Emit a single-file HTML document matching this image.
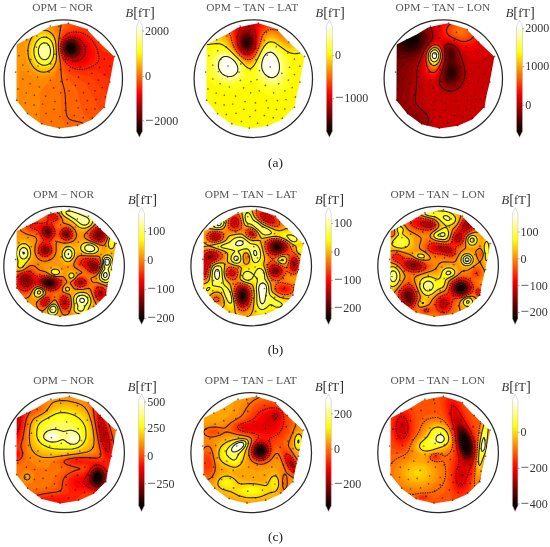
<!DOCTYPE html>
<html><head><meta charset="utf-8"><style>
html,body{margin:0;padding:0;background:#fff;}
svg{display:block;}
.tk{font-family:"Liberation Serif",serif;font-size:12px;fill:#333;}
.bl{font-family:"Liberation Serif",serif;font-size:12.5px;fill:#333;}
.ti{font-family:"Liberation Serif",serif;font-size:11.4px;fill:#555;}
.mn{font-size:15px;}
.br{font-size:14.5px;}
.cap{font-family:"Liberation Serif",serif;font-size:13.5px;fill:#222;}
</style></head><body>
<svg width="550" height="547" viewBox="0 0 550 547">
<defs><filter id="bl" x="-5%" y="-5%" width="110%" height="110%" color-interpolation-filters="sRGB"><feGaussianBlur stdDeviation="0.6"/></filter></defs>
<rect width="550" height="547" fill="#fff"/>
<clipPath id="h0"><polygon points="16.7,44.5 26.4,39.6 36.6,34.5 48.1,27.5 58.9,24.9 68.3,23.3 86.2,28.8 98.8,42 114.4,56.8 109.5,83.2 106.2,97.1 104.6,107 92.2,119.4 77.9,125.8 59.5,128.6 41.5,124.2 27.3,113.8 16.4,100.2"/></clipPath><g clip-path="url(#h0)"><g filter="url(#bl)"><rect x="13.4" y="20.3" width="104" height="111.3" fill="#120000"/><path fill-rule="evenodd" fill="#220000" d="M117.4 131.8l-104 0 0-111.5 104 0zM71.7 52.3l1.7-.9.9-1.1.4-1.5 0-1.5-.7-1.5-1.1-1.2-1.5-.7-1.5 0-1.5.7-1 1.2-.5 1.5 0 1.5.6 1.5 1.4 1.5 1.5.6z"/><path fill-rule="evenodd" fill="#350000" d="M117.4 131.8l-104 0 0-111.5 104 0zM72.6 52.8l1.5-1 1-1.5.4-1.5-.2-2-.9-1.7-1.5-1.3-1.5-.6-2 .2-1.5.8-1.1 1.6-.5 2 .3 2 .8 1.5 1.5 1.2 2 .6z"/><path fill-rule="evenodd" fill="#440000" d="M117.4 131.8l-104 0 0-111.5 104 0zM73.3 53.3l1.6-1.3 1-1.7.3-2-.4-2-1.2-2-1.7-1.3-2-.4-2 .3-1.5 1-1.2 1.9-.4 2 .5 2.5 1.1 1.8 2 1.4 2 .3z"/><path fill-rule="evenodd" fill="#540000" d="M117.4 131.8l-104 0 0-111.5 104 0zM72.5 54.3l2.1-1 1.7-2 .6-2-.2-2.5-.9-2-1.9-1.9-2-.8-2.5 0-2 1.1-1.5 2.1-.5 2 .2 2.5.9 2 1.9 1.8 2 .8z"/><path fill-rule="evenodd" fill="#660000" d="M117.4 131.8l-104 0 0-111.5 104 0zM73.3 54.8l2.5-1.5 1.3-2 .5-2.5-.3-2.5-1.4-2.5-2-1.6-2.5-.8-2.5.3-2 1.3-1.5 2.2-.5 2.6.4 2.5 1.1 2.2 2 1.8 2.5.8z"/><path fill-rule="evenodd" fill="#760000" d="M117.4 131.8l-104 0 0-111.5 104 0zM74.1 55.3l2.3-1.5 1.6-2.5.4-2.5-.6-3-1.5-2.5-2.4-1.8-2.5-.7-2.5.3-2.5 1.7-1.3 2-.6 3 .5 3 1.4 2.5 2.5 1.9 2.5.6z"/><path fill-rule="evenodd" fill="#890000" d="M117.4 131.8l-104 0 0-111.5 104 0zM73.4 56.3l3-1.4 1.8-2.1 1-3-.3-3-1.3-3-2.2-2.2-3-1.3-3 .1-2.5 1.2-2 2.6-.8 3.1.3 3 1.4 3 2.1 2 2.5 1z"/><path fill-rule="evenodd" fill="#980000" d="M117.4 131.8l-104 0 0-111.5 104 0zM74.6 56.8l2.7-1.5 1.9-2.5.9-3-.4-3.5-1.6-3-2.7-2.5-3-1.1-2 0-1.5.3-2.5 1.4-1.2 1.4-.8 1.5-.7 3.5.6 3.5 1.6 2.9 2.5 2 3 .9z"/><path fill-rule="evenodd" fill="#a80000" d="M117.4 131.8l-104 0 0-111.5 104 0zM74.2 57.8l3.2-1.3 1.4-1.2 1.1-1.5 1.1-3.5-.3-3.5-1.6-3.5-2.7-2.7-3.5-1.4-3.5 0-3 1.5-2.1 2.6-1 3.5.4 4 1.7 3.5 2.5 2.3 3 1.2z"/><path fill-rule="evenodd" fill="#ba0000" d="M117.4 131.8l-104 0 0-111.5 104 0zM76.1 58.3l1.8-.8 1.5-1.1 1.3-1.6.8-1.5.6-2 .1-2-.9-4-2.3-3.5-3.1-2.3-2-.8-2-.3-3.5.5-1.5.8-1.5 1.3-1 1.3-1 2-.5 4 .8 4 2.2 3.4 3 2.2 3.5.9z"/><path fill-rule="evenodd" fill="#ca0000" d="M117.4 131.8l-104 0 0-111.5 104 0zM76.8 59.3l2.1-.9 1.5-1.1 2.2-3 .7-2 .2-2-.2-2.5-.6-2-1-2-1.4-2-3.4-2.7-2-.9-2.5-.5-2 .1-2 .5-3.1 2-1.2 1.5-.9 2-.6 2-.1 2.5.9 4.3 1 2 1.3 1.7 3.2 2.3 4 1.1z"/><path fill-rule="evenodd" fill="#dd0000" d="M117.4 131.8l-104 0 0-111.5 104 0zM75.8 60.8l2.4-.5 2.2-1 1.9-1.5 1.2-1.5 1-2 .5-2 .1-2.5-.5-2.5-.9-2.5-1.2-2-1.7-2-1.9-1.6-2-1.1-2.5-.9-2.5-.2-2.5.3-2 .8-1.5.9-1.5 1.6-1.1 1.7-.8 2-.4 2.5.4 4.5 1.9 4.2 3 3.1 2 1.1 2 .8z"/><path fill-rule="evenodd" fill="#ec0000" d="M117.4 131.8l-104 0 0-111.5 104 0zM78.9 61.8l2.5-1 2-1.4 1.5-1.6 1.1-2 .8-2.5.1-2.5-.4-3-.8-2.5-1.5-2.5-1.6-2-2.2-1.9-2.5-1.5-2.5-.9-2.5-.3-2.5.1-2.5.8-2 1.2-1.5 1.4-1.4 2.1-.8 2-.4 2.5-.1 2.5.4 2.5.8 2.5 2.5 3.9 2 1.8 2 1.2 4.5 1.4 2.5.1z"/><path fill-rule="evenodd" fill="#fc0000" d="M117.4 131.8l-104 0 0-111.5 104 0zM78.2 63.8l2.7-.5 2.5-1.1 2.4-1.9 1.5-2 1.2-2.5.6-3-.1-3-.7-3-1.3-3-1.8-2.5-2.3-2.3-2.5-1.7-3-1.3-3-.7-3 0-2.5.6-2 .9-2 1.5-1.5 1.8-1.1 2.2-.8 2.5-.2 2.5.2 3 .6 2.5 1 2.5 1.3 2.1 1.5 1.8 2 1.7 2.5 1.5 2.5.9 2.5.5z"/><path fill-rule="evenodd" fill="#ff1000" d="M117.4 131.8l-104 0 0-111.5 104 0zM79.3 65.8l3.1-.6 3-1.3 2.5-1.9 1.8-2.2 1.4-3 .6-3 0-3-.8-3.5-1.2-3-1.9-3-2.4-2.5-3-2.2-3-1.4-3.5-.9-3.5-.1-3 .5-2.5 1.1-2 1.5-1.7 2-1.3 2.5-.7 2.5-.3 3 .2 3 .7 3 1.1 2.8 1.5 2.5 2 2.3 2 1.6 2.5 1.6 3 1.1 2.5.5z"/><path fill-rule="evenodd" fill="#ff1f00" d="M117.4 131.8l-104 0 0-111.5 104 0zM83.2 67.8l3.7-1.2 3.2-1.8 2.7-2.5 1.6-2.5.9-3 .1-3.5-.7-4-1.2-3.5-1.9-3.5-2.7-3.4-3-2.6-3-1.7-3.5-1.2-4-.6-3.5.2-3.5 1-2.5 1.4-2 1.9-1.7 2.5-1.1 3-.6 3 0 3.5.7 3.5 1.2 3.5 1.5 2.8 2 2.7 2.5 2.4 3 1.9 3 1.3 3 .7 3 .1z"/><path fill-rule="evenodd" fill="#ff3200" d="M117.4 131.8l-104 0 0-111.5 104 0 0 36.4-2-1.4-2-.9-7.5-1.9-2.5-1.2-2.5-2.3-6.1-8.2-4.3-4.5-5.1-3.3-2.5-1.1-3-.7-4-.2-4 .5-3.5 1.1-3 1.9-2.2 2.3-1.8 3.3-1 3.2-.4 4 .2 3 .7 3.4 1 3 1.5 3.1 2 3.1 2 2.4 2.5 2.2 2.5 1.5 4 1.5 4.5.6 4-.2 8.5-1.1 3 .2 3 1.4 6.5 5.4 2 1.1 2 .6 2 .1 2-.3 3.5-1.8z"/><path fill-rule="evenodd" fill="#ff4100" d="M117.4 131.8l-104 0 0-111.5 104 0 0 12.5-4.9 3-5.1 1.8-2.5.3-2-.1-3.5-1.2-9-5.3-5-2-5.5-1-3 0-3 .5-3 .9-3 1.4-2.5 1.8-2 2.1-1.5 2.3-1.3 3-.8 3.5-.2 3.5.7 6 2.1 6.3 3 5.8 3.5 4.1 3 2.2 3.5 1.6 4 1.1 7.5 1.5 4 1.7 3 2.6 6 7.2 3.5 3.4 3.5 2.8 10.5 6.9z"/><path fill-rule="evenodd" fill="#ff5100" d="M104.9 131.8l-91.5 0 0-111.5 86.3 0-2.3 2.3-2.5 1.1-3.5.3-9-.2-4 .4-5.5 1.5-5 2.7-4 3.7-2.8 4.7-1.6 5.5-.3 6 .6 5 1.6 6 2.5 6.9 2.5 4.5 2 2.3 3 2.4 9.3 4.9 3.2 2.1 3 3.3 2.9 4.6 8.7 16.5 4.8 11.5 1.2 3.5.6 3.5.2 3.5z"/><path fill-rule="evenodd" fill="#ff6400" d="M91.9 131.8l-78.5 0 0-111.5 57.6 0-3.6 3.1-2.5 2.8-2 3.2-2 4.7-1.4 5.2-.7 5 0 5 .7 5 3.3 15 1.6 4.6 3 4.5 7.2 7.9 2.8 5 1.7 5.5 2.4 12 1 3 2 3 6.9 6.4 1.9 3.1.5 2-.1 2-.8 2z"/><path fill-rule="evenodd" fill="#ff7300" d="M62.9 131.8l-49.5 0 0-111.5 46.6 0-.4 10.5-1.2 10.5-.2 5.5.3 4.5 1.8 13.5-.1 16 .8 15 .4 16.5.4 4 .6 3 2.6 6 .3 1.5-.6 2-1.5 3zM78.4 128.3l-2.5.1-2-.5-1.1-.6-.1-1 1.2-.8 1.5-.4 3.5.2 1 .5.5 1-.7 1z"/><path fill-rule="evenodd" fill="#ff8600" d="M39.9 131.8l-26.5 0 0-111.5 36.4 0 2.6 2.5 2.4 3 1.6 3.1.9 2.9.5 4.5 0 12 1.2 12.5-.5 6.5-1.6 5.6-2.5 4.5-3.5 3.8-7.4 6.1-1.5 2-1 2.5-.5 3-.3 4.5z"/><path fill-rule="evenodd" fill="#ff9500" d="M18.4 131.8l-5 0 0-111.5 5.6 0 .3 5 .6 3.4.9 2.1 1.1.8 2-.4 9.2-5.4 2.8-1 3-.7 3.5-.1 3 .4 3 1.1 3 1.9 2 1.9 1.4 2 1.7 4.5.4 3.5 1.1 18.5 0 3.5-.4 3-.8 3-1.3 3-1.6 2.3-2 2.1-2 1.4-2.5 1.3-4.5 1-5-.3-3-.8-3-1.3-8.5-5.1-1.6-.1-.8.5-.6 1-1 4-.5 6.5-.1 49z"/><path fill-rule="evenodd" fill="#ffa500" d="M43.9 74.8l-3.5-.3-3.5-1.2-3.2-2-2.9-3-2.4-3.5-1.7-4-1.2-4.5-.4-4.5.2-4.5 1-4.5 1.8-4.5 2.1-3.5 2.7-3 3-2.2 3.5-1.5 3.5-.5 3.5.4 3.5 1.5 2.7 2.3 2.1 3 .9 2.5.6 3.5 1.1 16-.1 3.5-.7 3.5-1.1 2.9-1.5 2.5-2 2.2-2.5 1.8-2.5 1.1z"/><path fill-rule="evenodd" fill="#ffb700" d="M44.9 72.3l-3.5-.2-3-1-2.9-1.8-2.5-2.5-2.1-3-1.5-3.5-1.1-4-.5-4 .2-4 .7-4 1.4-4 2-3.5 2.3-2.7 3-2.3 3-1.3 3-.5 3 .4 3 1.2 2.5 1.9 2 2.8 1 2.5.7 3 1 12 0 4-.4 3-.9 3-1.4 2.7-1.8 2.3-2.2 1.8-2.5 1.2z"/><path fill-rule="evenodd" fill="#ffc700" d="M45.4 70.3l-2.5.1-3-.8-3-1.7-2.2-2.1-2.1-3-1.4-3-1.1-3.5-.4-4 .1-4 .7-3.5 1.2-3.5 1.7-3 2-2.5 2.5-2 2.5-1.2 3-.6 3 .3 2.5.9 2.1 1.6 1.9 2.2 1.1 2.3.9 3 1 9 .1 4-.4 3.5-.7 2.9-1 2.3-1.5 2.3-2 1.9-2.5 1.5z"/><path fill-rule="evenodd" fill="#ffda00" d="M46.9 68.3l-2.5.5-2.5-.3-2.5-1-2.5-1.7-2-2.3-1.7-2.7-1.3-3.5-.7-3.5-.1-3.5.4-3.5 1-3.5 1.4-2.9 1.9-2.6 2.1-2 2.5-1.4 2.5-.7 2.5 0 2 .5 2 1.1 1.8 1.5 1.2 1.6 1.2 2.4 1.3 6 .4 8-.3 3-.8 3-1.2 2.5-1.6 2.2-2 1.7z"/><path fill-rule="evenodd" fill="#ffe900" d="M46.9 66.8l-2.5.4-2.5-.3-2.5-1.1-2-1.5-1.7-2-1.5-2.5-1.1-3-.6-3-.1-3 .3-3.5.8-3 1.4-3 1.8-2.5 2.2-1.9 2-1.1 2.5-.6 2 0 2 .6 2 1.1 1.5 1.3 1.4 2.1.9 2 1.2 5.5.2 7-.4 3-.8 2.5-1 2-1.5 2-2 1.6z"/><path fill-rule="evenodd" fill="#fff900" d="M44.9 65.8l-2.5-.2-2-.8-2-1.4-1.5-1.6-1.3-2-1.1-2.5-.7-2.5-.3-3 .6-5.5.9-2.5 1.4-2.5 1.5-1.8 2-1.6 2-1 2-.3 2 .1 2 .7 2 1.4 1.5 1.8 1.1 2.2.8 2.5.7 6-.4 5.5-.7 2.3-1.1 2.2-1.4 1.9-1.5 1.2-2 1z"/><path fill-rule="evenodd" fill="#ffff13" d="M45.9 64.4l-2 .1-2-.4-2-1.1-1.5-1.3-1.5-1.9-1.2-2.5-1.1-5 .4-5 .8-2.5 1.1-2.2 1.4-1.8 1.6-1.4 2-1.1 2-.4 2 .2 1.5.5 1.5.9 1.5 1.5 2 3.8.9 5-.1 5-1.4 4.5-2.4 3.3-1.5 1z"/><path fill-rule="evenodd" fill="#ffff2a" d="M46.4 62.9l-1.5.3-2-.2-2-.8-1.5-1.2-1.5-1.7-1.1-2-1.1-4.5.2-4.7 1.6-4.3 1.4-1.9 1.5-1.3 1.5-.9 2-.5 3 .5 1.5.8 1.3 1.3 1.8 3 1 4.5 0 5-1.1 3.8-2 2.9-1.5 1.2z"/><path fill-rule="evenodd" fill="#ffff46" d="M45.4 61.8l-3-.3-1.5-.8-1.5-1.4-2-3.5-.8-4 .6-4.5 1.6-3.5 2.6-2.4 1.5-.7 1.5-.2 1.5.2 1.5.6 2.2 2 1.7 3.5.6 4-.3 4-1.4 3.5-2.3 2.5z"/><path fill-rule="evenodd" fill="#ffff5e" d="M45.9 60.4l-1.5.2-1.5-.3-2.4-1.5-1.7-2.5-1.1-3.5.1-3.5 1.1-3.5 2-2.5 1.5-1 1.5-.4 2.5.3 2.2 1.6 1.5 2.5.9 3.5-.1 3.8-1 3.2-1.5 2.1z"/><path fill-rule="evenodd" fill="#ffff75" d="M45.9 58.9l-2.5.1-2-1.2-1.6-2-.9-3 0-3.5 1-2.8 1.8-2.2 2.2-1 2 .2 2 1.3 1.5 2.4.7 2.6 0 3-.7 2.5-1.5 2.4z"/><path fill-rule="evenodd" fill="#ffff91" d="M45.4 57.4l-2-.1-1.6-1-1.3-2-.5-2.5.2-2.5.7-2 1.5-1.7 2-.7 1.5.2 1.5 1.1 1 1.6.7 2.5-.1 2.5-.7 2-1.4 1.9z"/><path fill-rule="evenodd" fill="#ffffa8" d="M45.4 55.5l-1.5 0-1-.6-1-1.4-.5-1.7.2-2 .6-1.5 1-1 1.2-.5 1 .2 1 .6.8 1.2.5 1.5-.3 3-1 1.5z"/></g><path d="M117.4 131.8l-104 0 0-111.5 104 0zM73.4 53.8l1.5-1 1.4-2 .4-2-.4-2.5-1.1-2-1.8-1.5-2.5-.7-2 .4-1.9 1.3-1.1 1.8-.4 2.2.4 2.5 1.2 2 1.8 1.4 2 .5z" fill="none" stroke="#1c1c1c" stroke-width="1.05" stroke-dasharray="1.4 1"/><path d="M117.4 131.8l-104 0 0-111.5 104 0zM74.5 56.8l1.4-.6 1.4-.9 1-1 .9-1.5.8-3 0-1.5-.4-2-1.5-3-1.2-1.3-1.5-1.2-1.5-.7-1.5-.4-2 0-1.5.3-2.5 1.4-1.2 1.4-.8 1.5-.5 1.5-.2 2 .2 2 .4 1.5 1.6 2.9 1 1 1.5 1 1.5.6 1.5.3 1.5 0z" fill="none" stroke="#1c1c1c" stroke-width="1.05" stroke-dasharray="1.4 1"/><path d="M117.4 131.8l-104 0 0-111.5 104 0zM77.8 60.8l2.1-.8 2-1.3 1.8-1.9 1.1-2 .5-2 .2-2.5-.3-2.5-.9-2.5-1.1-2-1.8-2.3-1.9-1.7-2.1-1.2-2.5-1-2.5-.3-2.5.2-2 .6-2 1.2-1.5 1.5-1 1.6-.8 1.9-.5 2-.1 2.5.3 2.5.8 2.5 1 2 1.3 1.7 1.5 1.4 2 1.3 2 .9 2.5.5 2.5 0z" fill="none" stroke="#1c1c1c" stroke-width="1.05" stroke-dasharray="1.4 1"/><path d="M117.4 131.8l-104 0 0-111.5 104 0zM83.8 69.3l4.6-1.2 4.1-1.8 3.2-2 2.4-2.5.9-2.5.1-2.5-.8-4-1.5-4.5-2.3-4.5-2.8-4-3-3-3.6-2.5-4.2-1.7-4-.6-4 .1-4 1-2.5 1.4-2.5 2.1-1.5 2.2-1.3 3-.7 3.5-.1 3.5.6 3.9 1.2 3.6 1.8 3.6 2 2.7 2.5 2.5 2.5 1.9 3 1.4 3 .9 3.5.3z" fill="none" stroke="#1c1c1c" stroke-width="1.05" stroke-dasharray="1.4 1"/><path d="M77.9 131.8l-64.5 0 0-111.5 48.8 0-1.2 5-2.2 14-.4 4.5 0 4 .4 4.5 1.7 11 1 14 .7 4 2.1 8 .8 4.5 1.1 19 .4 2 .8 2 1 1.5 1.2 1 2.8 1.2 6 1.2 3 .9 2.1 1.2 1.5 1.5.3 1 0 1-.4 1-.8 1-2.7 1.6z" fill="none" stroke="#1c1c1c" stroke-width="1.05"/><path d="M46.9 71.8l-3 .5-3.5-.5-3-1.3-2.9-2.2-2.1-2.5-2.1-3.5-1.5-4-.7-4-.2-4.5.5-4 1.2-4 1.6-3.5 2.2-3 3-2.7 3-1.6 3-.8 2.5 0 2.5.6 2.5 1.2 2 1.7 1.5 1.9 1.1 2.2.9 3 .5 3.5.7 12-.3 3.5-.7 3-1.4 3-1.8 2.5-2.5 2.2z" fill="none" stroke="#1c1c1c" stroke-width="1.05"/><path d="M45.4 65.3l-2.5 0-2-.7-2-1.3-1.5-1.5-1.4-2-1.1-2.4-.7-2.6-.3-2.5 0-3 .5-2.5.8-2.5 1.3-2.5 1.6-2 1.8-1.4 2-1 2-.4 2 .2 2 .7 1.5 1 1.5 1.6 1.1 1.8.9 2.4.9 5.6 0 3-.4 3-.5 2-1 2.3-1.5 2-1.5 1.4-1.5.8z" fill="none" stroke="#1c1c1c" stroke-width="1.05"/><path d="M46.4 59.4l-1 .3-1.5 0-1.3-.4-1.2-.7-1-1-1-1.6-1-3.2 0-3.5 1-3 1-1.5 1-1 1-.6 1.5-.5 2 .2 1 .4 1.2 1 1.4 2 .9 3 .1 3-.6 3-1.5 2.6z" fill="none" stroke="#1c1c1c" stroke-width="1.05"/></g><path d="M68.5 23.1h.01M50.3 26.1h.01M60 30.1h.01M87.3 29.5h.01M36.9 36h.01M46.6 37.1h.01M60 38.1h.01M74.4 40.3h.01M48.2 45.1h.01M65.9 48.3h.01M36.4 47.2h.01M86.2 46.7h.01M55.1 54.2h.01M77.2 55.1h.01M65.9 59.6h.01M50.8 63.9h.01M38 66h.01M60.4 69.6h.01M69.5 70.6h.01M98.8 42h.01M22.9 79h.01M30.1 83.7h.01M39.4 87h.01M50.4 80.4h.01M61 81.5h.01M67 79.6h.01M18 88.9h.01M26.2 93h.01M34.3 95.2h.01M45.6 96.1h.01M53.6 87.8h.01M60.7 92.8h.01M69.2 90.8h.01M16.6 100.2h.01M25.4 102.9h.01M34.1 104.9h.01M42.7 104h.01M55 101.6h.01M65.4 102.9h.01M27.5 113.6h.01M36.3 114.4h.01M46 113.3h.01M53.9 109.3h.01M65.4 110.4h.01M59.9 116.6h.01M51.4 121.5h.01M41.8 123.7h.01M67.6 123.2h.01M59.3 128.1h.01M78.6 77.1h.01M91.8 73.3h.01M104.4 74.6h.01M75.4 85.4h.01M88.7 83.7h.01M98.4 80.1h.01M109.9 82.1h.01M102.2 87.5h.01M83.6 92.8h.01M94.9 90.8h.01M105.5 96.9h.01M76.4 100.7h.01M87.4 100.7h.01M96 99.6h.01M78.1 107.8h.01M86.5 109.5h.01M94.9 108.9h.01M104.4 107.3h.01M74.3 115.5h.01M83.2 117.7h.01M92.3 118.2h.01M77.5 125.4h.01M76.4 32.3h.01M97.8 53.1h.01M104.4 59.1h.01M109.9 66.2h.01M99.5 67.3h.01M114.6 56.4h.01M80.3 66.8h.01M26.6 39.7h.01M27.7 50.7h.01M18.9 55.6h.01M31 59.5h.01M22.8 65h.01M15.6 72.1h.01M28.3 71.5h.01M49.1 72.1h.01M37.6 77h.01M59 26.6h.01" stroke="#000" stroke-width="1.7" stroke-linecap="round" stroke-opacity=".55" fill="none"/><ellipse cx="63.3" cy="78.7" rx="59.2" ry="58.8" fill="none" stroke="#2a2a2a" stroke-width="1.25"/><linearGradient id="cg0" x1="0" y1="26" x2="0" y2="131.3" gradientUnits="userSpaceOnUse"><stop offset="0%" stop-color="#ffffff"/><stop offset="5%" stop-color="#ffffd0"/><stop offset="10%" stop-color="#ffff9d"/><stop offset="15%" stop-color="#ffff69"/><stop offset="20%" stop-color="#ffff36"/><stop offset="25%" stop-color="#ffff07"/><stop offset="30%" stop-color="#ffe100"/><stop offset="35%" stop-color="#ffbf00"/><stop offset="40%" stop-color="#ff9d00"/><stop offset="45%" stop-color="#ff7b00"/><stop offset="50%" stop-color="#ff5c00"/><stop offset="55%" stop-color="#ff3a00"/><stop offset="60%" stop-color="#ff1700"/><stop offset="65%" stop-color="#f40000"/><stop offset="70%" stop-color="#d20000"/><stop offset="75%" stop-color="#b30000"/><stop offset="80%" stop-color="#900000"/><stop offset="85%" stop-color="#6e0000"/><stop offset="90%" stop-color="#4c0000"/><stop offset="95%" stop-color="#2a0000"/><stop offset="100%" stop-color="#0b0000"/></linearGradient><path d="M136.4 26L139.4 20L142.4 26L142.4 131.3L139.4 137.3L136.4 131.3Z" fill="url(#cg0)" stroke="#bbb" stroke-width="0.5"/><path d="M142.4 31h1.6" stroke="#666" stroke-width="0.6"/><text x="145.1" y="34.7" class="tk">2000</text><path d="M142.4 76.6h1.6" stroke="#666" stroke-width="0.6"/><text x="145.1" y="80.3" class="tk">0</text><path d="M142.4 120.8h1.6" stroke="#666" stroke-width="0.6"/><text x="145.1" y="124.5" class="tk"><tspan class="mn">−</tspan><tspan dx="0.8">2000</tspan></text><text x="125.6" y="16.8" class="bl"><tspan font-style="italic">B</tspan><tspan class="br">[</tspan>fT<tspan class="br">]</tspan></text><text x="62.8" y="11.2" class="ti" text-anchor="middle">OPM − NOR</text><clipPath id="h1"><polygon points="206.7,44.5 216.4,39.6 226.6,34.5 238.1,27.5 248.9,24.9 258.3,23.3 276.2,28.8 288.8,42 304.4,56.8 299.5,83.2 296.2,97.1 294.6,107 282.2,119.4 267.9,125.8 249.5,128.6 231.5,124.2 217.3,113.8 206.4,100.2"/></clipPath><g clip-path="url(#h1)"><g filter="url(#bl)"><rect x="203.4" y="20.3" width="104" height="111.3" fill="#220000"/><path fill-rule="evenodd" fill="#350000" d="M307.9 131.8l-104.5 0 0-111.5 104.5 0zM247.1 44.3l.6-.5.3-1-.3-1-.8-.5-.7.5-.4 1 .3 1z"/><path fill-rule="evenodd" fill="#440000" d="M307.9 131.8l-104.5 0 0-111.5 104.5 0zM248 46.3l.9-.8.6-1.2.2-1.5-.2-1.5-1.1-2-1-.5-1 0-1 .6-1 1.4-.3 1.5.1 1.5.6 1.5 1.1 1 1 .3z"/><path fill-rule="evenodd" fill="#540000" d="M307.9 131.8l-104.5 0 0-111.5 104.5 0zM247.8 47.8l1.1-.6 1.1-1.4.6-2 .1-2-.5-2-.8-1.5-1-.8-1.5-.4-1.5.4-1.5 1.6-.8 2.2 0 2 .5 2 1.3 1.8 1.5.8z"/><path fill-rule="evenodd" fill="#660000" d="M307.9 131.8l-104.5 0 0-111.5 104.5 0zM248.1 48.8l1.5-1 1.3-2 .6-2.5 0-2.5-.6-2-1.3-2-1.7-1.1-1.5-.1-2 1.1-1.2 1.6-.9 2.5-.1 2.5.7 2.5 1.5 2.1 2 1z"/><path fill-rule="evenodd" fill="#760000" d="M307.9 131.8l-104.5 0 0-111.5 104.5 0zM247.9 49.8l2-1.1 1.3-1.9.9-2.5.2-3-.6-3-1.3-2.3-1.5-1.3-2-.5-2 .6-2 2-1.2 3-.3 3 .7 3 1.6 2.5 2.2 1.4z"/><path fill-rule="evenodd" fill="#890000" d="M307.9 131.8l-104.5 0 0-111.5 104.5 0zM248.9 50.3l1.9-1.5 1.4-2.5.7-3-.1-3.5-.9-3.1-1.5-2.3-2-1.4-2-.2-2.5 1.3-2 2.6-1.1 3.6 0 3.5 1.1 3.2 2 2.5 2.5 1.2z"/><path fill-rule="evenodd" fill="#980000" d="M307.9 131.8l-104.5 0 0-111.5 104.5 0zM248.4 51.3l2.4-1.5 1.6-2.5 1-3.5.2-3.5-.8-3.5-1.4-2.9-2-1.9-2.5-.7-2.5.8-1.5 1.4-1 1.4-1.6 3.9-.3 4 .9 3.5 2 3.1 2.5 1.7 1.5.4z"/><path fill-rule="evenodd" fill="#a80000" d="M307.9 131.8l-104.5 0 0-111.5 104.5 0zM249.1 51.8l2.3-1.8 1.6-2.7 1.1-4 0-4-.9-4-1.8-3.2-2.5-2.1-2.5-.3-1.5.5-1.5 1-2.2 3.1-1.6 4.5-.1 4.5 1.2 4 2.2 3 1.5 1.1 1.5.6 1.5.2z"/><path fill-rule="evenodd" fill="#ba0000" d="M307.9 131.8l-104.5 0 0-111.5 104.5 0zM248.2 52.8l1.2-.4 1.5-1 2.2-3.1 1.4-4 .3-4.5-.9-4.9-1.9-4.1-1.1-1.3-1.5-1.2-2.5-.6-1.5.3-1.5.9-1.5 1.5-1.3 1.9-1.9 5-.4 5 .8 4 2.3 3.7 3 2.3 1.5.5z"/><path fill-rule="evenodd" fill="#ca0000" d="M307.9 131.8l-104.5 0 0-111.5 104.5 0zM248.9 53.3l1.5-.7 1.4-1.3 2.1-3.4 1.3-4.6.1-4.5-.9-5.2-2-4.7-1-1.3-1.5-1.3-1.5-.7-1.5-.1-2 .5-1.5.9-2.5 3.4-1.3 3-.9 3-.5 3 0 3 1.1 4.5 1.1 2.1 1.5 1.9 1.7 1.5 1.8.9 2 .4z"/><path fill-rule="evenodd" fill="#dd0000" d="M307.9 131.8l-104.5 0 0-111.5 104.5 0zM249.4 53.8l1.5-.9 1.5-1.5 2.3-4.1 1.1-5 0-5.5-1.4-6.7-2-4.5-1-1.1-1.5-1-1.5-.5-2-.1-2 .6-1.5.9-1.5 1.8-1 1.9-1.4 3.7-1 4-.5 3.5.1 3 .4 2.5.9 2.5 1.5 2.5 1.5 1.8 2 1.5 2 .9 2 .2z"/><path fill-rule="evenodd" fill="#ec0000" d="M307.9 131.8l-104.5 0 0-111.5 104.5 0zM248.2 54.8l1.7-.5 1.5-1 1.5-1.6 1.4-2.4 1.8-5.5.4-6-1.2-10-1.4-4.4-1-1.2-1.5-1-2-.7-2.5-.2-2.5.4-2 .8-1.5 1.2-1 1.6-1 3.1-1.3 6.4-.7 7 .3 3 .7 2.5 2.5 4.3 2 2.1 2 1.3 2 .7z"/><path fill-rule="evenodd" fill="#fc0000" d="M307.9 131.8l-104.5 0 0-111.5 35.7 0-1.2 1.5-.5 2-1.1 15 .5 5.5 1.5 4 2.6 3.7 3.5 2.7 3 .8 1.5-.2 1.5-.6 2.5-2.2 2.2-3.7 1.4-4.5.7-6-.4-14.5-.4-2-1.2-1.5 52.7 0z"/><path fill-rule="evenodd" fill="#ff1000" d="M307.9 131.8l-104.5 0 0-111.5 31.1 0-.2 2 1.1 4.5.4 3-.1 11.5 1.1 5 2.1 3.9 2.7 3.1 3.3 2.2 3 .6 2.5-.7 2.1-1.6 2.1-3 1.7-4 1.3-6 .5-11.5 1.9-7-.1-2 48 0z"/><path fill-rule="evenodd" fill="#ff1f00" d="M307.9 131.8l-104.5 0 0-111.5 25 0 4 4.6 1.7 3.4.6 3.5.5 10.5.7 3 1.3 3 2.3 3.5 2.9 2.8 3 1.7 2.5.4 2-.4 2-1.2 2-2.3 1.5-2.5 1.4-3.5.9-3.5 1.3-11.5.8-3.5 2.1-3.7 4.5-4.3 41.5 0z"/><path fill-rule="evenodd" fill="#ff3200" d="M307.9 131.8l-104.5 0 0-110.9 13 .8 5.5.6 4.5 1.2 3.5 2 2.1 2.3 1.3 3 1.4 12 .8 3 1.4 3 2.4 3.5 3.1 2.9 3 1.7 2.5.5 2-.4 2-1.2 1.9-2 1.6-2.6 1.5-3.4 1.2-4 1.6-10.5.7-2.7 1.8-3.3 2.7-2.3 3-1.4 3.5-.6 4.5-.2 10 .9 4 .1 18-2.9z"/><path fill-rule="evenodd" fill="#ff4100" d="M307.9 131.8l-104.5 0 0-108.1 18 .9 4.5 1 3.5 1.9 1.7 1.8 1.2 2.5 1.8 11.5 1 3 1.5 3 2.6 3.5 3.2 3 3 1.7 2.5.5 2-.3 2-1.1 1.7-1.8 1.8-2.6 1.6-3.4 1.2-3.5 2.2-10.8.8-2.7 1.7-2.9 2.5-2.1 3.5-1.3 4.5-.4 4.5.3 8.5 1.3 4 .1 17.5-2.9z"/><path fill-rule="evenodd" fill="#ff5100" d="M307.9 131.8l-104.5 0 0-106.2 17.5.7 4.5 1 3 1.5 2 2 1 2 2.2 11 1.1 3 1.6 3 2.7 3.5 3.4 3.1 3 1.8 2.5.5 2-.3 2-1.1 2-2 1.5-2.2 1.7-3.3 1.5-4 3.3-12.8 1.7-2.7 2.3-1.9 3.5-1.2 4.5-.3 4.5.6 8.5 1.9 3 .2 3-.5 8.5-2.2 6.5-1z"/><path fill-rule="evenodd" fill="#ff6400" d="M307.9 131.8l-104.5 0 0-104.6 17 .6 4.5 1 2.9 1.5 1.6 1.6 1.1 1.9 2.6 10.5 1.2 3 1.8 3 2.8 3.5 3.5 3.2 3 1.8 2.5.6 2-.3 2-1 1.8-1.8 1.7-2.3 1.7-3.2 1.6-4 3.7-12.4 1.6-2.6 2.4-1.9 4-1.2 4.5 0 4.5 1 7.5 2.6 3 .3 2.5-.5 8.5-3.2 7-1.3z"/><path fill-rule="evenodd" fill="#ff7300" d="M307.9 131.8l-104.5 0 0-103.2 16.5.6 4 .8 3 1.5 1.5 1.4 1.2 1.9 3.2 10.5 1.5 3 1.9 3 3.2 3.7 3.5 3 3 1.6 2.5.5 2-.4 1.5-.8 1.7-1.6 1.8-2.4 3.3-6.6 4.2-12.6 1.5-2.5 2.5-2 2-.7 2-.4 4.5.3 4.4 1.4 7.1 3.5 3 .4 3-.8 8.2-4.1 6.8-1.6z"/><path fill-rule="evenodd" fill="#ff8600" d="M307.9 131.8l-104.5 0 0-101.7 16 .5 3.5.7 3 1.3 1.5 1.3 1.3 1.9 3.9 10.5 1.6 3 2.2 3 3.2 3.5 3.3 2.8 3 1.7 2.5.5 2-.3 1.5-.8 1.6-1.4 1.9-2.5 3.3-6.5 4.7-12.5 1.7-2.5 2.3-1.8 3.5-.9 4.5.5 4 1.5 6.5 3.9 2 .7 2 .2 3.5-.9 8.5-5 6-1.7z"/><path fill-rule="evenodd" fill="#ff9500" d="M307.9 131.8l-104.5 0 0-100.3 15.5.5 3.8.8 2.7 1.3 1.5 1.4 1 1.4 4.2 9.9 4.1 6 3.3 3.5 3.4 3 3 1.8 2.5.5 2-.3 1.5-.8 3-3.1 3.7-6.6 5.3-12.9 1.9-2.6 2.1-1.4 3.5-.8 4 .6 3 1.4 7 4.5 2 .7 2.5.3 2-.2 2-.7 8.5-5.4 5.5-1.9z"/><path fill-rule="evenodd" fill="#ffa500" d="M307.9 131.8l-104.5 0 0-98.8 14.5.4 4 .8 2.5 1.2 2.5 2.5 4.7 9.4 2.4 3.5 2.9 3.5 3.5 3.5 3.5 2.9 2.5 1.3 2.5.5 1.5-.3 1.5-.8 3-3 3.5-6.1 5.5-12.6 2-2.8 2-1.5 3-.8 3.5.5 3 1.3 8 5.2 2.5.8 2.5.2 2.1-.3 2.4-.9 8-5.2 5-2.1z"/><path fill-rule="evenodd" fill="#ffb700" d="M307.9 131.8l-104.5 0 0-97.2 14 .4 3.5.7 2.6 1.1 2.7 2.5 5.7 9.5 6 7.2 3.5 3.4 3 2.4 2.5 1.2 2 .4 1.5-.2 1.5-.8 3-3.1 3-5.1 6.5-13.6 2-2.5 2-1.4 3-.6 3 .6 3 1.5 7.5 5 3 1 2.5.3 2.5-.3 3-1.1 8-5.2 4-1.8z"/><path fill-rule="evenodd" fill="#ffc700" d="M307.9 131.8l-104.5 0 0-95.4 13.5.4 3.5.6 2.5 1.1 2.5 2.2 6.8 9.6 7.2 7.9 5.5 4.7 2 1.1 2 .4 1.5-.2 1.5-.7 2.5-2.4 3-4.9 7-14 2-2.6 2-1.4 2.5-.6 3 .5 3 1.5 8 5.3 3 1.1 3 .4 3-.4 3-1.1 8-5.1 3-1.5z"/><path fill-rule="evenodd" fill="#ffda00" d="M307.9 131.8l-104.5 0 0-93.2 13 .2 3.5.6 2.5 1.1 3 2.5 7.8 9.3 8.7 9 4 3.2 2 .9 1.5.2 2.5-.8 2.5-2.5 2.5-4.1 7.5-14.5 2-2.5 2.5-1.7 2.5-.4 2.5.6 2.5 1.3 8.5 5.7 3 1.2 3 .5 3.5-.3 3.5-1.2 10-5.9z"/><path fill-rule="evenodd" fill="#ffe900" d="M307.9 131.8l-104.5 0 0-90.3 13-.2 3.5.5 2.5 1.1 4.5 3.6 17 17.5 3 2.2 2.5.8 1 0 1.5-.7 2-2 2.5-4 7.5-14.5 2.5-3.2 2.5-1.6 2.5-.4 2.5.6 2.5 1.4 9 6.2 3.5 1.5 3 .6 3.5-.2 3.5-1.1 9-5z"/><path fill-rule="evenodd" fill="#fff900" d="M307.9 131.8l-104.5 0 0-85.4 13-2.2 3.5.2 3 1 3.5 2.2 4 3.5 15.5 15.9 2 1.4 2 .6 2-.7 2-2.2 10-19 2.5-3.1 2.5-1.6 2.5-.4 3 .9 3 1.9 9.5 7 3.5 1.9 3 1 3 .3 3-.5 4-1.4 4.5-2.3z"/><path fill-rule="evenodd" fill="#ffff13" d="M278.4 96.8l-3 .3-3.5-.5-3.5-1.1-3-1.5-5-3.6-7.5-7.9-2-1.3-1.5.4-5 4.2-3.5 2.2-3.5 1.5-3.5.9-4 .3-4.5-.3-4.5-1.2-4-1.9-4-2.9-3.4-3.6-2.3-3.5-1.9-4.5-1-5-.1-4.5.9-4.5 1.7-4 1.3-2 1.9-2 2.4-1.8 2.4-1.2 2.1-.7 2.5-.3 2.5.2 2 .6 4 2.4 5 4.2 6.8 7.1 8.2 9.9 1.5 1.3 1 .3 1.5-.9 1.5-2.3 8-17 2-3.5 2-2.8 2-1.8 2.5-1.1 2.5.2 3 1.3 3.3 2.4 5.1 4.5 3.6 3.5 2.5 3 1.2 2 1.2 3 .8 3.5.4 3.5-.1 5-.7 5-1.1 4-1.8 4-2.1 3-2.8 2.7-3 1.8z"/><path fill-rule="evenodd" fill="#ffff2a" d="M276.4 90.9l-3 .1-3.5-.7-3-1.3-3.5-2.3-3-2.7-2.6-3.2-2-3.5-.8-3 0-3.5 1-4 2.4-6.5 3-6.5 2.5-4.3 2-2.5 2-1.6 2-.6 2.5.2 3 1.4 3.5 2.7 3.7 3.7 2.4 3 1.8 3 1.3 3.5.7 3.5.4 4.5-.3 4.5-.8 4-1.5 4-1.8 3-2.4 2.4-3 1.9zM233.9 85.8l-3.5.5-3.5-.2-3-.6-3.5-1.4-3-1.8-2.5-2.1-2.5-2.9-1.7-3-1.3-3.5-.7-3.5-.1-3.5.6-3.5 1.2-3.5 1.9-3 2.1-2.2 2.8-1.8 2.7-.8 3 0 3 1 3.5 2.1 4.5 3.8 4.6 4.9 3.6 4.5 2.7 4.5.9 2.5.2 2.5-.4 2-1.2 2.5-1.9 2.2-2.5 1.9-3 1.5z"/><path fill-rule="evenodd" fill="#ffff46" d="M276.4 87.3l-3 .3-3-.5-3-1.2-3-1.8-2.6-2.3-2.4-3-1.7-3-.9-3-.1-3 .6-4 1.6-5 2.3-5.5 2.2-3.9 2-2.7 2-1.8 2.5-.9 2.5.3 2.2 1 2.8 2 3 3 2.3 3 1.6 3 1.2 3 .8 3.5.4 4-.1 4-.7 3.5-1.1 3.5-1.4 2.5-2 2.3-2.5 1.8zM233.4 83.4l-3 .4-3-.2-3-.6-3-1.2-2.5-1.5-2.5-2.1-2-2.4-1.7-3-1-3-.5-3 0-3.5.6-3 1.1-3 1.6-2.5 2-2 2.4-1.5 2.5-.7 2.5 0 3 1 3 1.7 3.5 2.9 4 4.1 3.1 4 2.3 4 .8 2.5.3 2-.4 2.5-1 2-1.5 2-2.1 1.7-2.5 1.4z"/><path fill-rule="evenodd" fill="#ffff5e" d="M275.4 84.8l-2.5.2-2.5-.4-3-1.1-2.5-1.6-2.5-2.3-2.2-2.8-1.3-2.6-.8-2.9-.2-3 .5-3.5 1.1-4 1.9-4.6 2-3.7 2-2.7 2-1.7 2-.8 2 0 2.5.9 2.5 1.8 2.3 2.3 2.3 3 1.6 3 1.2 3 .7 3.5.3 3.5-.1 3.5-.6 3.5-1.1 3-1.5 2.5-1.6 1.7-2 1.4zM230.9 81.8l-2.5.1-3-.5-2.5-.9-2.5-1.4-2.2-1.8-1.8-2-1.6-2.5-1-2.5-.6-2.5-.2-3 .3-3 .8-2.5 1.3-2.5 1.6-2 1.9-1.6 2-.9 2.5-.4 2.5.4 2.5 1 3 1.9 3.5 3.1 3.1 3.5 2.3 3.5 1.4 3 .6 2.5 0 2-.6 2-1.3 2.3-1.7 1.7-2.3 1.5-2.5 1z"/><path fill-rule="evenodd" fill="#ffff75" d="M273.9 82.8l-2.5 0-2.5-.7-2.5-1.3-2-1.5-2-2.1-1.6-2.4-1.1-2.5-.7-3 0-3 .6-3.5 1.3-4 1.5-3.3 1.6-2.7 1.9-2.3 2-1.5 2-.5 2 .2 2 .9 2.3 1.7 2.3 2.5 1.7 2.5 1.4 3 1.5 6 .2 3.5-.2 3-.7 3-1 2.5-1.3 2-1.7 1.7-2 1.2zM230.4 80.3l-2.5-.1-2.5-.5-2.5-.9-2-1.2-3.3-3.3-1.3-2-1.1-2.5-.5-2.5-.2-2.5.3-2.5.8-2.5 1-2 1.5-2 1.8-1.4 2-.9 2.5-.4 2.5.5 2.5 1.1 2.5 1.7 2.7 2.4 2.6 3 2.1 3 1.3 3 .5 2.5-.1 2-.7 2-1.3 2-1.6 1.5-2 1.2-2.5.9z"/><path fill-rule="evenodd" fill="#ffff91" d="M273.9 80.9l-2 .1-2.5-.5-2.5-1.2-2-1.5-1.9-2-1.3-2-1.1-2.5-.6-2.5-.1-2.5.4-3 .7-3 1.4-3.5 1.5-2.6 2-2.5 1.5-1.2 2-.8 2 .1 2 .8 2 1.5 1.6 1.7 1.8 2.5 1.3 2.5 1 3 .6 3 .3 3-.2 3-1.4 4.8-1.4 2.2-1.5 1.5-1.6 1zM231.4 78.8l-4.5-.1-4-1.5-3.6-2.9-1.4-2-1-2-1-4.5.6-4.5.8-2 1.4-2 1.5-1.5 1.8-1 2.1-.5 2.3.1 2 .7 2.5 1.3 2.5 2 2.5 2.7 2 2.7 1.3 2.5.6 2 .2 2-.3 2-.9 2-1.2 1.5-1.7 1.4-2 1z"/><path fill-rule="evenodd" fill="#ffffa8" d="M274.4 78.9l-2 .4-2-.2-2-.7-2-1.2-2-1.8-1.5-2-1.1-2.1-.8-2.5-.2-2.5.2-3 .7-3 1.2-2.9 1.5-2.7 1.5-1.8 1.5-1.2 2-.8 1.5.1 2 .7 3.1 2.6 2.9 4.5 1.5 5 .2 5.5-1.1 4.5-2.1 3.3-1.5 1.2zM231.9 77.4l-4 .2-4-1.3-3.3-2.5-2.4-3.5-1-4 0-2.5.5-2 1.8-3.5 1.4-1.4 1.5-.9 2-.6 2 0 2 .5 2 1 2.5 1.9 2 2 3 4.5.7 2 .3 2-.2 2-.5 1.5-1 1.5-1.6 1.5-1.7 1z"/><path fill-rule="evenodd" fill="#ffffc4" d="M273.4 77.4l-1.5.2-2-.3-2-.8-1.7-1.2-2.8-3.3-1-2.1-.6-2.1-.2-2.5.3-2.5 1.6-5 1.4-2.5 1.5-1.7 1.5-1 1.5-.4 1.5 0 1.5.6 3 2.4 2.5 4.1 1.3 4.5.2 5-1 4-2 3-1.5 1.1zM230.9 76.4l-3.5-.1-3.5-1.3-3-2.6-1.8-3.1-.8-4 .6-3.5 1.8-3 2.7-2 1.5-.4 2 .1 2 .5 2 1.1 2 1.5 2 2.2 2.4 4 .6 3.5-.4 2-.6 1.4-1 1.2-1.5 1.2z"/><path fill-rule="evenodd" fill="#ffffdc" d="M272.9 75.8l-1.5.2-2-.4-3-1.8-2.5-3.2-1.2-3.8.1-4.5 1.5-4.5 2.3-3 1.3-.9 1.5-.5 1.5.1 1.5.7 2.4 2.1 2.1 3.5 1.2 4 .1 4.5-.9 3.5-1.9 2.7zM231.9 74.9l-3 .4-3.5-.9-3-2.1-1.8-2.5-1-3 .1-3.5 1.3-3 2.4-2.2 1.5-.5 1.5-.2 1.5.2 2 .8 3.2 2.4 2.7 3.5 1.1 3.5-.4 3-1.7 2.5z"/><path fill-rule="evenodd" fill="#fffff3" d="M271.4 74.3l-2.5-.5-2.7-2-1.8-2.7-.9-3.3.2-3.5 1.2-3.7 2-2.7 1-.7 1.5-.4 2.5.5 2.5 2.3 1.7 3.2 1 4-.1 3.5-1.1 3.1-2 2.2zM231.4 73.8l-3 .2-3-.9-2.4-1.8-1.6-2.5-.7-3 .4-3 1.3-2.3 2-1.5 2.5-.5 3 .8 3 2.3 2.2 3.2.8 3-.4 2.5-1.6 2.2z"/></g><path d="M307.9 131.8l-104.5 0 0-111.5 104.5 0zM248.4 47.8l1.5-1.4.7-1.6.3-2-.1-2-.8-2-1.1-1.4-1-.5-1.5-.1-1.5.7-1.4 1.8-.6 2 0 2.5.7 2 1.3 1.6 1 .6 1 .2z" fill="none" stroke="#1c1c1c" stroke-width="1.05" stroke-dasharray="1.4 1"/><path d="M307.9 131.8l-104.5 0 0-111.5 104.5 0zM248.8 54.3l1.6-.7 1.5-1.2 1.5-2 1.1-2.1.8-2.5.6-2.5.3-3-.1-3-.4-3.5-.8-3.8-1-3.4-.9-1.8-1.1-1.3-1.5-1-2-.6-2-.1-2 .5-1.5.7-1.5 1.5-1 1.8-1.3 3.5-1.2 5-.6 3.5 0 3.5.4 2.5.8 2.5 1.3 2.5 1.5 2 1.7 1.5 1.9 1.1 2 .5z" fill="none" stroke="#1c1c1c" stroke-width="1.05" stroke-dasharray="1.4 1"/><path d="M307.9 131.8l-104.5 0 0-103.7 11 .2 5.5.3 4 .8 3 1.4 1.7 1.5 1.3 2 .9 2.5 1.3 5.5 1 3 1.4 3 2 3 3 3.5 3.4 3 3 1.6 2.5.4 2-.4 1.5-.9 1.8-1.7 1.7-2.3 1.8-3.2 1.5-3.5 3.2-10.5 1-2.5 1.7-2.5 2.3-1.7 2-.7 2-.4 4.5.3 4.5 1.2 7 3.1 3 .4 3-.8 5-2.4 3-1.2 3.5-.9 3.5-.7z" fill="none" stroke="#1c1c1c" stroke-width="1.05" stroke-dasharray="1.4 1"/><path d="M307.9 131.8l-104.5 0 0-86.7 13-1.6 3.5.3 3 1.1 3 2 4 3.5 15.5 15.8 2.5 1.8 2 .5 1-.2 1-.5 2-2.1 2-3.4 5.5-11.1 2.5-4.4 2.5-3.1 2.5-1.6 2.5-.3 3 .8 2.5 1.5 9.5 6.9 3.5 1.8 3 .8 3 .2 3.5-.7 3.5-1.4 5-2.6z" fill="none" stroke="#1c1c1c" stroke-width="1.05"/><path d="M273.9 77.3l-1.5.3-2-.1-2-.7-2-1.3-1.5-1.4-1.4-1.8-1-2-.6-2-.3-2.5.2-2.5.5-2.5.9-2.5 1.2-2.2 1.5-2 1.5-1.2 1.5-.7 1.5-.1 1.5.4 1.5.8 1.6 1.5 1.4 1.7 1.3 2.3 1.5 4.5.3 4.5-.3 2.5-.5 2-.8 1.6-1 1.4-1.5 1.3zM230.9 76.4l-3.5-.1-2-.6-1.5-.7-1.6-1.2-1.4-1.4-1.8-3.1-.6-2-.2-2 .6-3.5.7-1.5 1-1.5 1.3-1.1 1.5-.9 1.5-.4 2 0 2 .6 2 1.1 2 1.5 2 2.1 1.4 2.1 1 2 .5 2 .1 1.5-.3 2-.7 1.4-1 1.2-1.5 1.2-1.5.8z" fill="none" stroke="#1c1c1c" stroke-width="1.05"/></g><path d="M258.5 23.1h.01M240.3 26.1h.01M250 30.1h.01M277.3 29.5h.01M226.9 36h.01M236.6 37.1h.01M250 38.1h.01M264.4 40.3h.01M238.2 45.1h.01M255.9 48.3h.01M226.4 47.2h.01M276.2 46.7h.01M245.1 54.2h.01M267.2 55.1h.01M255.9 59.6h.01M240.8 63.9h.01M228 66h.01M250.4 69.6h.01M259.5 70.6h.01M288.8 42h.01M212.9 79h.01M220.1 83.7h.01M229.4 87h.01M240.4 80.4h.01M251 81.5h.01M257 79.6h.01M208 88.9h.01M216.2 93h.01M224.3 95.2h.01M235.6 96.1h.01M243.6 87.8h.01M250.7 92.8h.01M259.2 90.8h.01M206.6 100.2h.01M215.4 102.9h.01M224.1 104.9h.01M232.7 104h.01M245 101.6h.01M255.4 102.9h.01M217.5 113.6h.01M226.3 114.4h.01M236 113.3h.01M243.9 109.3h.01M255.4 110.4h.01M249.9 116.6h.01M241.4 121.5h.01M231.8 123.7h.01M257.6 123.2h.01M249.3 128.1h.01M268.6 77.1h.01M281.8 73.3h.01M294.4 74.6h.01M265.4 85.4h.01M278.7 83.7h.01M288.4 80.1h.01M299.9 82.1h.01M292.2 87.5h.01M273.6 92.8h.01M284.9 90.8h.01M295.5 96.9h.01M266.4 100.7h.01M277.4 100.7h.01M286 99.6h.01M268.1 107.8h.01M276.5 109.5h.01M284.9 108.9h.01M294.4 107.3h.01M264.3 115.5h.01M273.2 117.7h.01M282.3 118.2h.01M267.5 125.4h.01M266.4 32.3h.01M287.8 53.1h.01M294.4 59.1h.01M299.9 66.2h.01M289.5 67.3h.01M304.6 56.4h.01M270.3 66.8h.01M216.6 39.7h.01M217.7 50.7h.01M208.9 55.6h.01M221 59.5h.01M212.8 65h.01M205.6 72.1h.01M218.3 71.5h.01M239.1 72.1h.01M227.6 77h.01M249 26.6h.01" stroke="#000" stroke-width="1.7" stroke-linecap="round" stroke-opacity=".55" fill="none"/><ellipse cx="253.3" cy="78.7" rx="59.2" ry="58.8" fill="none" stroke="#2a2a2a" stroke-width="1.25"/><linearGradient id="cg1" x1="0" y1="26" x2="0" y2="131.3" gradientUnits="userSpaceOnUse"><stop offset="0%" stop-color="#ffffff"/><stop offset="5%" stop-color="#ffffd0"/><stop offset="10%" stop-color="#ffff9d"/><stop offset="15%" stop-color="#ffff69"/><stop offset="20%" stop-color="#ffff36"/><stop offset="25%" stop-color="#ffff07"/><stop offset="30%" stop-color="#ffe100"/><stop offset="35%" stop-color="#ffbf00"/><stop offset="40%" stop-color="#ff9d00"/><stop offset="45%" stop-color="#ff7b00"/><stop offset="50%" stop-color="#ff5c00"/><stop offset="55%" stop-color="#ff3a00"/><stop offset="60%" stop-color="#ff1700"/><stop offset="65%" stop-color="#f40000"/><stop offset="70%" stop-color="#d20000"/><stop offset="75%" stop-color="#b30000"/><stop offset="80%" stop-color="#900000"/><stop offset="85%" stop-color="#6e0000"/><stop offset="90%" stop-color="#4c0000"/><stop offset="95%" stop-color="#2a0000"/><stop offset="100%" stop-color="#0b0000"/></linearGradient><path d="M326.4 26L329.4 20L332.4 26L332.4 131.3L329.4 137.3L326.4 131.3Z" fill="url(#cg1)" stroke="#bbb" stroke-width="0.5"/><path d="M332.4 55.7h1.6" stroke="#666" stroke-width="0.6"/><text x="335.1" y="59.4" class="tk">0</text><path d="M332.4 98.7h1.6" stroke="#666" stroke-width="0.6"/><text x="335.1" y="102.4" class="tk"><tspan class="mn">−</tspan><tspan dx="0.8">1000</tspan></text><text x="315.6" y="16.8" class="bl"><tspan font-style="italic">B</tspan><tspan class="br">[</tspan>fT<tspan class="br">]</tspan></text><text x="252.2" y="11.2" class="ti" text-anchor="middle">OPM − TAN − LAT</text><clipPath id="h2"><polygon points="396.7,44.5 406.4,39.6 416.6,34.5 428.1,27.5 438.9,24.9 448.3,23.3 466.2,28.8 478.8,42 494.4,56.8 489.5,83.2 486.2,97.1 484.6,107 472.2,119.4 457.9,125.8 439.5,128.6 421.5,124.2 407.3,113.8 396.4,100.2"/></clipPath><g clip-path="url(#h2)"><g filter="url(#bl)"><rect x="393.4" y="20.3" width="104" height="111.3" fill="#120000"/><path fill-rule="evenodd" fill="#220000" d="M497.4 131.8l-104 0 0-111.5 104 0zM412.3 45.3l2.6-1.2 1.7-1.8.8-2 0-2.5-1-2-2-1.6-2.5-.8-2.5.2-2.5 1.1-1.6 1.6-1.1 2.5.1 2.5 1 2 1.9 1.5 2.2.7z"/><path fill-rule="evenodd" fill="#350000" d="M497.4 131.8l-104 0 0-111.5 104 0zM412.1 47.8l3.3-1.3 2.6-2.2 1.6-3 .3-1.9-.1-1.6-1.3-3-2.6-2.4-3-1.2-3.5 0-3.5 1.2-2.8 2.4-1.5 3-.3 3.5 1.1 3.1 2.5 2.4 3.5 1.2zM451.8 76.3l1.1-1 .5-1 .2-2.5-.5-1.5-.7-1-1.5-.4-1 .6-.9 1.3-.5 3 .9 2.1 1 .6z"/><path fill-rule="evenodd" fill="#440000" d="M497.4 131.8l-104 0 0-111.5 104 0zM409.9 50.3l4.5-1.1 3.5-2.2 2.6-3.2.9-2 .4-2-.4-3.6-1.9-3.4-3.1-2.4-4-1.2-4.5.3-2.4.8-2.1 1.2-1.5 1.3-1.6 2-1 2-.7 2.5 0 2.5.4 2 .9 2 1.5 1.8 1.5 1.2 2.3 1 2.2.5zM452.5 78.3l1.4-1.2 1-1.8.4-2 0-2-.8-2.5-1.1-1.7-1.5-1.1-1 0-1.5 1-1.5 2.6-.8 2.7 0 2.5.5 2 1.3 1.5 2 .5z"/><path fill-rule="evenodd" fill="#540000" d="M497.4 131.8l-104 0 0-111.5 104 0zM411 52.3l4.9-1.7 3.5-2.8 2-2.5 1.3-2.5.7-2.5.2-2-.5-2.5-.8-2-1.3-2-1.6-1.5-2-1.4-2-.9-2.5-.6-2.5-.1-3 .3-2.5.8-2.7 1.4-2.3 1.9-1.7 2.1-1.3 2.5-.8 2.5-.2 3 .3 2.5.8 2.5 1.4 2.1 2 1.8 2.5 1.2 2.5.6 2.5.1zM451.6 56.3l.6-1.5-.1-1.5-.7-1.5-1-.4-.9.9-.1 2.1 1 2.1.5.3zM452.1 80.3l1.8-1 1.6-2 1-2.5.2-2.5-.3-2.5-1.2-3-2.3-3.2-1.5-1-1.5 1-2.5 4.3-1.1 3.4-.4 3.5.5 2.7 1.5 2.1 2 .9z"/><path fill-rule="evenodd" fill="#660000" d="M497.4 131.8l-104 0 0-85.1.9 2.6 1.2 2 1.9 1.9 1.9 1.1 2.6.8 2.5.2 3-.1 3.5-.7 5-1.9 2-1.3 2-1.9 2-2.6 2-3.5.9-2.5.4-2.5-.4-2.5-.9-2.5-1.5-2.4-2-2.1-2.5-1.6-2.5-1-2.5-.6-3-.2-3 .4-2.5.7-2.5 1.1-2.6 1.7-2.1 2-1.5 2-1.3 2.5-1 2.9 0-18.4 104 0zM452.5 81.8l2.4-1.5 1.9-2.5 1-3 .1-3.5-.8-3.5-3-7-.3-2 .2-4.5-.4-2-.7-1.5-1-1-1-.5-1 0-1.5 1-.5 1.5 0 2 .8 5 .1 2-.6 2.5-2.7 7.5-.5 3-.1 2.5.9 3 1.6 1.8 2.5 1z"/><path fill-rule="evenodd" fill="#760000" d="M497.4 131.8l-104 0 0-73.1 1.5 1 1.5.4 4.5-.4 9.5-2.5 6-2.8 3.5-3 3-4.2 2.9-5.4.7-2 .2-2-.2-2-.8-2.5-1.3-2.5-1.5-2-2-1.8-2-1.3-2.5-1.1-3-.8-3-.2-3 .1-5.5 1.5-4.5 2.6-2.2 2-1.8 2.3 0-11.8 104 0zM452.8 83.3l2.6-1.5 2.3-3 1.2-3.5.2-4-.7-3.5-2.7-7.5-.4-6-.5-2.5-.8-1.5-1.1-1.3-1.5-.9-1.5-.2-1 .2-.9.7-.9 2 .4 10.5-3 10.5-.5 5 .9 3.5 2 2.3 1.5.8 1.5.3z"/><path fill-rule="evenodd" fill="#890000" d="M497.4 131.8l-104 0 0-39.1 1.5-1.2 1.4-1.7 2.1-4.5 1.1-4 1.5-9 .9-3.5 1.6-3 2.4-2.5 10-6.2 3.5-3.1 2.5-3.5 4.8-8.2 1.1-2.5.4-2.5-.7-4-2.1-4.1-3-3.3-3.5-2.3-3-1.1-3.5-.8-3.5-.2-3.5.3-3.5.9-3 1.2-3 1.8-2.5 2 0-7.4 104 0zM450.8 85.3l1.6-.2 2-.8 2-1.5 1.3-1.5 2-4 .6-2.5.1-2.5-.6-4.5-2.6-7.5-.8-6.5-.7-2.5-1.2-2-1.1-1.2-1.5-.9-2-.5-1.5.3-1 .7-1 2.1.2 11.5-3 11-.6 5 .7 3.5 1.7 2.5 2.5 1.6zM412 122.3l1.4-1 .5-1.5-.9-1.5-1.4-1-2.2-.7-2.5 0-1.8.7-.9 1-.1 1 .3 1 .8 1 1.2.8 3 .7z"/><path fill-rule="evenodd" fill="#980000" d="M393.4 23.5l0-3.2 6.9 0-3.4 1.3zM497.4 131.8l-104 0 0-15.7 1.6 3.7 2.3 3 3.6 2.4 4 1.4 5 .4 4.5-.9 3.5-1.9 1.2-1.4.7-1.5.1-1.5-.4-1.5-.9-1.5-1.5-1.5-4.2-2.5-10.6-4-1.7-1.5-.6-2 .6-3.5 2.7-8 1.4-5 2.3-15.5 1.5-5 2.7-4 6.2-5.7 2.5-3 8.5-14.3 1.2-3 .1-2.5-.7-3-1.2-3-1.9-3-1.8-2-2.2-1.8-2.5-1.4-3.3-1.3 81.3 0zM452.3 86.8l2.1-.7 2-1.3 1.6-1.5 1.5-2 1.8-4.5.4-2.5 0-3-.5-3.5-2.5-7.5-1.1-6.5-1-3-1.3-2-1.9-1.8-2-1-2-.2-1.5.3-1 .6-1.1 2.1-.1 2.5.4 6.5-.2 3-3.4 13-.4 5.5 1 3.5 1 1.5 1.3 1.2 1.5.8 2 .6z"/><path fill-rule="evenodd" fill="#a80000" d="M497.4 131.8l-104 0 0-4.7 4 1.8 5 1.1 5 .4 5-.5 4.5-1.3 3.4-1.8 2.6-2.5 1.2-2.5 0-3-1.4-3-2.9-3-6.6-4.5-2.4-2-1.6-2.5-.5-3 .2-3 2-11.5 1.3-12.5 1.2-5 1.7-3.5 5.3-8 4.7-9.5 5.1-7.5 1-2.5.1-2-.4-2.5-2-5.5-3-4.3-3.8-3.2 75.3 0zM452.2 88.8l2.2-.7 2.5-1.4 2-1.8 1.6-2.1 1.3-2.5 1-3 .4-3 .1-3-.8-4.5-2.3-7-1.6-6.5-1.2-3-1.5-2.2-2-1.8-2.5-1.2-2.5-.3-1.5.4-1 .6-1.1 2-.2 2.5.4 7-.2 3.5-3.7 14-.6 3.5-.1 2.5 1.1 3.5 2.4 2.8 3.5 1.6 2 .3z"/><path fill-rule="evenodd" fill="#ba0000" d="M497.4 131.8l-79.3 0 4.3-2.1 3.5-2.8 2.1-3.1.7-3-.2-2.5-1.3-3-2.3-3-5.9-5.5-1.7-2-1.3-2.5-.4-3 1.2-14 0-13 .8-5 7.1-17.5 2.4-4 4.8-6 1-2.5-.3-4-1.6-5.5-1.8-4-2.6-3.5 70.8 0zM451.8 91.3l3.1-.8 2.5-1.4 2.5-2.1 2-2.6 1.6-3.1 1.2-3.5.5-3.5 0-3.5-.5-3-.9-3.5-3.8-11-1.7-3.5-1.9-2.5-2.5-2-2.5-1.1-3-.3-2.5.9-.9 1-.3 1-.2 2.5.5 8-.2 3.5-.8 3.5-3.9 13-.5 3-.1 2.5.4 1.9.7 1.6 1.3 1.7 1.5 1.3 2 1.1 2 .7z"/><path fill-rule="evenodd" fill="#ca0000" d="M497.4 131.8l-69.6 0 3.2-3 2.1-3 1.2-3.5.1-3.5-.6-2.5-1.1-2.5-6.3-8.5-1.7-3.5-.6-3.5 0-10-.6-3-3-9.5-.7-6 .9-6 2.4-8.5 1.7-4.5 2.9-5 5.8-6 1-2 .2-2.5-.7-4-1.6-6.7-1.5-4.3 66.5 0zM452.7 94.8l3.7-1.2 3-1.8 2.8-2.5 2.2-3 1.8-3.5 1.3-4.5.6-4-.1-4-.7-4-1.3-4-4.3-9-2.4-4-2.7-3-2.7-1.9-3.5-1.3-3-.1-2.2.8-.8.9-.4 1.1-.1 2.5.7 8-.3 4.5-1.1 4.5-5.5 16-.6 3 0 2 .6 2 .9 1.5 1.8 1.8 2 1.4 2.5 1.2 2.5.6 2.5.3z"/><path fill-rule="evenodd" fill="#dd0000" d="M431.9 83.4l-2-.2-1.5-.8-2-1.7-1.9-2.4-1.3-2.5-.9-3-.5-5.5 1.7-11 1-3.5 1.2-3 3.2-4.6 2-2 4.6-3.4 1-1.5.1-2.5-1.3-9-.3-6.5 62.4 0 0 27.5-3 3.1-3.5 2.8-3.5 2.2-4 2-3 1.1-2.5.5-2.5 0-2.5-.6-3.5-1.7-3-2.1-7.9-8.3-4.1-3-3-1.3-3-.5-2.5.1-2 .9-.7 1.3-.1 1.5.9 8 .2 4-1.1 6-3.2 8.9-2.5 5.4-2.5 3.6-1.5 1.1z"/><path fill-rule="evenodd" fill="#ec0000" d="M432.4 79.9l-2.5-.3-2-1.2-2-2.1-1.4-2.5-.9-3-.4-3 .4-8.5.6-3.5.9-3.5 1.4-3 1.6-2.5 1.8-2 2-1.5 2.5-1.4 4-1.6.8-1-1.3-7.5-.3-4 .4-4 1.1-3.5 45.7 0 2.5 3.5 1.5 3.5.7 4-.4 4-1.6 4-2.5 3.5-3.6 3.3-4 2.5-5.5 2.1-2.5.3-2-.1-3.5-1.3-7-5.3-4.5-2.3-3-.9-3-.3-3 .1-1.5.7-.2 1.7 1.5 7 .6 4.5 0 3.5-.6 3.5-2.3 6.7-3 6.6-2.5 3.2-1.5 1.1z"/><path fill-rule="evenodd" fill="#fc0000" d="M468.4 47.8l-2.5 0-2.5-.7-9.5-5.4-3.5-1.3-6.5-1.6-2-1.4-1-1.7-.8-2.4-.3-5 1-4.5 2.4-3.5 35.6 0 2 2 2.5 3.5 1.3 4-.1 4-1.1 3.5-2.3 3.5-3.7 3.3-4.5 2.5zM433.9 77.3l-2 .4-2.5-.7-2-1.7-1.6-2.5-1.1-3-.4-3-.2-5 .3-4.5.7-3.5.8-2.5 1.3-2.5 1.7-2.3 2-1.9 2.5-1.5 2.5-.7 2-.1 1.5.6 1 1 1.6 3.4 1.3 6 0 5.5-1.1 5-3.3 7.8-2.5 3.9z"/><path fill-rule="evenodd" fill="#ff1000" d="M468.4 45.3l-3 .3-3-.7-9-4.4-7.5-2.7-2.1-1.5-1-1.5-.6-1.5-.4-2 0-2.5 1.1-3.7 2.5-3.3 1.8-1.5 26.8 0 3.4 2.7 2.2 2.8 1.4 3.5.3 3.5-.8 3-1.7 3-2.9 2.9-3.5 2.2zM433.4 75.8l-2 .1-2-.9-1.5-1.4-1.4-2.3-.8-2.5-.6-3.5-.3-4.5.2-4 1.3-5.5 2.6-4.2 2-1.9 2-1.2 2-.7 2-.1 1.5.4 1 .6 1 1.1 1.1 2 1.4 5.5.2 5.5-1.4 5.5-3.3 7.3-2.5 3.3z"/><path fill-rule="evenodd" fill="#ff1f00" d="M467.9 43.3l-3.5.4-3-.6-12.5-5.5-2.9-1.8-1.7-2.5-.5-3 .8-3.5 1.8-2.8 2.5-2.2 2.9-1.5 17.2 0 3.1 1.5 2.6 2 2.1 2.5 1.2 2.5.5 3-.5 3-1.3 2.5-2.3 2.6-3 2.1zM433.4 74.3l-2 0-1.5-.8-1.5-1.4-1.3-2.3-.9-3-.6-3.5-.3-4 .1-3 1.3-5 2.5-4 1.7-1.6 2-1.2 2-.6 1.5 0 1.5.3 1.5 1 1.8 2.6 1.4 5 .2 5-1.1 5-2.8 6.1-2.5 3.6-1.5 1.2z"/><path fill-rule="evenodd" fill="#ff3200" d="M465.9 41.9l-3 0-3.5-.9-8.3-3.7-3.2-2.1-1.6-2.4-.4-2.5.8-3 1.8-2.5 2.4-1.9 2.5-1.2 3.5-.9 3.5-.3 3.5.3 3.5.9 3 1.5 2.5 1.9 1.8 2.2 1 2.5.2 2.5-.6 2.5-1.5 2.5-2 2-2.9 1.7zM433.9 72.8l-1.5.2-1.9-.7-1.2-1-1.3-2-1-2.5-.8-3.5-.4-6.5.9-4.5 2.2-4.1 1.5-1.6 2-1.4 2-.6 1.5-.2 1.5.3 1.5.9 2 2.6 1.3 4.1.3 5-.9 4.5-2.2 5-3 4.4z"/><path fill-rule="evenodd" fill="#ff4100" d="M464.4 40.3l-3-.1-3.5-1-5.1-2.4-2.9-2.1-1.4-1.9-.4-2.5.8-2.5 1.5-2 2-1.5 2.5-1.1 3-.8 3-.1 3 .3 2.5.7 2.5 1.2 2.2 1.8 1.5 2 .8 2 0 2.5-.6 2-1.4 2-2 1.7-2.5 1.3zM434.4 71.4l-1.5.3-1.5-.4-1.5-1.1-1.4-1.9-1.8-5.5-.6-6 .9-4.5 2.2-4 1.7-1.7 1.5-.9 2-.7 1.5 0 2.5.8 2.1 2.5 1.4 4 .4 4.5-.7 4-1.9 4.5-2.8 4.2z"/><path fill-rule="evenodd" fill="#ff5100" d="M464.9 38.4l-2.5.3-3-.4-3.7-1.5-3.1-2-1.4-1.5-.7-2 .2-2 1.2-2 1.5-1.3 2-1 4.5-.9 2.5.1 2.5.6 3.6 2 1.4 1.5.8 1.5.3 1.5-.2 2-.7 1.5-1.3 1.5-1.9 1.3zM433.9 70.4l-1.5 0-1.5-.7-2.2-2.9-1.7-5-.5-5.5 1-4.5 2.1-3.5 2.8-2.2 2-.6 1.5-.1 2.5 1 2 2.4 1.3 4 .2 4.5-.8 4-2.2 4.5-2.5 3.1z"/><path fill-rule="evenodd" fill="#ff6400" d="M461.9 36.8l-2-.2-2.5-.8-1.8-1-1.6-1.5-.8-1.5 0-1.5.7-1.5 1-1 3-1.4 3.5-.3 3 .8 2.7 1.9.7 1 .4 1.5-.1 1.5-.7 1.4-1.1 1.1-1.4.9zM433.4 69.3l-1.5-.3-1-.6-2.2-3.1-1.5-4.5-.3-5 .9-4 2.1-3.4 1.5-1.3 1.5-.8 3-.4 2.5 1 2 2.6 1.2 3.8.1 4-1.1 4.5-2.2 3.9-2.5 2.7-1.5.8z"/><path fill-rule="evenodd" fill="#ff7300" d="M462.4 33.9l-2 .2-2.2-.8-1.2-1.5.2-1.5 1.2-1 1.5-.4 2 .2 1.5.7.8 1 0 1.5-.7 1zM433.9 68.3l-1.5-.1-1-.6-1.4-1.3-.9-1.5-1.6-4.5-.3-4.5.9-4 1.8-2.9 2.5-2 1.5-.5 1.5-.2 2.5.9 2 2.2 1.3 3.5.3 4-.9 4-1.7 3.4-2.5 2.9z"/><path fill-rule="evenodd" fill="#ff8600" d="M434.4 67.4l-1.5 0-1-.4-2.2-2.2-1.7-4-.6-4.5.8-4 1.7-3 2.5-2 1.5-.6 1.5-.1 2.5.9 1.7 1.8 1.2 3 .4 4-.6 3.5-1.6 3.5-2.1 2.6z"/><path fill-rule="evenodd" fill="#ff9500" d="M434.9 66.5l-1.5.1-1-.2-1-.6-1.4-1.5-1.7-3.5-.6-4 .6-4 1.6-3 2.5-2.2 2.5-.6 2.5.6 1.8 1.7 1.4 3 .4 3.5-.5 3.5-1.3 3-1.8 2.5z"/><path fill-rule="evenodd" fill="#ffa500" d="M434.4 65.9l-1.5-.1-1-.4-2-2.1-1.5-3.5-.4-3.5.6-3.5 1.6-3 2.2-1.8 2.5-.7 2.5.7 1.8 1.8 1.1 2.5.4 3.5-.5 3.5-1.3 2.9-2 2.4z"/><path fill-rule="evenodd" fill="#ffb700" d="M433.9 65.3l-2-.6-2.1-2.4-1.3-3.5-.2-3.5.7-3 1.6-2.5 2.3-1.7 2.5-.4 1.5.4 1 .7 1.5 1.9 1 3.1 0 3-.6 3-1.7 3-2.2 2z"/><path fill-rule="evenodd" fill="#ffc700" d="M435.4 64.4l-1.5.3-1-.2-2-1.4-1.7-2.8-.7-3.5.3-3 1.3-3 1.8-1.8 2.5-1 2 .3 2 1.4 1.2 2.1.6 3-.1 3-1.1 3-1.6 2.2z"/><path fill-rule="evenodd" fill="#ffda00" d="M435.4 63.9l-1.5.3-1-.2-2-1.5-1.5-2.7-.6-3 .3-3 1.3-3 2-1.8 2-.7 2 .3 1.7 1.2 1.3 2.2.6 2.8-.2 3-.9 2.6-1.5 2.1z"/><path fill-rule="evenodd" fill="#ffe900" d="M435.4 63.4l-2 .2-2-1.2-1.7-2.6-.6-3 .2-3 1.1-2.5 2-2 2-.7 2 .4 1.5 1.1 1.3 2.2.6 2.5-.3 3-.9 2.5-1.5 2z"/><path fill-rule="evenodd" fill="#fff900" d="M435.4 62.9l-2 .2-2-1.2-1.5-2.5-.6-2.6.3-3 1.1-2.5 1.7-1.7 2-.7 2 .4 1.5 1.2 1.1 1.8.5 2.5-.1 2.5-.8 2.5-1.5 2z"/><path fill-rule="evenodd" fill="#ffff13" d="M435.4 62.5l-2 .1-2-1.3-1.2-2-.6-2.5.1-2.5 1-2.5 1.7-1.8 2-.7 2 .4 1.4 1.1 1.1 2 .4 2-.2 2.5-.7 2.2-1.5 2z"/><path fill-rule="evenodd" fill="#ffff2a" d="M435.9 61.8l-2 .4-2-.9-1.4-2-.6-2.5.1-2.5.9-2.3 1.5-1.7 2-.7 1.5.2 1.5 1 1 1.5.6 2 0 2.5-.6 2-1 1.7z"/><path fill-rule="evenodd" fill="#ffff46" d="M434.4 61.8l-1.5-.3-1.5-1.3-1-1.9-.3-2.5.3-2.1 1-2 1.5-1.3 2-.5 1.5.5 1.4 1.4.8 2 .2 2-.4 2.3-1 1.9-1.5 1.4z"/><path fill-rule="evenodd" fill="#ffff5e" d="M434.9 61.3l-1.5-.1-1.5-1-1-1.5-.6-2.4.2-2 .9-2.1 1.5-1.5 1.5-.5 1.5.3 1.5 1.2.8 1.6.4 2-.2 2-.9 2-1.1 1.3z"/><path fill-rule="evenodd" fill="#ffff75" d="M434.9 60.9l-1.5-.1-1.4-1-.9-1.5-.5-2 .2-2 .8-2 1.3-1.2 1.5-.6 1.5.3 1.2 1 .9 1.5.3 2-.2 2-.7 1.6-1 1.2z"/><path fill-rule="evenodd" fill="#ffff91" d="M435.4 60.3l-1.5.2-1.5-.8-1-1.4-.5-2 .2-2 .8-1.9 1-1 1.5-.5 1.5.3 1 .8.8 1.3.3 1.5-.1 2-.5 1.5-1 1.4z"/><path fill-rule="evenodd" fill="#ffffa8" d="M435.4 59.9l-1.5.2-1.4-.8-1-1.5-.3-1.5.1-2 .6-1.3 1-1.2 1.5-.6 1.5.4.8.7.7 1.1.3 1.4-.4 3-.9 1.4z"/><path fill-rule="evenodd" fill="#ffffc4" d="M435.4 59.4l-1.5.2-1-.5-1-1.3-.4-1.5 0-1.5.6-1.5.8-1 1.5-.7 1 .2 1 .6.6.9.5 1.5-.1 1.5-.5 1.5z"/><path fill-rule="evenodd" fill="#ffffdc" d="M435.4 58.9l-1 .3-1.2-.4-.9-1-.5-1.5.1-1.5.5-1.4 1-1 1-.4 1 .2.8.6.9 2-.3 2.5z"/><path fill-rule="evenodd" fill="#fffff3" d="M435.4 58.4l-1 .3-1-.3-.9-1.1-.3-1 0-1.5.4-1 .8-1 1-.3 1.5.5.9 1.8-.2 2z"/></g><path d="M497.4 131.8l-79.8 0 4.3-2 3.5-2.7 2.1-2.8.6-1.5.4-2-.4-3-1.1-2.5-2.4-3-5.9-5.5-1.8-2-1.2-2.5-.5-3 1.4-14 0-13 .9-5 1-3 6.1-14.5 2.4-4 4.8-6 1-2.5 0-2-.3-2-1.6-5.5-2-4.3-2.5-3.2 71 0zM453.5 90.8l2.4-.9 2.5-1.7 2.4-2.4 1.7-2.5 1.3-3 .9-3 .4-3.5-.1-3.5-.5-3-.8-3-4-11.5-1.4-3-2-2.5-2.4-1.9-2.5-1.1-3-.4-1.5.4-1 .5-.8 1-.4 1-.2 2.5.5 8-.2 3.5-.8 3.5-3.9 13-.5 3 0 2.5.4 2 1.1 2 1.3 1.5 2 1.4 2 .9 2.5.6 2.5 0z" fill="none" stroke="#1c1c1c" stroke-width="1.05"/><path d="M466.4 41.3l-3 .3-3.5-.7-7.1-3.1-2.8-1.5-1.4-1-1.5-2-.7-2.5.5-2.5 1.5-2.6 2.1-1.9 2.9-1.6 3-.8 3.5-.4 3.5.2 3 .7 3 1.2 2.5 1.8 1.8 1.9 1.3 2.5.3 2.5-.4 2.5-1.4 2.5-1.9 2-2.4 1.5zM434.4 72.3l-1.5.4-1.7-.4-1.5-1-1.3-1.8-1.2-2.7-.8-3-.5-3.5 0-3 .2-2.5.7-2.5.8-2 1.3-2 1.5-1.6 2-1.3 2-.7 1.5-.1 1.5.3 1 .5 1.1.9 1.1 1.5.8 1.8.6 2.2.4 2.5.1 2.5-.8 4.5-1.8 4.3-1.5 2.7-1.5 2-1 1.1z" fill="none" stroke="#1c1c1c" stroke-width="1.05"/><path d="M434.9 65.4l-1.5.2-1-.4-1-.6-1-1-1-1.7-.7-1.6-.4-2-.2-2 .5-3 1.4-3 .9-1 1.5-1.2 1-.4 1.5-.2 2 .5 1 .6 1.1 1.2 1.1 2.5.5 3.5-.4 3-1.3 3.1-2 2.4z" fill="none" stroke="#1c1c1c" stroke-width="1.05"/><path d="M434.9 61.8l-1 .1-1-.3-1.5-1.3-1-2-.4-2 .3-2.5 1-2 1.6-1.5 1.5-.5 1.5.3 1.6 1.2 1.1 2 .3 2-.2 2-.8 2-1.5 1.8z" fill="none" stroke="#1c1c1c" stroke-width="1.05"/><path d="M435.4 58.3l-1 .3-1-.3-.8-1-.4-1 .1-1.5.3-1 .8-.9 1-.4 1 .2.5.4.5.7.3 1-.2 2-.5 1z" fill="none" stroke="#1c1c1c" stroke-width="1.05"/></g><path d="M448.5 23.1h.01M430.3 26.1h.01M440 30.1h.01M467.3 29.5h.01M416.9 36h.01M426.6 37.1h.01M440 38.1h.01M454.4 40.3h.01M428.2 45.1h.01M445.9 48.3h.01M416.4 47.2h.01M466.2 46.7h.01M435.1 54.2h.01M457.2 55.1h.01M445.9 59.6h.01M430.8 63.9h.01M418 66h.01M440.4 69.6h.01M449.5 70.6h.01M478.8 42h.01M402.9 79h.01M410.1 83.7h.01M419.4 87h.01M430.4 80.4h.01M441 81.5h.01M447 79.6h.01M398 88.9h.01M406.2 93h.01M414.3 95.2h.01M425.6 96.1h.01M433.6 87.8h.01M440.7 92.8h.01M449.2 90.8h.01M396.6 100.2h.01M405.4 102.9h.01M414.1 104.9h.01M422.7 104h.01M435 101.6h.01M445.4 102.9h.01M407.5 113.6h.01M416.3 114.4h.01M426 113.3h.01M433.9 109.3h.01M445.4 110.4h.01M439.9 116.6h.01M431.4 121.5h.01M421.8 123.7h.01M447.6 123.2h.01M439.3 128.1h.01M458.6 77.1h.01M471.8 73.3h.01M484.4 74.6h.01M455.4 85.4h.01M468.7 83.7h.01M478.4 80.1h.01M489.9 82.1h.01M482.2 87.5h.01M463.6 92.8h.01M474.9 90.8h.01M485.5 96.9h.01M456.4 100.7h.01M467.4 100.7h.01M476 99.6h.01M458.1 107.8h.01M466.5 109.5h.01M474.9 108.9h.01M484.4 107.3h.01M454.3 115.5h.01M463.2 117.7h.01M472.3 118.2h.01M457.5 125.4h.01M456.4 32.3h.01M477.8 53.1h.01M484.4 59.1h.01M489.9 66.2h.01M479.5 67.3h.01M494.6 56.4h.01M460.3 66.8h.01M406.6 39.7h.01M407.7 50.7h.01M398.9 55.6h.01M411 59.5h.01M402.8 65h.01M395.6 72.1h.01M408.3 71.5h.01M429.1 72.1h.01M417.6 77h.01M439 26.6h.01" stroke="#000" stroke-width="1.7" stroke-linecap="round" stroke-opacity=".55" fill="none"/><ellipse cx="443.3" cy="78.7" rx="59.2" ry="58.8" fill="none" stroke="#2a2a2a" stroke-width="1.25"/><linearGradient id="cg2" x1="0" y1="26" x2="0" y2="131.3" gradientUnits="userSpaceOnUse"><stop offset="0%" stop-color="#ffffff"/><stop offset="5%" stop-color="#ffffd0"/><stop offset="10%" stop-color="#ffff9d"/><stop offset="15%" stop-color="#ffff69"/><stop offset="20%" stop-color="#ffff36"/><stop offset="25%" stop-color="#ffff07"/><stop offset="30%" stop-color="#ffe100"/><stop offset="35%" stop-color="#ffbf00"/><stop offset="40%" stop-color="#ff9d00"/><stop offset="45%" stop-color="#ff7b00"/><stop offset="50%" stop-color="#ff5c00"/><stop offset="55%" stop-color="#ff3a00"/><stop offset="60%" stop-color="#ff1700"/><stop offset="65%" stop-color="#f40000"/><stop offset="70%" stop-color="#d20000"/><stop offset="75%" stop-color="#b30000"/><stop offset="80%" stop-color="#900000"/><stop offset="85%" stop-color="#6e0000"/><stop offset="90%" stop-color="#4c0000"/><stop offset="95%" stop-color="#2a0000"/><stop offset="100%" stop-color="#0b0000"/></linearGradient><path d="M516.5 26L519.5 20L522.5 26L522.5 131.3L519.5 137.3L516.5 131.3Z" fill="url(#cg2)" stroke="#bbb" stroke-width="0.5"/><path d="M522.5 28.7h1.6" stroke="#666" stroke-width="0.6"/><text x="525.2" y="32.4" class="tk">2000</text><path d="M522.5 66.6h1.6" stroke="#666" stroke-width="0.6"/><text x="525.2" y="70.3" class="tk">1000</text><path d="M522.5 105.3h1.6" stroke="#666" stroke-width="0.6"/><text x="525.2" y="109" class="tk">0</text><text x="505.7" y="16.8" class="bl"><tspan font-style="italic">B</tspan><tspan class="br">[</tspan>fT<tspan class="br">]</tspan></text><text x="442.9" y="11.2" class="ti" text-anchor="middle">OPM − TAN − LON</text><clipPath id="h3"><polygon points="16.7,231.3 26.6,226.3 36.9,221.1 48.6,214 59.6,211.4 69.2,209.8 87.4,215.4 100.2,228.8 116.1,243.8 111.1,270.7 107.7,284.8 106.1,294.9 93.5,307.5 78.9,314 60.2,316.8 41.9,312.4 27.5,301.8 16.4,288"/></clipPath><g clip-path="url(#h3)"><g filter="url(#bl)"><rect x="13.4" y="206.8" width="105.7" height="113.1" fill="#120000"/><path fill-rule="evenodd" fill="#220000" d="M119.4 320.3l-106 0 0-113.5 106 0zM50.7 284.3l.5-.5.1-1-1.2-1-2.2-.3-1.3.8 0 1 1 1 1.8.4z"/><path fill-rule="evenodd" fill="#350000" d="M119.4 320.3l-106 0 0-113.5 106 0zM51.2 284.8l.9-1 .1-1-.8-1-.9-.5-1.6-.4-1.5.1-1 .4-.7.9.3 1.5 1.4 1 2 .5z"/><path fill-rule="evenodd" fill="#440000" d="M119.4 320.3l-106 0 0-113.5 106 0zM51.5 285.3l1.1-1 .4-1-.3-1-1-1-1.8-.7-2-.2-1.5.4-1.3 1-.1 1.5.8 1 1.1.8 2.5.6z"/><path fill-rule="evenodd" fill="#540000" d="M119.4 320.3l-106 0 0-113.5 106 0zM51.5 285.8l1.5-1 .6-1.5-.5-1.5-1.2-.9-2-.7-2.5-.1-2 .6-1 1.1 0 1.5 2 2 2.5.8z"/><path fill-rule="evenodd" fill="#660000" d="M119.4 320.3l-106 0 0-113.5 106 0zM47.6 232.3l.2-.5-.4-.2-.1.7zM51.4 286.3l1.8-1 1-1.5-.2-1.5-1.4-1.5-2.2-.9-2.5-.3-2.5.6-1.4 1.1-.4 1 .3 1 1.9 2 2.6 1.1z"/><path fill-rule="evenodd" fill="#760000" d="M119.4 320.3l-106 0 0-113.5 106 0zM48.3 233.8l.6-.5.4-1-.4-1.5-1-.8-1.5.2-.7 1.1.2 1.5 1 1zM67 234.3l-.1-.6-.5-.2-.4.3 0 .5.4.2zM99.1 234.8l.5-.5-.2-.3-.6.3.1.5zM51.1 286.8l2.3-1 1.2-1.5.2-1-.2-1-1.3-1.5-2.4-1.1-3-.4-2.6.5-1.9 1.3-.4 1.2.3 1 1.9 2 2.7 1.3z"/><path fill-rule="evenodd" fill="#890000" d="M119.4 320.3l-106 0 0-113.5 106 0zM47.9 234.8l1.6-1 .5-2-.3-1-.8-1.1-1-.5-1-.1-1 .4-.7.8-.2 2 .4 1.1.8.9zM100.1 236.3l1.3-1.5.1-1.5-.7-1-1.4-.2-2 1.2-.5 1-.1 1 .6 1 .5.2 1 .2zM67.5 235.3l.6-1-.2-1.1-1-.8-1.5.3-.6 1.1.6 1.4 1 .4zM45.5 250.3l.2-.5-.3-.5-.6 0-.3.5.2.5zM95.1 267.8l.4-1-.6-1.1-1.5-.6-1 .5-.2 1.2.7 1 1 .4zM26.8 281.8l.4-1-.3-1.2-1-.6-1.1.3-.6 1 .2 1.1 1 .8zM50.1 287.3l2.8-.8 2-1.6.5-1.1 0-1-1-1.7-2.5-1.5-3.5-.7-3 .4-1.5.6-1 .9-.4 1 .1 1 1.5 2 2.8 1.8z"/><path fill-rule="evenodd" fill="#980000" d="M119.4 320.3l-106 0 0-113.5 106 0zM48.6 235.3l1.3-1 .5-.9.2-1.1-.2-1.5-1-1.5-1-.7-1.5-.2-1 .2-.9.7-.6 1-.1 1.5.4 1.5.7 1.1 1 .8 1 .2zM100.1 237.3l1.8-1.5.7-2-.1-1-.5-1-1.6-.8-1.5.2-1.5.9-1 1.2-.6 1.5.3 1.5.8.8 1.5.5zM66.8 236.3l1.6-1 .4-1.5-.9-1.6-1-.5-1 .1-1.4 1-.3 1.5.8 1.5zM46.3 251.3l.7-1.5-.6-1.4-1-.5-1.5.4-.7 1.5.7 1.5 1 .4zM95.2 268.8l.7-.7.4-.8-.1-1-.5-1-1.8-1.2-2 .2-.5.5-.3 1 .6 2 1.7 1.1zM26 283.8l2-1 .7-1 .1-1.5-1.1-2-.8-.6-1.5-.2-1 .3-1 .7-.5.8-.2 1.5.4 1.5.8.8 1 .6zM52.2 287.3l2.6-1.5 1.1-2 0-1-.3-1-1.6-1.5-3.1-1.3-3.5-.4-3.1.7-2.1 1.5-.4 1 .5 1.5 1.3 1.5 1.8 1.3 3.5 1.4z"/><path fill-rule="evenodd" fill="#a80000" d="M119.4 320.3l-106 0 0-113.5 106 0zM49 235.8l1.3-1 .7-1.5.2-1.5-.4-1.5-.9-1.3-1.5-1-1.5-.3-1.5.4-1 .8-.7 1.4 0 1.5.4 1.5.9 1.5 1.4 1 1.5.3zM99.1 238.3l1.6-.5 1.2-1 1.4-2.5.1-1.5-.3-1-.7-1-1-.5-1.5-.1-2 .7-1.6 1.4-1.2 2-.1 1.5.8 1.5 1.6.9zM67 236.8l1.2-.5.7-.8.4-1.2-.1-1-.5-1-.8-.7-2-.4-1.2.6-.8 1-.2 2 1.2 1.5 1 .5zM46.1 252.3l.8-.5.7-1-.1-2-1.1-1.4-1-.3-1 .1-1 .6-.7 1 0 2 .6 1 .8.5.8.2zM95.5 269.3l.9-.9.5-1.1-.2-1.5-.8-1.3-1-.8-1.5-.5-1.5 0-1.2.6-.6 1 0 1 1.2 2.5 2.1 1.3 1 0zM26.5 284.8l1.4-.6 1.5-1.4.5-1 .1-1.5-.5-1.5-1.3-1.5-1.8-.8-1.5 0-1.5.7-1.1 1.1-.6 1.5 0 1.5.5 1.5 1.2 1.3 1.5.7zM51.7 287.8l3.2-1.5 1.5-2-.1-2-.5-1-1.1-1-3.3-1.5-4-.5-3.5.7-1.5.8-.9 1-.3 1 .5 1.5 3.2 2.8 3.5 1.7z"/><path fill-rule="evenodd" fill="#ba0000" d="M119.4 320.3l-106 0 0-113.5 106 0zM49.3 236.3l1.6-1.5.6-1.5.1-2-.5-1.5-1.2-1.5-1.5-.9-2-.2-1.5.4-1.2 1.2-.6 1.5 0 1.5.6 2 1.2 1.6 1.5 1 1.5.3zM99.8 238.8l1.3-.5 1.3-1.1 1-1.5.6-1.9.1-1.5-.6-1.5-1.1-1-1-.3-2 .1-2.5 1.2-1.8 2-.8 2 0 1.5 1.1 1.5 2 1zM66.9 237.3l2-1.1.6-.9.3-1.5-.5-1.5-.9-1-1-.5-1.5-.1-1 .4-1 .8-.5.9-.3 1.5.3 1 1 1.3 1 .5zM46.5 252.8l1.2-1 .5-1 .2-1-.4-1.5-.6-.9-1-.8-1-.2-1.5.3-1 .7-.8 1.4-.2 1.5.3 1 .7.9 1 .7 1.5.2zM95.7 269.8l1.1-1 .6-1.5-.1-1.5-.9-1.7-1.5-1.1-2-.6-2 .1-1.4.8-.4 1 .2 1.5.6 1.5 1.1 1.5 1.4 1 1 .3zM26 285.8l1.9-.6 1.5-1 1.4-1.9.4-1.5-.6-2-1.2-1.6-1.5-1.1-2-.5-2 .4-1.8 1.3-1 1.5-.3 2 .5 2 1.1 1.6 1.5 1zM51 288.3l3.4-1.2 1.5-1.2.8-1.1.4-1.5-.2-1-1.5-2-3.5-1.6-4.5-.8-3.5.6-1.6.8-1.2 1-.6 1 .1 1 1 1.5 1.7 1.5 4.1 2.5 2 .5z"/><path fill-rule="evenodd" fill="#ca0000" d="M119.4 320.3l-106 0 0-113.5 106 0zM47.9 237.3l2-.8 1.3-1.2.8-2 .1-2-.7-2-1.5-1.7-2-.9-2-.1-1.6.7-1.2 1-.6 1.5.1 2 .6 2 1.3 2 1.4 1zM100.1 239.3l1.8-.9 1.2-1.1 1.1-2 .5-2 0-1.5-.6-1.5-1.2-1.1-1.5-.5-2.5.4-2.2 1.2-2 2-1.1 2.5.2 2 1.2 1.5 2.4 1zM68.3 237.3l1.1-1 .6-1 .2-1.5-.4-1.5-.9-1.1-1.5-.8-1.5-.1-1.5.6-1 .9-.7 1.5.1 1.5.3 1 .8 1 1.5.8 1.5.1zM46.8 253.3l1.1-.9.7-1.1.3-1.5-.3-1.5-1-1.5-1.2-.9-1-.2-1.5.3-1.5 1.1-.7 1.2-.4 1.5.3 1.5.8 1.2 1.5 1 1.5.1zM95.7 270.3l1.3-1 .8-2-.2-2-.8-1.5-1.4-1.2-2-.8-2.5-.1-2 .6-.8 1 .1 1.5.8 2 1.3 2 1.2 1 1.4.7 1.5.1zM27.5 286.3l1.9-1.2 1.9-1.8.8-1.5.1-1.5-1.2-2.5-2.1-2.1-2-.8-2.5.2-2.3 1.2-1.3 1.5-.7 2 .2 2.5.9 2 1.7 1.6 2 .7zM52.8 288.3l3.1-1.7 1.6-2.3.1-1.5-.3-1-.7-1-1.3-1-4.4-1.7-4.5-.5-4.2 1.2-1.5 1-.8 1-.2 1 .9 1.5 2.2 2 3.1 2.1 3.5 1.2zM81.1 283.8l1-1-.4-1-1.3-.5-1.2.5-.4.5.2 1 .9.5zM101 295.3l.8-1-.1-1.5-.8-1-1-.1-1.1 1.1 0 1.5 1.1 1.1zM65.4 303.8l.4-1-.1-1-.3-.6-1-.4-.8 1 0 1 .8 1.1z"/><path fill-rule="evenodd" fill="#dd0000" d="M119.4 320.3l-106 0 0-113.5 106 0zM48.5 237.8l1.9-1 1.6-2 .6-2-.3-2.5-1-2-1.9-1.7-2-.6-2.5.2-1.9 1.1-1 1.5-.2 2 .5 2 1.1 2.3 1.5 1.7 2 1zM100.4 239.8l1.5-.7 1.5-1.4 1.1-1.9.7-2.5 0-2-.6-1.5-1.2-1.2-1.5-.5-2.5.2-3 1.5-2.3 2.5-1.1 2.5.1 2 .6 1 1.1 1 2.6 1zM68.2 237.8l1.4-1 .9-1.5.2-1.5-.4-1.5-.9-1.3-1.5-.9-2-.2-1.5.5-1.1.9-.9 1.5-.2 1.5.4 1.5.8 1 1.5 1 1.5.3zM47 253.8l1.3-1 .9-1.5.2-1.5-.2-1.5-.8-1.5-1.5-1.3-1.5-.4-1.5.3-1.5.9-1.1 1.5-.5 1.5.2 2 .9 1.5 1.5 1 2 .4zM95.6 270.8l1.8-1.5.8-2-.1-2-1.2-2.2-2-1.5-2.5-.6-3 .1-2 .9-.5.8.1 1.5 1.6 3 1.5 2 1.3 1 1.5.6 1.5.1zM26.7 287.3l2.2-1 2-1.5 2.2-2.5.4-1.5-.8-2-2.5-3-2.3-1.4-2-.2-3 .9-2.3 1.7-1 2-.3 2.5.7 2.5 1.9 2.3 2.5 1.2zM52.4 288.8l3.5-1.6 1-.9 1-1.5.3-1.5-.3-1.5-.7-1-1.3-1.1-5-1.9-4.5-.5-2.5.4-2 .7-2.3 1.4-.8 1 0 1 1.1 1.5 6 4.4 3 1.2zM82 284.3l.6-.5.4-1-.2-1-.9-1-2-.3-1 .4-.8.9-.2 1.5.9 1 1.6.4zM101.6 296.3l.8-1 .4-1-.2-2-1.4-1.5-1.8-.2-.9.7-.6 1-.2 1 .3 1.5.5 1 .9.7 1 .2zM65.1 305.3l1.3-1.2.3-2.3-.8-1.7-1.5-.6-1 .5-.5.7-.3 2.1 1 2 .8.5zM45.8 302.3l.5-1-.2-.5-.7-.4-.5.2-.7.7-.1 1 .8.4z"/><path fill-rule="evenodd" fill="#ec0000" d="M119.4 320.3l-106 0 0-113.5 106 0zM48.9 238.3l2-1.3 1.7-2.2.5-2.5-.4-2.5-1.6-2.5-2.2-1.6-2.5-.4-2.5.6-1.5.9-1.1 1.5-.2 2 .8 3 1.3 2.5 1.7 1.8 2 .9zM100.5 240.3l1.9-.9 1.5-1.5 1.3-2.6.6-2.5 0-2-.9-1.9-1.5-1.1-1.5-.4-3 .4-3 1.8-2.5 2.7-.8 1.5-.3 1.5.4 2 .7 1 1.3 1 2.7 1zM68.1 238.3l1.6-1 1-1.5.4-1.5-.4-2-1-1.5-1.3-1-1.5-.4-2 .3-1.5.8-1 1.3-.6 1.5.2 2 .9 1.6 1.5 1.2 2 .5zM47.1 254.3l1.4-1 1-1.5.4-1.5-.2-2-.8-1.8-1.5-1.5-1.5-.5-1.5.1-2 1-1.4 1.7-.7 2 .2 2 .9 1.6 1.7 1.4 1.8.4zM95.4 271.3l2.1-1.5 1.1-2.5-.2-2.5-1.5-2.5-2.5-1.5-3-.5-3.5.4-1.9 1.1-.5 1 .5 1.5 3.9 5.4 2.6 1.6 1.4.2zM27.6 287.8l3.1-2 5.2-4.5 0-.5-6-6.2-2-.9-2-.1-3.5 1.1-2.2 1.6-1.4 2.5-.1 3 1.1 3 2.1 2.3 1.5.7 1.5.4zM52 289.3l3.9-1.6 1.7-1.4.9-1.5.3-1.5-.3-1.5-1.1-1.5-1.5-1-5.5-1.9-4.5-.4-4.5 1.1-4.9 2.7 0 .5 1.2 1 8.7 6 3 1.1zM82.4 284.8l1.1-1 .3-1-.1-1-.8-1.1-1.5-.7-1.5-.1-1 .4-1.3 1-.5 1.5.3 1 .5.6 2 .8zM101.6 297.3l1.2-1 .5-1 .3-1.5-.2-1.5-.5-1.1-1-1-1-.5-1.5 0-1.1.6-.9 1.2-.4 1.8.2 1.5.7 1.4 1 1 1.5.4zM64.9 306.3l1-.4 1-1.1.5-2.5-.3-1.5-.7-1.3-1-.8-1-.2-1 .4-.9.9-.6 2.5.3 1.5.7 1.3 1 .9zM44.4 303.8l1.5-.5 1-1.2.3-1.3-.3-.9-.5-.4-1.8.3-1.4 1.5 0 1.5.2.5z"/><path fill-rule="evenodd" fill="#fc0000" d="M119.4 320.3l-106 0 0-113.5 106 0zM54.2 218.3l.4-1-.7-.8-1.5-.1-.8.9.3 1 .5.2zM47.8 239.3l2.6-1.2 1.9-1.8 1.1-2.5.1-2.5-1-3-2.1-2.4-2-1.1-3 0-2.5.7-2 1.2-.7 1.1-.1 1.5 1.3 4 2 3.5 2.5 2.2zM100.6 240.8l1.8-.8 1.8-1.7 1.3-2.5.8-3 .1-2-.7-2-1.3-1.3-2-.7-3 .3-3.5 1.9-3.1 3.3-1.1 3 .3 2 1.9 2 3.5 1.4zM67.9 238.8l1.9-1 1.1-1.4.6-1.6-.2-2-.9-1.9-1.5-1.3-2-.6-2 .2-1.9 1.1-1.2 1.5-.5 1.5.2 2 .9 1.7 1.5 1.3 2 .6zM47.2 254.8l1.5-1 1.1-1.5.5-1.5.1-2-.7-2-1.3-1.8-1.5-1.1-2-.2-2 .9-2 1.9-1 2.3 0 2 .8 2 1.7 1.6 2.5.8zM95.1 271.8l2.3-1.4 1.5-2.6-.1-3-.9-2-.8-1-2.2-1.4-3.5-.6-4 .2-2.6 1.3-.6 1 .3 1.5 4.8 6 1.6 1.2 1.5.7zM51.4 289.8l3-.8 2.3-1.2 1.6-1.5.9-2 .1-2-.8-1.5-1.8-1.5-2.4-1-4.9-1.4-3.5-.3-3 .5-5 1.6-1.5.1-2-1-4.5-4.1-1.5-.6-1.5-.2-2.5.5-3.3 1.4-1.8 1.5-1.1 2-.3 3 1 3.4 2 2.6 2.5 1.3 2.5.3 2-.5 2-1.2 4.5-3.6 2-.7 3 1.1 8 5.1 2 .6zM82.6 285.3l1.3-1 .6-1.5-.4-1.5-.8-1-1.4-.7-2-.2-1.5.5-1.5 1.4-.4 1 0 1 .9 1.5 2.5.9zM101.3 298.3l1.1-.6 1.2-1.4.6-1.5 0-2-.5-1.5-1.2-1.5-1.6-.9-1.5 0-1.5.7-.9 1.2-.6 1.5 0 2 .8 2 1.2 1.4 1.5.7zM66 306.8l1.1-1 .6-1.5.2-1.5-.2-2-.7-1.5-.9-1-1.2-.6-1 .1-1 .5-1.1 1.5-.4 1.5.1 2 .8 2 1.1 1.3 1.5.5zM45.4 304.3l1.5-1.2 1-1.8-.1-1.5-.4-.6-1-.5-1 .1-1.5.8-1 1-.5 1.2 0 1 .5 1.1 1 .6z"/><path fill-rule="evenodd" fill="#ff1000" d="M119.4 320.3l-106 0 0-113.5 106 0zM53.8 219.8l1.2-.5 1-1 .1-1-.6-1-2.1-1.1-1.5.1-1 .5-1 1.5.2 1.5 1.3 1zM47.8 240.3l1.6-.8 2-1.5 1.5-1.7.8-1.5.4-1.5 0-2-.6-2-1-2-2.6-2.7-2.5-.7-4 .6-4.5 1.8-.5.5-.1 1 4.1 8.5 3 3.5 1 .5zM100.7 241.3l2.2-1 1.5-1.5 1.5-3 1-3.5 0-2.1-.7-1.9-1.3-1.4-2-.8-1.5-.1-2 .4-3.5 2-3.4 3.4-1.1 2-.4 1.5.1 1.5.5 1 2.2 2 3.6 1.4zM67.6 239.3l2.3-1 1.3-1.5.7-2-.1-2-.9-1.9-1.5-1.5-2-.8-2 0-2 .8-1.5 1.4-1 2 0 2 .7 2 1.8 1.7 2 .8zM47.3 255.3l1.6-1 1.3-1.5.6-1.5.1-2-.6-2.5-1.4-2.2-1.5-1.5-1.5-.6-2.5 1-2.5 2.1-1.2 2.2-.4 2.5.8 2.5 1.8 2 2.5.9zM94.8 272.3l1.1-.4 1.5-1 1.2-1.6.6-1.5.1-1.5-.3-2-1.6-3-2.5-1.5-4-.6-4.5.4-2.7 1.2-.8 1.5.4 1.5 5.3 6 2.8 2 1.5.4zM53.5 289.8l2.4-1 2-1.3 1.4-1.7.7-2-.2-2-1-1.5-1.2-1-2.4-1-5.8-1.7-3-.4-3 .3-5 1.2-2 0-2-1.1-4-3.5-1.5-.6-1.5-.2-3 .6-3.5 1.4-2 1.5-1.3 2-.4 3.5.9 3.5 2.2 3 2.6 1.5 2.5.4 2-.3 2-1.1 5-3.9 2.5-.7 1.5.4 2 .9 6 4 2 .9 2.5.3zM82.7 285.8l1.5-1 .9-1.5-.1-1.5-1.1-1.8-2-1-2-.1-2 .7-1.2 1.2-.8 1.5-.1 1 1.1 1.8 2.5 1.1 1.5 0zM102.1 298.8l1.3-1 1.2-2 .3-2-.3-2-.7-1.5-1.5-1.5-1.5-.6-2 .1-1.5.8-1.2 1.7-.4 2 .3 2.5 1 2 1.3 1.2 2 .7zM65.6 307.8l1.3-.8 1-1.5.5-2.2-.1-2-.6-2-.8-1.2-1.5-1-1.5-.1-1.5.7-1 1.3-.5 1.8 0 2 .8 2.5 1.2 1.7 1.5.8zM45.6 304.8l1.7-1.5 1.2-2-.2-2-.4-.6-1-.6-1.5.1-1.5.8-1.4 1.3-.7 1.5.1 1.7.9 1.3 1.1.4z"/><path fill-rule="evenodd" fill="#ff1f00" d="M119.4 320.3l-106 0 0-113.5 106 0zM53.8 220.8l1.6-.7 1.1-.8.6-1-.2-1.5-1.3-1.5-1.7-.8-2 0-1.5.5-1 .9-.7 1.4-.1 1.5.7 1.5.6.6 1 .3zM47.5 255.8l2.4-1.8 1.4-2.7.2-1.5-.3-2-2.5-5-.1-1 .6-1 3.6-3.5 1.5-2.5.4-3-1-3.5-2.8-4.1-1-1-1-.4-2.5.1-6.5 1.4-5 0-2 .5-1.1 1 .1 1 1.3 1 3.7 1.3 1.5 1.3 6 10.4-.2 1-3.3 3-1.6 2.5-.5 3 .7 2.5 1.4 1.8 2 1.2 2.5.4zM100.8 241.8l2.1-.8 2-2.2 1.5-3.2 1-3.8 0-2.5-.9-2-1.6-1.3-2-.6-1.5 0-2 .4-4 2.4-3.5 3.6-1.1 2-.4 1.5.1 1.5.4 1 2.1 2 3.9 1.6 2 .4zM67.2 239.8l2.2-.7 1.6-1.3 1.1-2 .2-2.5-.6-2-1.8-2-2-1-2.5-.1-2.5 1-1.6 1.6-1 2 0 2 .8 2 1.8 1.9 2 .9zM94.2 272.8l1.7-.5 1.5-1 1.3-1.5.8-2 .2-1.5-.4-2-.9-2.4-1-1.3-1.2-.8-1.8-.7-5-.4-4.5.6-1.5.5-1.2 1-.6 1 0 1 1.3 2 6.7 6.5 2.3 1.2zM53.5 290.3l2.9-1.1 2-1.4 1.2-1.5.9-2 .1-2-.6-1.5-1.6-1.5-2.2-1-9.3-2.4-3 0-5 1-2-.1-2-.9-4.5-3.6-2.5-.7-3 .6-5.1 2.1-1.8 1.5-1.1 2-.4 3.5 1 4 2.4 3.1 3 1.8 2.5.3 2.5-.6 2-1.2 4-3.4 1.5-.8 1.5-.2 1.5.2 2 .9 8 5 2.5.3zM82.8 286.3l1.7-1 1.1-1.5.1-2-.8-1.6-2-1.4-2-.5-2 .3-2 1.3-1.2 1.4-.5 1.5.3 1.5.8 1 1.6 1 1.5.3 1.5.1zM101.5 299.8l1.9-1.1 1.5-1.9.6-2-.1-2.5-.7-2-1.8-1.9-2-.8-2-.1-2 1.1-1.2 1.7-.5 2 .2 2.5 1 2.4 1.5 1.8 2 .9zM66.3 308.3l1.2-1 1-2 .4-2.5-.3-2.5-.7-1.8-1-1.3-1.5-.8-2 0-1.5.8-1.1 1.6-.5 2 .2 2.5.9 2.5 1.5 2 1.5.8zM44.2 305.8l1.2-.4 1.5-1.1 1.9-2.5.4-1.5-.2-1-1.1-1.5-1.5-.3-2 .7-2 1.5-1 1.6-.3 1.5.4 1.5 1.4 1.3z"/><path fill-rule="evenodd" fill="#ff3200" d="M119.4 320.3l-106 0 0-113.5 106 0zM45.5 256.8l1.9-.4 1.5-.8 1.5-1.3 1-1.5.5-2 .1-2-.5-2-1.5-3.5-.1-1.5 4-5 1.4-3 .1-1.5-.3-2-2.8-6-.2-1 .8-1 4-2.2 1-1.3.1-1-.6-1.5-.8-1-1.2-.9-1.5-.6-3 .2-2.2 1.3-1.2 2-.4 3.5-1.1 1-5.1 1.3-6-.2-2.5.3-2.1 1.1-1 1.5.3 1.5 1 1 1.8.8 3.5 1 2 1.2 1.5 2 3.1 5.5.6 1.5 0 1-3.9 5-.8 2-.1 2.5.8 2.5 1.7 2 2.1 1.1zM100.9 242.3l2.5-1 1.5-1.7 1.8-3.8 1.3-4.5 0-2.5-.9-2-1.7-1.5-2-.6-3.5.3-4 2.2-4.3 4.1-1.3 2-.6 2 .1 1.5.4 1 2 2 4.7 2 2 .4zM69 239.8l2.2-1.5 1.3-2 .3-2.5-.6-2.5-1.6-2-2.2-1.3-2.5-.4-2.5.7-2 1.5-1.6 2.5-.2 2 .6 2 1.4 2 2.3 1.5 2.5.5zM95.9 272.8l2.5-2.1 1-1.7.5-1.7 0-2-.5-2.1-1-2.2-1-1.2-1.5-.8-2-.5-6-.3-4.5.8-1.6.8-1.1 1-.5 1.5.9 2 7.8 7.1 1.5 1 2 .7 2 .1zM50.9 291.3l3-.6 3-1.1 2-1.5 1.4-1.8 1-2.5-.1-2-1.2-2-2.1-1.3-11-3-2.5-.1-5.5.7-2-.2-1.5-.7-4.5-3.6-2.5-.7-3 .6-6 2.4-2 1.4-1.2 2-.4 2-.1 2 1 4 2.2 3.3 3 2.1 3 .7 2.5-.4 2-1.2 5-4.2 1.5-.7 1.5-.1 3.5 1.1 7 4.7 1.5.6zM82.8 286.8l2-1 1.2-1.5.4-2-.5-1.7-1.5-1.6-2-1-2.5-.1-2 .7-2 1.7-1 1.5-.3 1.5.5 1.5 1.3 1.3 2 .8 2 .2zM102.4 300.3l2-1.5 1.2-2 .6-3-.4-2.5-1.1-2-1.8-1.6-2.5-.9-2 .1-2 1.2-1.4 2.2-.4 2.5.4 2.5 1.1 2.5 1.8 2 2 .8zM65.8 309.3l1.6-1 1.3-2 .6-2.5-.2-3-.7-2.5-1.2-1.5-1.8-1-2-.1-1.5.6-1.3 1.5-.7 2-.1 2.5 1.1 3.4 1.5 2.4 1.5 1.1zM44.6 306.3l1.3-.7 1.5-1.3 2.1-3 .3-1.5-.2-1-.7-1.2-1-.7-2 .1-2 1-2.1 1.8-1.1 2-.1 2 .8 1.5 1.5 1z"/><path fill-rule="evenodd" fill="#ff4100" d="M119.4 320.3l-106 0 0-113.5 106 0zM46.3 257.3l2.1-.7 1.5-1 1.3-1.3 1-2 .4-3.5-1.5-5-.2-1.5.7-1.5 4.1-5.5.7-2.5-.7-3-2-4.5-.1-1.5.7-1 3.6-2.5.8-1.5-.1-1.5-1.2-2-2-1.6-2-.6-3 .3-2.4 1.4-1.4 2-1.2 3.3-1.5 1.2-3 .7-6.5-.2-3 .4-2.9 1.6-1.1 2 .2 1.5 1.3 1.5 2 1 5.5 1.7 1.5 1.1 1.5 2.1 2.2 4.1.4 2-.3 1-2.6 3.5-1 2-.4 2.5.4 2.5 1.3 2.4 2 1.7 2.5.9zM101.2 242.8l2.2-.8 2-2.4 2.3-5.3 1-4-.1-2.5-1.1-2-1.6-1.3-2.5-.7-2 .1-2 .5-4 2.5-4.8 4.9-1.2 2-.5 1.5.1 1.5.4 1 1.4 1.5 1.5 1 5.1 2.1zM69 240.3l2.4-1.5 1.4-2 .6-2.5-.7-3-1.4-2-2.4-1.7-3-.5-2.5.6-2.3 1.6-2 2.5-.6 2 .6 2 1.8 2.5 2.5 1.8 2.5.6zM95.8 273.3l1.6-1.1 1.3-1.4 1.1-2 .4-1.5 0-2-.8-3-.9-2-.8-1-1.3-.8-2.5-.5-7-.2-4.5.7-1.5.8-1.2 1-.7 2 .7 2 5.2 4.1 3.5 3.3 2 1.3 2 .6 2 .1zM25.9 292.3l1.5-.4 1.5-.9 5.5-4.9 2.5-.9 2 .2 2.5 1.1 7.5 5.2 2 .2 3.5-.7 3.5-1.4 2-1.8 2-3.7.1-2.5-.7-1.5-.9-1-2.5-1.2-11.5-3.1-8.5.2-2-.8-5-3.8-2-.4-2 .3-7.5 2.8-2 1-1.7 2-.8 3.5.1 2.5.6 2.5.9 2 1.4 2 1.5 1.5 2 1.2 2.5.7zM82.8 287.3l2.2-1 1.5-1.5.6-2-.4-2-1.3-1.8-2-1.2-2.5-.5-2.5.5-2 1.4-1.8 2.1-.6 1.5.2 1.5 1.2 1.7 2 1.1 2.5.5zM102 301.3l2.4-1.5 1.7-2.5.7-3-.3-3-1.1-2.3-2.1-1.7-2.9-1.1-2.5.1-2 1.2-1.4 2.3-.4 2.5.4 3 1.3 3 1.6 2 2 1zM66.6 309.8l1.8-1.8 1-2.2.3-3-.5-3.5-.8-2.1-1.5-1.4-2.5-.8-2 .1-1.5 1-1.3 2.2-.4 2.5.4 2.5 1.6 4 1.7 2.1 2 .8zM44.8 306.8l1.6-1.1 1.5-1.4 1.6-2 .7-1.5 0-2.5-.8-1.3-1-.7-2 0-2.5 1.3-2.6 2.2-1.2 2-.1 2 .9 2 2 1.2z"/><path fill-rule="evenodd" fill="#ff5100" d="M119.4 320.3l-106 0 0-113.5 106 0zM47.1 257.8l1.8-.7 1.5-1 2.1-2.8.6-2 .2-2-1.3-5.5 0-1.5 1-2 3.4-4.1 1-.4.5.2 3 3.2 2 1.3 2 .6 2 .1 2.5-.6 2-1.1 1.5-1.7 1-2.5-.1-2.5-1.1-2.5-1.8-2.1-2.5-1.3-2-.4-2 .2-2.5 1.1-3.5 2.7-1 0-.5-.5-1.8-3.7-.3-2 .7-1 3.6-3 .4-1-.1-1.5-.9-2-1.4-1.5-1.7-1.2-2-.7-3 .2-2.5 1.2-1.9 2-1.9 3.5-1.2.9-2.5.6-6.5 0-3.5.5-2 .9-1.4 1.1-.8 1-.5 1.5.4 2 1.8 1.9 2.5 1.2 5.5 1.5 1.5 1 1.5 1.9 1.6 3 .5 2-.4 1.5-2.3 3.5-.9 2-.3 3 .5 2.5 1.4 2.5 2.4 1.8 3 .9zM101.9 243.3l2-.9 1.5-1.9 3.1-7.2 1-4-.1-2-1-2-2-1.6-2.5-.8-2 0-2 .6-4 2.4-5.7 5.4-1.4 2-.7 2 .1 1.5.4 1 1.4 1.5 1.5 1 5.9 2.4 2.5.6zM93.9 274.3l2-.6 1.5-1 2-2.4.9-2 .3-2-.3-2-.9-3.3-1-1.9-1.1-.8-1.9-.6-7.5-.4-5.5.5-1.5.5-1.6 1-1.1 1.5-.5 1.5.3 1.5.9 1.3 5 3.5 5 4.2 2.5 1.2zM26.1 293.3l1.3-.4 1.5-.9 5.5-5.4 1.5-.7 1.5-.3 2 .3 2.5 1.2 6 4.8 1.5.9 2-.1 5-1.4 2.5-1.2 1.5-1.6 2.3-4.7 0-2.5-1.2-2-2.1-1.2-6-1.5-7-2.1-6.5 0-1.8-.2-2.1-1-4.6-3.6-2-.4-2 .4-9.5 3.6-1.5.8-1.7 2.2-.7 3.5.1 3 .7 2.5 1.1 2.5 1.5 2 2 1.7 2 1.1 2.5.7zM82.8 287.8l2.5-1 1.7-1.5.8-2-.3-2.5-1.3-2-2.3-1.5-2.5-.6-2.5.3-2 1.2-2.8 3.1-.8 1.5.1 1.5 1.4 2 2.1 1.2 3 .5zM101.5 302.3l1.4-.5 1.5-.9 2-2.5 1.1-3.1-.1-3.5-1-2.5-2-2.1-3.5-1.5-3-.2-2.4 1.3-1.4 2-.6 2.5.2 3 1.2 3.5 2 3 2 1.3zM66.4 310.8l2-1.7 1.5-3.3.3-3-.6-4-.8-2-1.4-1.3-3-1.1-2.5 0-1.5.9-1.4 2.5-.4 2.5.4 2.5 1.9 4.8 1.5 2.3 2 1.1zM44.9 307.3l3.4-3 2.4-3.5.4-1.5-.3-1.5-.9-1.8-1-.7-2 .2-3.5 2-2.6 2.3-1.2 2-.2 2.5.6 1.5.9 1 2 .9z"/><path fill-rule="evenodd" fill="#ff6400" d="M119.4 320.3l-106 0 0-35.8 1.5 3.8 2.4 3 3.1 2.2 3 .9 2.5.1 2.5-1 5.2-5.7 2.8-1.7 1.5-.1 2 .4 4 2.4 3 3 .6 1 .1 1-.9 1-4.2 3-2.3 2-1.1 1.5-.5 2 .3 2 .9 1.5 1.6 1.3 1.5.4 1.5-.3 1.5-1.1 3.3-3.3 1.9-2.5.8-2.5-.7-3.5.2-1 2-1.1 5.5-1.5 1-.8 3.4-6.6.6-2-.1-1-.7-1.5-.9-1-1.3-.8-8-1.7-6.5-2.4-7.9-.6-1.9-1-3.7-3-2.5-1-2 .3-6 2.7-6.4 2-1.6 1.3-1 2.1 0-69.9 106 0zM45.7 258.8l2.2-.5 2-.9 1.9-1.6 1.3-2 .7-2 .2-2-1-7 .8-2 2.1-2.5 1-.6 1 .1 3.2 2.5 1.8.9 2.5.5 2.5-.1 2.5-.8 2-1.3 1.3-1.7.8-2.5-.1-2.5-1-2.5-2-2.4-2.5-1.5-2-.5-2.5.1-2 .7-3.5 1.9-1 0-.5-.3-1-1.6-.2-1.9.5-1 3.2-3 .4-1 0-1.5-.9-2-2-2.5-2-1.4-2-.7-3 .1-3 1.2-2 1.8-2.5 3.5-1.5.9-2 .4-7 .2-4.5 1.2-2.5 1.8-.8 1-.6 1.5.2 2.5 1 1.5 1.2 1 3 1.5 6 1.6 1.5 1 1.5 1.7 1.1 2.2.4 2-.4 1.5-2 3.5-.8 2-.3 3 .5 2.5 1.2 2.5 2.3 2.2 2.5 1zM102.8 243.8l1.6-1 1.5-2.3 3.8-9.2.8-3-.5-2.5-1.4-2-2.2-1.4-2.5-.5-2 .1-2 .6-4 2.6-6.8 6.6-1.4 2-.6 2 .3 1.5.6 1 1.1 1 2.5 1.5 6.8 2.6 2.5.5zM94.6 274.8l1.8-.8 2-1.9 1.6-2.3.7-2 .1-2-.7-3.5-.7-2.6-1-1.5-1.5-.8-2-.3-10-.3-4 .6-2.5 1.4-1.4 2-.5 2 .2 1.5 1.2 1.5 5.5 3.5 5.5 4.4 3 1.1zM82.8 288.3l3-1 1.9-1.5 1-2-.1-2.5-1.3-2.5-1.9-1.7-3-1-3 .1-2.5 1.5-3.5 3.6-.8 1.5.1 1.5 1.7 2.5 2 1.1 3 .6zM101.5 303.3l1.9-.6 1.5-1 2.3-2.9 1.1-3.5-.2-4-1.1-2.5-2.2-2-3.9-1.7-2-.4-1.5 0-2.2 1.1-1.7 2-.7 2.5.3 3.5 1.3 4.1 2 3.4 1 .9 1.5.9zM66.5 311.8l1.4-1 .9-1 1.5-3.5.3-3.5-.8-5-.9-1.8-1.5-1.1-4-1.3-2.5-.3-1.3 1-1.4 3-.4 2 .4 2.5 2.7 6.7 1.5 2.4 2 1.1z"/><path fill-rule="evenodd" fill="#ff7300" d="M119.4 320.3l-106 0 0-32.1 2 3.1 3 2.7 3 1.5 3.5.5 2.5-.5 1.5-1 4.3-5.7 2.7-2.1 1.5-.4 2 .2 3.5 1.8 3 3 .8 1.5-.1 1-1.4 1.5-6 5-1 1.5-.5 2 .4 2 .8 1.5 1.5 1.4 1.5.7 1.5-.1 1.5-.7 5.6-5.8 1.5-2 .8-1.5.5-4 1.6-1.1 1.5 0 .7.6-.3 4 .4 2 4.2 9.9 1 1.5 1 .7 1 .3 1.5 0 1.5-.6 1-1 2-3.9.6-3.9-.6-5.5-1-2.7-1.5-1.1-4.8-1.7-.8-.5-.8-1 0-1.5.4-1.5 2.8-5 .4-1.5-1.1-2.5-1.6-1.5-1.5-.5-7.5-1.2-8-3.1-6-.8-1.8-.9-4.2-3.4-2.5-.8-2.5.6-6.5 3.3-6.5 1.4-2 1.3 0-66.9 106 0zM48.1 259.3l1.8-.8 1.7-1.2 1.4-1.5 1.1-2 .8-4-.7-6.5.5-1.5 1.2-1.7 1-.6 1 0 4 2.1 2 .6 2.5.1 3-.5 2-.7 2-1.6 1.2-1.7.7-2.5-.1-2.5-1.1-2.5-1.7-2.3-2.5-1.8-2-.8-2.5-.4-2.5.4-3.5 1.2-1.1-.3-.2-.5.1-1 2.2-2.5.8-1.5-.2-2.5-1.3-2.5-2.3-2.7-2-1.5-2.5-.8-3 .2-3 1.1-2.2 1.7-2.8 3.1-1.5.9-2 .5-7 .3-4.5 1.3-2 1.2-1.5 1.3-1.1 1.9-.4 1.5.1 1.5.7 1.5 2.2 2.3 3.5 1.7 6.8 2 1.7 1.2 1.2 1.8.5 1.5 0 1.5-2.3 5-.6 3.5.5 4 1.5 3 2.2 2 2.5 1.1 3 .3zM103.7 244.3l1.2-1.1 1-1.7 5.2-11.7.6-2.5-.5-2.5-1.8-2.3-2.5-1.4-3-.6-3.5.7-3.5 2.4-8.7 8.2-1.5 2-.7 2 .3 1.5.6 1 1.2 1 2.6 1.5 8.7 3.4 2.5.4zM95.2 275.3l1.7-1.2 2-2.2 1.4-2.1.7-2 .1-2-.7-3.8-.7-2.7-.8-1.6-1-.7-2-.4-12.5-.3-3.4.5-2.1 1.3-1.6 2.2-1 2.5.1 2 1 1.5 6.5 4 4 3.6 1.5.9 3.5.9 2 0zM82.9 288.8l3.5-1 2.4-1.5 1.1-2 0-2.5-1.2-3-2.3-2.5-1.5-.7-2-.4-3 .1-2.5 1.3-4.7 4.7-1 1.5 0 1 1.7 2.9 2 1.5 3.5.8zM102.5 304.3l1.9-.9 1.5-1.1 1.3-1.5 1.2-2 .6-2 .4-2.5-.5-4-1.6-2.5-3.1-2-5.3-1.9-3 .1-2.5 1.5-1.3 2.3-.1 3.5 1.1 4.5 1.8 4.4 2 2.8 2.5 1.4 1.5.1z"/><path fill-rule="evenodd" fill="#ff8600" d="M119.4 320.3l-106 0 0-28.5 2.5 2.8 3 2 3.5 1.2 3.5.2 1.5-.4 1.5-1.1 4-6.7 2.5-2.4 1.5-.6 2-.1 1.5.5 2 1.1 1.8 1.5 1.2 1.5.6 1.5-.2 1-1.2 1.5-6.6 5.5-1 1.5-.5 1.5.2 2 1 2 1.7 1.8 2 1 1.5 0 1.5-.8 8.5-9 1-.8 1-.3 1 .7 2 3.2 4 9.7 1.5 1.3 2.5.3 2-.9 1.5-1.9 1.7-4.8.4-3-.7-6.5-.8-2.5-1.2-1-4.9-1.8-.9-.7-.7-1 0-1.5.6-2 1-1.7 2.4-2.8.3-1-1.5-3-1.7-1.8-1.5-.4-6.5-.3-3.5-.9-6.5-3.5-5.9-1.6-4.6-3.7-2.5-1-1.5.1-1.5.5-5 3.3-3 1.3-2.5.4-5.5.4 0-64.8 106 0zM47.5 260.8l2.4-.9 2-1.2 1.5-1.5 1.4-1.9.8-2 .4-2.5-.1-7 1-1.9 1.5-.4 3.5 1.2 2.5.3 3.5-.2 3-.7 2-.9 1.7-1.4 1.2-2 .7-2.5-.2-2-.5-1.5-1.1-2-1.7-2-1.6-1.5-2-1.2-6.2-1.8-.4-.5-.8-4-2.6-4.3-3.5-3.5-2-1-1.5-.3-3 .1-3 1.1-2.2 1.4-3.4 3-1.9.9-8.5 1-3 .7-2.5 1-2.2 1.4-1.6 1.5-1.3 2-.5 2 .7 3 .9 1.5 1.6 1.5 3.9 2 8 2.4 1.4 1.1.7 1 .4 1 0 1.5-1.7 5-.4 4 .8 4.5 1.8 3.5 2 1.7 2.5 1.1 3 .4zM103.8 245.3l1.6-1.7 3.5-8.4 1.5-2.7 2.7-3.7.6-2-.7-3-1.9-2.5-2.7-1.8-3.5-.7-3.5.5-3 1.9-12.3 11.6-1.1 1.5-.5 1.5.2 1.5.8 1 3.2 2 11.2 4.6 2.5.6zM103.2 305.8l1.7-.8 2-1.6 1.8-2.1 1-2 .8-2.5.3-2.5-.2-2.5-.7-2.5-1-1.5-1.3-1-5.7-2.5-4.5-1.6-4 0-1-.3-1-1.6-.6-2 .1-1 .5-.4 3-.8 2-1.3 2.5-2.9 1.9-3.1.5-1.5 0-2-1.5-8-.9-1.2-2-.6-15-.4-3 .6-1.5 1.1-2 3-1.3 3-.3 2 .4 1 .8 1 6.3 4 1 1.5-.4.5-2.5.9-1.5 1.1-3.5 3.8-3.7 3.2-.2.5.1 1 2.8 4 1 .8 1.5.6 5 .3 7.5-1.3 1.5.2.8 1.4 3.2 9.6 2.2 4.4 1.3 1.3 1.5.8 2 .3z"/><path fill-rule="evenodd" fill="#ff9500" d="M119.4 320.3l-106 0 0-22.8 3.5 2.5 3.5 1.5 4 .7 3.5-.6 1-.6 1-1.4 1.7-6.3 1.5-3 1.8-2.1 2-1.1 2.5 0 2.5 1.2 2.8 2.5.8 2-.3 1-1.1 1.5-7.9 6-1.7 2-.4 1.5.3 2 .9 2 1.5 2 1.6 1.3 1.5.8 1.5.3 1-.2 1.5-1.2 3.8-5 3.2-3.5 2.5-1.9 1.5-.2 1 .6 1 1.1 1.9 3.4 1 3 1.6 6.9 1 1.3 2 .7 2-.1 1.5-.5 1.3-.8.7-.9 2-10.6-.7-8.5-.5-2-1.3-1-4.8-1.5-1.2-1-.5-1 0-1.5.8-2 1.2-1.5 1.5-1.2 1.5-.5 1.5.5 4 4.9 1.5.8 4.5.3 7.5-.6 2 .4 1 1.1 1 2 5 13.2 1.5 1.9 2 1 2.5.2 2.5-.7 2.5-1.3 2.3-2 1.8-2.5 1.2-2.5 1-3.5.2-3-.5-4-.7-1.5-1-1-1.9-1-5.4-1.8-4.1-1.7-3.6-2-1-1-.2-1 .4-1 4.6-6.5 1.6-3.5 0-2-1.2-8.5-.5-1.2-1-.6-10 .1-8.5-.8-1.5.2-1 .6-1.5 1.7-2.1 3.5-1.9 3.5-.8 2 .5 1.5 5.2 3.5.6 1-.2 1.5-1.4 2.5-2 2.5-2.4 1.7-2 .8-1-.1-1-.5-3-4.2-1-.9-7.5.5-2.5-.4-2.7-.9-2.4-1.5-3.4-3.5-3.6-2.5-1.4-1.5-.4-1 .4-.7 5.5-.4 3-.7 3-1.3 2.5-1.9 1.2-1.5 1-2.5 1.6-9.5.8-1.5 1.4-.6 10-1.1 3.3-.8 1.6-1 1.4-1.5 1.6-2 .6-1.5-.2-1.5-1-2-3.7-5-3.1-2.8-6-3.2-4-6-3.5-4.5-2.5-2.4-2.5-1.2-3-.2-3.5.9-2.5 1.2-4.5 2.9-1.8.8-8.2 1.1-4.5 1.1-5 2.6-1.9 1.7-1.6 2-1.2 3 0 2.5.8 2.5 1.9 2.4 3.5 2.2 11 3.7 1.1.7.9 1 .3 1.5-.4 5.5.3 4.5 2.1 10-.7 1-5.6 2.3-5.3 4.2-2.7 1.4-2 .4-2 .1-4.5-1.3 0-62.6 106 0zM104.5 246.3l1.1-1.5 2.8-7.7 2-3.6 2.5-2.2 4.3-1 .7-1 .3-1.5-.1-2-.7-2.5-1-2-1.5-2.1-2-1.7-2-1.1-2.5-.9-2.5-.3-3 .3-2.5 1.5-7.3 8.8-3.7 3.3-6.3 4.7-1.4 1.5-.4 1 1 1.5 2.6 1.5 17 7.1 1.5.3z"/><path fill-rule="evenodd" fill="#ffa500" d="M82.9 231.9l-2 .2-2-.7-6.5-6.3-6-3.8-1.5-1.3-3.5-4.3-3.4-4.9-.9-2.5.2-1.5 24.4 0 9.2 3.1 2.5 1.3 1.9 1.6 1.4 2 .4 2-.4 2.5-1.4 3-2.4 3-3 2.7-3.5 2.4zM109.4 284.8l-3.5-.3-4.5-1.6-3.3-2.1-1.3-2 0-1 .5-1.5 3.6-6 .9-2.5.1-2-.8-5-.1-5-.4-1-1.2-.4-6 .7-4.5.1-4-.4-5-1.1-1.5.1-1.5 1.4-3.5 5.8-2.5 3-2.5 1.6-1.5.3-1.5-.2-2-.8-1.9-1.6-1.4-2-1-2.5-.3-3 .2-3.5.8-3.5 1.1-2 1.5-1.3 3-1 3.5-.5 6.5-.2 4.5-3.1 1.5-.5 2-.1 4.5.9 6.5 2.4 4.8 2.4 4.2 3.1 1 .4 1-1.1 2.5-8.9 2-4.3 1-1.2 1.5-1 1.5-.1 1.2.6 1.3 1.5.9 2 .7 3 .1 2.5-.8 6-2.4 6.5 1 7-.8 7 .3 8-.8 3.5-1.4 2.5-1.8 1.4zM21.4 269.9l-2.5.2-2.5-.6-1.7-1.2-1.1-2-.2-19.8 2-3.7 2.5-2.7 3-1.4 3-.2 2.5.5 2 .9 1.9 1.4 1.1 1.5.8 2 .6 3 .8 9.5-.7 2.5-1.5 2-6.9 6.5zM57.9 275.8l-4-.3-2-.7-1.7-1-1.5-1.5-.7-1.5.1-1.5.6-1 1.2-1.1 1.5-.7 3.5-.7 4 .6 2.7 1.4 1.9 2.5.4 1.5-.2 1-.7 1-1.4 1zM70.9 280.3l-1.5 0-1.6-1-1.3-2-.8-3 .2-1.5 1-1.4 1.5-1 2-.6 2 .2 2 .8 1.6 1.5.5 1.5-.5 2-1.3 2-1.8 1.6zM83.9 316.8l-4 .3-3.5-.5-2.5-1.1-1.7-1.7-.6-2.5.8-6.5-.8-10.5-.9-1-5.1-1-1.8-1.5-.4-1.5.3-1.5 1-1.5 1.2-1.1 2-.5 1.5.5 1.5 1.6 2 3.4 1 .6 13-.4 2 1 1.5 2.1 1.8 4.3 1.3 4.5.4 3.5-.3 3.5-1.1 2.5-2.1 2.3-2.5 1.5zM36.4 299.9l-2 .2-1-.4-.8-.9-.6-2.5.3-3 1.3-3 1.8-2 2-.9 2 0 2 .8 2 1.6 1.4 2 .1 1.5-.9 1.5-1.6 1.5-3.5 2.3zM54.9 318.9l-3.5.2-3-1-1.5-1.1-1-1.1-.6-1.1-.2-1.5.2-1.5.8-2 2.3-3.5 3.5-3.4 1.5-.8 1-.1 1 .3 1 .8 1.5 2.2 1.2 3 .6 3.5-.1 2.5-.8 2-1.9 1.8z"/><path fill-rule="evenodd" fill="#ffb700" d="M84.4 230.3l-3 .3-2.5-.8-6.9-6-7.1-5-3.5-3.9-2.2-3.6-.5-2 .3-1 .7-1 .6-.5 16 0 13.1 4.8 2 1 2 1.5 1.4 1.7.7 2-.1 2-.9 2.5-1.8 2.5-2.8 2.6-3 2zM108.9 283.8l-1.5.2-2-.1-4.2-1.6-1.5-1-1.4-1.5-.5-1-.1-1.5.6-2 3.1-5.5.7-2-.7-7.5.7-4.5 1.3-2 3-1.5 1-1-.5-5.5 1.2-6 1-2.5 1.3-2.2 1-.9 1.5-.5 1.5.7 1.5 2.4.7 3 .1 3.5-1.1 5-1 2-1.8 2.5-.3 1 1.7 5 .4 2.5-.1 2.5-1.1 5.5.4 5-.1 3-.8 2.5-1.1 2-1.4 1.3zM21.4 269.4l-2 .2-1.6-.3-1.5-1-1-1.5-.3-2 .2-4-1-6 0-3.5 1.2-4.5 2.3-3.5 1.7-1.5 1.5-.8 1.5-.4 2 0 2 .5 1.5.7 1.5 1.3 1.2 1.7.9 2 .7 3 .3 6-.5 2.5-1.4 2.5-6.2 6.8-1.5 1.1zM68.9 263.8l-2.5.2-2.5-1.1-2.4-2.6-1.1-3-.3-3.5.7-4 1.4-2.5 2.2-1.6 2.5-.8 3-.2 2 .3 3.5 1.4 1 .1 3-3.2 1.5-1.2 2.5-.9 2.5 0 4.5 1 5.2 2.1 3.9 2.5 1.6 2 .3 2-1 1.6-2.6 1.4-3.4.8-4 .2-4-.3-3.4-.7-4.1-1.7-1 0-1 1.1-2.2 4.6-1.8 2.8-2 2.1zM58.4 275.3l-2 .2-2-.2-1.8-.5-1.7-1-1.1-1-.6-1.5.1-1 .5-1 1.6-1.3 3-.8 3 .3 2.5 1.1 1.6 1.7.5 2-.3 1-.9 1zM71.9 279.4l-1.5.3-1.5-.5-1.3-1.4-.7-2 .1-1.5.7-1.5 1.7-1.3 1.5-.5 1.5.1 1.6.7 1.1 1 .6 1.5-.3 1.5-.8 1.5-1.2 1.2zM69.4 292.3l-2 0-1.5-.4-1-.6-.8-1-.2-1 .4-1.5 1.1-1.5 1-.7 1.5-.2 1 .3 1.3 1.1.9 1.5.5 1.5-.2 1.5-.5.5zM36.9 298.9l-2-.1-1.5-1.4-.6-2.1.2-2.5 1-2.5 1.4-1.6 2-1 2 0 2.4 1.1 1.7 1.5.9 1.5 0 1.5-.9 1.5-1.6 1.5-2.5 1.6zM83.9 315.3l-3.5.4-3.5-.5-2.5-1.1-1.6-1.8-.5-2 .6-5-.5-5.5.1-3.5.8-3 1.6-1.2 2.5-.7 4-.4 3.5 0 2 .3 1.5.9 1 1 2.1 4.1 1 3.5.3 3-.4 2.5-1.2 3.5-1.1 2-1.6 1.5-2.1 1.2zM54.4 317.3l-3 .1-2.5-1-2-1.8-.8-2.3.7-3 2-3 2.6-2.5 2.5-1.2 1 .2 1 .5 1.5 1.8 1.2 2.7.6 3-.3 2.5-1 1.9-1.5 1.3z"/><path fill-rule="evenodd" fill="#ffc700" d="M84.9 229.4l-3 .2-3-1-6.8-5.8-7.7-5.3-2.5-2.7-1.8-3-.3-2 .8-1.5 2.4-1.5 9.6 0 15.8 5.7 3.8 2.3 1.3 1.5.8 2 .1 2-.7 2-1.7 2.5-2.1 2-2.5 1.6zM111.9 251l-1.5.2-1.5-1.3-1-2.1-.3-3 .4-3.5 1.2-3.5 1.7-2.4 1.5-.7 1.5.6 1.1 1.5.7 2.5.2 3-.3 3-.9 2.5-1.3 2.1zM21.4 268.8l-1.5.2-1.5-.3-1.3-.9-.6-1-.3-1.5.3-4.5-1.1-5.5-.1-3.5 1-4 2.1-3.4 1.5-1.3 1.5-.8 3-.3 2 .5 1.5.9 2.3 2.9 1.3 4 .2 5-.5 2.5-1.4 2.5-5.8 7zM92.9 254.3l-3.5.1-3.5-.4-3-1-2.1-1.2-1.5-1.5-.6-2 .4-2 1.1-2 1.2-1.2 2-1 2-.3 2 .1 5.5 1.5 2.9 1.4 2.3 1.5 1 1 .8 1.5.1 1.5-.4 1-.8 1-1.7 1zM68.9 262.8l-1.5.2-1.5-.3-2.5-1.7-1.7-2.7-.8-4 .6-3.5 1.6-3 2.3-1.7 3.5-.7 2.5.4 2.5 1.5 1.6 2 .5 2-.7 4-1.7 3.5-2.2 2.6zM107.4 283.4l-3-.3-3.1-1.3-2.2-2-.5-1-.3-1.5.7-2.5 3.3-6.5.1-2-.7-5.5.1-2 .6-2 .9-1.5 1.1-.9 2-.8 2-.2 1 .1 1 .5 1.8 2.3 1.3 3 .3 3-1.4 7 .5 5.5-.5 3.5-.8 2-1.1 1.5-1.6 1.1zM58.4 274.9l-3 .3-3.1-.9-1.4-1-.7-1-.2-1 .3-1 1.6-1.5 2-.7 2.5 0 2.5.9 1.5 1.4.5 1.9-.6 1.5zM71.9 279l-1.5.1-1-.3-1-1-.7-1.5.1-1.5.6-1.4 1-.9 1.5-.6 1.5.1 1 .3 1 .8.6 1.2 0 1-.5 1.5-1.1 1.2zM68.9 291.8l-2.5-.2-1.7-1.3-.3-1 .2-1 .8-1.3 1-.7 1-.3 1.1.3.9.5 1 1.5.3 1.5-.3 1zM38.4 297.9l-2 .3-1.5-.6-1.1-1.3-.4-2 .4-2.5 1.1-2 1.5-1.4 2-.5 2 .4 2 1.3 1.3 1.7.4 1.5-.3 1-1.2 1.5-2.2 1.6zM81.9 314.8l-3-.1-2.5-.6-2-1.1-.9-1.2-.5-2 .5-4.5-.6-5 .1-3 .9-3 2-1.6 4-1 5-.1 1.5.4 1.5.8 2 2.2 1.7 4.3.4 4-.4 2-1.6 4-1.5 2.5-2.6 1.9zM54.4 316.3l-2.5.1-2.5-.8-1.9-1.8-.7-2 .5-2.5 1.8-3 2.3-2.1 2.5-1 1.5.4 1.5 1.4 1.2 2.3.6 3-.1 2-1 2-1.2 1.1z"/><path fill-rule="evenodd" fill="#ffda00" d="M84.4 228.8l-3-.2-2.5-1-6.5-5.5-8-5.3-2-2.2-1.4-2.3-.3-2 .7-1.4 1.5-1.1 2.5-.8 3-.1 3 .4 4 1.2 12 4.6 3.8 2.2 1.4 1.5.9 2 0 2-.7 2-1.4 2-2.2 2-2.3 1.3zM111.9 249.5l-1.5 0-1.3-1.2-.8-2-.2-2.5.4-3 .9-2.6 1.5-2.1 1.5-.5 1.3.7.9 1.5.5 2 .2 2.5-.3 2.5-.7 2-.9 1.5zM93.4 253.8l-3 .3-3.5-.4-2.5-.7-2.3-1.2-1.4-1.5-.6-1.5 0-2 1-2 1.3-1.3 1.4-.7 3.6-.5 5 1.2 4.3 2.3 1.1 1 1 1.5.2 1.5-.3 1-.7 1-1.4 1zM20.9 268.3l-1.5 0-1-.5-1.1-1.5.2-5-1.3-6 0-4 1-3.5 1.7-2.6 2.5-1.7 3-.5 1.5.4 1.5.9 2.1 2.5 1.4 4 .1 4.5-.7 2.5-1.4 2.5-2.7 3-2.6 3.5-1.2 1zM69.4 261.9l-2.5.2-2.5-1.2-1.9-2.6-.8-3 .2-3.5 1.3-3 2.2-2 2.5-.7 2.5.2 2 1 1.8 2 .9 2.5-.3 3-1.2 3-1.8 2.5zM106.9 282.8l-3-.3-2.5-1.2-1.9-2-.6-2.5.6-2.5 3.1-6 .1-2-.7-5 .5-3.5.8-1.5 1.1-1.1 1.5-.6 2-.2 2 .6 1.8 1.8 1.2 2.5.4 3-.3 2-1.2 4.5.4 6-.5 3.5-.6 1.5-1.2 1.5-1.5 1.1zM56.9 274.8l-2.5-.1-2.3-.9-1.2-1.5-.1-1 .4-1 1.7-1.2 2-.4 2 .2 2 1.1 1 1.3.1 1.5-1.1 1.3zM71.9 278.5l-1.5 0-1-.5-.6-.7-.4-1.5.7-2 .8-.8 1.5-.4 2 .6 1 1.6-.5 2-1 1.1zM68.4 291.3l-2-.2-1.3-1.3.1-1.5 1.2-1.4 1-.2 1 .2 1.3 1.4.3 1-.2 1zM38.4 297.4l-2 .1-1.3-.7-.9-1.5-.3-2 .5-2 1-1.6 1.5-1.1 2-.3 1.8.5 1.5 1 1.1 1.5.3 1.5-.3 1-1.2 1.5-1.7 1.2zM83.4 313.9l-3.5.3-3-.6-2.2-1.3-1-2 .3-5-.7-5.5.4-3 .7-1.8 1-1.1 1.5-.9 2-.6 4.5-.3 3.5.9 1.5 1.1 1 1.2 1.1 2 .7 2.5.2 2-.3 2-2.6 6.5-2.1 2.2zM54.9 315.4l-2.5.3-2.5-.7-1.6-1.2-.9-2 .3-2.5 1.4-2.5 2.3-2.3 2-.8 1.5.1 1.5 1.2 1.1 1.8.8 2.5 0 2-.8 2-1.1 1.2z"/><path fill-rule="evenodd" fill="#ffe900" d="M85.9 227.8l-3 .3-3-.8-2-1.4-5.4-4.6-7.1-4.4-1.8-1.6-1.5-2-.6-2 .4-1.5 1.5-1.3 2-.7 2.5-.2 3 .3 6.5 2.1 10 3.9 2.5 1.4 1.6 1.5.9 1.5.4 1.5-.3 2-1 2-1.6 1.8-2 1.4zM111.9 248.3l-1.5-.1-1-.9-.6-1.5-.3-2 .3-2.5.8-2.5 1.3-1.9 1-.5 1 .2 1 1.2.6 2 .2 2-.2 2-.6 2.2-1 1.6zM93.4 253.4l-2.5.3-3-.2-2.5-.6-2.2-1.1-1.5-1.5-.6-1.5 0-2 .7-1.5 2.1-1.8 1.5-.6 2-.1 4.5.9 4.1 2.1 1.8 2 .4 1.5-.2 1-.6 1-1.1 1zM21.4 267.5l-1 .1-1-.2-1-1.1-.2-1.5.3-3.5-1.5-5.5-.2-4 1-3.5 1.6-2.4 2.5-1.7 2.5-.3 2.5 1 2.1 2.4 1.3 3.5.2 4-.7 2.5-1 2-3.6 4-2.1 3zM68.9 261.4l-2.5-.2-2.2-1.4-1.5-2.5-.5-3 .5-3 1.3-2.5 1.9-1.5 2.5-.7 2 .4 2.1 1.3 1.4 2 .6 2.5-.3 2.5-1.4 3-1.9 2.1zM106.9 282.3l-2.5-.1-2.5-1.1-1.8-1.8-.8-2.5.6-2.5 3-6 .1-1.5-.8-5.5.5-3 .7-1.4 1-1 1.5-.7 1.5-.2 2 .5 1.9 1.8 1.2 2.5.3 2.5-.3 2-1.4 5 .6 5.5-.5 3-1.6 3-1.2.9zM57.4 274.3l-2.5.2-2.1-.7-1.3-1.5.2-1.5 1.2-1 1.5-.5 2 .1 1.5.7 1.1 1.2.3 1-.4 1zM71.9 277.9l-1 .1-.8-.2-1-1.5 0-1 .4-1 .9-.8 1-.2 1.7.5.7 1.5-.4 1.5zM68.4 290.5l-1.5.1-1-.7-.2-1.1.7-1.1 1.5-.3 1 .8.2 1.6zM38.4 296.9l-1.5 0-1.3-.6-.9-1.5-.2-1.5.4-2 1-1.5 1.5-1 1.5-.2 1.5.4 1.5.9 1 1.4.3 1.5-.7 1.5-.9 1-1.7 1zM82.9 313.4l-3 .2-3-.7-1.7-1.1-.9-2 .2-4.5-.7-5.5.5-3 .8-1.5 1.3-1.2 2-1 2.5-.4 3.5.1 3 1.2 2.3 2.8 1.1 3.5-.4 3.4-2.9 6.6-1.9 2zM54.4 314.9l-2.5.2-2-.8-1.5-1.5-.5-1.5.2-2 1.3-2.5 2-1.9 2-.8 1.5.2 1.5 1.2 1 1.8.5 2-.1 2-.6 1.5-1.3 1.4z"/><path fill-rule="evenodd" fill="#fff900" d="M85.4 227.3l-3 .1-2.5-.9-7-5.7-7.5-4.6-1.6-1.4-1.3-2-.2-1.5.6-1.4 1.5-1.1 2-.5 2.5 0 2.5.4 4.5 1.4 10.5 4.2 3.5 1.9 1.4 1.6.6 1.5.1 1.5-.3 1.5-.8 1.5-1.5 1.5-2 1.4zM111.4 247.3l-1-.3-.9-1.2-.5-3 .9-3.7 1-1.4 1-.5 1 .5.7 1.1.5 3.5-.9 3.5-.8 1zM90.9 253.3l-4.5-.5-2-.9-1.4-1.1-.9-1.5-.3-1.5.3-1.5 1.1-1.5 1.2-.9 1.5-.5 3.5-.1 4 1.3 3.1 2.2.7 1 .3 1.5-.3 1-.7 1-2.1 1.3zM21.4 266.4l-1.4-.1-.6-1 .2-3.5-2-6-.2-4 .9-3 1.6-2.4 2-1.4 2.5-.3 2.5 1.1 1.9 2.5 1 3 .1 3.5-.7 2.5-1.2 2-3.6 3.5-2 2.8zM68.9 260.8l-2.5-.2-1.8-1.3-1.5-2.5-.4-2.5.4-2.5 1.3-2.5 1.8-1.5 2.2-.6 2 .4 2 1.5 1.2 2.2.3 2-.4 2.5-1.1 2.3-1.5 1.7zM106.4 281.9l-2.5-.3-2.4-1.3-1.4-2-.3-2 .6-2.5 2.8-5.5.1-1.5-.8-5 .4-3 1.5-2.3 1.5-.8 1.5-.2 2 .6 1.5 1.4 1.2 2.3.3 2.5-.3 2-1.6 5 .7 5.5-.5 3-.7 1.5-1.1 1.4-1 .7zM57.4 273.8l-2 .4-1.7-.4-1.3-1-.1-1.5 1-1 1.1-.4 2.6.4 1.2 1 .3 1-.4 1zM71.9 277.3l-1.3 0-.8-1 .3-1.5 1.3-.8 1.1.3.7 1-.3 1.1zM67.4 289.8l-.8-.5.1-.5.7-.5.7.5 0 .5zM38.9 296.3l-1.5.1-1.4-.6-.7-1-.3-1.5.2-1.5.8-1.5 1.3-1 1.1-.3 1.5.1 1.3.7 1 1 .6 1.5-.2 1-.7 1.1-1.5 1.2zM82.9 312.8l-3 .3-2.5-.5-1.8-1.3-.7-2 .3-3.5-1-5.5.5-3 .8-1.5 1.4-1.3 2-.9 2-.4 3.5.1 3 1.4 2 2.6.8 3-.3 3-3.2 7-1.5 1.5zM54.4 314.4l-2 .2-2-.6-1.5-1.4-.6-1.8.3-2 1.2-2 1.6-1.5 2-.8 1.5.3 1.2 1 .9 1.5.6 2-.1 1.5-.6 1.6-1 1.1z"/><path fill-rule="evenodd" fill="#ffff13" d="M85.4 226.8l-2.5 0-2.5-.8-7.2-5.7-7.5-4.5-2.3-2.5-.3-1.5.3-1.2 1-.9 2-.7 2-.1 2.5.3 7 2.3 8.5 3.5 2.5 1.3 1.5 1.5.8 1.5.2 1.5-.4 1.5-.8 1.5-1.3 1.3-1.5 1zM111.9 246l-1 .1-.5-.4-.6-.9-.3-2 .3-2 .6-1.5.5-.7 1-.4 1.2 1.1.5 2.5-.4 2.5zM91.9 252.8l-2.5.1-2-.3-2-.7-1.5-1.1-.8-1-.5-1.5.1-1.5.9-1.5 2.3-1.4 3-.3 3.5.9 2.9 1.8 1.4 2-.2 2-1.6 1.5zM21.9 262.8l-1-1-2.3-4.5-.6-2.5 0-3 .9-3 1.5-2 2-1.2 2-.1 2.5 1.2 1.5 2 1 3.1-.1 3-.7 2.5-1.4 2-2.8 2.3zM68.4 260.3l-2-.3-1.6-1.2-1.1-2-.5-2.5.4-2.5 1-2 1.8-1.5 2-.5 2 .4 1.5 1.1 1.2 2 .4 2-.4 2.5-1.2 2.3-1.5 1.5zM106.4 281.4l-2.5-.2-2-1.1-1.4-1.8-.4-2 .6-2.5 2.9-5.5 0-1.5-.9-4.5.3-3 .7-1.5 1-1 1.2-.6 1.5-.2 1.5.4 1.7 1.4 1.1 2 .3 2.5-.3 2-1.8 5 .8 5-.3 3-1.5 2.7-1 .8zM56.9 273.4l-1.5.3-1.5-.4-.7-.5-.3-1 .5-.8 1-.5 2 .2.9.6.4 1zM71.9 276.3l-1 0 .1-1 1 0 .2.5zM38.9 295.8l-1.5 0-1-.5-.7-1-.2-1.5.4-1.5.7-1 .8-.7 1.5-.3 1.5.4.9.6.8 1 .3 1-.2 1-.8 1.1zM82.9 312.3l-2 .4-2-.2-1.8-.7-1.1-1-.5-1.5.2-4-1-4.5.4-3 1.2-2 2.1-1.5 3-.7 3 .3 2.5 1.1 1.9 2.3.9 3-.5 3-1.9 3.5-1.1 3-1.3 1.5zM54.4 313.8l-2 .3-1.5-.4-1.5-1.2-.7-1.7.1-1.5.9-2 1.7-1.7 1.5-.6 1.5 0 1 .6 1 1.2.7 2 .1 1.5-.5 1.5-.8 1.1z"/><path fill-rule="evenodd" fill="#ffff2a" d="M84.9 226.3l-2.5-.2-2-.8-6.9-5.5-7.5-4.5-1.1-1-.9-1.5-.1-1 .4-1 1.1-.8 2-.5 4 .4 6.5 2.3 8 3.2 2.5 1.4 1.1 1 .9 1.5.3 1.5-.3 1.5-.9 1.5-1.1 1-1.5.9zM111.4 244.9l-1-.8-.3-2.3.8-2.1 1-.4.8 1 .2 2-.5 1.8zM92.4 252.3l-4 .1-2-.6-1.5-.9-1.1-1.1-.5-1.5.2-1.5.5-1 1.9-1.4 3-.4 3.2.8 2.6 1.5 1.2 1.5.2 1-.1 1-1.2 1.5zM23.9 260.8l-1.5.2-1.5-1-1.9-3.2-.6-3 .2-2.5.9-2.5 1.9-2 2-.7 2 .4 1.7 1.3 1.3 2.2.6 2.8-.3 2.5-1 2.5-1.8 1.9zM68.4 259.8l-2-.4-1.3-1.1-1.1-2-.3-2 .2-2 1-2.1 1.5-1.3 2-.6 1.5.3 1.7 1.2 1.1 2 .3 2-.3 2-1.1 2-1.6 1.5zM106.9 280.8l-2.5.1-2-1-1.4-1.6-.5-2 .5-2.5 3-5.5-.1-1.5-1-4.5.4-3 .6-1.2 1-1 2-.7 2 .4 1.5 1.3 1.1 2.2.2 2-.4 2-1.9 5 .9 5-.2 2.5-1.2 2.5zM56.4 272.8l-1 .3-1-.3-.5-.5.1-.5.9-.6 1 .2.6.4.2.5zM38.9 295.3l-1 0-1-.4-.8-1.1-.1-1 .2-1 .7-1.2 1-.7 1-.2 2 .8.7.8.3 1-.2 1-.7 1zM82.9 311.8l-1.5.3-2 0-1.5-.5-1.1-.8-.6-1.5.2-4-1.2-4.5.2-2.5 1.2-2 2.2-1.5 2.6-.7 3 .3 2.5 1.3 1.6 2.1.7 2.5-.4 2.5-2.3 4-1.1 3-1 1.1zM54.4 313.3l-2 .3-1.5-.4-1.1-.9-.7-1.5 0-1.5.8-1.7 1.5-1.6 1.5-.7 1.5.1 1 .6.9 1.3.5 1.5 0 1.5-.4 1.2-1 1.2z"/><path fill-rule="evenodd" fill="#ffff46" d="M86.4 225.3l-3 .4-3-1.1-6-5-8.1-4.8-1.5-2 .3-1.5.8-.7 1.5-.4 4 .4 6 2 10 4.2 2 2 .5 1 .1 1.5-.5 1.5-.7 1zM111.4 242.8l-.2-.5.2-1 .5.5zM92.4 251.8l-3.5.2-2-.5-1.4-.7-.9-1-.5-1-.1-1.5.4-1 1.5-1.3 2.5-.6 2.5.3 2.5 1.1 1.6 1.5.4 1 0 1-.9 1.5zM24.4 259.8l-2 .1-1.5-1.1-1.5-2.5-.5-2.5.2-2.5.8-2.1 1.5-1.7 2-.7 2 .4 1.5 1.2 1.1 1.9.5 2.5-.3 2.5-.8 1.9-1.5 1.7zM69.9 258.8l-2 .5-1.5-.5-1.1-1-1-2-.2-2 .5-2 1.3-1.9 1.5-.9 1.5-.1 1.5.5 1.3 1.4.7 1.5.2 1.5-.4 2-.8 1.6zM106.9 280.3l-2 .3-2-.8-1.5-1.5-.5-2 .5-2.7 2.7-4.3.3-1-1.2-5.5.2-3 .5-1.2 1-1.1 2-.7 1.5.2 1.7 1.3 1 2 .3 2-.6 2.5-1.9 4 0 1 1 4.5-.3 2.5-.9 2zM38.9 294.8l-1-.1-.7-.4-.6-1.5.1-1 .7-1 1.5-.6 1.6.6.9 1.5-.6 1.5zM82.4 311.4l-1.5.3-1.5-.1-1-.4-1.2-.9-.4-1.5.3-3-1.4-5.5.3-2 1.3-2 2.1-1.3 2.5-.4 2.5.3 2 1.1 1.5 1.8.7 2.5-.5 2.5-2.2 3.5-1.3 3.5-1 1zM54.4 312.8l-1.5.4-1.5-.3-1-.7-.9-1.4 0-1.5.6-1.5 1.3-1.4 1.5-.7 1 0 1.2.6.8 1 .5 1.5 0 1.5-.3 1z"/><path fill-rule="evenodd" fill="#ffff5e" d="M85.9 224.9l-1.5.3-1.5-.2-2.5-1.1-5.5-4.7-8-4.9-1-1.5.2-1 1.8-.9 3.5.4 6 2 9.5 4 2 1.9.4 2.1-.9 2-1.1 1zM92.4 251.3l-3 .4-3-1-1.1-.9-.5-1-.1-1.5.5-1 1.7-1.2 2-.3 2.5.5 1.9 1 1.3 1.5.2 1.5-.9 1.2zM24.9 258.8l-2 .4-1.5-.8-1.2-1.6-.8-2.5.1-2.5.7-2 1.2-1.5 2-.9 1.5.2 1.5 1.1 1 1.6.6 2-.1 2-.6 2-1 1.5zM69.4 258.5l-1.5.2-1.5-.5-1-1.1-.7-1.8-.1-2 .7-2 1.1-1.2 1.5-.7 1.5.1 1 .6 1.1 1.2.5 1.5.1 2-.5 1.5-1.1 1.5zM106.9 279.8l-2 .3-2-.8-1.3-1.5-.4-2 .7-2.5 2.7-4 .3-1-1.5-5.5.3-3 1.2-1.9 2-.8 1.5.3 1.5 1.2.9 1.7.3 2-.6 2.5-2.3 4 .1 1 1.1 4 0 2.5-1 2.2zM39.4 294l-1 .1-1-.8 0-1.5 1-.9 1-.1 1.2 1-.2 1.5zM81.9 310.9l-2.5.1-1.6-1.2-.2-1 .3-3-1.4-3.5-.3-2 .4-2 1.3-1.8 2-1.1 2.5-.3 2.5.6 1.6 1.1 1.3 2 .3 2-.6 2-2.5 3.5-1.1 3.1-.7.9zM54.4 312.3l-1 .4-1.5-.1-1.3-.8-.6-1-.2-1 .4-1.5.7-1 1.5-1.1 1-.1 1 .2 1 .9.5 1.1.2 1.5-.3 1z"/><path fill-rule="evenodd" fill="#ffff75" d="M85.9 224.3l-2.5.2-2.5-1.1-5-4.3-7.5-4.8-.9-1 .1-1 .8-.4 1.5-.1 3.9 1 12.7 5 1.6 1.5.5 2-1.1 2zM92.4 250.8l-3 .4-2.5-.8-1.4-1.6-.2-1 .4-1 1.1-1 1.6-.5 2 .1 2.2.9 1.1 1 .5 1.5-.4 1zM24.4 258.3l-1.5.1-1.5-.9-1.1-1.7-.4-2 .1-2 .8-2 1.1-1.2 1.5-.5 1.5.2 1 .7 1 1.4.6 1.9-.1 2-.5 1.6-1 1.5zM69.4 257.9l-1.5.3-1-.3-1.2-1.1-.6-1.5 0-2 .5-1.5.8-1.1 1.5-.7 1.5.1 1 .6 1.2 2.1.1 1.5-.4 1.5-.9 1.4zM106.9 279.3l-1.5.4-2-.5-1.3-1.4-.5-2 .2-1.5.7-1.5 3.1-4-.1-1-1.8-4.5.1-3 1.1-2 2-.8 1.5.3 1.2 1 .9 1.5.3 2-.9 2.9-2.5 3.6 1.4 4 .3 2.5-.7 2.4zM39.4 292.9l-.5.1-.5-.2-.1-.5.5-.5.6 0 .3.5zM81.4 310.3l-1.7 0-1.1-1 .2-3.5-1.9-4-.2-2 .5-1.5 1.2-1.6 2-.9 2-.2 2 .4 1.9 1.3.9 1.5.3 2-.6 2-2.9 3.5-1 3zM52.9 312.3l-1-.2-1-.7-.6-1.1 0-1 1.1-2 1-.7 1-.1 1 .3.9 1 .4 2-.8 1.6-1 .7z"/><path fill-rule="evenodd" fill="#ffff91" d="M84.9 223.8l-2-.1-1.8-.9-4.2-3.9-5.2-4.1-.6-1 1.8-.1 2.7.6 10.4 4 1.5 1.5.3 1.5-.9 1.6zM91.9 250.4l-2.5.3-2-.7-1.2-1.2-.1-1 .3-.8 1-.9 1.5-.4 1.5.2 1.5.5 1 .9.5 1.5-.5 1zM24.9 257.4l-1.5.3-1.2-.4-1.3-1.5-.5-1.5 0-2 .5-1.6 1-1.3 1.5-.7 1.5.3.9.8 1.2 2.5 0 1.5-.4 1.5-.7 1.2zM69.4 257.4l-1.5.2-1-.3-.9-1-.4-1-.1-1.5.4-1.5 1-1.3 1-.5 1 0 1 .5 1 1.2.3 1.1-.3 2.5zM107.4 267.3l-1 .2-1-1-1-1.8-.6-2.4.1-1.5.6-1.5.9-1 1.5-.5 1.5.4 1 .8.8 1.3.3 1.5-.2 1.5-.5 1.5-.9 1.2zM105.4 279.3l-1.5-.3-1-.7-.8-1.5-.2-1.5.5-1.7 1-1.7 1.5-1.4 1.5-.5 1 .9 1 1.9.3 3-.5 1.5-.7 1-1.1.8zM81.4 308.9l-.5.3-.8-.4.5-2-2.9-4.5-.4-2.5.6-1.7 1.4-1.3 1.6-.6 2-.1 1.9.7 1.2 1 .8 1.5.2 1.5-1.2 2.5-3.9 3.5zM52.9 311.8l-1.5-.6-.6-.9-.1-1 .4-1 .8-.9 1.5-.5.9.4.6.6.3 1.9-.8 1.4z"/><path fill-rule="evenodd" fill="#ffffa8" d="M85.4 222.8l-2 .2-1.6-.7-1.6-1.5-3.2-4 .4-.3 1.8.3 3.8 1 2.4 1 1 1 .4 1-.4 1.3zM91.4 249.9l-2 .2-1.5-.5-1-1.3.3-1 .7-.7 1-.3 2.5.5.7.5.5 1-.3 1zM24.4 256.8l-1 .1-1.3-.6-.7-1-.5-1.5.1-1.5.4-1.3 1-1.1 1-.4 1 .1 1 .6 1 2.1.1 1.5-.5 1.5zM68.9 257l-1 0-1-.5-.9-1.7 0-1 .4-1.4 1.5-1.2 1 0 1 .5.8 1.6-.3 2.3zM107.9 266.4l-1 .3-1-.3-1-1.3-.8-2.3 0-1.5.5-1.5.8-1.1 1-.4 1.5 0 1 .6.7.9.5 1.5 0 1.5-.4 1.5zM105.4 278.8l-1.5-.3-.9-.7-.5-1-.2-1.5.4-1.5.7-1.3 1.5-1.4 1-.3 1 .5.8 1 .5 1.5.1 1.5-.3 1.5-.6.9-1 .9zM81.9 304.8l-1.5-.4-1.3-1.1-1-1.5-.3-1.5.4-1.5.7-1 1.5-.9 2-.3 1.5.3 1.3.9.8 1 .4 1.5-.3 1.5-1.1 1.5-1.6 1.1zM53.9 310.9l-1.5.2-1-.8 0-1.5 1-1.2 1-.1 1.1.8.2 1.5z"/><path fill-rule="evenodd" fill="#ffffc4" d="M84.4 221.9l-1 0-1.1-.6-.8-1-.2-1 .6-.4 1 0 1.9.9.6 1.1-.5.8zM90.4 249.4l-1.4-.1-.7-.5-.2-.5.3-.9 1.5-.4 1.4.8.1 1zM24.4 255.9l-1 .2-.7-.3-.8-.9-.3-1.1.3-2.3.6-.7.9-.5 1.5.5.9 2-.3 2zM68.9 256.3l-1.5-.2-.7-.8-.2-1 .4-1.6.5-.6 1-.3 1.1.5.7 1.5-.3 1.5zM107.9 265.8l-1 .3-1-.3-1-1.3-.5-1.5-.1-1.2.3-1.5.8-1.2 1-.5 1 0 1 .4 1 1.1.4 1.2-.2 2.5-.7 1.1zM105.4 278.3l-1-.1-1-.7-.5-.8-.2-1.4.4-1.5.8-1.3 1-.8 1-.2 1 .6.5.7.5 2.5-.7 2-.8.7zM82.4 303.8l-1.5-.1-1-.6-1-1.2-.4-1.1.2-1.5.6-1 2.1-1.1 1.5 0 1.4.6 1 1 .4 1-.1 1.5-.6 1-1.1.9zM53.4 310.4l-1-.1-.5-.5.2-1 .8-.6.6.1.5.5 0 1z"/><path fill-rule="evenodd" fill="#ffffdc" d="M23.9 255l-1-.3-.5-.9.1-1.5.9-.9 1 .2.6 1.2-.2 1.5zM68.9 255.3l-1 .1-.5-.6-.1-1 .6-.9 1 0 .5.7 0 .9zM107.9 265.3l-1 .3-1-.4-1.2-1.9-.1-1.5.3-1.5.5-.7 1-.6 1-.1 1 .5 1.1 1.9-.3 2.5zM105.4 277.8l-1.6-.5-.6-1-.1-1 .8-2.1 1.5-1 1 .3.5.5.6 1.8-.6 2.1zM82.9 302.8l-2-.1-1.5-1.4-.1-1.5 1.1-1.6 1-.3 1.5 0 1 .4.8 1 .3 1-.2 1-.8 1z"/><path fill-rule="evenodd" fill="#fffff3" d="M107.9 264.8l-1 .3-.9-.3-1.1-2 .1-2 .7-1 .7-.5 1 0 .9.5.9 1.5-.1 2zM105.9 277l-1.5-.1-.7-1.1.2-1.7.5-.7 1-.5 1 .5.5 1.4-.3 1.5zM82.9 301.8l-1.5.1-.9-.6-.3-1 .7-1.3 1.5-.4 1.2.7.3.5 0 1z"/></g><path d="M119.4 320.3l-106 0 0-113.5 106 0zM48.4 233.3l.5-1-.1-1-.9-.9-1 0-.8.9.2 1.5 1.1.7zM50.1 286.8l2.3-.6 1.7-1.4.5-1 0-1-.9-1.5-2.3-1.4-3-.5-2.5.3-2 1.1-.6 1 0 1 .5 1 1 1 2.6 1.6 1.5.3z" fill="none" stroke="#1c1c1c" stroke-width="1.05" stroke-dasharray="1.4 1"/><path d="M119.4 320.3l-106 0 0-113.5 106 0zM48.4 237.3l1.9-1 1.3-1.5.6-2-.2-2-.9-2-1.7-1.6-2-.7-2 .2-1.5.7-1.2 1.4-.3 1.5.2 2 .8 2 1.5 1.9 1.5.9zM100.4 239.3l1.5-.8 1.5-1.6.9-1.6.5-2-.1-1.5-.5-1.5-1.3-1.2-1.5-.5-2.5.4-2.5 1.4-2.1 2.4-.7 1.5-.1 1 .1 1 .4 1 1.6 1.5 2.3.7zM66.8 237.8l1.6-.5 1-.9.7-1.1.2-1.5-.4-1.5-1-1.2-1.5-.8-1.5-.1-1.4.6-1.1.9-.6 1.1-.2 1.5.5 1.5.8 1 1.5.8zM46.9 253.3l1-.8.8-1.2.3-1.5-.3-1.5-.8-1.4-1-.8-1.5-.4-1.5.2-1.5 1.1-.8 1.3-.3 1.5.2 1.5.9 1.3 1.5.9 1.5.2zM95.8 270.3l1.6-1.5.5-1.5-.2-2-1.3-2-1.5-1.1-2.5-.6-2.5.1-1.5.8-.4.8.1 1.5 1.1 2.5 1.2 1.6 1 .9 1.5.7 1.5.2zM27.7 286.3l2.2-1.4 1.9-2.1.6-1.5-.2-1.5-1.5-2.5-1.8-1.7-2-.8-2.5.3-2.4 1.2-1.3 1.5-.7 2 .2 2.5.9 2 1.8 1.7 1 .4 1.5.3zM52.9 288.3l1.5-.7 1.5-.9 1-1.1.7-1.3.1-1.5-.3-1-.7-1-1.3-1.1-2.2-.9-2.3-.7-2.5-.5-2 0-2 .3-2.3.9-1.6 1-.8 1-.1 1 .9 1.5 2.2 2 3.2 2.1 2 .9 1.5.4 1.5 0zM81.4 283.8l.8-1-.3-1.1-.8-.4-.7-.1-1.4.6-.4 1 .8 1 1 .2zM101.3 295.3l.6-1 0-1.5-1-1.2-1-.1-.5.2-.5.6-.3 1 .3 1.5 1 .8.5.1zM65.6 303.8l.4-1-.1-1-.5-.9-1-.3-.5.3-.5.9.2 1.5.8.9.5 0z" fill="none" stroke="#1c1c1c" stroke-width="1.05" stroke-dasharray="1.4 1"/><path d="M119.4 320.3l-106 0 0-113.5 106 0zM47 256.3l1.4-.6 1.2-.9.9-1 .8-1.5.5-2-.1-2-.7-2-1.4-3-.2-1.5.6-1 3.6-4 1.1-2 .4-1.5 0-1.5-.4-2-.9-2-2.3-4-.1-1 .5-.6 4.5-2.1.8-.8.4-1-.2-1.5-1-1.4-1.5-1-1.5-.4-2.5.3-1 .5-1.1 1-.8 1.5-.2 1.5.2 2-.1.5-.5.5-2.9 1-3.6.7-6-.1-2 .3-2 .9-.7 1.2.1 1 1.1 1.2 1.5.7 3.5 1.1 1.9 1.5 1.1 1.5 4.1 7.5 0 1-.2.5-3.2 3.5-1.3 2.5-.3 1.5 0 1.5.9 2.5 1.5 1.8 2 1.1 2 .3zM102.1 241.8l1.8-1.2 1.6-2.3 1.8-4.5.6-3.5-.3-2-1.2-1.9-1.9-1.1-2.1-.4-2 .2-2 .7-2 1.2-2 1.6-1.7 1.7-1.5 2-1 2-.3 1.5.3 1.5.6 1 1 1 2.1 1.2 2.5 1 2 .5 2 .1zM68.5 239.8l1.9-1.1 1.6-1.9.6-2-.2-2.5-1.1-2-1.9-1.7-2.5-.8-2.5.3-2.1 1.2-1.7 2-.7 2-.1 1 .4 1.5 1.2 2 2 1.6 2.5.7zM95.5 272.8l1.4-.8 1.5-1.5 1-1.7.4-1.5 0-2-.5-2-.9-2-1-1.2-1.4-.8-1.7-.5-2.9-.4-3 0-2.5.2-2 .5-1.4.7-1.2 1-.5 1.5.4 1.5 7.7 7.3 1.5 1 2 .8 1.5.2zM52.8 290.8l2.6-.8 2.5-1.3 1.8-1.9 1.1-2 .3-2-.7-2-1.4-1.5-2.1-1-7.5-2.2-2.5-.5-2.5 0-5.5.8-2-.1-2-1.1-4-3.2-1-.5-1.5-.3-3 .5-5.5 2.2-2.1 1.4-1.2 2-.5 2-.1 2 .3 2 .7 2 1.2 2 1.2 1.3 1.5 1.2 1.5.7 2.5.5 2.5-.4 2-1.1 4.5-3.8 1.5-.8 1.5-.3 1.5.2 2 .8 8 5 2 .5zM82.1 286.8l1.8-.7 1.5-1.3.7-1.5-.2-2.1-1-1.5-2-1.3-2.5-.4-2 .5-1.5 1-1.5 1.8-.5 1.5.2 1.5 1.3 1.5 1.5.8 2 .4zM101.4 300.3l2-1 1.7-2 .8-2.5-.1-2.5-.9-2.4-1.5-1.6-2.1-1-2.4-.2-2 .9-1.4 1.8-.6 2 .1 2.5.9 2.7 1.5 2.1 2 1.1zM66.2 308.8l1.7-1.5.9-2 .3-2.5-.3-2.5-.7-2-1.2-1.5-1.5-.8-2-.1-1.5.8-1.2 1.6-.7 2 .1 2.5 1.3 3.5 1.5 2 1.5.7 1 0zM45.3 305.8l1.1-.8 1.5-1.5.9-1.2.6-1.5 0-1.5-.4-1-.6-.7-1-.5-2 .3-2 1.1-1.7 1.8-.8 1.5 0 2 1 1.6 1.5.7 1 0z" fill="none" stroke="#1c1c1c" stroke-width="1.05" stroke-dasharray="1.4 1"/><path d="M119.4 320.3l-106 0 0-28.1 2.5 2.6 3.5 2.3 3.5 1.1 3 0 1.5-.4 1.5-1 1-1.4 2.7-5.1 1.3-1.7 1.5-1.2 1.5-.6 1.5-.1 2 .5 2 1.1 1.8 1.5 1.2 1.5.6 1.5-.2 1-1.2 1.5-6.7 5.5-1.3 2-.2 1.5.4 2 1.1 2 1.5 1.5 2 1 1.5-.1 1.5-.8 8-8.5 1.5-1.3 1-.2 1 .6 2 3.2 4 9.8 1.5 1.3 1 .3 1.5 0 2-.9 1.5-1.9 1.7-5 .4-3-.6-6.5-.8-2.5-1.2-1-5-1.9-.9-.6-.6-1-.1-1.5.7-2 1.4-2.3 2.1-2.2.3-1-.4-1-1.5-2.5-1.5-1.4-1.5-.4-6-.1-4-1-6.5-3.6-5.5-1.5-1.5-1-3.5-3-1.1-.5-1.4-.3-1.5.1-1.5.5-5 3.3-3 1.3-2.5.5-5.5.2 0-64.6 106 0zM48 260.8l2.4-1 2-1.4 1.6-1.6 1.1-2 .7-2 .4-2.5-.1-6.5.3-1 .5-.6.5-.4 1-.1 3.5 1.1 3 .3 3.5-.4 3-.7 2-1 1.7-1.7 1.1-2 .4-2-.2-2-.8-2-.8-1.5-1.7-2-1.7-1.6-2-1.2-6-1.9-.5-.7-.3-2.1-.8-2-1.1-2-1.8-2.5-2-2.1-1.5-1.1-1.5-.7-2-.4-3 .3-3 1.2-2 1.3-3.4 3-1.6.7-2 .4-7 .7-2.5.6-2.5 1-2.5 1.5-1.6 1.6-1.3 2-.4 2 .2 2 .7 1.5 1.1 1.5 1.3 1.1 2 1.2 2 .9 7.7 2.3 1.3.8.9 1.2.4 1 .1 1.5-1.7 5-.3 4 .2 2.5.6 2.5.8 1.7 1 1.5 2 1.7 3 1.2 3 .3zM104 245.3l1.4-1.6 3.5-8.5 1.5-2.6 2.9-3.8.6-2-.1-1.5-.5-1.5-1.9-2.6-1.5-1.1-1.5-.8-1.5-.5-2-.2-3 .3-1.5.7-1.5 1-6.2 6.2-6.7 6-1.2 1.5-.5 1.5.3 1.5.8 1 1.3 1 1.9 1 11.8 4.8 2 .4zM101.7 306.3l1.7-.4 2-1 1.5-1.2 1.6-1.9 1.1-2 .8-2 .4-2 .1-2.5-.2-2-.6-2-1.1-1.5-1.3-1-3.2-1.5-6.1-2.4-2-.5-3.5-.1-1-1-.6-1.5-.3-1 .4-1 3-1.1 2-1.3 2.5-3 2.1-3.6.4-1.5 0-1.5-1.5-8-1-1.3-2-.5-7.5 0-8-.4-2.5.5-1.5 1.1-2.1 3.1-1.3 3-.3 2 .3 1 .7 1 6.2 4 .9 1 0 .5-.5.5-1.9.7-1 .7-4 4.4-3.8 3.2-.3.5.2 1 2.9 4.1 1 .8 1.5.6 4.5.2 3.5-.3 4.5-.9 1 .1.5.3.6 1.1 3.4 9.7 2 4.1 1 1.2 1.5 1 1.5.5z" fill="none" stroke="#1c1c1c" stroke-width="1.05"/><path d="M84.9 228.3l-3 0-2.5-.9-2-1.5-5-4.3-7.5-4.8-2-2-1.3-2-.4-2 .6-1.5 1.6-1.2 2-.6 2.5-.2 3 .3 4.5 1.4 11.5 4.4 2.5 1.2 1.5 1 1.4 1.7.7 1.5.1 2-.7 2-1.4 2-1.6 1.5-2 1.2zM111.9 248.8l-1.5-.1-1.1-.9-.8-2-.1-2.5.5-3 1-2.5 1-1.3.5-.3 1-.2 1 .6 1 1.7.5 2 0 2-.3 2.5-.7 1.9-1 1.4zM91.9 253.8l-3 0-2.5-.4-2.5-.9-1.8-1.2-1.1-1.5-.4-1.5.3-2 1-1.7 1.5-1.2 1.5-.6 1.5-.2 2 .1 2 .4 2.5.8 2.5 1.3 1.5 1.1.9 1 .6 1 .1 1.5-.3 1-.8 1-1.5 1-2 .6zM21.4 267.8l-1 .2-1.2-.2-.7-.5-.6-1-.1-1.5.3-3.5-1.5-6-.1-3.5.9-3.5.9-1.5 1.1-1.4 1-.8 1.5-.8 2.5-.2 1.5.4 1.3.8 1.2 1.1 1 1.4 1.2 3.5.1 4-.6 2.5-1.2 2.2-3.3 3.8-2.2 3.1-.9.9zM67.9 261.8l-1.5-.2-1-.5-1.9-1.8-1.2-2.5-.3-3 .6-3 1.5-2.5 1.3-1 1-.5 2.5-.4 2.5.7 2 1.7 1 2 .3 2.5-.6 3-1.7 2.9-2 1.8-1 .5zM107.4 282.4l-1.5.2-1.5-.2-2.6-1.1-1.2-1-.8-1-.4-1-.3-1.5.6-2.5 2.5-4.5.6-1.5.1-1.5-.8-5.5.4-3 .8-1.5 1.1-1.2 1.5-.7 1.5-.2 2 .5 1 .7 1 1.1 1.2 2.3.4 3-.3 2-1.4 5 .6 5.5-.4 3-.6 1.5-1 1.5-1.1 1zM57.9 274.3l-2.5.4-2.5-.7-1-.7-.7-1 .2-1.5 1-1.1 2-.6 2 .1 1.5.5 1.2 1.1.5 1.5-.3 1zM71.4 278.3l-1-.1-1-.7-.6-1.2 0-1 .4-1 .7-.8 1-.5 1 0 1 .3.6.5.4.5.2 1-.2 1-.6 1-.9.6zM68.4 290.9l-1 .1-1-.2-.9-1 0-1.5.9-1 1.5-.2 1 .6.4.6.2 1.5-.3.5zM38.9 296.9l-1.5.3-1.6-.4-1-1-.6-2 .3-2 .9-1.7 1.5-1.3 1.5-.4 1.8.4 1.7.9.9 1.1.6 1.5-.3 1.5-.8 1-1.4 1.1zM81.9 313.8l-2.5 0-2-.4-2-1-.9-1.1-.5-1.5.3-4-.6-4.5-.1-2.5.2-1.5.6-1.5.7-1 1.2-1 3.1-1.2 4-.2 3 .7 1.5 1 1 1 1.6 3.2.5 2 .1 1.5-.6 2.5-2.9 6.5-.9 1-1.4 1-1.4.6zM53.9 315.3l-2.5-.1-2-.9-1.3-1.5-.5-2 .5-2 1.6-2.5 2.2-1.9 2-.5 1.5.5 1.5 1.6 1 2.3.2 2-.4 2-.8 1.3-1.5 1.2z" fill="none" stroke="#1c1c1c" stroke-width="1.05"/><path d="M85.9 224.9l-1.5.2-1.5-.1-2.5-1.2-5.5-4.6-8-4.9-1-1.5.3-1 .7-.6 1.5-.3 3 .4 5.9 2 9.6 4 1.2 1 .8 1 .3 1 .1 1-.3 1-.6 1-1.2 1zM92.4 251.3l-1.5.3-1.5 0-1.5-.2-1.5-.7-1.1-.9-.5-1-.1-1.5.6-1 1.6-1.2 2-.3 2.4.5 2 1 1.3 1.5.1 1.5-.8 1.2zM24.9 258.8l-1 .3-1 0-1.5-.8-1.2-1.5-.8-2.5.1-2.5.7-2 1.3-1.5.9-.6 1-.3 1.5.3 1.5 1 1 1.6.5 2 0 2-.6 2-1 1.5zM69.4 258.5l-1.5.2-1.5-.6-1.2-1.3-.5-1.5-.1-2 .8-2 1-1.2 1.5-.7 1.5.2 1 .5 1 1.2.6 1.5 0 2-.4 1.5-1.1 1.5zM106.9 279.8l-2 .3-2-.8-1.3-1.5-.4-2 .7-2.5 2.7-4 .3-1-1.5-5.5 0-1.5.3-1.5 1.2-1.9 1-.5 1-.2 1.5.2 1.5 1.2.9 1.7.2 2-.5 2.5-2.3 4 0 1 1.2 4-.1 2.5-.9 2.2zM39.4 294l-1 0-.6-.2-.4-.6.1-1.4.9-.9 1-.1.8.5.4.5.1.5-.3.9zM81.9 310.9l-1.5.2-1-.2-1-.5-.5-.6-.3-1 .3-3-1.3-3.5-.4-2 .4-2 1.3-1.8 2-1.1 2.5-.3 2.5.6 1.6 1.1 1.3 2 .3 2-.7 2.1-2.7 3.9-.8 2.5-.8 1zM54.4 312.3l-1 .4-1.5-.1-1.3-.8-.6-1-.2-1 .4-1.5.7-1 1.5-1.1 1-.1 1 .2 1 .9.5 1.1.2 1.5-.3 1-.6 1z" fill="none" stroke="#1c1c1c" stroke-width="1.05"/><path d="M23.9 254l-.5 0-.4-.7.4-.9.5-.1.4.5.1.5zM68.4 254.5l-.3-.2.3-.6.2.6zM107.4 265.3l-1 0-.7-.5-.6-1-.4-1.5.2-1.5.5-1 .5-.4 1-.3 1 .2.7.5.6 1 .2 1 0 1-.5 1.2-.6.8zM105.9 277.3l-1 .2-.5-.2-.6-.5-.4-1 0-1 .5-1.2.5-.6 1-.5.8.3.5.5.5 1.5-.3 1.5zM82.9 302.4l-1.5 0-1-.5-.5-.6-.2-1.5.7-1 .5-.3 1-.3 1 .1 1.3 1 .3 1-.1.6-.5.9z" fill="none" stroke="#1c1c1c" stroke-width="1.05"/></g><path d="M69.4 209.6h.01M50.9 212.6h.01M60.7 216.7h.01M88.5 216.1h.01M37.3 222.7h.01M47.1 223.8h.01M60.7 224.8h.01M75.4 227h.01M48.7 231.9h.01M66.7 235.2h.01M36.7 234.1h.01M87.4 233.6h.01M55.8 241.2h.01M78.2 242.1h.01M66.7 246.7h.01M51.4 251h.01M38.4 253.2h.01M61.2 256.8h.01M70.4 257.9h.01M100.2 228.8h.01M23 266.4h.01M30.3 271.2h.01M39.8 274.5h.01M51 267.8h.01M61.8 268.9h.01M67.9 267h.01M18 276.5h.01M26.4 280.6h.01M34.6 282.9h.01M46.1 283.8h.01M54.2 275.4h.01M61.5 280.4h.01M70.1 278.4h.01M16.6 288h.01M25.6 290.7h.01M34.4 292.7h.01M43.1 291.8h.01M55.7 289.4h.01M66.2 290.7h.01M27.7 301.6h.01M36.6 302.4h.01M46.5 301.3h.01M54.5 297.2h.01M66.2 298.3h.01M60.6 304.6h.01M52 309.6h.01M42.2 311.9h.01M68.5 311.4h.01M60 316.3h.01M79.7 264.5h.01M93.1 260.6h.01M105.9 261.9h.01M76.4 272.9h.01M89.9 271.2h.01M99.8 267.5h.01M111.5 269.6h.01M103.7 275h.01M84.7 280.4h.01M96.2 278.4h.01M107 284.6h.01M77.4 288.5h.01M88.6 288.5h.01M97.4 287.4h.01M79.2 295.7h.01M87.7 297.4h.01M96.2 296.8h.01M105.9 295.2h.01M75.3 303.5h.01M84.3 305.8h.01M93.6 306.3h.01M78.5 313.6h.01M77.4 218.9h.01M99.2 240.1h.01M105.9 246.2h.01M111.5 253.4h.01M100.9 254.5h.01M116.3 243.4h.01M81.4 254h.01M26.8 226.4h.01M27.9 237.6h.01M18.9 242.6h.01M31.3 246.6h.01M22.9 252.2h.01M15.6 259.4h.01M28.5 258.8h.01M49.7 259.4h.01M38 264.4h.01M59.7 213.1h.01" stroke="#000" stroke-width="1.7" stroke-linecap="round" stroke-opacity=".55" fill="none"/><ellipse cx="64.1" cy="266.1" rx="60.3" ry="59.7" fill="none" stroke="#2a2a2a" stroke-width="1.25"/><linearGradient id="cg3" x1="0" y1="213.6" x2="0" y2="318.5" gradientUnits="userSpaceOnUse"><stop offset="0%" stop-color="#ffffff"/><stop offset="5%" stop-color="#ffffd0"/><stop offset="10%" stop-color="#ffff9d"/><stop offset="15%" stop-color="#ffff69"/><stop offset="20%" stop-color="#ffff36"/><stop offset="25%" stop-color="#ffff07"/><stop offset="30%" stop-color="#ffe100"/><stop offset="35%" stop-color="#ffbf00"/><stop offset="40%" stop-color="#ff9d00"/><stop offset="45%" stop-color="#ff7b00"/><stop offset="50%" stop-color="#ff5c00"/><stop offset="55%" stop-color="#ff3a00"/><stop offset="60%" stop-color="#ff1700"/><stop offset="65%" stop-color="#f40000"/><stop offset="70%" stop-color="#d20000"/><stop offset="75%" stop-color="#b30000"/><stop offset="80%" stop-color="#900000"/><stop offset="85%" stop-color="#6e0000"/><stop offset="90%" stop-color="#4c0000"/><stop offset="95%" stop-color="#2a0000"/><stop offset="100%" stop-color="#0b0000"/></linearGradient><path d="M138.7 213.6L141.6 207.6L144.5 213.6L144.5 318.5L141.6 324.5L138.7 318.5Z" fill="url(#cg3)" stroke="#bbb" stroke-width="0.5"/><path d="M144.5 231.6h1.6" stroke="#666" stroke-width="0.6"/><text x="147.2" y="235.3" class="tk">100</text><path d="M144.5 260.3h1.6" stroke="#666" stroke-width="0.6"/><text x="147.2" y="264" class="tk">0</text><path d="M144.5 289.6h1.6" stroke="#666" stroke-width="0.6"/><text x="147.2" y="293.3" class="tk"><tspan class="mn">−</tspan><tspan dx="0.8">100</tspan></text><path d="M144.5 318.4h1.6" stroke="#666" stroke-width="0.6"/><text x="147.2" y="322.1" class="tk"><tspan class="mn">−</tspan><tspan dx="0.8">200</tspan></text><text x="127.9" y="204.4" class="bl"><tspan font-style="italic">B</tspan><tspan class="br">[</tspan>fT<tspan class="br">]</tspan></text><text x="63.7" y="197.7" class="ti" text-anchor="middle">OPM − NOR</text><clipPath id="h4"><polygon points="203.8,231.3 213.7,226.3 224,221.1 235.7,214 246.7,211.4 256.3,209.8 274.5,215.4 287.3,228.8 303.2,243.8 298.2,270.7 294.8,284.8 293.2,294.9 280.6,307.5 266,314 247.3,316.8 229,312.4 214.6,301.8 203.5,288"/></clipPath><g clip-path="url(#h4)"><g filter="url(#bl)"><rect x="200.5" y="206.8" width="105.7" height="113.1" fill="#120000"/><path fill-rule="evenodd" fill="#220000" d="M306.5 320.3l-106 0 0-113.5 106 0zM277.8 247.3l.2-.5-.5-.5-.6 0-.5.5.2.5.4.2zM242.9 297.3l.6-.9 0-1.1-.5-.9-.5-.2-.7.6-.3 1.3.5 1.1z"/><path fill-rule="evenodd" fill="#320000" d="M306.5 320.3l-106 0 0-113.5 106 0zM277.6 248.8l1.7-1 .1-1.5-1.4-1.2-2.1.2-1 1 .1 1.3 1 .9zM242.6 298.8l.9-.4.5-.6.5-2-.6-2-.4-.6-1-.3-1 .3-.4.6-.5 2 .5 2 .9.9z"/><path fill-rule="evenodd" fill="#440000" d="M306.5 320.3l-106 0 0-113.5 106 0zM278.6 249.3l1.4-1 .5-1-.1-1-.7-1-1.2-.7-1.5-.3-1.5.3-1 .7-.5 1-.1 1 1 1.5 1.6.7zM243.8 299.3l1.2-2 0-2.7-1-2-1-.6-1 0-1 .6-.7 1.2-.3 1.5 0 1.5.6 1.5.9 1.1 1 .3z"/><path fill-rule="evenodd" fill="#540000" d="M306.5 320.3l-106 0 0-113.5 106 0zM279 249.8l1.5-1 .6-1 .1-1.5-.7-1.1-1.5-1-2-.4-1.5.2-1.4.8-.7 1-.2 1 .1 1 .7 1.1 2 1.1 1.5.1zM243.6 300.3l.9-.8.7-1.2.4-1.5 0-2-1.1-2.6-1-.8-1.5-.2-1 .5-1 1.2-.5 1.9 0 2 .5 1.6 1 1.4 1.5.7z"/><path fill-rule="evenodd" fill="#660000" d="M306.5 320.3l-106 0 0-113.5 106 0zM279.1 250.3l1.7-1 1-1.5 0-1.5-.9-1.5-1.6-1-2.3-.5-2 .3-1.5.9-.6.8-.4 1.5.3 1.5.7 1 1 .7 1.5.6 1.5 0zM244.1 300.8l.9-1 .8-1.5.3-2-.1-2-.5-1.5-1-1.4-1-.7-1.5-.2-1.5.8-1 1.5-.5 2 .2 2.5.7 2 1.1 1.3 1.5.6z"/><path fill-rule="evenodd" fill="#760000" d="M306.5 320.3l-106 0 0-113.5 106 0zM279.1 250.8l1.9-1 1.3-1.5.1-2-.8-1.5-2.1-1.4-2.5-.5-2.5.4-1.5.9-.8 1.1-.3 1.5.3 1.5.8 1.2 1 .9 1.5.6 1.5.1zM243.5 301.8l1.4-1 1-1.5.6-2 0-2.5-.5-2-1-1.7-1.5-1-1.5-.2-1.5.7-1.3 1.7-.5 2 0 2.5.7 2.5 1.1 1.6 1.5.9z"/><path fill-rule="evenodd" fill="#860000" d="M306.5 320.3l-106 0 0-113.5 106 0zM278.9 251.3l2.2-1 1.5-1.5.5-2-.9-2-2-1.5-2.7-.8-2.5.2-2.3 1.1-1.1 1.5-.2 1.5.2 1.5.9 1.5 1.5 1.2 1.5.5zM243.8 302.3l1.4-1 1.2-2 .6-2.5-.1-2.5-.6-2-1.3-1.9-1.5-.9-1.5-.2-2 1-1.1 1.5-.6 2.5 0 2.5.7 2.6 1.5 2.2 1.5.8z"/><path fill-rule="evenodd" fill="#980000" d="M306.5 320.3l-106 0 0-113.5 106 0zM278.6 251.8l2.9-1.3 1.7-1.7.4-2-.8-2-1.8-1.5-3-1.1-3 .1-2.4 1-1.3 1.5-.5 1.5.3 2 .7 1.5 1.2 1.1 1.7.9 1.8.2zM275.9 272.3l1.2-1-.3-1.5-1.3-.9-1.5.3-.6 1.1.1 1 1 .9zM244.1 302.8l1.4-1.2 1.3-2.3.6-2.5-.2-3-.7-2.1-1.5-1.9-1.5-.9-2 0-1.7.9-1.3 2-.6 2.5.1 3 1 3 1.5 2 2 .8z"/><path fill-rule="evenodd" fill="#a80000" d="M306.5 320.3l-106 0 0-113.5 106 0zM278 252.3l3.1-1 2-1.5 1-2 0-1.5-.4-1-2-2-3.2-1.3-3-.2-2.9 1-1.6 1.5-.6 1.5 0 2 .6 1.6 1.1 1.4 1.9 1.2 2 .4zM210.8 257.8l1.1-1 .1-.5-.5-.6-1.5.1-.7.5-.6 1 .3.8zM294.2 264.8l.3-1-.5-.4-.3.9.3.6zM275.5 273.3l1-.3 1.1-.7.5-1 0-1-.5-1-1.1-.9-1.5-.4-1 .1-1.3 1.2-.3 1 .2 1 1.1 1.5zM244.3 303.3l1.7-1.5 1.1-2 .6-3-.1-3-.8-2.5-1.3-1.7-2-1.2-2-.1-2 1.1-1.3 1.9-.7 3 .2 3 .9 3 1.8 2.5 2.1.9z"/><path fill-rule="evenodd" fill="#ba0000" d="M306.5 320.3l-106 0 0-113.5 106 0zM216.1 237.8l.9-1-.5-1.1-1.5-.4-1 .4-.5.6.1 1 .6.5zM277.3 252.8l3.6-1 2.4-1.5 1.2-2-.1-2.5-1.4-2-3-1.7-3.5-.6-3 .4-2 1.1-1.3 1.8-.4 2 .4 2 1.2 2 1.6 1.3 2 .7zM209.2 259.8l2.8-1.5 1.3-1 .5-1-.3-1-1-.7-1.5-.2-1.5.4-1.5 1-.9 1.5-.2 2 .6.8zM294.9 266.3l.6-1.5 0-1.5-.5-1.2-1-.5-.5.2-.6 1-.1 2.5.7 1.2.5.2zM276.7 273.8l1.3-.8.8-1.2.1-1.5-.4-1-1-1.1-1.5-.7-1.5-.2-1.4.5-1 1-.3 1 .1 1.5.4 1 1.7 1.4 1.5.3zM244.5 303.8l1.7-1.5 1.3-2.5.6-3-.1-3-.8-2.5-1.4-2-1.8-1.2-2.5-.3-2 1-1.7 2.5-.6 3 .3 3.5 1 3.1 1.7 2.4 1.3.7 1 .3z"/><path fill-rule="evenodd" fill="#ca0000" d="M306.5 320.3l-106 0 0-113.5 106 0zM269.4 219.8l.5-.5 0-.5-1.4-1.7-2-.9-1 .1-.5.4.2 1.1.9 1 1.9.9zM216.8 238.3l.7-.5.5-1-.3-1-.7-.7-1-.4-1.5 0-1.8 1.1-.2 1.5 1 1 1.5.4zM279 252.8l3.5-1.4 1.9-1.6.5-1 .3-1.5-.8-2.5-2.4-2.2-4-1.3-3.5 0-3 1.1-1.3 1.4-.8 2 .1 2.5 1 2.1 1.5 1.6 2 1 2 .2zM207.5 261.8l6.5-4 .9-1.5-.4-1.5-1.5-.9-2-.2-2 .5-1.6 1.1-1.3 2-.5 2.5.5 2 .4.3zM294 267.8l1-.5.5-.6.6-2.4-.1-1.5-.5-1.3-.6-.7-.9-.3-.6.3-.8 1-.6 2.5.5 2.3.5.7zM277.1 274.3l1.4-.9.9-1.1.3-1.5-.4-1.5-1.5-1.5-1.8-.9-2-.2-1.3.6-1 1-.5 1.5.1 1.5.6 1.5 1 1 1.1.6 1.5.2zM243.4 304.8l2.1-1.1 1.8-2.4 1.1-3.5 0-3.5-.7-3-1.7-2.4-2-1.3-2.5-.3-2 .8-1.7 2.2-.8 2.5-.1 3.5.8 3.5 1.5 3 1.8 1.6 1 .4z"/><path fill-rule="evenodd" fill="#dd0000" d="M306.5 320.3l-106 0 0-113.5 106 0zM270.9 220.8l.7-1-.3-1-.8-1.2-1.5-1.2-2-1-1.5-.3-1.5.2-.5.5-.1 1 .5 1 2.1 2 2.5 1zM235.1 224.3l.9-.6.4-1.4-.4-1.1-1-.6-1.3.7-.3 1.5.6 1.2zM217.1 238.8l1.3-1 .3-1-.2-1.1-1-1.1-1.5-.5-2 .1-1.2.6-.9 1-.1 1.5 1.2 1.4 2 .5zM278.4 253.3l4.1-1.5 2.1-1.5.7-1 .4-1.5-.1-1.5-.7-1.5-2.4-2.2-4-1.5-4-.2-3 1-1.5 1.4-1 2-.1 2.5.9 2.5 1.7 1.9 2 1.1 2 .4zM205.3 267.8l.9-2.5 1.7-2.5 1.8-1.5 4.3-2.7 1.4-1.3.5-1-.1-1-1.3-1.5-2-.7-2.8.2-2.2 1-1.5 1.5-.9 2-.3 2 .1 7.5.1.8zM295 268.3l1.3-2 .3-3-.4-1.5-.7-1.4-1.5-.8-1 .5-.8 1.2-.5 2-.1 2 .4 1.7 1 1.3 1 .3zM277.5 274.8l1.5-1 1.1-1.5.3-1.5-.5-1.5-1.4-1.6-2.5-1.3-2-.2-1.7.6-1 1-.6 1.5.1 2 .7 1.7 1 1.2 1.5.8 1.5.2zM243.7 305.3l2.3-1.4 1.8-2.6 1-3.5 0-3.5-.7-3-1.6-2.5-2.5-1.6-2.5-.3-2.3.9-1.6 2-1 3 0 3.5.9 3.8 1.6 3.2 1.9 1.7 1.5.4z"/><path fill-rule="evenodd" fill="#ec0000" d="M306.5 320.3l-106 0 0-113.5 106 0zM271.3 221.8l1.2-.7.2-1.3-.7-1.6-2-1.9-2.5-1.5-2-.6-2 .1-1 .6-.3.9.4 1.5 2.3 2.5 3.1 1.6 2 .4zM236.2 225.3l1.1-1.5.2-1-.2-1.5-1.3-1.8-1.5-.3-1 .5-.8 1.1-.4 1.5.1 1.5.6 1 1 .7 1 .1zM217.2 239.3l1.5-1 .7-1.5-.4-1.5-1-1-1.5-.6-2 0-1.9.6-1.2 1-.4 1 .1 1 1 1.5 2.4.8zM277.7 253.8l4.7-1.5 2.4-1.5.8-1 .6-1.5 0-1.5-.5-1.5-1.1-1.5-1.2-1-3.9-1.8-4.5-.5-3.5 1-1.7 1.3-1.2 2-.2 2.5.6 2.5 1.5 2.1 2 1.5 2.5.7zM205.5 271.8l.5-1 1.3-5.5 1.1-2 2.1-1.9 4.8-3.1 1.2-1.5.3-1-.3-1-1.6-1.5-2.9-.8-3 .4-2.5 1.4-1.5 2-.9 3.5-.4 9 .2 2 .5 1 .6.3zM294.5 269.3l1-.6.9-1.4.6-3.5-.3-2-.7-1.7-1-1-1-.3-1 .3-1 1.4-.7 2.3-.2 2.5.3 1.5.7 1.5 1.3 1zM277.8 275.3l1.7-1.2 1.2-1.8.2-2-.6-1.5-1.8-1.7-2.5-1.2-2-.3-2 .7-1.4 1.5-.4 1.5.1 2 .8 2 1.3 1.5 1.6.7 2 .2zM232.6 273.8l.4-.5-.1-1-.9-.6-1 .3-.4.8.4.9 1 .3zM244 305.8l2.5-1.7 1.7-2.8.9-3.5 0-4-.8-3-1.8-2.6-2.5-1.5-3-.2-1.5.5-1 .7-1.4 2.1-.8 3 .1 4 1.1 4.2 1.9 3.3 2.1 1.5 1.5.2z"/><path fill-rule="evenodd" fill="#fc0000" d="M306.5 320.3l-106 0 0-113.5 106 0zM272.8 222.3l.9-1-.2-2-1.4-2-1.7-1.5-2.7-1.5-2.7-.8-2 0-1.5.8-.3 1 .3 1.5 1.5 2 1.7 1.5 1.8 1 2.5 1 2 .3zM236.4 226.3l1.1-1 .5-1 .3-1.5-.3-1.9-.5-1.1-1-1.1-1-.4-1.5 0-1.3 1-.9 1.5-.3 2 .2 1.5.8 1.3 1 .7 1.5.3zM252.5 234.3l0-1-.5-.7-1-.3-.8.5-.2.5.6 1 .9.3zM217.2 239.8l1.7-1 1-1.5 0-1.5-1.1-1.5-1.8-.9-2-.2-2.5.6-1.4 1-.6 1-.1 1 .2 1 .9 1.1 2.5 1.1zM277 254.3l5.1-1.5 2.9-1.6.9-.9.7-1.5.2-1.5-.3-1.5-.9-1.5-1.6-1.5-3.5-1.8-4.5-.8-4 .7-2.4 1.4-1.3 2-.5 2.5.5 2.5 1.4 2.5 2.3 1.9 2.5.8zM205.7 273.3l.8-1.7 1.3-5.8 1-2 2-2 4.8-3 1.7-2 .2-1.5-.4-1-2-1.5-3.1-.7-3.5.4-2.5 1.5-1.6 2.3-.9 3.5-.5 10 .3 2 .7 1.4 1 .5zM295 269.8l1-.9.9-1.6.5-2 0-2-.4-2-.6-1.5-.9-1.2-1.5-.6-1.5.7-.9 1.6-.7 2.5-.2 3 .5 2 1 1.5 1.3.7zM276.1 276.3l2.4-.8 2-1.6 1-2.1-.1-2-1.4-2-2.1-1.5-2.9-1.1-2 0-1.9 1.1-1 1.5-.4 2 .3 2 .9 2 1.4 1.5 1.7.8zM233.2 274.8l1-1.5 0-1-.7-1-1.5-.7-1 .1-.9.6-.7 1.5.6 1.5 1.5.8zM244.3 306.3l1.2-.6 1.5-1.4 1.7-3 .9-4-.3-4.5-1-3-1.8-2.2-3-1.4-3-.1-1.5.6-1 .8-1.5 2.6-.6 3.7.4 4 1.2 4 2 3.2 1 .9 1.5.6z"/><path fill-rule="evenodd" fill="#ff1000" d="M306.5 320.3l-106 0 0-113.5 106 0zM273.9 222.8l.6-.7.3-.8-.5-2-1.4-2-2.4-2.1-3-1.6-3-.9-2.5.1-1.4 1-.4 1.5.6 1.5 1.4 2 2.4 2 2.8 1.5 2.6.7 2 .2zM236.1 227.3l1.4-.8.9-1.2.5-1.5 0-2-.4-1.5-1-1.7-1.5-1.1-1.5-.2-1.5.6-1.3 1.4-.7 2-.1 2.5.6 1.7 1.1 1.3 1.9.7zM252.7 235.3l.6-.5.3-1-.9-1.5-1.7-.8-1.5.4-.4 1.4.9 1.5 1.5.6zM216.9 240.3l2.2-1 1.2-1.5.2-2-.9-1.5-1.7-1-2.4-.5-2.5.3-2.1 1.2-1.1 2 .2 1.5.6 1 1.3 1 1.2.5 1.9.2zM276.4 254.8l6.7-2 2.4-1.3 1.6-2.2.3-1.5-.2-1.5-.8-1.5-1.3-1.5-3.6-2.2-4.5-1.1-2.5 0-2 .3-2.5 1.1-1.8 1.9-.8 2.5.3 3 1.3 2.8 2.1 2.2 2.4 1zM205.4 274.8l1.1-1.5 1.6-7 1.3-2.5 2.1-2 4.9-3 1.7-2 .2-1.5-.4-1-1.9-1.7-3.5-.9-3.5.2-3 1.4-2 2.5-1.1 4-.4 10.5.3 2 .7 1.7 1 .9zM295.4 270.3l1.1-1.2 1-2.3.3-2-.1-2.5-.7-2.4-1-1.5-1-.9-1.5-.2-1.5 1.1-.9 1.9-.7 3.5 0 3 .7 2 1.3 1.5 1.6.4zM276.6 276.8l2.4-.9 2-1.7 1.1-2.4-.1-2-1.3-2-2.9-2-2.8-1.1-2.5 0-2 1.3-1 1.8-.2 2 .4 2.5 1.3 2.4 1.5 1.3 2 .8zM233.1 275.8l1.3-1 .5-1 .1-1.5-.4-1-1.1-1-1-.4-1.5 0-1 .4-.9 1-.4 1 .3 2 .9 1 .9.5 1.2.2zM244.6 306.8l1.4-.8 1.2-1.2 1.8-3.2.9-4.3-.2-4.5-1.2-3.5-1.8-2-3.2-1.5-3-.2-1.5.5-1 .7-1 1.3-.8 1.7-.6 3.5.4 4.5 1.5 4.8 2 3.1 1 .8 1.5.6zM285 290.3l.9-.5.3-.5-.7-1.1-2-.4-1.5.5-.3.5 0 .5.8.8 1 .3z"/><path fill-rule="evenodd" fill="#ff1f00" d="M306.5 320.3l-106 0 0-113.5 106 0zM273.7 223.8l1.1-.5.7-.8.2-1.2-.1-1-1.5-2.5-2.6-2.5-3.5-2.1-3.5-1.1-3 0-1.8 1.2-.3 1.5.7 2 1.5 2 2.2 2 2.5 1.5 2.7 1 2.5.5zM236.9 227.8l1.4-1 .8-1.5.4-2-.3-2.5-.8-2-1.3-1.5-1.6-.7-1.5 0-2 1.1-1 1.6-.7 3 .1 2.5 1.1 2 1.5 1.1 2 .3zM253.3 235.8l.6-.5.3-1-.1-1-.6-1-1.3-1-1.2-.4-1 0-1 .5-.7 1.4.2 1 .6 1 1.9 1.2 1 .1zM216.3 240.8l2.7-1 1.6-1.5.6-2-.9-2-1.8-1.3-2.5-.5-3 .2-2.2 1.1-1 1-.6 1.5.2 1.5.5 1 1.1 1 1.5.7 2 .4zM275.9 255.3l7.6-2.3 2.5-1.2 1.6-2 .3-2.5-.4-1.5-.9-1.5-1.5-1.5-2.1-1.4-5-1.6-4.5 0-3 .9-2.2 1.6-1.2 2.5-.1 3 1.2 3.5 2.3 2.7 2.5 1.3zM205.5 275.8l.9-1 .6-1.3 1.5-6.7 1.1-2.5 2-2 5.6-3.5 1.7-2 .2-1.5-.4-1-.8-1-1.6-1-3.8-1-4 .2-3 1.4-1.3 1.4-.9 1.5-1 4.5-.3 10.5.5 2.5 1 2 1 .6zM294.7 271.3l1.5-1 1.2-2 .7-2.5.1-2.5-.6-3-1-2-1.6-1.5-1.5-.3-1.5.8-1 1.9-.9 3.6-.3 3.5.4 2 1.3 2 1.5 1zM277.1 277.3l2.5-1 2.1-2 1.1-2.5-.1-2-1.3-2-3.9-2.6-3-1.2-2.5.3-2 1.5-1 2-.1 2.5.8 3 1.2 2 1.6 1.3 2 .7zM233.8 276.3l1.1-1 .7-1.5.1-1.5-.6-1.5-1.1-1-1.5-.5-1.5 0-1.5.5-1 1.1-.4 1.4.1 1.5.4 1 .9 1 1.5.7 1.5.2zM245 307.3l2.5-2.1 2-3.8.9-4.6-.4-4.5-1.4-3.5-1.9-2-3.2-1.4-3.5-.2-1.5.6-1 .8-1 1.4-.8 1.8-.4 4 .7 5 1.5 4.6 2 2.9 1 .8 1.5.6 1.5 0zM286.3 291.3l1.6-1 .4-1-.3-1.1-1.5-1.1-2-.5-2 0-1.9.7-.9 1 .1 1.5 1.7 1.3 2.5.5z"/><path fill-rule="evenodd" fill="#ff3200" d="M306.5 320.3l-106 0 0-113.5 106 0zM274.9 224.3l.9-.5.7-1 .2-1-.3-1.5-1.9-3-2.8-2.5-3.7-2.2-4-1.2-3 0-1 .4-1 .8-.5 1.7.6 2 1.9 2.5 2.5 2.2 2.9 1.8 3.1 1.1 3 .6zM236.3 228.8l2-1 1.1-1.5.6-2.1-.1-2.9-.9-2.7-1.4-1.8-1.6-.9-2-.1-2 1-1.5 2-.7 3 0 3 .8 2 1.4 1.3 2 .8zM253.7 236.3l.8-.8.3-1.2-.4-1.5-.9-1.1-1.5-1-1.5-.4-1.5.3-.8.7-.5 1 0 1 1.3 2 1.4 1 1.1.3zM217.8 240.8l2.7-1.5 1.1-2 0-2-.6-1-1-1-2.5-1-3.5-.1-2.5.6-2 1.5-.7 1.5-.1 1.5.6 1.5.9 1 1.3.8 2 .5 2 .1zM275.7 255.8l10.6-3.5 1.3-1 .6-1 .4-2.5-.5-2-1-1.5-3.1-2.7-5-1.9-4.5-.4-3.5.7-2.9 1.8-1.3 2-.4 3 1 4 2.1 3 1.5 1.2 1.5.8 1.5.2zM205.4 276.8l1.1-1 .5-1 1.7-7.5 1.4-3 2.2-2 5.8-3.5 1.6-2 .2-1.5-.4-1-.7-1-1.8-1.2-4-1.2-4.5.2-2 .6-1.5 1-2 2.6-.7 2-.4 2.5-.3 11.5.5 2.5.9 2 1 .9zM295.2 271.8l1.7-1.5 1-2 .6-2.5 0-3-.5-2.6-1.2-2.4-1.8-1.8-1.5-.4-1.5.6-1.2 2.1-1.2 5.5-.2 3.5.6 2 1.5 1.8 2 1zM277.7 277.8l2.8-1.5 1.9-2 1.1-2.5-.3-2.5-1.1-1.5-1.3-1-4.8-2.8-2.5-.6-2 .4-2 1.7-1 2.3.1 3 .9 3 1.5 2.3 2 1.3 2.5.6zM233.1 277.3l1.4-.7 1.2-1.3.6-2-.2-2-1.1-1.5-1.5-.8-2-.4-1.5.3-1.3.9-.8 1-.4 1.5.2 2 .8 1.3 1.4 1.2 1.6.5zM244 308.3l1.5-.6 1.5-1.1 1.5-1.8 1-2 1.2-5-.2-5-1.1-3.5-2-2.5-3.4-1.7-2-.4-2 0-1.5.4-1 .7-1 1.2-.9 1.8-.6 3.5.3 4.5 1.4 5.5 1.8 3.6 1 1.1 1.5 1 1.5.4zM286.1 292.3l2.5-1 1.2-1.5-.1-1.5-1.5-1.5-2.7-1-3-.2-2.5.6-1.5 1.3-.3 1.8.6 1 1.2 1 3 1.1z"/><path fill-rule="evenodd" fill="#ff4100" d="M306.5 320.3l-106 0 0-113.5 106 0zM275.9 224.8l1.1-.8.5-1 .1-1.2-.4-1.5-1.9-3-3.4-3-4.4-2.4-4-1.1-3.5.1-1 .4-.9 1-.3 2 .6 2 2 2.5 3.1 2.7 3 1.7 4 1.4 3 .5zM237 229.3l2-1.2 1.2-1.8.4-2.5-.5-3.5-1.1-2.9-1.5-1.6-2-.8-2 .2-2 1.1-1.5 2.2-.8 3.8.2 3.5 1.1 2 2 1.4 2 .4zM253.9 236.8l1.1-1 .3-1-.2-1.5-1.1-1.7-1.5-1.1-1.5-.6-2 .1-1.3.8-.6 1-.1 1 .6 1.5.9 1.2 2.5 1.5 1.5.1zM217.3 241.3l2.7-1.1 1.8-1.9.5-2.5-.6-1.5-.7-.9-2.5-1.2-3.5-.4-3.5.5-2.2 1.5-1 1.5-.2 1.5.3 1.5 1 1.5 1.6 1 2 .6 2 .2zM275.6 256.3l11.9-3.9 1.4-1.6.4-2.5-.4-2-.9-1.5-1.5-1.7-2-1.5-5-2.1-2.5-.4-2.5-.1-3.8.8-2.8 1.5-.9 1-.8 1.5-.3 3 .3 2 .8 2.3 2.5 3.5 1.5 1.2 1.5.7 1.5.1zM204.9 277.8l1.1-.5 1.3-2 1.8-8 1.4-2.9 2-1.8 5.8-3.3 1.9-2 .5-1.5-.4-1.5-1.3-1.5-1.7-1-4.8-1.3-4.5.2-3.4 1.6-2.1 2.6-.8 2.4-.4 2.5-.2 11.5.6 3 .8 1.9 1 1.2zM295.6 272.3l1.5-1.5 1.2-2.5.6-3-.1-3.5-.8-2.8-1.3-2.2-1.7-1.5-2-.6-1.5.7-.9 1.9-1.5 7-.2 3.5.9 2.5 1.7 1.7 2 .7zM278.5 278.3l2.5-1.5 2.2-2.5 1-2.5.1-1.5-.3-1-.7-1-1.8-1.5-5.5-3.3-2.5-.8-2 .3-2.2 1.8-1.1 2.5 0 3 1.1 4 1.7 2.4 2 1.4 2.5.6zM233.9 277.8l1.6-1.2 1-1.7.4-2.1-.4-2-1.2-1.5-1.8-.9-2-.3-2 .4-1.5 1.1-.8 1.7-.2 2 .5 1.7 1 1.4 1.5 1.1 2 .5zM244.7 308.8l1.3-.7 1.6-1.3 1.4-1.9 1-2.2 1.1-5.4-.3-5.5-1.4-3.5-2.4-2.3-4-1.6-2-.3-2 .2-1.5.7-1 1-1.5 3.3-.3 4.5.9 5.5 1.4 4.6 2 3.3 2.5 1.7 1.5.2zM287.3 292.8l2.7-1.4 1.2-1.6 0-1-.4-1-1.8-1.6-3.5-1.2-3.5-.3-3 .9-1.7 1.7-.3 1 .3 1.5 1.2 1.4 1.5 1 3.5.9z"/><path fill-rule="evenodd" fill="#ff5100" d="M306.5 320.3l-106 0 0-113.5 106 0zM274.8 225.8l1.7-.3 1.2-.7.7-1 .1-1.5-.3-1.5-1-2-3.2-3.6-4.5-3-5-1.9-4-.3-1.5.3-1.3 1-.7 2 .5 2.5 1.4 2 3.1 3 2.8 2 3.2 1.4 4 1.3zM235.7 230.3l2.3-.7 2-1.5.9-1.8.1-3-.7-4-1.3-2.9-2-1.7-2.5-.5-2.5.8-2 2-.9 2.8-.4 5 .6 2.5 1.2 1.6 2.5 1.2zM254.1 237.3l1.3-1 .5-1.5-.6-2-1.2-1.5-1.6-1.2-2-.7-2 .2-1.5 1-.6 1.2 0 1 .6 1.5 1.2 1.5 1.3 1 1.5.6 1.5.2zM216.6 241.8l3.4-1.2 2.1-1.8.8-2.5-.2-1.5-.7-1.2-1-.9-1.5-.7-4-.5-4 .4-2.5 1.4-1.1 1.5-.4 1.5.3 2 .9 1.5 1.3 1 2 .8 2 .3zM274.3 257.3l5.7-2.3 8.5-1.9 1.3-.8.4-2.5-.5-3-1.6-2.5-2.1-2-2.3-1.5-2.7-1.1-3-.8-2.5-.2-3 .2-2.5.7-2 1-1.3 1.2-1.1 2-.2 2.5.4 3 1 2.5 1.7 2.6 2 1.9 2 1.1zM205.8 278.3l1-1 .8-1.5 1.7-8 1.4-3 2.3-2.1 6.2-3.4 1.9-2 .4-1.5-.3-1.5-1.3-1.5-1.9-1.2-5-1.4-2.5-.2-2.5.3-2 .6-1.6.9-1.4 1.2-1.1 1.8-.7 2-.4 3-.2 9 .2 4 .8 3 1.3 2 1.6.8zM295 273.3l2-1.5 1.6-3 .7-3.5-.2-4-1.1-3.4-2-2.6-2-1.4-2.5-.3-.9.7-.3 1-2.1 11.5 0 2 1 2 1.8 1.7 2 .9zM278.2 279.3l2.8-1.6 2.3-2.4 1.7-3 .2-2.5-.9-1.5-2.8-2-7-4.1-1.5-.4-1 .1-2.5 1.7-1 1.2-.6 1.5-.2 3 1 4.5 1.7 3 2.1 1.7 3 1zM234.6 278.3l1.4-1.3 1.1-2.2.4-2.5-.5-2-1.5-1.5-2-.9-2.5-.3-2 .5-1.5 1.3-.8 1.9-.1 2.5.7 2 1.3 1.5 1.9 1 2 .4zM243.6 309.8l1.9-.6 1.5-1 1.5-1.6 1.4-2.3 1-3 .5-3 .2-3-.3-3-1.1-3.5-1-1.5-1.2-1.1-2-1.2-2.5-.8-2.5-.5-2 0-1.5.5-1 .8-1.6 2.8-.6 4 .5 5 1.4 6 1.8 3.9 1 1.3 1.5 1.2 1.5.5zM286 293.8l3.6-1 1.5-1 .9-1 .5-2-.5-1.3-1-1.1-3.5-1.8-4.5-.8-3.5.3-2.5 1.6-.9 1.6-.1 1.5.5 1.3 1 1.2 2 1.4 2 .8 2 .3z"/><path fill-rule="evenodd" fill="#ff6400" d="M306.5 320.3l-106 0 0-46.6.9 3.1 1.5 2 1.6.6 1.8-.6.8-1 .9-1.9 1.6-7.6 1.2-3 1.2-1.4 1.5-1.1 5.5-2.8 1.9-1.2 1.1-1.5.3-1.5-.3-1.5-.7-1-2.8-1.9-4.5-1.4-4.5-.4-3.5.7-2.6 1.5-1.9 2.3-1 3 0-50.3 106 0zM276.9 226.3l1.2-.5 1-1 .4-1.5-.1-1.5-.8-2-1.3-2-3.6-3.5-4.7-3-5-1.7-2.5-.4-2 .1-1.5.5-1.1 1-.7 2 .7 3 1.9 2.5 3.7 3.4 3 1.9 4.5 1.8 4 .9zM236.6 230.8l2.7-1 1.7-1.6.6-2.4-.3-4-1-4-1.4-2.5-.9-.9-1.5-.8-2.5-.2-1.5.4-1.5.9-1.7 2.1-.8 3.5-.2 6 .7 2 2 1.9 2.5.7zM254.2 237.8l1.5-1 .7-1.5-.4-2-1.5-2.1-2-1.5-2-.7-2.5.3-1.7 1-.6 1 .1 1.5 1 2 1.2 1.3 1.5 1.1 1.5.6 1.5.2zM215.2 242.3l2.3-.4 2.5-.8 1.5-1 1.3-1.3.6-1.5.1-2-.6-1.5-1.4-1.4-3.5-1.1-5.5 0-3 1-2 2-.6 1.5 0 1.5.4 1.5 1.1 1.5 1.4 1 1.7.6zM279.2 280.3l1.8-1.3 2-2.1 4-5.7 1 .2 3 2 2 .8 2-.2 1.5-.9 1.5-1.8 1.3-3 .5-3-.2-3.5-.7-3-1-2-2.4-2.8-3.5-2.7-1.8-5-3-3.5-2.9-2-3.8-1.6-4-.8-3.5.1-3 .7-2.5 1.1-1.6 1.5-.9 2-.1 3 .7 3.5 1.4 3 2 2.7 2 1.9 1.5 1 1-.2 5.3-2.9 4.7-1.4 4.5-.1 1 .8.3 1.2-.1 3-.7 4-1 3.3-1 1.5-1-.2-6-3.2-6.5-4.4-1 .1-2 1.6-1.5 1.6-.9 1.7-.4 2.5.4 3 .9 3.5 1.5 2.7 2 1.9 2.5 1.2 2.5.6zM234.6 279.3l1.4-1.1 1.5-2.9.5-3-.4-2-1.2-1.5-2.4-1.3-3-.5-2 .4-1.5 1.1-1.2 2.3-.2 2.5.7 2.5 1.2 1.6 2 1.4 2.5.7zM287.3 294.3l3.7-1.4 1.5-1.1.8-1 .4-1-.1-1.5-1.2-2-3.4-2-6-1.5-3.5-.2-1.5.5-1 .8-1.4 1.9-.6 2 .4 2 1.1 1.5 2.5 1.8 2.5 1 3 .4zM244.8 310.3l2-1 1.7-1.7 1.3-1.8 1-2.5.8-3 .3-3.5 0-3-.5-3-1.4-3.3-2.5-2.2-5.5-1.9-4-.3-1.5.7-1 1.3-1 2.2-.4 2 .1 5 1.3 6.9 1.5 4.6 2 3 2.5 1.6 1.5.2zM217.7 301.3l.8-.7.4-.8-.1-1-.8-1-1-.5-1-.1-1.9 1.1-.5 1.5.9 1.3 1.5.5z"/><path fill-rule="evenodd" fill="#ff7300" d="M306.5 320.3l-106 0 0-44.3 1 2.3 1.5 1.5 2 .3 1.5-.7 1-1.2.6-1.4 1.8-8.5 1.4-3 2.7-2.4 7.4-3.6 1.4-1.5.5-2-.7-2-2.3-2-4.3-1.7-5-.9-3.5.2-3 .9-2.5 1.9-1.5 2.4 0-47.8 106 0zM278.3 226.8l1.2-.7.9-1.3.2-1.5-.4-2-1-2-1.4-2-4.3-3.9-5-2.9-5.5-1.8-2.5-.3-2 .2-1.5.7-1 1-.5 2.5.4 2 .7 1.5 2.1 2.5 4 3.5 3.4 2 5.9 2.1 3.5.7zM237.3 231.3l3.2-1.2 1.5-1.4.3-2.4-.8-5.9-1.3-4.1-1.7-2.5-2.5-1.2-2.5.1-3 1.3-1.7 2.3-.6 2.5-.5 8.5.5 1.5.8 1 2 1.3 3 .5zM254.3 238.3l1.8-1 .6-1 .2-1-.7-2.5-1.7-2.1-2.1-1.4-2.4-.7-3 .4-2 1.3-.3 1 .6 2 1.3 2 1.4 1.4 3 1.6 1.5.2zM217.5 242.3l3.9-1.5 2-2 .7-1.5.2-2-.4-1.5-.8-1-1.5-1-1.7-.5-6.4-.5-3.5.6-2.5 1.8-1.2 2.1-.1 2 .6 2 1.2 1.4 1.6 1.1 2.4.7 2.5.1zM288.5 294.8l3-1.1 2.5-1.9 1-2-.2-2-1-1.5-1.7-1.5-2.6-1.3-6.5-2.1-.7-.6 0-1 3.7-5.4 1.5-1.2 1 0 3 1.4 2 .5 2-.5 2-1.6 1.6-2.7 1-4 .1-4-.8-3.5-1.3-2.5-5.1-6-2.4-4.5-2.4-2.5-2.7-2.2-4-1.9-4.5-1.1-4 0-4 1-2 .9-1.5 1.3-.8 1.5-.4 2.5.3 3 1 3.5 4.4 7.5-.4 1.5-2.3 3.5-.6 2 .3 3.5 1.3 5 1 2 1.2 1.5 4.8 4 .1 1-1.1 3-.2 2 .4 1.5 1.1 1.5 2.9 2.2 3 1.3 3.5.4zM285.5 266.8l-4-1.4-4.4-2.6-2-2-.3-1 .3-1 2.4-2 3.5-1.5 4-.6 1.5.1 1.3.5.7.9.3 1.1-.3 4.2-1.5 4.3-.5.6zM247.2 259.3l.4-1-.1-1.1-.5-.8-1-.2-.6 1.1.1 1.5 1 .9zM235.6 280.3l1.4-2.2 1.2-3.8.3-2.5-.5-2-1.3-1.5-2.7-1.2-3-.6-2.5.4-1.5 1.4-1.1 2.5-.1 3 .8 2.5 1.4 1.8 2 1.4 3.5 1 1.5.1zM244.5 311.3l2-.9 2-1.6 1.4-2 1.1-2.5.8-3 .5-4 0-3.5-.5-3.5-1.3-3-2.5-2.2-3-1.2-4-1.2-3-.6-1.5.1-1 1-1 2.1-.9 4.5.4 5.5 1.6 7.5 1.4 4 2 2.9 2.5 1.5 1.5.2zM217.6 302.8l1.4-.7 1-1.2.3-1.1-.3-1.5-1-1.4-1.1-.6-1.9-.3-1.5.5-1.2.8-.8 1-.4 1.5.2 1 .7 1 1.5.9 1.5.2z"/><path fill-rule="evenodd" fill="#ff8600" d="M306.5 320.3l-106 0 0-42.5 1.5 2.3 1.5.8 2-.2 1.5-.9 1.5-2.8 1.6-8.2 1.4-3.3 1.2-1.2 1.8-1.3 8-3.6 1.3-1.6.4-2-.6-2-2.3-2-4.3-1.8-5-1.1-3.5-.1-3.5.7-2.5 1.3-2 2.1 0-46.1 106 0zM278.1 227.8l1.6-.5 1.3-1 .7-1.5 0-2-.7-2-1.4-2.5-4.1-4.2-5.5-3.6-6-2.3-3-.5-2.5 0-1.9.6-1.1.9-.5 1.1-.2 1.5.2 2 .7 2 1.9 2.5 3.9 3.5 3.5 2.3 5 2.1 5 1.5zM254.3 238.8l1.7-.7 1.2-1.3.2-2-.8-2-2.2-2.5-2.9-1.8-2.5-.4-4 .6-1.2-.4-.8-2-2-9.5-1-2.3-1-1.3-2-1.2-2.5-.4-2.5.5-2.5 1.7-1.4 2-.4 2-.7 9.5.3 2 .7 1.1 2.3 1.4 3.2.5 3-.2 6-1.3 1 .7 3 4.3 2 1.7 3 1.3zM216.7 242.8l4.3-1.4 1.8-1.1 1-1 .8-1.5.5-2 0-1.5-.6-1.5-1.2-1-1.8-.7-6.5-.6-4.5.3-1.5.5-1.5 1-1.6 2-.5 2 .2 2 1.1 2 1.7 1.5 2.1.8 3 .4zM286.9 295.8l4.1-1 3-1.5 1.8-2 .6-2.5-.7-2-1.7-2-2.5-1.5-6.4-2.5-.7-1 .1-1 1.5-2.5 1.5-1.3 1.5-.2 3 1.1 2 .1 2-.7 2-1.8 1.7-3.2.9-3.5.1-4-.7-4-.9-2-3.9-5-3.4-5.5-3.6-3.5-2.6-2-4.1-1.9-4.5-1.1-4 0-4.3 1-2.4 1-1.3 1-.9 1.5-.4 2.5.3 3 .9 3.5 3.2 6.5.5 1.5-.3 1.5-1.8 3.5-.3 2 .3 3 1.5 5.5 1.5 3.1 3.2 3.4 1 1.5-.3 5.5.3 1.5 1 1.5 2.8 2.3 3 1.5 3 .7zM246.5 260.8l1-.5.4-.5.3-2-.7-2-.5-.4-1-.2-1.1 1.1-.1 2 .7 1.9zM285.5 265.9l-1.5-.1-2-.6-4.3-2.4-1.4-1.5-.5-1 0-1 .6-1 2.1-1.7 3-1.1 3.5-.4 2.2.7.8 1 .3 1 0 3-1.3 3.8zM244.4 312.3l2.1-.9 2.1-1.6 1.5-2 1.4-3.1.9-3.9.4-4.5-.2-4-.8-3.5-1-2-1.8-1.6-2.5-1.2-6.7-2.2-1.8-1.1-.4-.9 0-1 1.2-5 .2-2.5-.3-1.5-1-1.5-1.7-1-3-1-2.5-.4-2 .3-1.5 1.1-1.1 2-.6 2.5.1 2.5.7 2 1.4 2.1 2 1.5 3.6 1.9.7 1-.6 6 .1 3.5 1.4 8 1.6 6 1.4 3 1.8 1.9 2.5 1.1zM218.3 303.8l1.8-1 1-1.5.2-2-.8-2-1.5-1.5-1.5-.7-2 0-1.7.7-1.8 1.4-.9 1.6-.3 1.5.6 1.5 1.1 1.1 2 1 2 .2z"/><path fill-rule="evenodd" fill="#ff9500" d="M306.5 320.3l-106 0 0-40.8 1.5 1.7 1.5.6 2-.3 1.5-.9 1-1.3.7-1.5 1.7-9 1.4-3 1.2-1.4 2-1.2 6.8-2.4 1.7-.9 1.3-1.6.4-2.5-.5-2-2.4-2-4.3-1.8-5.5-1.5-3.5-.2-3.5.4-2.8 1.1-2.2 1.7 0-44.7 57.1 0-1.6.5-1 .7-.6.8-.4 1.5.6 4 .8 2 1.1 1.5 5.1 4.5 2.9 2 8.5 3.4 4.5.9 2-.2 1.5-.6 1.3-1 .6-1 .2-1.5-.3-2-2.1-4-3.8-4-4.9-3.6-5.5-2.6-5.4-1.3 45.4 0zM215.8 243.3l4.7-1.2 3.1-1.8 1.5-2 1.5-5 .9-.8 6 .5 7-1 1.5.1 1.5.9 2.9 3.3 1.8 1.5 2.3 1.1 2 .5 2.5-.3 2-.8 1-1.5 0-1.5-.7-2-1-1.5-3.3-2.9-2.5-1.1-4.5 0-1.5-.6-1.1-1.9-1.9-8.4-1.5-3.7-1-1.2-1.5-1-2-.5-2 .1-2 .6-2 1.2-1.4 1.4-.8 1.5-.3 1.5.1 6-1.6 7.7-1 .3-10.5-.7-3.5.1-3 1.1-1.1 1-1.1 1.5-.7 2 0 2 .7 2 1.3 1.5 1.9 1.2 2 .7 2.5.3zM289.2 296.3l3.8-1.2 2.8-1.8 1.6-2 .5-2.5-.6-2-1.8-2.3-3-2.2-4.8-2-.9-1 0-1 .7-1.1 1-.5 4.5.7 2-.4 2-1.2 1.8-2 1.6-3.5.8-4 0-4.5-.9-4-.9-1.5-3.2-4-2.9-5.5-5.8-5-2.5-1.7-5-2.1-4-.7-4 .3-5 1.3-1.9.9-1.1 1-.7 1.5-.2 1.5.2 3 .8 3.5 3.2 8.5-.1 1.5-1.4 4-.2 2.5 2.7 10 4.2 6 .3 1.5-.1 4 .3 1.5.9 1.5 1.1 1.1 2.5 1.8 2.5 1.4 4 .9zM247.6 261.3l1-2-.1-2.5-1-1.8-1.5-.6-1 .5-.5.9-.3 1.5.2 2 1.1 2 1 .4zM285 265.3l-1.5-.1-2-.6-3.7-2.3-1.2-1.5-.2-1 .3-1 .8-1 2.5-1.5 2.5-.7 2.5 0 2 .8.6.9.3 1.5-.2 3-1.2 2.5zM245 313.3l2.5-1.3 1.9-1.7 1.6-2.4 1-2.7.9-4.4.3-5-.2-4-.8-3.5-1-2-1.7-1.4-8.3-3.1-2.3-1.5-.5-2 1.2-7.5-.3-1.5-.8-1.2-2-1.2-3.5-1-3-.6-2 .3-1.5 1.2-1 2-.6 3 .2 3 .7 2 1.2 1.8 1.5 1.4 3.2 2.3 1 1.5 0 5.5.5 4 1.8 9.6 1.3 4.9 1.7 3.2 2 1.7 2.5.8zM218.9 304.8l2.1-1.3 1-1.5.2-2.2-.8-2.5-1.4-1.9-2-1-2.4-.1-2.1.7-2.3 1.8-1.3 2-.3 2 .6 1.5 1.4 1.5 2.4 1.1 2.5.3z"/><path fill-rule="evenodd" fill="#ffa500" d="M306.5 320.3l-106 0 0-39.1 1.5 1.1 1.5.3 2-.4 2-1.3 1.5-2.7 1.6-8.9 1.4-3.3 1.5-1.5 2.5-1.4 3-1 4.2-.8 1.3-.6 1.3-1.9.4-3-.2-1.5-.5-.9-2-1.6-5-2.1-6-1.6-3.5-.4-3 .2-3 .8-2.5 1.4 0-43.3 53.7 0-1 2 .3 3.5 1.4 4 2 2.5 5.1 4.2 3 1.9 9.5 3.8 4 .7 3.5-.8 1.3-.8.9-1 .5-1.5-.1-1.5-1.3-3.5-2.9-4-4.4-4-5-3.2-5.5-2.3 41 0zM215 243.8l5-1.2 3.5-1.6 1.8-1.7 2.6-4.5 1.6-.8 10-1.2 2 .1 1.5.7 5.5 4.8 2 1 2 .4 3-.2 2.2-.8.9-1 .1-2-.7-2-1.2-2-3.3-3-3-1.3-4.5-.5-1.5-.9-1.2-2.8-2-9-.8-1.9-1-1.4-1.5-1.1-1.5-.5-3.5 0-2 .6-2 1.2-1.7 1.6-.9 1.5-.3 2 .6 4 0 2.5-.9 4-1.3 2.3-1 .6-2 .3-10.5-.4-2 .2-1.5.5-1.4 1-2 2.5-.6 2 .1 2.5.9 2 1.3 1.5 1.7 1.1 2 .7 2.5.3zM288.7 297.3l3.8-.8 3-1.4 2.3-1.8 1.6-2.5.2-2-.5-2-1.3-2-3.1-3.5-.5-1 .5-1 2.8-2.4 1.5-1.9 1.3-2.2.9-2.5.6-3 .2-3.5-.3-3.5-.6-2.5-.8-1.5-3.6-4-2.3-5.5-9.4-7.1-5-2-4-.8-5 .5-6 1.6-2 1.4-.6 2.4.8 6 3 10-.1 1.5-1.1 4 0 2 2.8 10.5 4 6.5.2 5 .5 2 2.1 2.5 5.4 3.4 4 1zM247.6 262.3l.9-1.1.5-1.3-.1-3.1-.6-1.5-.8-1-1-.6-1 .1-1 .7-.6 1.3-.1 2 .2 2 .5 1.5 1 1.1 1 .2zM284 264.8l-3.5-1-1.6-1-1.4-1.5-.4-1 0-1 .6-1 1.1-1 2.2-1.1 2.5-.3 2 .3 1.4 1.1.6 2.5-.5 2.7-1.3 1.8zM244.8 314.8l2.7-1.2 2-1.7 1.6-2.1 1.2-3 .9-4.5.5-6-.3-4.5-.8-4-1-2-1.2-1-8.4-3.2-1.5-.8-1-1-.4-1 0-1.5 1.1-7-.3-1.5-.7-1-2.2-1.2-5-1.5-3-.6-1.5.2-1.5 1.5-1 2.6-.5 3 .2 3 .8 2.4 1 1.7 4.2 3.9.9 1.5 1.2 9 3.3 16 1.4 2.7 2 1.9 2.5 1zM218 306.3l2.5-.8 1.6-1.2.9-2 0-2.5-1.1-3-1.9-2.4-2-.9-2.5-.1-2.5 1-2.9 2.4-1.6 2.5-.2 2 .8 2 2.4 2 3 1z"/><path fill-rule="evenodd" fill="#ffb700" d="M306.5 320.3l-106 0 0-37.4 1.5.6 2-.1 2.5-.9 1.5-1.3.9-1.4.6-1.9 1.2-7.6.7-2.5 1.6-2.4 2.5-1.7 2.5-.9 3-.4 3.5.2 1.2.7-1.5 7.5 0 2.5.4 2.5 1.4 3.3 3.9 4.2 1.1 2 2.7 14 1.8 11 1.2 3 1.8 2 3 1.4 3 .1 3.5-1.4 2.5-2.2 1.5-2.5 1-3.3.8-5.6.3-6-.7-7-.5-2-.9-1.6-2-1.4-7.7-2.5-1.5-1-.8-1-.3-2.5 1.2-7-.5-2-1.9-1.3-7.7-2.2-4.3-1.8.7-7.2-.3-1.5-.7-1-1.5-1-3.5-1.5-7.2-2.4-4-1-4.5.1-2.5.7-2.5 1 0-41.9 51.7 0 0 2.5 1.1 4.5 1.3 3 1.7 2 5.7 4.7 2.5 1.5 10.5 4.5 3.5.8 4-.7 3.2-1.8.7-1 .4-1.5-.7-3-2.3-4-4.1-4.5-4.7-3.7-6.1-3.3 37.6 0zM214.7 244.3l5.3-1.3 4-1.7 1.7-1.5 2.3-3.3 1.5-1.2 8.5-1.6 2.5-.2 2 .5 6 4.8 3.5 1.4 3 .1 3.5-.8 1.3-.7.1-1-1.7-4.5-1.4-2-1.8-1.7-3.5-2.2-5-.9-1.8-1.2-1.2-3.1-2-9.6-1.5-3.2-1-.9-1.5-.6-2-.4-2 .1-2.5.6-2.5 1.3-2 1.8-1.4 2-.3 2 1.3 4 .2 3-.8 3.6-1.5 2.5-1.6.9-2.9.4-4-.1-5.5-.7-2 .1-1.5.6-1.5.9-2.1 2.8-.8 2.5.1 2.5.7 2 1.6 1.9 2 1.3 2.5.9 2.5.2zM290.2 298.3l3.8-.8 3.6-1.7 2.8-2.5 1.4-2.5.2-2-.5-2-3.4-5-.4-1.5.5-1.5 3.1-5.5 1.3-5 .3-6.5-.5-3-.6-2-.8-1-2.5-2-1.3-1.5-.9-2-.8-3.5-.5-.8-4-2.4-4.5-3.4-3-1.6-4.5-1.7-4-.5-6 1-7 1.9-.8 1 .4 3 3.5 15-.1 2-.8 3.5 0 2 3.4 11.5 3.4 6 .5 5.5.6 2 .9 1.3 1.3 1.2 5.7 3.6 4.5 1.1zM247.7 263.3l1-1 .6-1.5.2-2-.2-2-.8-2-.8-1-1.2-.7-1 0-1.2.7-.8 1.5-.2 2.5.4 3 .5 1.5.8 1 1.5.4zM285 264l-1.5.3-1.5-.3-3.1-1.7-1.3-2 .1-1 .5-1 1.8-1.3 2-.7 2.5 0 1.5.7 1 1.8 0 2-.7 2zM218.3 307.8l3.2-1.1 1.7-1.4.7-2-.2-3-1.2-3.7-2-2.7-2.5-1.3-2.5 0-3 1.3-4.1 3.4-1.7 2.5-.1 2 1.1 2.5 2.8 2.2 4 1.3z"/><path fill-rule="evenodd" fill="#ffc700" d="M200.5 232.6l0-25.8 27 0-3.4 3-1.4 2-.5 1.5.2 1.5 2.6 3.4.9 2.6 0 2-.4 1.8-.7 1.7-1 1.5-2.3 1.2-4 .4-3.5-.3-5.5-1.5-2-.1-1.5.5-1.9 1.3-1.4 1.5zM306.5 320.3l-61.7 0 3.2-1.2 2.5-1.7 1.7-2.1 1.1-3 .6-4.5.7-12-.4-5.5-1-4.5-.7-1.3-1-.8-7.5-2.2-1.6-.7-1.4-1.2-.7-1.3-.1-1.5 1.6-7.5-.1-2-1.2-1-8.2-2-2.2-1-1.4-1-.9-2 .4-5.5-.1-1-.6-1.1-2.4-1.4-9.9-3.5-3-1.5 0-.5 1-.5 6.8-1.9 4.1-1.6 2.1-1.5 2.8-3.4 1.5-1 6.5-1.5 4-.2 2 .8 4.5 3.6 2.5 1.5 3 .7 5.5 0 1.5 1 1.1 3 3 12 .1 2.5-.9 4 .1 2 2.2 6 1.5 6 3.2 6 .8 6 .6 2 1.3 1.7 4 2.9 3.5 1.9 4.5 1.2 6 .9 4.5-.4 4-1.6 3.6-2.6 2.2-3 .5-1.5.2-2-.9-3-3.1-4.5-.6-1.5.1-1.5 2.2-6.5.7-4 .2-5-.7-5.5-.9-2-3.5-1.4-1.8-1.6-.9-2-.8-4.6-1-.7-4-1.9-6-4.2-7-2.8-3.5-.1-10.5 1.8-2.5-.3-1-1.1-2.9-4.6-3.1-3-3.5-2-4.5-.9-1.5-1.2-.9-1.9-.7-2.5-1.5-11-.8-2.5 9.2 0 3.5 9.5.9 1.5 1.5 1.5 5.8 4.6 2 1.3 11.5 5.2 3.5.8 4.6-.9 4.7-2 1.6-1.5.3-1-.1-1.5-1.7-4-3.9-5-5-4.6-6-3.9 33 0zM200.5 246.9l0-6.1 3.6 4 0 .5-.7.5zM247.1 264.8l1.4-.9.9-1.6.5-2-.1-2.5-.4-2-1.1-2-1.3-1.2-1.5-.2-1.5.7-.9 1.7-.2 2.5.3 4 .6 2.5.7.9 1 .3zM283.5 263.8l-3-.9-1.5-1.1-.7-1-.2-1 .4-1 1.7-1.5 1.8-.6 2 0 1.4.6.9 1 .3 2-.5 2-1.1 1.1zM241 320.3l-40.5 0 0-35.4 2-.2 2.5-.7 2-1.1 1.5-1.3 1.4-3.3 1-7.5.7-2.5 1.4-2.4 2.5-1.8 2.5-.8 3-.3 2 .5 1 1 .3 1.8-.5 6.5.5 3.5 1.5 3.5 3.4 4 1.1 2 2.5 10 1.3 8.5-.1 8.5.4 2 1.1 2 1.5 1.5 2 1.2zM218.4 310.3l3.6-1 2-1.2.9-2.3 0-3-1.3-5-2.1-3.8-1-1-1.5-.9-3-.4-1.5.3-2 1-7.1 5.3-1.5 2-.3 2 .7 2 1 1.5 1.7 1.6 2 1.3 4.5 1.5z"/><path fill-rule="evenodd" fill="#ffda00" d="M301 253.3l-1 .1-1-.5-1.4-1.6-.6-2 .2-3.5-.6-1-5.1-1.9-6.5-4.5-5.5-2.5-2.5-.7-2.5.2-8.5 1.6-3.5-.2-1.5-1-3.8-5-3.2-2.7-2.5-1.5-4-1-1.5-.7-1-1.2-.8-1.9-1-6 0-5 .4-1.5.9-1.5 1-.7 1-.2 1 .2 1.5 1 2 2.8 2.3 5.4 1.2 2 7.5 6.1 14 7.1 1.5.6 2 0 9-1.9 4-.3 3.5.7 3.5 2 2.3 2.7.9 2 .2 1.5-.1 1.5-1 3.5 1.3 4 .1 2.5-.7 2zM220.5 228.8l-4 .2-3.5-.6-2.2-1.1-.9-1-.4-1-.1-1 .5-1.5 2.1-2.7 3-2.2 3.5-1.3 2.5 0 2 .7 1.6 1.5.9 2.3-.1 2.7-1.1 2.5-1.8 1.8zM264 317.8l-2.5.2-2.5-.7-2-1.8-1.3-2.7-.7-3-.2-3.5.1-13.5-.7-6-.7-2.5-1.5-1.3-6-1.2-2.7-1-1.8-1.4-.8-1.6 0-1.5.5-2.5 2.3-5.7 1-1 4-1.5.8-.8.6-1.5.4-2.5-.1-3-.6-2.5-1.1-2-1-1.1-1.5-.5-1.5.2-1.5 1.3-.5 2.1.1 7-.6 2.1-1 .6-1 .1-4.5-.3-4.2-1.5-1.4-1-.8-1-.5-2.5.5-5-.6-1.5-2-1.2-9.9-3.3-1.7-1-.4-.5.3-.5.8-.5 6.9-2.3 2.7-1.2 2-1.5 2.8-2.9 2-1.1 5.5-1.4 3.5 0 2 .8 5 3.8 2 1.1 2.5.7 5 .4 1.8 1.1 1.7 3.7 2.2 9.3.1 3-1 4.5 0 1.5 3 6.5 1.6 7 3 5.5.7 6 .6 2 1.8 1.9 5 3.6 2.5 1.3 7.8 2.7 2.2 1.5 1 1.5.1 2-.8 2-1.8 2-2.5 1.6-3 1.1-3 .6-9 0-1.6.7-3.9 2.7zM283.5 263.3l-2.5-.5-1.9-1.5-.4-1 .1-1 1.3-1.5 1.4-.7 2-.1 1 .3 1.2 1 .5 1.5-.4 2-.9 1zM231.5 309.8l-2-.3-2-1.9-4.3-11.8-1.7-2.8-2-1.6-2.5-.7-2.5.4-2 1-4.5 3.1-3 1.2-2.5-.2-2-1.4 0-7.2 1.7-1.3 5.3-2.9 1.5-1.5 1.1-2.6 1-8 .9-3.1.8-1.4 1.2-1.3 3-1.5 2-.4 2.2.2 1.3.6.9 1.4.1 7.5.6 4 1.4 3.1 3.3 4.4 1.2 2.1 1.5 4.8 1.5 6.6.6 4.5-.1 3.6-.8 2.4z"/><path fill-rule="evenodd" fill="#ffe900" d="M268 236.3l-3.5.2-2-.5-1.5-1.1-3.8-4.6-3.7-3-2.5-1.4-4-1.1-1.3-1-1.5-3.5-.6-5 .4-3.5.5-1.2 1-1.2 1-.4 1 0 2 1.2 1.5 2.1 2.6 5.5 1.8 2 7.1 5.4 8.4 4.1 4.8 3.5.3 1-.7.5-2.8 1zM218 228.8l-3.5-.4-2.4-1.1-.9-1.5.2-2 2.1-2.9 3-2.1 3-1 3 .2 1.5 1 1 1.8.2 2-.6 2-1.1 1.8-1.4 1.2-1.6.6zM298.5 243.3l-1 .3-2.5-.1-3.5-1-5.5-4.1-5.7-3.1-1-1 .2-.5 3.9-1.5 4.6-.8 4 .3 3.5 1.3 3 2.2 1.2 1.5.6 1.5-.1 2.5-.7 1.5zM262.5 314.3l-2-.2-2-1.2-1.5-1.8-1-2.5-.7-4.8 0-11-.7-7.5-.6-2.3-1.5-1-4.5-.2-3.5-.9-2-1.2-1.2-1.9-.1-1.5.3-2 1-2.6 1-1.7 2-1.6 4-1.3 1.2-1.3.2-3.5-.3-4-.7-3-1.2-2.5-1.2-1.3-1.5-.5-1.5.1-1.5.8-.7.9-.3 1 .2 6.5-.7 2.9-1 .9-1 .3-4 0-3.5-1.3-1.2-.8-1.1-1.5-.4-3 .8-4.5-.7-1.5-2-1-8.2-2.5-2.2-1-.8-1 1.1-1 9.1-3.5 4.1-3.7 2.5-1.4 5-1.3 3.5.2 2 .9 4.5 3.5 2 1.1 2 .6 5 .7 2 1.4 1 1.7 1 2.8 1.5 7 0 3-1.4 5 0 1.5 3.4 5.6 1 2.9.9 5 2.9 5.5.5 2 .4 4.5.6 2 1.2 1.5 5.5 4 2 1.2 5.6 2.3 1.5 1 1.2 1.5.2 1.5-.6 2-1.4 1.5-2.5 1.4-2.5.7-2.5.3-6.5-.8-1.5.1-1.5.5-4 2.6zM301 252.3l-1 .3-1-.3-.9-1-.4-1-.2-1.5.2-1.5 1.3-1.9 1.5.4 1.3 2 .2 2.5-.2 1zM283.5 262.8l-2-.3-1.8-1.2-.5-1.5.9-1.5 2.4-.9 1.5.2 1 .7.5 1 0 1.7-.8 1.3zM231.5 307.4l-1 0-1-.4-1.5-1.4-1.3-2.3-3.7-9.1-1.5-2.2-2-1.7-2.5-.5-2.5.3-1.5.7-4.5 3.1-2.5.9-2.4-.5-1-1-.5-1-.3-2.5.8-2 1.6-1.5 4.1-2.5 1.3-1.5.9-2.6.9-7.9.7-3 1.6-2.5 2.8-1.7 2-.5 2 .2 1.5.7.8 1.3.3 2 .1 6 .8 4.1 1.5 3.3 4 5.7 1.5 3.9 1.3 5 .7 4.3.1 3.2-.5 2.5z"/><path fill-rule="evenodd" fill="#fff900" d="M268 235.8l-3 .2-2.5-.7-1.5-1.2-3.3-3.8-4.7-3.8-2-1.1-3.5-.9-1.5-1.2-1.2-2.5-.7-4 .3-3.5 1.1-2.2 1.5-.7 1 .1 1 .5 1.5 1.7 2.5 5.1 1.6 2 3.4 2.2 4.5 3.6 7.5 3.7 3.3 2.5.6 1.5-.9 1-2.5 1zM219.5 228.3l-3 .1-2.6-.6-1.6-1.5 0-2 1.6-2.5 2.6-2 3-1.2 2.5 0 1.5.7.8 1 .5 1.5-.2 2-.6 1.5-1.2 1.5-1.3.9zM296 242.8l-2.5 0-2.5-1.1-4-3.2-4.3-2.7-.7-1 .1-.5.9-.7 1.5-.6 4-.4 4 .7 3.5 1.6 2.1 1.9.6 1 .4 1.5-.3 1.5-.6 1-.7.5zM263 312.3l-2-.1-2-1-1.5-1.8-1.1-2.6-.5-4 0-8.5-.9-12.5-.5-.7-1-.4-4.5.6-3.6-.5-2.6-1.5-1.1-2 .1-2 .6-2 1.1-2 1-1 2.5-1.1 5 0 1.1-.4.7-1-.2-1.5-1.6-3-1.4-7-1.6-3.9-1.5-1.6-1.5-.6-2 .3-2 1-.5.8-.2 1 .5 6-.6 3-.9 1-1.3.6-3.5 0-2-.5-1.5-.9-1-.9-.8-1.3-.2-3 1.3-4.5-.3-1-.5-.5-2-.9-7.9-2.1-2.7-1.5.1-.9.9-.6 7.8-3 1.6-1 3.4-3 2.3-1.3 4.5-1.1 3 .3 2.5 1.2 5.5 4.1 2 .7 5 .9 1.3.7.9 1 1.2 2 1 3 1 6-.3 3-1.8 4.5-.3 1.5.5 1 3 2.9 1.5 2.6 1.5 7.5 2.3 4 .8 2 .7 6 .6 2 1.1 1.5 5.5 4.1 6.7 3.4 1.2 1 .7 1 .2 1.5-.5 1.5-1.3 1.2-2 1.1-2 .5-2.5.1-7-1.3-1.5.5-4 2.7zM300 251.8l-1.3-.5-.7-1.5.3-2 .7-.9.5-.1 1 .5.8 2-.3 1.7zM283 262.3l-2-.5-1-1 0-1.5 1-1.1 1.5-.4 1 .2 1 .6.4.7.2 1-.4 1-.7.7zM231 305.8l-1.5-.4-1.5-1.5-1.2-2.1-3.8-8.7-1.5-2.3-1.5-1.3-2.5-.8-3 .2-1.5.7-4 3.1-2 .8-2-.3-1-.9-.5-.9-.2-1.6.9-2 1.6-1.5 3.2-2 1.2-1.5.7-2.5.7-7.5.7-3.5 1.7-2.8 2.5-1.5 2-.4 1.5.2 1.5.8.7 1.2.4 2 .3 6.5 1 4.5 1.4 3 2.7 3.5 1.5 2.4 1.5 3.9 1 3.7.6 4 0 3-.6 1.8z"/><path fill-rule="evenodd" fill="#ffff13" d="M268 235.3l-3 .1-2.5-.8-4.5-4.5-5-4.1-2-1.1-3.5-1.1-1-.7-1.3-2.3-.6-3.5.2-3 1.2-2.2 1.5-.6 1.5.6 1.5 1.7 2.2 4.5 1.3 1.7 4 2.5 4 3.3 7.1 3.5 2.6 2 .9 1.5-.5 1-1.8 1zM220 227.8l-2.5.3-2.5-.4-1.5-.9-.5-1 0-1 1-2.1 2.5-2.2 2.5-1.2 2.5-.2 1.5.6 1 1.1.3 1 0 1.5-.5 1.5-1 1.5-1.3.9zM295 242.3l-2.5-.3-2-1.1-5.4-4.6-.8-1 0-.5.7-.6 1.5-.4 3 0 3.5.8 3 1.5 1.5 1.7.5 2-.3 1-.7.7zM257 264l-2 .1-2-1.3-.9-2-1.4-5.5-1.2-3-1.5-2-2-.8-1.5.1-2.2.7-1.3.6-.7.9-.1 1 1 3.5.2 2.5-.3 2-.7 1.5-1.3 1-1.6.3-2-.1-2-.6-2.1-1.6-.9-2.5.3-2.5 1.8-4-.2-1-1.9-1.1-9.5-2.4-1.1-.5-.6-1 1.1-1 7.6-3 4.3-3.5 2.7-1.5 4-.9 2 .2 1.5.5 7 5 2 .8 5 1.1 1.5 1 1 1.4 1.9 5.4.4 5-.5 2-.9 2-1.4 2zM300 250.8l-.5.1-.5-.4-.3-.7 0-1 .8-.8.5.3.5 1zM283.5 261.5l-1 .2-1.2-.4-.8-1 .2-1 1.3-.8 1.7.3.4.5.2 1zM231 304.4l-1.5-.3-1.5-1.5-1.5-2.7-4-9.1-1-1.5-1.5-1.1-3-.7-3.5.2-1.5 1-2.6 2.6-1.9.8-1.5-.1-1.1-1.2-.1-1.5.9-1.5 4.3-2.8.9-1.2.5-2 .5-8.5.6-3.5 1.5-2.7 2.5-1.6 2-.3 1.5.2 1 .7.8 1.2.4 2 .5 7.5 1.1 5 1.2 2.2 4 5 1.5 3.3 1 3.3.6 3.2.1 3-.3 1.5zM263 310.8l-2-.1-2-1.2-1.3-1.7-.9-2.5-.5-3.5 0-7-.4-7 .4-6.5-.4-1.5-.9-1-1-.1-4 1.8-3.5.1-3-1.4-.8-.9-.5-1.5.1-1.5.7-2 2-2.3 1.5-.6 1.5-.1 4.5 1.3 1-.2 3.5-3.7 1.5-.6 1.5.3 1.5.8 1.5 1.4 1 1.7.8 2.5.6 5 3.2 6 .9 7 1 2.5 6.5 5.2 5.5 2.9 1 1 .5 1.4-.2 1-.7 1-2.6 1.4-2 .3-2-.2-6-1.7-1.5.5-4 2.9z"/><path fill-rule="evenodd" fill="#ffff2a" d="M268 234.8l-3 .1-2-.7-1.5-1.1-3.2-3.3-5.8-4.8-1.5-.8-3-.8-1-.7-1.2-1.9-.7-3 .2-2.5.9-2 1.3-.7 1.5.5 1.5 1.7 2 4.3 1 1.3 4.2 2.4 4.3 3.6 6 2.8 2.3 1.6 1 1.5-.1 1-1.4 1zM218.5 227.8l-2.5-.2-1.7-.8-.7-1.5.4-1.5 1.7-2 2.3-1.5 2.5-.7 2 .4.9.8.5 1 0 1.5-.5 1.5-1.9 2zM294 241.8l-2-.5-2.1-1.5-2.8-3.5-.1-.5.4-.5 2.1-.4 2.5.4 2.5.9 1.5 1.1 1 1.5-.1 1.5-.9 1zM238.5 262.9l-2 .3-2.5-.5-2-1.4-.8-1.5-.2-1.5.4-2 1.1-2.1 2.3-2.4.1-.5-.5-.5-2.9-1.2-8.8-1.8-1.2-.6-.6-.9 1.2-1 6.5-2.5 5.9-4.5 2.8-1 2.7-.3 2 .4 1.5.8 6.5 5 5.5 1.2 2 1.2 1.5 2.2 1 2.5.6 3 .1 2.5-.5 2.5-1.4 2.5-1.8 1.4-2 .3-1-.4-1.2-1.3-2.6-8-1.7-3.2-1-.7-1.5-.3-4.8 1.2-3.1 1.5 0 .5 2.3 3.5.6 3-.6 3-.8 1zM282.5 260.8l-.8-.5-.1-.5.9-.5.7.5 0 .5zM231 302.9l-.5.2-1-.2-2-2.3-4.7-11.3-.9-1.5-1.9-1.1-6.1-.9-1.3-1-.3-2-.2-5 .3-6 1.2-3.5.9-1.1 1.5-1 2-.5 1.5.2 1 .6.8 1.3.5 2 .6 8.5.9 5 1 2 3.7 3.4 2 3.6 1 3 .7 3.5 0 2.5zM263.5 309.4l-2.5 0-1.8-1.1-1.5-2.5-.7-3-.7-15 1.2-7.5-.4-1.5-2.3-3-.4-1 .9-2.5 1.1-2 1.1-1.2 1.5-.6 1.5.1 1.5.8 1 1 1 1.9.5 2 .3 4.5 3.4 6 .5 2.5.3 5 1 2.7 5.5 4.9 5.5 3 .8.9.3 1-.3 1-.8.7-1.5.6-1.5.1-2.5-.5-3.5-2-1.5-.3-1.5.7-3.5 3.3zM249.5 279.9l-2 .3-2-.4-1.5-.9-.9-1.1-.3-1.5.4-2 1-1.5 1.3-1.1 2-.4 1.9.5 2.4 1.5 1.3 1.5.2 1-1 2-1.3 1.3zM208 290.3l-1-.1-.3-.4.2-1 1.1-1 1.3 0 .3.5-.1.5-.6 1z"/><path fill-rule="evenodd" fill="#ffff46" d="M267 234.3l-2 0-2-.8-10.5-9.4-1-.6-3-.7-1.5-1-1-1.9-.4-2.1.2-2 .7-1.6.5-.4 1-.2 1.5.9 1 1.5 1.8 4.3.9 1 3.8 1.6 4.5 3.8 5.6 2.6 2.2 1.5.7 1 0 1.2-1 .8zM219.5 227.3l-2 .2-2-.5-1.1-1.2.1-1.5 1-1.7 2-1.6 2.5-.8 2 .1 1 .7.4.8 0 2-1.4 2.2zM295 240.9l-2 .1-1.6-.7-1.8-2-.2-1.5.9-.5 1.2-.1 1.5.3 1.7.8 1 1 .3 1-.2 1zM255.5 261.3l-1.5-.6-1-1.2-3.2-9.2-.8-1.6-1-.9-2-.1-7 1.7-3 .2-10.8-1.8-1.7-.7-.6-.3-.1-.5 1.4-1 5.3-2.2 4-3.4 2.5-1.4 3.5-.7 3 .6 2.5 1.7 4.5 4.3 1 .4 5 .7 1.5 1 1.5 1.9.9 2.1.6 2.5-.1 4-.8 2-1.1 1.4-1 .7zM237 262.8l-2-.2-1.8-.8-1.3-1.5-.4-1.5.2-2 .8-1.6 1.5-1.5 2-.8 1.5.3 1.5 1 1 1.6.5 2-.1 2-.6 1.5-1.3 1.1zM221 284.8l-2.5.4-3-.5-1.5-1-1-2.2-.5-5.7.5-5 1.5-3 1-.8 1.5-.6 1.5-.1 1.2.5.9 1 .6 1.5.8 12.5-.2 2zM263.5 308.3l-2 .1-2-1.1-1.5-2.5-.6-3-.6-14.5.4-2.5 1.3-3.5.2-1.5-.3-1-1.8-3-.4-2 .3-1.5.9-1.5 1.1-1 1-.4 1.5.2 1 .6 1.5 2.1.5 2.5 0 4 .7 1.5 2.3 3 .9 2 .4 2 .4 6.5 2.2 5.5-.3 1-3.8 5.5-1.8 1.7zM249 279.3l-1.5.2-1.5-.1-1.3-.6-.9-1-.4-1 .1-1.5.7-1.5 1.3-1.1 1.5-.4 1.5.2 1.5.9 1.1 1.4.3 1-.2 1.5-.7 1zM230 301.9l-1-.5-1-1.1-2.6-5.5-1.2-5 .2-1.5.6-.3 1 .2 1.5 1.1 1.5 2 1 2 1 3.5.3 2.5-.3 1.8-.5.6zM279 305.3l-1.5.2-1.5-.5-1.1-1.2 0-1 1.6-.2 2 .7 1 1 0 .5z"/><path fill-rule="evenodd" fill="#ffff5e" d="M251 221.8l-1 .4-1.5-.2-1-.7-.7-1-.5-1.5 0-2 .3-1 .9-1 1.5.4 1.1 1.6 1.2 3.5 0 1zM220 226.8l-2 .3-1.9-.3-1.1-1-.1-1 .7-1.5 1.9-1.8 2-.8 2 0 1.4 1.1.1 2-1 1.7zM268 233.3l-2.5.4-2.5-.9-3.5-3.6-4.6-3.4-1-1.5-.1-1 1.2-.4 1.5.4 1.5 1 3.5 3.2 6.1 2.8 1.3 1.5-.1 1zM293.5 240.3l-1-.2-1.1-.8-.4-1 .2-.5 1.3-.4 1.9.9.4 1-.1.5zM240.5 248.3l-3 .4-3-.2-7.1-1.2-1.4-.5-.4-.5.5-.5 4.4-2.3 5-4.3 2.5-.9 2.5-.1 2 .6 2.1 1.5 2.2 2.5.9 2-.3 1-.7.5zM256.5 259.9l-1.5.1-1-.5-1.5-2.6-2.2-8.6.2-1.5.7-.5 2.8-.4 2 .6 1.5 1.4 1.3 2.4.7 3-.2 3-1.2 2.5zM237 262.3l-1.5 0-1.5-.6-1.2-.9-.7-1.5 0-2 .7-1.5 1.2-1.3 1.5-.6 1.5 0 1.5.8 1 1.3.5 1.4 0 1.9-.5 1.5-1 1zM219 283.8l-2.5-.1-1.7-.9-1.2-2-.6-3.5 0-4.4.8-3.1 1.5-2 2.2-.9 1.5.2 1 .8.6 1.4.5 2.5.1 9-.7 2zM263 307.4l-2-.2-1.5-1.2-1.1-2.2-.6-3-.5-13.5.7-3 2.1-4.5-.2-1-2.3-3.5-.3-2 .9-2 1.8-1 1.6.5 1.4 1.6.5 2.4-.7 3.5.1 1 3.9 4.5.8 2 .4 2 0 6 .6 4.5-.3 2-1.1 3-1.2 1.9-1.5 1.5zM248 278.8l-2-.1-1-.6-.7-.8-.2-1 .4-1.5 1.5-1.4 1.1-.1 1.4.3 1.5 1.7.1 1-.2 1-.8 1zM230 300.4l-.5 0-1-.7-2-3.6-1.1-4.3.1-1.2.5-.6 1 .2 1 .8 1.8 3.3.9 4-.2 1.5z"/><path fill-rule="evenodd" fill="#ffff75" d="M249 220.9l-1.2-.6-.7-1.5 0-1.5.4-.9.5-.3 1.1.7.9 2-.1 1.5zM218 226.8l-1.5-.4-.8-.6-.2-1 .7-1.5 1.3-1.2 1.5-.8 1.5-.2 1.5.5.5.7.2 1-.7 1.6-1.7 1.4zM258.5 227.2l-1.3-.4-1.3-1-.5-1 .2-.5.9 0 1.5 1 .9 1.5zM266 232.8l-1.5-.2-1.5-.8-1.2-1.5-.2-1 2.4.1 2.8 1.4.7 1-.2.5zM238.5 247.8l-2.5 0-3.2-.5-2.3-.8-.6-.7 4.2-4.5 1.9-1.5 3-1 3 .4 1.7 1.1 1.5 1.5.8 1.5 0 1.5-.8 1-2 1zM256.5 258.8l-1.5.1-1-.6-1.5-3-.9-3.5-.1-2.5.5-1.5 1-.6 1.5-.2 1.7.8 1.3 1.3 1 2.2.4 2.5-.2 2-1 2zM237 261.8l-1.5 0-1.4-.5-1-1-.5-1-.1-1.5.6-1.5.9-1 1.5-.7 1.5 0 1 .5 1.1 1.2.5 1.5 0 1.5-.6 1.3-1 .9zM219 282.3l-2 .3-1.6-.8-1.3-2-.7-3 0-3.5.7-3 1.4-2 2-.8 1 .2 1 .7.7 1.4.4 2 0 7.5-.6 1.9zM262 276.8l-.5.4-1-.1-1-.7-.8-1.1-.3-2 .4-1 .7-.8 1.5-.1 1.4 1.4.4 2zM247.5 277.9l-1.5-.2-.8-.9-.1-1 .9-1.2 1.5-.1 1 .8.2 1.5zM263 306.3l-1.5 0-1-.5-1-1.2-.6-1.3-.5-2.5-.8-11.5.3-3 .9-2.5 1.7-2.3 1.5-.7 2 .8 2 1.9 1.2 2.3.4 2.5-.2 10-.3 2.5-1.6 3.5-1 1.2zM229.5 298.7l-1-.4-1.5-2.9-.5-2.1.5-1.2.5 0 1 1 1 2.1.4 2.1z"/><path fill-rule="evenodd" fill="#ffff91" d="M219 226.3l-1.5 0-1-.5-.3-1 .3-1 2-1.8 1.5-.4 1.2.2.9 1-.2 1.5-1.4 1.4zM240 246.8l-3 .2-2.5-.5-1.5-.7-.1-1 1.5-2.5 2.3-2 2.3-.8 2.5.2 2.5 1.8.8 1.3.1 1-.4 1-1 .8zM255.5 257.8l-1-.4-.9-1.1-1.2-3.5.1-3.1.5-.8 1-.6 1.5.2 1 .7 1 1.6.6 2 0 2-.5 1.5-1.1 1.2zM237 261.3l-1.5 0-1-.4-.8-.6-.5-1-.2-1 .5-1.5.9-1 1.1-.6 1.4.1 1 .5.8 1 .4 1-.1 1.5-.4 1zM217.5 281.3l-1.5-.5-1.3-1.5-.7-2.4-.2-2.6.3-2.5.8-2 1.1-1.1 1.5-.5 1.3.6.8 1 .5 2 .2 3.5-.2 2.5-.5 2-.7 1zM261 275.4l-.5-.1-.8-1 .1-1 .7-.6.5.1.7 1-.1 1zM262.5 305.3l-1-.1-1-.7-1.2-2.2-1.3-13.5.4-2.5 1.1-2.5 1.5-1.6 1.5-.4 2 .9 1.5 1.5.9 2.1.3 2.5-.7 10-.5 2.5-1.5 2.8-1 .9z"/><path fill-rule="evenodd" fill="#ffffa8" d="M219 225.8l-1.2 0-.8-.5-.1-.5.3-1 1.8-1.5 1-.2 1 .3.5.9-.2 1-1 1zM241 245.8l-2.5.3-2.4-.3-1.1-.9-.1-1.1.9-1.5 1.7-1.5 1.8-.5 1.7.1 2 1.3.7 1.6-.8 1.5zM255.5 256.4l-1-.5-.5-.6-.7-2 .1-2.5 1.1-1 1.5.5.7 1 .5 1.5-.3 2.5-.4.6zM236.5 260.9l-1-.1-1-.5-.9-1.5.1-1 .5-1 .8-.7 1-.3 1.5.5.8 1 .3 1-.6 1.8zM217.5 279.9l-1.5-.5-.8-1.1-.7-2-.2-2 .2-2 .6-1.5.9-1.2 1.5-.5 1 .5.5.7.5 1.5.2 2.5-.5 4-.7 1.1zM263 303.9l-1 .2-1-.5-1.1-1.8-1.4-12.5.2-2.5.8-2.1 1.5-1.6 1.5-.5 1.5.4 1.5 1.3 1 2 .3 2.5-1.6 12-.9 2z"/><path fill-rule="evenodd" fill="#ffffc4" d="M220 224.8l-1.5.4-.6-.4-.1-.5.8-1 1.4-.4.6.4.1.5zM240 244.9l-2-.1-1-.5 0-1.3 1.1-1.2 1.9-.5 1 .3.9.7.2.5-.1 1-1 .7zM255.5 253.6l-.5-.1 0-.9.5.1zM237 260l-1.5.1-1-.8-.1-1.5.9-1 1.2-.2 1 .7.4 1.5zM217.5 278.3l-1-.2-.5-.4-.5-.9-.5-2 0-1.5.5-1.8.5-.8 1-.5 1 .3.5.6.5 2.2-.3 3.5-.5 1zM263 302.4l-1 .2-.5-.2-1-1.6-1.6-11.5.1-2 .8-2 1.2-1.4 1.5-.6 1.5.4 1.5 1.4.7 1.7.2 2-2 11-.5 1.5z"/><path fill-rule="evenodd" fill="#ffffdc" d="M236.5 259.1l-.5.1-.6-.4 0-.5.4-.5.7 0 .3.5zM217.5 276l-.5.2-.5-.3-.5-1.3.2-1.8.8-1 .5.2.6 1.3-.1 1.7zM262.5 300.1l-.5 0-.5-.8-1.9-8-.3-2.5.4-2 .7-1.5 1.1-1 1-.3 1.5.4 1 .9.7 1.5.3 2-.5 3.2-2.3 7.3z"/><path fill-rule="evenodd" fill="#fffff3" d="M262.5 295.3l-1-.7-1-2.1-.7-3.7.2-1.5.8-1.5 1.2-1 1-.1 1 .4 1 1.1.5 1.6.1 1.5-1.1 3.6-1 1.7z"/></g><path d="M306.5 320.3l-106 0 0-113.5 106 0zM278.7 249.8l1.3-.7 1-1.3 0-1.5-.6-1-1.4-1-1.5-.4-2 .2-1.3.7-.7 1-.2 1 .2 1 .5 1 1 .7 1 .4 1.5.1zM243.3 300.3l1.2-1 .6-1 .4-1.5 0-2-.5-1.6-1-1.3-1-.6-1 0-1 .5-1 1.5-.4 1.5 0 2 .5 1.5.9 1.4 1 .6z" fill="none" stroke="#1c1c1c" stroke-width="1.05" stroke-dasharray="1.4 1"/><path d="M306.5 320.3l-106 0 0-113.5 106 0zM278.5 252.3l3-1.2 1.3-.8.9-1 .6-2-.3-1.5-.5-1-1-1-1.5-1-3-1-3 0-2.6 1-1.4 1.3-.7 1.7 0 2 .8 2 1.4 1.5 1.9 1 1.6.2zM210.6 258.3l.9-.6.9-.9.1-.8-.5-.5-1-.3-1 .3-1 .5-.6.8-.4 1 .1.5.4.3 1 0zM294.6 265.3l.3-1.5-.4-.9-.5-.2-.5.6-.1 1.5.6.8zM276.5 273.3l1-.6.7-.9.2-1-.2-1-.8-1-1.4-.8-1.5-.2-1 .4-.7.6-.5 1 0 1 .3 1 .8 1 .9.5 1.2.1zM243.3 303.8l1.9-1 1.6-2 .9-3 .1-3-.5-2.5-1.3-2.3-2-1.5-2-.4-2 .7-1.5 1.7-1 2.8 0 3 .6 3 1.4 2.7 1 1 1 .6z" fill="none" stroke="#1c1c1c" stroke-width="1.05" stroke-dasharray="1.4 1"/><path d="M306.5 320.3l-106 0 0-113.5 106 0zM273.2 222.8l1.1-1 .2-1-.2-1-1.2-2-2.1-2-3-1.8-3-1-2.5 0-1.5.8-.5 1.5.5 1.5 1.5 2 1.7 1.5 2.3 1.4 2.5.9 2.5.4zM236.6 226.8l1.2-1 .7-1.5.2-1.5-.3-2-.7-1.5-1.2-1.2-1-.4-1.5 0-1.5.9-1 1.6-.5 2.1.2 2 .8 1.5 1.5 1.1 1.5.3zM253 234.8l.3-1-.3-.8-.6-.7-1.4-.6-.6.1-.8.5-.2.5.1 1 .9 1 1.6.4zM216.2 240.3l2.3-.9 1.3-1.1.5-1 .1-1-.6-1.5-1.3-1.1-2.5-.7-2.9.3-1.9 1-.8 1-.4 1 .2 1.5.6 1 1.2.9 1 .4 1.5.2zM275.5 254.8l3-.7 5-1.7 1.5-.8 1.4-1.3.7-2-.1-2-1.1-2-2.3-2-1.9-1-2.2-.8-2.5-.4-2-.1-2 .3-2 .7-1.5 1-1.1 1.3-.8 2 0 2 .4 2 1 2 1.5 1.7 1.5 1.1 1.5.6zM205.5 274.3l1-1.5 1.5-6.5 1.2-2.5 2.1-2 4.8-3 1.1-1 .6-1 .3-1-.2-1-.6-1-1.4-1-1.4-.6-2-.4-3.5.2-2.7 1.3-1.1 1-1 1.5-.7 1.8-.4 2.2-.5 10 .3 2 .6 1.7 1 1zM295 270.3l1.2-1 1-2 .4-2 0-2.5-.6-2.5-1-1.7-1-.8-1.5-.3-1.1.8-1.1 2-.7 3-.1 3 .5 2 1 1.4 1.5.8zM277.8 276.3l2.2-1.3 1.4-1.7.6-2-.4-2-1.7-2-3.4-2-2.5-.6-2 .5-1 .6-.8 1-.7 1.8.1 2.7.9 2.4 1.3 1.6 1.7 1 2 .4zM233.5 275.3l1-1 .3-1 0-1-.5-1-.8-.7-1.5-.5-1 .1-1.2.6-.7 1-.2 1 .2 1 .4.7 1 .9 1 .3 1 0zM244 306.8l1.5-.7 1.5-1.3 1.8-3 1-4-.1-4.5-1.1-3.5-1.1-1.5-1-1-1.5-.9-1.5-.5-1.5-.2-1.5 0-1.4.6-1.1.8-.9 1.2-.8 1.5-.6 3.5.3 4 1.3 4.5 1.7 3.1 1 1 1.5.8 1.5.2zM284.7 289.3l-.2-.5-.5-.2-.7.2-.2.5.9.2z" fill="none" stroke="#1c1c1c" stroke-width="1.05" stroke-dasharray="1.4 1"/><path d="M306.5 320.3l-106 0 0-46.4 1 3.1 1.5 1.9 1 .5 1 0 1.5-.8 1-1.3.5-1.3 1.6-7.7 1.2-3 1.2-1.4 1.5-1.1 5.5-2.7 2-1.3 1.1-1.5.3-1.5-.3-1.5-.7-1-2.4-1.7-4.5-1.6-2.5-.3-2.5-.1-3.5.7-2.7 1.5-1.7 2-1.1 3 0-50 106 0zM277.1 226.3l1.4-.7.9-1.3.2-1.5-.3-1.5-.6-1.5-1.3-2-1.9-2-2-1.8-2.5-1.6-2.5-1.3-2.5-1-2.5-.7-2-.2-2 .1-1.6.5-1.1 1-.5 1-.1 1 .1 1.5.6 1.5 1.8 2.5 3.9 3.5 3.2 2 4.7 1.7 4 .9zM236.9 230.8l1.6-.6 1.5-.8.7-.6.6-1 .4-3-.5-4-1.2-3.9-1.5-2.2-1-.7-1.5-.6-2.5.1-1.5.5-1.2.8-.9 1-.8 1.5-.5 2-.4 4 .1 3.5.6 1.5.6.8 2 1.4 2.5.5zM254.3 237.8l1-.5.7-.8.4-1.7-.6-2-1.7-2-2.1-1.4-2-.5-2.1.4-1.7 1-.6 1 .1 1.5 1 2 1.3 1.4 1.5 1.1 1.5.6 1.5.2zM215.6 242.3l1.9-.4 2.1-.6 1.8-1 1-1 .9-1.5.3-1.5-.1-1.5-.5-1-.9-1-1.1-.7-3.3-.8-5.2 0-1.5.3-1.6.7-1.6 1.5-.8 1.5-.2 2 .7 2 1.4 1.5 1.9 1 2.2.5zM278.6 280.8l1.4-.9 2.5-2.3 4.5-6.1 1 0 3 2 2 .7 2-.1 1.5-.9 1.6-1.9 1.2-3 .5-3-.1-3.5-.8-3-1-2-2.4-2.8-3.4-2.7-1.9-5-1-1.5-2-2-2.8-2-3.9-1.6-4-.8-3.5.1-3 .6-2.5 1.2-1.6 1.5-.9 2-.2 3 .8 3.5 1.4 3.1 2 2.7 3.5 3.1.5 0 2.9-1.9 2.6-1.4 4.5-1.3 3-.4 2 .2 1 .9.3 1-.1 3-.7 3.8-1 3.3-1 1.5-.5.1-1-.4-5.5-2.9-3-1.9-3.5-2.8-.5-.1-3 2.5-1.8 2.4-.5 2 .1 2.5.9 4 1.3 3.1 1.5 1.7 2.5 1.7 3 1 1 .1zM234.8 279.3l.7-.5.9-1 1.1-2.5.5-3-.5-2.4-1.5-1.5-2.5-1-3-.4-2 .6-1.5 1.5-.8 2.2-.1 2.5.9 2.4 1.5 1.7 2 1.1 2.5.6zM287.6 294.3l1.9-.6 2-.9 1.2-1 .7-1 .4-1-.1-1.5-.4-1-.8-1-1.5-1.2-2.5-1.1-6.5-1.4-3-.1-1 .4-1 .8-1.5 2.1-.6 2 .4 2 1.1 1.5 2.6 1.9 2.5 1 3 .4zM245 310.3l2-1.1 1.5-1.5 1.3-1.9 1.1-2.5.7-3 .4-3.5-.1-3.5-.6-3-.5-1.5-.9-1.5-1-1-1.4-1-2.5-1.1-3.5-1-2.5-.3-1.5.2-1 .7-1.2 1.5-.8 2-.5 2.5.2 5 1.6 7.5 1.7 4.5 1 1.5 1 1.1 1 .6 1.5.6 1.5 0zM218 301.3l.8-1 .2-1-.3-1-.7-.7-1-.4-1-.1-1 .3-1.1.9-.4 1.5.4 1 .6.5 1.5.4 1-.1z" fill="none" stroke="#1c1c1c" stroke-width="1.05" stroke-dasharray="1.4 1"/><path d="M306.5 320.3l-106 0 0-36.4 2 .2 2-.4 2.5-1.1 1.3-1.3.7-1.1.6-1.9 1.2-7.5.7-2.8 1.5-2.3 2.5-1.8 3-1 3-.2 2.4.6.8 1 0 1.5-.7 6 .4 4 .6 1.9 1 1.9 3.7 4.2 1 2 3 14 1.5 12.5 1.1 2.5 1.7 1.7 1.5 1 1.5.5 2 .3 1.5-.1 2-.5 1.5-.8 1.5-1.1 1.5-1.5 1.4-2.5.8-3 .7-6 .4-7-.1-3.5-.6-4-.6-2.2-.8-1.3-1.7-1.1-5-1.4-2.7-1-1.6-1-.8-1-.5-1.5.1-1.5 1.3-7 0-1-.5-1-1.8-1-5-1.3-3.7-1.2-1.9-1-.9-1-.2-1.5.4-5.5-.2-1-.6-1-1.5-1-2.2-1-14.2-4.9-1.5.1-2.5.4-4.5 1.5 0-41.1 31.2 0-2.2.8-2.5 1.6-2 2.1-1.1 2-.2 1 .2 1 1.7 3.5.6 3-.7 3.5-1.3 2.5-1.7 1.1-2.5.5-4.5 0-7-1-1.5.1-2 1-1.5 1.3-1.2 1.5-.7 1.5-.5 2 0 2 .3 1.5.7 1.5 1.2 1.5 3.2 2.1 2.5 1 3-.3 5-1.1 4.5-1.3 2.9-1.4 1.8-1.5 2.3-3.1 1.5-1.1 2.5-.7 7-1.1 1.5.1 1.5.5 5.5 4.3 2.5 1.4 2.5.5 5.5-.4 1.5.4.5.7.5 1.5 3.5 14.5.1 2.5-.9 4 .2 2 1.9 5.5 1.7 6.4 3.1 5.6.4 2 .3 4 .7 2 .7 1 1.3 1.1 4 2.8 2 1.1 4.5 1.2 5.5.5 4-.5 2.5-.9 2-1 1.8-1.3 1.5-1.5 1-1.5.6-1.5.2-2-.5-2-.7-1.5-2.5-3.5-.5-1.5.2-1.5 2.7-6 1.1-5 .2-3-.1-3-.3-3-.9-2.5-.9-1-2.9-1.8-1.1-1.2-.7-1.5-.7-4-.6-1-3.9-2.2-5-3.6-3-1.6-4.5-1.7-3-.5-3.5.3-9.5 1.8-1 .1-1-.4-3.2-5.7-2.8-2.9-3.5-2.2-5-1-1.5-1.1-.8-1.3-.6-2-1.8-9.5-.6-2.5-1.2-1.9-1.9-1.1 13.2 0 .5 3 1.8 5.5 1.4 2.4 1.5 1.5 5.5 4.5 2.5 1.5 11 4.9 2 .5 1.5.1 2-.2 2.5-.7 2.2-1 1.4-1 .8-1 .3-1-.3-2.5-1.2-2.5-1.2-2-3.9-4.5-5.1-4.2-5.6-3.3 35.6 0zM246.6 264.3l1.4-.7 1-1.2.6-2.1.1-2-.4-2-.9-2-1.4-1.4-1.5-.2-1.2.6-.9 1.5-.3 2 .1 2.5.4 2.5.6 1.5.8.7zM284.5 263.9l-1 .1-1.5-.2-1.5-.6-1.3-.9-.9-1-.4-1 .1-1 .5-1 1.5-1.2 2-.6 2 0 1.8.8.9 1.5.1 2-.8 2-.5.6zM218.6 308.8l2.9-.9 1.5-.9.7-.7.4-1 .3-1.5-.2-3-1.2-3.7-1-1.9-1-1.3-1-.8-1.5-.8-1.5-.2-1.5.1-1.5.4-2 1.2-4.9 4-1.5 2-.2 1 0 1.5.6 1.5 1.1 1.5 1.4 1.3 1.5.9 2 .8 2 .5 2.5.2z" fill="none" stroke="#1c1c1c" stroke-width="1.05"/><path d="M268 234.8l-3 .1-2-.6-1.5-1.1-3.2-3.4-5.8-4.7-1.5-.8-3-.9-1-.6-1.3-2-.6-3 .1-2.5.9-2 .6-.5.8-.3 1.5.5 1.5 1.8 2 4.2 1 1.3 4.2 2.5 4.3 3.5 6 2.8 2.3 1.7 1.1 1.5-.1 1-1.4 1zM218.5 227.8l-2.5-.1-1.8-.9-.3-.5-.3-1 .4-1.5 1.6-2 2.4-1.6 2.5-.6 2 .3 1 .9.4 1 .1 1.5-.5 1.5-1 1.2-1 .8-1.5.7zM294.5 241.8l-2-.3-2.1-1.2-3.2-3.5-.4-1 .3-.5 1.9-.5 2.5.3 2.5.8 2 1.2 1 1.7-.1 1.5-.9 1zM238.5 263l-2 .3-2.5-.6-2-1.4-.9-1.5-.2-1.5.4-2 1.2-2.2 2-2.3.1-.5-.4-.5-2.7-1.1-9-1.9-1.5-.9-.3-.6 1.3-1 6.5-2.5 1.5-1 2.8-2.5 1.7-1.1 3-1 2.5-.2 2 .4 1.5.8 5 4 1.5 1 1.5.5 4 .7 2 1.1 1.5 2.2 1 2.5.6 3.1.1 2.5-.6 3-1.6 2.4-1 .9-1 .4-1 .2-1-.3-1-.6-1-1.5-2.1-7-.9-2.1-1-1.5-1-.7-1.5-.3-2 .3-2.6.8-2.4 1-.6.5-.1.5 1.6 2.5.6 1.2.5 3.3-.5 2.5-.8 1zM282.5 260.8l-.5 0-.5-.5 0-.5.5-.5.8 0 .5.5.1.5-.4.4zM231 303l-.5.2-1-.2-1-.9-1-1.4-1.5-3.1-3.3-8.3-1-1.5-1.7-.9-6.5-1.1-.8-.5-.3-.5-.4-8 .5-5.7.6-1.8.9-1.5 1-1.1 1.5-.8 1.5-.2 1.5.2 1 .6.9 1.3.4 2 .6 8 .9 5 .5 1.5.7 1 2.5 2.2 1.5 1.8 1.8 3.5 1 3.5.5 3-.2 2.5zM264 309.3l-2 .4-2-.7-1.7-1.7-1.1-3-.4-3 0-6.5-.5-6.5.2-3 .9-4.5-.4-2-1-1.4-2-2.1-1.9 3-1.1 1-1 .5-1.5.4-1.5 0-1.5-.4-1.1-.5-1.4-1.5-.3-2 .3-1.2.7-1.3.8-1 1-.6 1.5-.4 2 .2 2.3 1.3 2.2 1.9.5 0 1.7-3.4 1.8-2.3 1-.5 1-.2 1.5.4 1 .6 1.3 1.5.9 2 .4 2 .1 3.5.3 1 2.5 3.9.7 1.6.5 2.5.3 5 .9 2.5 1.1 1.3 4.5 3.7 5 2.6 1.5 1.4.2 1.5-.7 1-1.5.8-1.5.2-1.5 0-1.5-.4-4-2.2-1.5 0-1 .6-3.2 3zM208.5 290.3l-1 .3-.5-.1-.5-.7 0-.6.5-.9.8-.5.7-.3 1 0 .3.3 0 1z" fill="none" stroke="#1c1c1c" stroke-width="1.05"/><path d="M220 225.3l-1.5.3-1-.3-.3-.5.2-1 1.1-1 1-.4 1 0 .5.3.3.6-.3 1zM239 245.8l-1.5-.1-1.5-.6-.5-.8.5-1.5 1-1.2 1.5-.9 2-.1 1.5.6.6.6.5 1 0 1-.3.5-1.4 1zM256 255.6l-.5.1-1-.4-.7-1.5-.1-2 .3-.9.5-.4.5-.1.8.4.9 1.5.1 2-.3.7zM237 260.5l-1 .2-1-.3-1-1.1-.2-1 .3-1 .4-.6 1-.6 1.5.2.7.5.6 1-.1 1.5-.7.9zM217.5 279.4l-1-.2-1-1-.6-1.4-.3-2 .1-2 .4-1.5.9-1.4 1-.5 1 .2.7.7.6 1.5.2 1.7 0 2.3-.5 2-.5.9zM263 303.5l-1 .1-.7-.3-.8-.9-.4-1.1-1.5-12 .3-2.5.8-2 1.3-1.4 1.5-.5 1.5.4 1.5 1.3.8 1.7.4 2.5-.2 2.4-1.5 9.1-.8 2z" fill="none" stroke="#1c1c1c" stroke-width="1.05"/></g><path d="M256.5 209.6h.01M238 212.6h.01M247.8 216.7h.01M275.6 216.1h.01M224.4 222.7h.01M234.2 223.8h.01M247.8 224.8h.01M262.5 227h.01M235.8 231.9h.01M253.8 235.2h.01M223.8 234.1h.01M274.5 233.6h.01M242.9 241.2h.01M265.3 242.1h.01M253.8 246.7h.01M238.5 251h.01M225.5 253.2h.01M248.3 256.8h.01M257.5 257.9h.01M287.3 228.8h.01M210.1 266.4h.01M217.4 271.2h.01M226.9 274.5h.01M238.1 267.8h.01M248.9 268.9h.01M255 267h.01M205.1 276.5h.01M213.5 280.6h.01M221.7 282.9h.01M233.2 283.8h.01M241.3 275.4h.01M248.6 280.4h.01M257.2 278.4h.01M203.7 288h.01M212.7 290.7h.01M221.5 292.7h.01M230.2 291.8h.01M242.8 289.4h.01M253.3 290.7h.01M214.8 301.6h.01M223.7 302.4h.01M233.6 301.3h.01M241.6 297.2h.01M253.3 298.3h.01M247.7 304.6h.01M239.1 309.6h.01M229.3 311.9h.01M255.6 311.4h.01M247.1 316.3h.01M266.8 264.5h.01M280.2 260.6h.01M293 261.9h.01M263.5 272.9h.01M277 271.2h.01M286.9 267.5h.01M298.6 269.6h.01M290.8 275h.01M271.8 280.4h.01M283.3 278.4h.01M294.1 284.6h.01M264.5 288.5h.01M275.7 288.5h.01M284.5 287.4h.01M266.3 295.7h.01M274.8 297.4h.01M283.3 296.8h.01M293 295.2h.01M262.4 303.5h.01M271.4 305.8h.01M280.7 306.3h.01M265.6 313.6h.01M264.5 218.9h.01M286.3 240.1h.01M293 246.2h.01M298.6 253.4h.01M288 254.5h.01M303.4 243.4h.01M268.5 254h.01M213.9 226.4h.01M215 237.6h.01M206 242.6h.01M218.4 246.6h.01M210 252.2h.01M202.7 259.4h.01M215.6 258.8h.01M236.8 259.4h.01M225.1 264.4h.01M246.8 213.1h.01" stroke="#000" stroke-width="1.7" stroke-linecap="round" stroke-opacity=".55" fill="none"/><ellipse cx="251.2" cy="266.1" rx="60.3" ry="59.7" fill="none" stroke="#2a2a2a" stroke-width="1.25"/><linearGradient id="cg4" x1="0" y1="213.6" x2="0" y2="318.5" gradientUnits="userSpaceOnUse"><stop offset="0%" stop-color="#ffffff"/><stop offset="5%" stop-color="#ffffd0"/><stop offset="10%" stop-color="#ffff9d"/><stop offset="15%" stop-color="#ffff69"/><stop offset="20%" stop-color="#ffff36"/><stop offset="25%" stop-color="#ffff07"/><stop offset="30%" stop-color="#ffe100"/><stop offset="35%" stop-color="#ffbf00"/><stop offset="40%" stop-color="#ff9d00"/><stop offset="45%" stop-color="#ff7b00"/><stop offset="50%" stop-color="#ff5c00"/><stop offset="55%" stop-color="#ff3a00"/><stop offset="60%" stop-color="#ff1700"/><stop offset="65%" stop-color="#f40000"/><stop offset="70%" stop-color="#d20000"/><stop offset="75%" stop-color="#b30000"/><stop offset="80%" stop-color="#900000"/><stop offset="85%" stop-color="#6e0000"/><stop offset="90%" stop-color="#4c0000"/><stop offset="95%" stop-color="#2a0000"/><stop offset="100%" stop-color="#0b0000"/></linearGradient><path d="M325.7 213.6L328.5 207.6L331.3 213.6L331.3 318.5L328.5 324.5L325.7 318.5Z" fill="url(#cg4)" stroke="#bbb" stroke-width="0.5"/><path d="M331.3 223.5h1.6" stroke="#666" stroke-width="0.6"/><text x="334" y="227.2" class="tk">100</text><path d="M331.3 252h1.6" stroke="#666" stroke-width="0.6"/><text x="334" y="255.7" class="tk">0</text><path d="M331.3 280.4h1.6" stroke="#666" stroke-width="0.6"/><text x="334" y="284.1" class="tk"><tspan class="mn">−</tspan><tspan dx="0.8">100</tspan></text><path d="M331.3 308.3h1.6" stroke="#666" stroke-width="0.6"/><text x="334" y="312" class="tk"><tspan class="mn">−</tspan><tspan dx="0.8">200</tspan></text><text x="314.9" y="204.4" class="bl"><tspan font-style="italic">B</tspan><tspan class="br">[</tspan>fT<tspan class="br">]</tspan></text><text x="250.8" y="197.7" class="ti" text-anchor="middle">OPM − TAN − LAT</text><clipPath id="h5"><polygon points="390.7,231.3 400.6,226.3 410.9,221.1 422.6,214 433.6,211.4 443.2,209.8 461.4,215.4 474.2,228.8 490.1,243.8 485.1,270.7 481.7,284.8 480.1,294.9 467.5,307.5 452.9,314 434.2,316.8 415.9,312.4 401.5,301.8 390.4,288"/></clipPath><g clip-path="url(#h5)"><g filter="url(#bl)"><rect x="387.4" y="206.8" width="105.7" height="113.1" fill="#120000"/><path fill-rule="evenodd" fill="#220000" d="M493.4 320.3l-106 0 0-113.5 106 0zM462.5 290.8l1.4-1 .5-1 0-1.4-.5-1-1-.8-1.5-.5-1.5.1-1.1.6-1 1-.3 1 0 1 .5 1 1.9 1.2z"/><path fill-rule="evenodd" fill="#350000" d="M493.4 320.3l-106 0 0-113.5 106 0zM462.5 291.3l1.4-.8.9-1.2.3-1.5-.6-1.5-1.1-1.1-1.5-.5-2 0-1.5.7-.9.9-.6 1.2 0 1.3.5 1.1.8.9 1.2.6 1.5.2z"/><path fill-rule="evenodd" fill="#440000" d="M493.4 320.3l-106 0 0-113.5 106 0zM462.5 291.8l1.8-1 1.1-1.5.2-1.5-.5-1.5-1.2-1.3-1.6-.7-1.9-.2-2 .7-1.2 1-.8 1.4-.1 1.6.4 1 .7 1 1.7 1 1.8.2z"/><path fill-rule="evenodd" fill="#540000" d="M493.4 320.3l-106 0 0-113.5 106 0zM462.2 292.3l2.2-1 1.3-1.5.5-1.5-.5-2-1.3-1.6-2-.9-2-.1-2 .6-1.4 1-1 1.5-.2 1.5.3 1.5.8 1.1 1.5 1.1 2 .5z"/><path fill-rule="evenodd" fill="#660000" d="M493.4 320.3l-106 0 0-113.5 106 0zM461.7 292.8l2.2-.8 1.7-1.2.9-1.5.1-2-1-2-1.7-1.4-2-.6-2.5.1-2 1-1.4 1.4-.6 1.5 0 2 1 1.8 1.5 1.2 2 .5zM409.6 298.8l.6-1.5-.2-1.5-.9-1-1.2-.2-1 1.2 0 2 1 1.2 1 .1z"/><path fill-rule="evenodd" fill="#760000" d="M493.4 320.3l-106 0 0-113.5 106 0zM463.1 292.8l2.3-1.3 1.4-1.7.3-2-.7-2.2-1.5-1.6-2.5-1-2.5-.1-2.5.9-1.6 1.5-.9 1.9 0 2.1.6 1.5 1.4 1.4 2 .9 2 .1zM409.4 300.3l1-.8.5-.9.3-1.3-.2-1.5-1.1-1.9-1-.5-1 0-1 .4-.7 1-.4 1.5.1 1.4.5 1.3 1 1 1 .4z"/><path fill-rule="evenodd" fill="#890000" d="M493.4 320.3l-106 0 0-113.5 106 0zM462.8 293.3l2.6-1.3 1.6-1.7.6-2-.6-2.5-1.6-1.9-2.5-1.2-2.5-.2-2.8.8-1.7 1.2-1.2 1.8-.4 2 .6 2.3 1.4 1.7 1.8 1 2.3.3zM409.5 301.3l.9-.6 1-1.4.5-1.5-.1-1.5-.4-1.6-1-1.4-1-.7-1.5-.2-1.5.7-.9 1.2-.5 1.5.1 1.5.6 2 1.2 1.5 1 .5z"/><path fill-rule="evenodd" fill="#980000" d="M493.4 320.3l-106 0 0-113.5 106 0zM415.7 266.8l.6-.5 0-1-1.9-1.4-2.5-.2-1 .4-.5.7.4 1 1.5 1 1.6.3zM462.2 293.8l2.7-1.1 2.3-1.9.8-2-.2-2.5-1.4-2.1-2.5-1.6-2.5-.6-3 .5-2.3 1.3-1.6 2-.6 2 .3 2.5 1.2 1.8 2 1.3 2.5.6zM410.2 301.8l1.2-1.1.9-1.9.2-1.5-.2-2-.9-1.9-1-1.1-1.5-.7-1.5.1-1.5.8-1.3 1.8-.3 2 .3 2 .9 2 1.4 1.4 1.5.5z"/><path fill-rule="evenodd" fill="#a80000" d="M493.4 320.3l-106 0 0-113.5 106 0zM468.2 225.8l1.1-1.5-.4-1.2-1.5.3-1 1.4-.1 1 .6.4zM415.4 267.8l1.5-.5.9-1-.2-1-1-1-2-1-2.2-.4-2 .3-1 .7-.2 1.4 1.4 1.5 2.3.9zM461.5 294.3l2.9-1 2.4-1.5 1.4-2 .3-2-.7-2.5-1.8-2-2.6-1.3-3-.3-2.5.6-2.5 1.5-1.6 2.5-.4 2.5.7 2.5 1.8 1.8 2.5 1.1zM409.9 302.8l1.5-1.1 1.2-1.9.4-2-.1-2.2-.9-2.3-1.1-1.4-1.5-.9-2-.1-1.8.9-1.2 1.5-.7 2 .2 2.5 1 2.7 1.5 1.7 1.5.7z"/><path fill-rule="evenodd" fill="#ba0000" d="M493.4 320.3l-106 0 0-113.5 106 0zM467.9 227.3l1.5-1.2 1.2-1.8.1-1.5-.8-1.1-1.5-.1-1.3.7-1.2 1.2-.9 1.8-.2 1.5.6.8 1 .2zM429.5 225.8l.9-.5.3-.5-.1-.5-.7-.6-2-.3-1 .4-.4.5.1.5.8.7zM447.3 249.8l-.5-.5-.9-.3-1-.1-.5.4 1.5.6zM416.3 268.3l2.1-1 .5-1-.6-1.5-1.3-1-2.2-1-2.9-.5-2.5.4-1.1 1.1-.2 1 .4 1 1.6 1.5 2.8 1zM460.1 294.8l2.8-.5 3.2-1.5 1.8-1.5 1-2 0-2.5-1.2-2.5-2.3-2-2.5-.9-3.5 0-3 1.2-2.3 2.2-1.1 2.5.2 3 1.2 2.2 2.5 1.7zM410.5 303.3l1.4-1.3 1.2-2.2.4-2-.1-2.5-1-2.5-1.5-1.7-1.5-.9-2 0-2.2 1.1-1.6 2-.5 2.5.3 2.5 1.2 3 1.8 1.8 2 .7z"/><path fill-rule="evenodd" fill="#ca0000" d="M493.4 320.3l-106 0 0-113.5 106 0zM466.5 228.8l2.9-1.7 1.9-2.3.4-2.5-.3-.9-.7-.6-1.3-.3-2 .6-1.5 1.2-1.4 2-.7 2 .1 1.8 1 .8zM430.5 226.3l.8-.5.4-1-.4-1-.9-.7-1.5-.4-2 0-1.8.6-.5.5.1 1 1.7 1.2 2 .5zM458.8 239.8l.8-1 .3-1.5-.5-1.2-1-.3-1.5 1.1-.5 1.9.5.9.5.3zM449.7 251.3l.3-1-.6-1-2.5-1.4-2-.3-2 0-1.5.5-.5.7.9 1 2.4 1 3.7.8zM416.7 268.8l2.2-.9.9-1.1-.2-1.5-1.7-1.7-3-1.3-3-.5-3 .4-1.5 1.1-.3 1 .5 1.5 2.2 2 3.1 1zM462.3 294.8l3.6-1.5 2.1-1.5 1.3-2.5.1-2.5-.6-1.5-.9-1.5-2.5-1.9-3-1-3.5.2-3 1.3-2 1.9-1.3 3 .1 3 1.3 2.5 2.4 1.7 3 .6zM409.9 304.3l2-1.4 1.4-2.1.7-2.5 0-2.5-1-3-1.6-2.1-2-1.2-2 0-2 .8-2 2-.9 2.5.1 2.5 1.1 3.5 1.7 2.3 2 1.2zM444.5 305.3l.7-1 0-1.5-.8-1.1-1.5.1-.9 1-.1 1.5 1 1.1 1 .1z"/><path fill-rule="evenodd" fill="#dd0000" d="M493.4 320.3l-106 0 0-113.5 106 0zM466.1 229.8l3.3-1.8 2.4-2.7.6-1.5.2-1.5-.4-1.5-.8-.8-2-.3-2 .7-2 1.6-1.5 2.1-1 2.7 0 2.5 1 .8zM430.8 226.8l1.4-1 .3-1-.6-1.4-1.5-.9-2-.4-2.5 0-2.5.5-1.4.7-.2.5.7 1 2.9 1.6 3 .7zM459.1 240.8l1.3-1.5.5-2-.4-2.5-1.1-.6-1.5.5-1 .8-1 1.3-.4 1.5.2 1.5.8 1 1.4.4zM450.3 252.3l.8-1-.1-1.5-1.1-1.3-2-1-2.5-.6-3-.1-2.8.5-1.3.5-.4.5.7 1 3.3 1.5 6 1.6zM416.9 269.3l2.7-1 1.2-1.5-.1-1-.5-1-2-1.5-3.8-1.6-3.5-.4-2.7.5-.9.5-.9 1-.2 1 .5 1.5 1.2 1.3 1.5 1.1 3.5 1.1zM461.7 295.3l4-1.5 2.7-1.9 1.3-2.1.2-2.5-1-2.9-2-2.1-3-1.5-3.5-.3-3.5.9-2.7 1.9-1.6 2.5-.6 3.5.9 3 2 2 3.5 1.2zM410.5 304.8l1.9-1.6 1.4-2.4.7-2.5-.2-3-.9-2.7-1.6-2.3-1.9-1.3-2.5-.2-2.5 1.1-2.2 2.4-.8 2.5.2 3 1.3 3.6 2 2.6 2.5 1.1 1.5 0zM444.9 306.8l1-1 .6-1 0-2.5-.6-1.3-1-.7-2 0-1 .5-1 1.3-.3 1.2.1 1.5.7 1.3 1 .8 1 .2z"/><path fill-rule="evenodd" fill="#ec0000" d="M493.4 320.3l-106 0 0-113.5 106 0zM459 241.8l1.3-1 .9-1.5.5-2 .3-4 .4-.9 6.9-3.6 1.7-1.5 1.5-2 .8-2 .1-1.5-.4-1.5-1.1-1.1-1.5-.4-1.5.2-2 .9-1.6 1.4-1.4 1.7-1.2 2.3-1.8 6.4-4 2.7-1.5 1.9-.6 2.5.5 2 1.6 1.2zM431 227.3l1.5-1 .6-1.5-.6-1.5-2.1-1.3-3-.5-5.5.1-2 .3-1.2.9.2 1 1 1 4.4 2 3.6.8zM449.7 253.3l1.2-.4.8-.6.4-1 0-1-1.2-2-2-1.2-3.5-.8-4-.1-5.5.5-1.3.6-.3.5.4 1 .6.5 2.4 1 9.2 2.6zM417 269.8l3-1 1.5-1.5.2-1-.3-1-2.2-2-3.8-1.7-4-.8-3.7.5-1.3.6-.9.9-.2 1.5.6 1.5 1.2 1.5 1.4 1 3.9 1.4zM461 295.8l3.9-1.3 3.1-1.7 1.8-2 .7-2.5-.6-3-1.7-2.5-2.8-1.9-3.5-.9-4 .6-3.2 1.7-2.2 2.5-1 3.5.5 3.5.8 1.5 1.1 1 1.5.8 2 .7zM409.8 305.8l2.1-1.2 1.7-2.3 1.3-3.5 0-3-1.1-3.5-1.9-2.7-2-1.3-2.5-.2-2.5 1-2.3 2.2-1.1 2.5-.1 3 1.1 4 1.9 3.1 2.5 1.7 1.5.3zM445.3 307.8l1.2-1 .8-1.5.4-2-.2-1.5-.6-1.4-1-.9-1.5-.5-1.5.2-1.8 1.1-1.1 1.5-.4 1.5.2 2 .8 1.5 1.3 1.1 1.5.4z"/><path fill-rule="evenodd" fill="#fc0000" d="M493.4 320.3l-106 0 0-113.5 106 0zM458.2 242.8l1.7-.7 1.5-1.8 1.4-5.5.8-1.5 1.3-1.3 5.3-3.2 2.7-3 1.1-2.5.2-2-.4-1.5-1.4-1.4-1.5-.4-2 .3-2 .9-1.9 1.6-2.4 3.5-2.8 6.5-3.4 3.1-1.4 1.9-.8 2.5.2 2.5.6 1 .9.7zM431 227.8l1.9-1.2.6-.8.2-1-.8-1.8-2-1.3-3-.6-7.5-.4-2.5.4-1.4 1.2 0 1 .6 1 1.3 1 2.1 1 6.4 1.7 2 .1zM450.8 253.8l1.6-1.2.5-1.3 0-1-1-2.1-1-.9-1.5-.7-4.9-.8-8.6-.2-2.5.5-1.1 1.2 0 1 .6 1 2 1.1 13 3.3zM416.8 270.3l3.6-1.1 1.4-.9.7-1 .1-1-.3-1-2.2-2-4.6-2-4.1-.9-4.2.4-1.4.5-1.2 1-.3 1.5.5 1.5 1.5 2 1.6 1.2 4 1.6 2.5.3zM460.4 296.3l4.5-1.5 3.8-2 1.4-1.5.9-2.5-.3-3-1.8-3-2.5-2-3.5-1.1-4 .1-4 1.8-1.4 1.2-1.2 1.5-1.2 3.5-.1 2 .3 2 .6 1.3.9 1.2 1.6 1 2 .8 2 .3zM410.6 306.3l1.8-1.3 1.7-2.7 1.2-3.5.1-3-1.1-3.5-1.9-3-2.5-1.7-2.5-.2-3 1.3-2.5 2.6-1 2.5 0 3.5 1.4 4.5 2.1 3 1.5 1.1 1.5.6 1.5.1zM478.8 292.8l.1-.6-.5-.5-.4.6.1.5.3.2zM445.5 308.8l1.4-1.1 1.2-1.9.5-2-.1-2-.6-1.8-1.1-1.2-1.4-.6-2 0-2 .7-1.8 1.9-.8 2 .1 2.5.9 2 1.6 1.4 2 .6z"/><path fill-rule="evenodd" fill="#ff1000" d="M493.4 320.3l-106 0 0-113.5 106 0zM459.1 243.3l1.6-1 1.1-1.5 1.7-5.5.9-1.8 1.4-1.2 5.3-3.5 1.5-1.5 1.3-2 .9-2.5.1-2-.5-1.7-1.3-1.3-1.7-.5-2 .1-2 .8-2.1 1.6-2.7 3.5-3.6 7-3.1 3.2-1.2 1.8-1.1 3.5.4 3 .9 1.1 1 .5 1.5.2zM431 228.3l2.4-1.4.8-1.6 0-1-.5-1-.9-1-1.4-.8-3.5-.9-8.5-.8-3 .6-1.6 1.4-.2 1 .7 1.5 1.6 1.3 2 1 7.5 1.9 2.5.1zM451.4 254.3l1.7-1.5.5-2.5-1-2.5-2.2-1.5-4.5-.9-11-.6-2.5.5-1.4 1.5-.2 1.5.5 1 1.1 1 1.5.7 14.5 3.4 1.5.2zM416.6 270.8l4-1 1.7-1 .9-1 .3-1-.1-1-.6-1-1.4-1.3-4.8-2.2-5.2-1.4-2.5 0-2.5.4-2 .6-1.2.9 0 1.5.8 2 1.5 2 1.8 1.5 4.1 1.7 2.5.3zM459.8 296.8l3.6-1.1 5.3-2.4 1.7-1.5 1-2 .2-1.5-.2-2-1.4-3-2.6-2.5-3-1.3-4-.4-2 .4-2.5 1-3 2.3-1.1 1.5-.8 2-.5 4.5.4 2 .7 1.5 1.3 1.1 2.5 1 2.5.5zM409.9 307.3l2.5-1.4 1.5-2 1.8-4.6.2-3-1-3.8-2-3.4-2.5-2-2.5-.5-3 1-3 2.7-1.6 3-.1 3 1.2 5 2.1 3.5 1.4 1.3 1.5.9 2 .4zM479.1 293.8l.5-1-.2-1.3-.5-.7-1 0-.6 1 .1 1.2.5.8.5.2zM445.5 309.8l1.9-1.4 1.4-2.1.6-2.5-.1-2.5-.5-2-.9-1.2-1.5-.8-2.5-.1-2.5.8-2 1.8-1.3 2.5-.1 2.5.8 2.5 1.8 2 2.3.9z"/><path fill-rule="evenodd" fill="#ff1f00" d="M493.4 320.3l-106 0 0-113.5 106 0zM458.3 244.3l2.1-1 1.5-1.5.9-2 1.1-4 1.2-2 6.8-5 2.4-3 1.1-2.5.4-2.5-.5-2-1.4-1.6-2-.7-2 .1-2.5.9-2 1.4-2.8 3.4-4.1 7.5-4.1 4.9-.9 2.1-.4 2-.1 2 .4 1.6.5 1 1 .8 1.5.3zM431 228.8l2.7-1.5 1.1-2-.2-1.5-.7-1-2.5-1.7-3.5-.9-9.5-1.1-3.5.7-1.7 1.5-.2 1.5.7 1.5 1.7 1.5 2.5 1.3 3.5 1.1 4.5.8 3 .2zM451.9 254.8l1.4-1 .6-1 .4-2.5-.9-3-.9-1-1-.5-4.1-.7-13.5-1-2.5.7-1.2 1-.5 1-.1 1.5.8 1.5 1.1 1 1.9.9 9.5 1.9 6 1.5 1.5 0zM416.4 271.3l4.5-1.1 1.8-.9 1.1-1 .5-1 0-1.5-1-1.5-1.3-1-4.4-2-5.7-1.7-2.5-.2-5.5.4-1.5-.2-1-.6-2-2.3-1.9-.9-1.6.1-1 .9-.1 1 .6 1.1 1.5 1.1 4 1.8 3.3 5 2.7 2.4 2 1 2.5.8zM459.5 297.3l3.9-1.3 6-2.7 1.7-1.5.9-2 .2-1.5-.2-2-1.2-3-2.4-2.5-3.5-1.7-2.5-.5-2 0-2 .4-2.5 1-2 1.3-1.6 1.5-1 1.5-.8 2-.5 2.5-.1 3 .2 2.5.7 1.5 1.6.7 3 .7zM411 307.8l1.9-1.4 1.5-2.4 1.8-4.7.1-3.5-1.2-4-2.2-3.6-2.5-1.9-1.5-.4-1.5 0-1.5.4-2 1.2-3.1 3.3-1.2 3 .1 3.5 1.7 5.5 1.2 2 1.3 1.4 1.5 1.1 2 .8 2 .1zM479.4 294.3l.6-1.5-.2-1.5-.9-1.2-1 0-1 1.2 0 2 1 1.2 1 .1zM445.5 310.8l1.7-1 1.4-1.5 1.1-2 .5-2 .1-3-.4-3.3-.8-1.2-1.2-.4-4 0-3 1.1-2.4 2.3-1.2 3 .1 3.5.7 1.5 1.1 1.5 1.7 1.2 1.5.5 1.5.1z"/><path fill-rule="evenodd" fill="#ff3200" d="M493.4 320.3l-106 0 0-113.5 106 0zM450.5 255.8l2.4-.8 1.5-1.7.6-2-.2-4 .2-1 .7-.5 3.7-1.1 2-1.3 1.4-2.1 1.5-5 1.1-2 1.6-1.5 5.2-3.5 2.6-3 1.4-3 .4-3-.7-2.4-1.5-1.5-2.5-.8-3 .5-3 1.6-2.1 2.1-1.9 2.6-3.5 6.3-3.5 4.2-1.1 1.9-1.2 3.5-.2 5-.5 1-1.5.3-3.5 0-13.5-1.3-2.5.6-1.9 1.9-.5 2 .4 1.5 1.2 1.5 1.8 1.1 3 1 7 1 6.5 1.7zM431.1 229.3l2.8-1.6 1-1.2.4-1.2-.2-1.5-.6-1-1.1-1.1-1.7-.9-2.8-.8-7.1-1.2-4.4-.5-2 .2-2 .7-1.3 1.1-.6 1 0 1.5 1.1 2 1.8 1.5 2.5 1.3 4 1.2 4.5.8 3 .1zM416.3 271.8l4.7-1 2.1-1 1.3-1 .7-1 .3-1.5-.6-1.5-1-1-3.9-2-7-2.4-2.5-.5-5 0-2-.4-3.6-2.7-1.9-1-2 0-1.8 1-.6 1.5.8 2 1.2 1 4.9 2.7 3.5 4.3 2.1 2 2.4 1.3 2.5.8 2.5.4zM445.5 311.8l2.5-1.5 1.9-2.5 1-3 .7-5 .8-1.5 1.5-.4 4.5 0 2.5-.6 8.5-3.5 2.4-2 1-2.5-.2-3.5-1.4-3-2.3-2.5-3.5-1.7-3.5-.6-3.5.6-4 1.8-2.3 1.9-1.6 2.5-.8 3-.8 5.1-.6 1.4-1.4.7-5.5 1.5-2 1.2-1.4 1.6-1.1 2-.5 2.5.1 2.5.9 2.1 1.5 1.8 2 1.3 2.5.6zM410.7 308.8l2.2-1.3 1.5-2.1 2.2-6.1.2-3.5-1.4-4.5-2.5-4-2.5-1.9-1.5-.4-1.5.1-1.5.4-2 1.2-3.4 3.6-1.5 3-.1 3.5 1.7 6 1.3 2.2 1.4 1.8 1.6 1.2 2 .8 2 .3zM478.4 295.3l1-.4.5-.5.5-2.1-.6-2-1.4-1-1.5.7-.7 1.8.7 2.4zM427.5 310.8l.2-.5-.8-.7-1 .1-.6.6.1.5.5.2z"/><path fill-rule="evenodd" fill="#ff4100" d="M493.4 320.3l-106 0 0-113.5 106 0zM451.6 256.3l1.8-.8 1.5-1.7.7-2 .3-3.5.5-1.2 4.5-2.4 1.5-1.5.9-1.9 1.3-4.5 1.3-2.3 1.9-1.7 5.3-3.5 2.8-3.5 1.2-3 .4-3-.8-2.5-1.8-1.9-2.5-.6-3 .3-3 1.4-2.5 2.2-2 2.8-3.6 6.3-4.6 6-1.3 3.5-.9 5-1.1 1.3-2 .4-4.5 0-11.5-1.3-2.5.7-1.9 1.9-.6 2 .4 2 1.7 2 2.4 1.5 3 .9 8.1 1.1 5.9 1.5zM429.2 230.3l2.2-.6 1.9-.9 1.3-1 1.1-1.5.2-1.5-.5-1.5-1-1.3-1.5-1.1-3.5-1.2-9.5-1.9-3-.3-2 .2-2.1.6-1.7 1-.9 1-.4 1.5.5 2 1.8 2 2.3 1.5 3 1.3 4 1.1 4.5.6zM416.5 272.3l5.4-1.3 2-1 1.6-1.2.7-1 .3-1.5-.6-1.5-1.5-1.4-3.4-1.6-8.1-2.8-8.5-1.2-1.5-.7-3-2.3-2-.8-3 .1-1.2.7-.8.8-.5 1.2.1 1 1.1 2 6.3 3.9 4 4.5 2 1.7 2 1.2 3 .9 3 .4zM477.2 274.3l.7-1-.4-1.5-1.1-.5-1 .3-.7 1.2.2 1.1 1 .7zM445.7 312.8l2.7-1.6 2-2.4 1.2-3 1-4.5.8-1.6 1-.6 4-.6 2.5-.7 9.5-4 2.3-2 1.1-2.5-.6-4-1.4-3-2.4-2.5-3.5-1.7-4-.7-3.5.6-4 1.9-2.5 1.9-1.4 2-.9 2.5-1.2 5.1-.9 1.9-1.5 1-5.6 2-1.5 1-1.5 1.6-1.3 2.4-.6 2.5.2 3 .7 2 1.6 2 2.4 1.6 2.5.7zM410.6 309.8l2.3-1.1 1.6-1.9 2.6-7.5.3-3-1.5-5-2.5-4.4-2.5-2.1-1.5-.6-1.5-.1-1.5.3-2 1.1-4 3.9-1.9 3.4-.3 3.5.5 3 1.1 3.5 1.3 2.5 1.3 1.7 2 1.7 2 1 2 .3zM478.9 295.8l1-.7.5-.8.4-2.5-.9-2.2-1-.7-1-.2-1 .4-.8.7-.5 1 0 1.5.5 1.5.8 1.2 1 .7zM426.6 312.3l1.3-.3 1.1-.7.5-1-.6-1.2-1-.5-1.5 0-1.5.5-1 .7-.2 1 .2.5 1 .7z"/><path fill-rule="evenodd" fill="#ff5100" d="M493.4 320.3l-106 0 0-113.5 106 0zM452.5 256.8l1.7-1 1.2-1.5 2-6.4 4-2.6 1.5-1.7 2.2-6.8 1.2-2 2.1-1.9 5.7-3.6 2.7-3.5 1.4-3.5.2-3.5-1-2.7-2-1.7-3-.7-3 .5-3 1.4-2.5 2.1-1.8 2.6-4.2 6.9-4.2 5.6-1.5 3.5-1.3 5.2-1 1.4-2 .6-4 .1-3.5-.4-6.5-1.2-2.5-.1-2.5 1-2 2.2-.6 2.2.2 1.5.5 1 1.9 2 3 1.8 3 .9 8 .9 6 1.6 2 .1zM429.9 230.8l2.5-1 2-1.3 1.3-1.2.7-1.5 0-1.5-.7-1.5-1.3-1.4-1.5-1-3.5-1.1-10.5-2.3-3-.3-2.5.2-2.5.8-1.5 1.1-1.1 1.5-.2 2 1 2 2.3 2.3 3 1.7 4 1.6 4 .8 4.5.4zM417 272.8l5.9-1.6 2-1 1.8-1.4.9-1.5 0-1.5-.9-1.5-1.1-1-2.2-1.1-11-3.8-7.5-1.4-4.5-2.8-2.5-.9-2-.1-1.5.2-1.5.8-1 1-.5 2.1.4 1.5.7 1 1.9 1.5 5 2.9 4.5 4.8 2 1.7 2.5 1.3 2.5.7 3 .3zM476.6 276.3l1.3-.6 1-.9.6-2-.4-1.5-.7-.8-2-.7-1 .2-1.3.8-.7 1-.4 1.5.3 1.5.8 1 1.3.5zM446.1 313.8l2.8-1.6 2-2.3 1.3-2.6 1.6-5.5 1.3-1.5 4.3-1.4 6-2.8 5.1-1.8 3.4-2.1.5 0 .5.5 1.2 2.1 1.3 1.2 1.5.4 1.5-1.1.7-1.5.1-1.5-.8-2.8-1-1.1-1-.4-3 .3-2.5-6-1-1.6-1.5-1.5-4-1.8-4-.7-3.5.6-4.5 2.1-2.6 1.9-1.6 2-.8 2-1.5 5.4-1 1.8-1.5 1.1-5.5 2.2-1.9 1.5-1.3 1.5-1.4 2.5-.7 2.5-.1 3.5.7 2 2.3 2.5 2.9 1.8 3 .6zM411 310.8l2.4-1.2 1.6-1.8 2.8-9 .1-2.5-1.7-5.5-2.8-4.9-2.5-2.2-1.5-.5-1.5-.1-1.5.3-2 1.2-2.5 2.3-2.5 2.8-1.8 3.6-.1 3.5.7 3.5 1.1 3.5 1.4 2.5 1.6 2 2.1 1.6 2 .9 2.5.3zM428.3 312.8l1.7-1 1-1.5-.1-1-1.1-1-1.9-.5-2.5.4-2.2 1.1-.7 1 .4 1.5 1.5 1 2 .3z"/><path fill-rule="evenodd" fill="#ff6400" d="M493.4 320.3l-106 0 0-113.5 106 0zM452 257.8l1.9-.8 1.4-1.2 1.3-2 1.7-5 3.6-2.8 1.2-1.2.8-1.9 1.3-5.1 1.3-2.5 2.2-2 5.9-3.5 1.6-1.5 1.6-2.5 1.6-4 .2-3.5-1.1-3-2.1-1.9-3-.8-3.5.4-3.5 1.5-2.5 2.1-1.6 2.2-4.4 7.4-4.5 6-1.3 3.1-1.6 5.5-1.1 1.5-2 .7-4 .1-3.5-.4-7.5-1.5-2-.1-2.6 1.2-2.1 2.5-.7 2.5.3 1.5.6 1 2.5 2.5 3.5 2.2 3 1 8.2.8 5.8 1.5zM429 231.8l2.4-.9 3-1.8 1.6-1.3.9-1.5.2-1.5-.5-1.5-1.2-1.6-2-1.4-2.5-1-12.5-3.1-3.5-.5-2.5.2-2.5.7-1.9 1.2-1.3 1.5-.5 2 1 2.5 2.2 2.6 3 2 4 1.8 4.5 1.2 5 .6zM392 233.3l.4-.5.1-1.5-.6-1.1-.5-.1-.7.7-.1 1.5.7 1zM417.6 273.3l6.7-2 2.1-1.1 1.7-1.4.9-1.5 0-1.5-.8-1.5-1-1-2-1-6.8-2.1-7-2.6-6-1.3-4.5-2.6-2.5-.9-2.5-.3-2 .3-1.5.6-1.5 1.4-.5 1-.2 1.5.5 1.5.6 1 1.8 1.5 6 3.5 4.8 5.1 2 1.7 2.5 1.3 2.5.6 3 .2zM481.5 255.3l.2-1-.3-.9-1-.5-.7.9.2 1.5 1 .5zM445.6 315.3l2.8-1.2 2.6-2.3 1.8-3 2.1-6.1.6-.9 1.4-1 8.5-4.4 8-2.6 1 0 2.4 2.5 1.1.6 1.5 0 1.3-1.1.7-1.5.2-1.5-.5-3-.7-1.3-1-.9-2.8-.8-.7-.6-2.7-6.9.1-.5.6-.5 2.5-.4 2-.9 1.7-1.7.6-1.5-.1-2-.7-1.5-1-1.1-1.5-.6-1.5 0-1.5.6-1.4 1.1-1.2 2-.3 4.5-.6.4-6.5-1.2-3 0-3.5 1.1-5.5 3.1-1.8 1.6-.9 1.5-2.1 6.5-1.2 2-1.5 1.2-6 2.7-3.1 3.1-1.4 2.5-1.3 4.5-.7 1.2-1 .3-3-.2-2.5.4-3 1.1-1.5 1.2-.3 1 .8 1.5 1.4 1 1.6.5 2 .1 2-.4 4-2.3 1-.2 6.5 4 2.5.5zM410.3 312.3l3.6-1.5 1.9-2 .7-5 1.8-5 .2-2-.3-2-1.3-3.5-3-5.9-1.5-1.8-1.5-1.1-1.5-.6-1.5 0-2 .6-1.5 1-5.4 5.8-2 3.5-.4 2 0 2 .6 3.5 1 3.5 1.5 3 1.5 2 2.2 1.9 2 1.1 2.5.6z"/><path fill-rule="evenodd" fill="#ff7300" d="M493.4 320.3l-106 0 0-113.5 106 0zM452.3 258.8l1.6-.6 1.7-1.4 1.4-2 2.2-5 4.3-4 .8-2 1.3-6 1.4-2.5 2.4-2 6.7-3.5 1.5-1.5 1.6-2.5 1.7-4.5.2-4-1.2-3.2-1-1.2-1.5-1-3-.8-4 .4-3.5 1.4-3 2.3-1.5 2-4.5 8.1-4.5 5.6-1.3 2.9-2 6.5-.7 1-1 .8-2.5.6-3.5 0-4.5-.8-6.5-1.7-2-.1-2.5 1-2.3 2.7-1 3 .2 1.5.4 1 2.5 2.5 5.2 3.8 3 1 7.5.6 7 1.7zM426.6 233.3l1.8-.3 2.5-1.2 4.1-2.5 2-2 .6-1.5-.2-2-1.3-2-1.7-1.5-3-1.2-6.5-1.5-7.5-2.5-3-.6-3 .1-3 .8-2.4 1.4-1.5 1.5-.7 2 .6 2 3.5 4.1 2.5 2.1 3.5 1.9 4.5 1.6 4.5 1zM392.2 234.8l1.2-1.4.1-2.1-1-3-1.1-.8-1 .4-.7.9-.5 1.5-.1 1.5.4 1.5.6 1 .8.5zM480.5 257.3l.9-.3.5-.5.6-2.2-.6-1.8-.5-.6-1-.5-1.5.9-.6 2 .7 2 .9.8zM416 274.3l7.9-2.2 3.1-1.3 2.3-1.5 1.2-1.5.4-1.5-.4-1.5-1.2-1.5-2.4-1.3-8-2-7.5-3-5.5-1.5-5-2.6-2.5-.7-2.5-.3-2.5.2-2 .8-1.6 1.4-.8 1.5-.1 1.5.5 1.5.6 1 1.8 1.5 7 4 5.1 5.5 2 1.8 2.5 1.4 2 .6 2.5 0zM446.4 316.8l3-1.5 2.3-2 2-3 2.2-6 .8-1.5 2.2-2 4.4-3 4.1-1.8 5.5-1.2 1.5.2 2.5 2.2 1.5.6 1.5-.3 1.2-1.2 1.1-3-.4-3.5-1.4-2.4-3.4-2.6-1-3 .4-1.5 4-3.2 1-1.3.5-1.5.1-1.5-.4-2-.8-1.5-1.4-1.3-2-.7-2.5.5-1.7 1-1.6 1.5-2.2 3.9-.7.6-1.3.2-4.5-.2-2 .3-3 1.3-5.7 3.4-1.8 1.4-1.1 1.6-2.2 6.5-1.2 2-1.5 1.1-5 2.2-2.8 2.2-2.4 3-1.9 4.5-.9 1.2-1 .5-6.9 1.8-3.5 1.5-1.4 1 1.9 2.5 1.5 1 1.9.7 3.5.3 5-1.4 1.5-.1 5 2.8 2 .7 2.5.4zM411.3 313.8l2.6-1.1 3.9-2.4.2-.5-1-3.5 0-2 .4-2 1.5-3.5.2-2-.4-2-1.5-4-3.3-6.8-2.5-2.8-1.5-.8-1.5-.2-2 .6-2 1.5-6.5 7.5-1.3 2-.8 2-.3 4 .8 4 1.1 3.5 1.6 3 1.9 2.3 2.5 2 2.5 1.1 2.5.4z"/><path fill-rule="evenodd" fill="#ff8600" d="M493.4 320.3l-106 0 0-61.7 1.9 2.2 7.1 3.5 2.5 1.8 8.7 10.2.1.5-.5 1-2.8 2.9-8.7 11.1-1.3 3-.5 3 .3 3.5.8 3.5 1.2 3 1.4 2.5 2.1 2.5 2.2 1.8 2.5 1.4 2.5.7 2 .1 2.5-.3 5-2.1 1.5-.2 7 1.9 8.3-.3 5.2 2.8 3.5 1 4-.1 3.5-1.3 2.5-1.8 2.4-2.6 1.9-3.5 1.4-5.5.9-2 2-2.5 2.6-2 3.8-1.9 4.5-.8 2.5.2 3 2.3 1.5.7 1.5-.1 1.7-1.4 1.3-3 .2-2-.3-2-1.1-3-2.4-3.5-.3-1.5.7-1.5 2.9-3.5.6-1.5.3-2-.3-2.5-1.4-3-1.9-2-2-.6-2 .4-2.5 1.4-6 5-5 .8-2 .8-10.2 6.7-1.4 2-1.9 5.5-1 2-1.7 1.5-4.8 2-3 2.2-3.2 3.8-2.1 4-.8 1-2 1-6.4 1.9-2 .3-1-.3-1.1-1.4-.3-2 .4-2 1.8-4-.1-2.5-4.2-10.6-3.8-6.9-.1-1 1.4-1 11.5-3.7 5.7-2.3 1.6-1 1.3-1.5.5-1.5-.1-1.5-1.2-2-1.5-1-8.3-1.3-3.5-.8-3.6-1.4-4.9-2.5-11.5-4.1-3.5-.5-3.5.4-2.6 1.2-1.1 1-.8 1.1 0-48.1 106 0zM452.2 260.3l2.2-.8 1.5-1.3 4-7 4.2-3.9.7-2 .9-6.5.7-1.8 1-1.5 3-2.2 7.4-3 1.6-1.5 1.6-2.5 2.1-5.5.3-4.5-.4-2-1-2-1.1-1.4-1.5-1.1-3.5-1-4 .1-4.5 1.5-3.5 2.6-1.5 2.1-4.2 8.7-5.3 6.7-3 8.8-.8 1.5-1.2.9-3 .6-4.5-.3-6-1.5-5-2.1-1.5-.4-1 .3-1.5 1.2-2.5 3.3-1.2 3.5.1 1.5.4 1 1.4 1.5 4.6 3.5 4.7 4.1 2 .7 7 .1 7 1.5zM427.7 235.3l8.2-6.1 2.1-2.4.4-1.5-.3-1.5-1.3-2-1.7-1.5-3.2-1.5-8.5-2.1-8-3.7-2.5-.6-3.5.2-3.5 1-3.1 1.7-1.9 2-.8 2 .5 1.5 9.3 8.9 4.5 2.3 5.5 2.1 6 1.4zM392.4 235.8l1.5-1.6.4-2.4-1.4-6.5-.5-.6-1-.3-1.5.7-1.3 1.7-.7 2-.2 2.5.5 2 1.2 1.9 1.5.8zM480.4 258.8l1-.4 1-1.4.6-2.7-.3-1.5-.8-1.6-1-.9-1-.3-1 .3-1 1-.6 1-.2 1.5.4 2 .7 1.5 1.2 1.2z"/><path fill-rule="evenodd" fill="#ff9500" d="M445.9 241.8l-4 0-5.5-1.2-3.5-1.3-2-1.5-.7-1.5.5-2 1.7-2 4.2-3 1.5-1.5 1-2-.3-2-1.8-2.5-2.6-2-2.5-.9-7.5-1.8-4.6-2.3-1.5-1.5-.9-2 .2-1.5 1.3-1.5 1.6-1 36.5 0 2.9 2.4.9 2.1.1 2.5-.5 3.5-1.2 3.5-2.3 3.9-4.5 5.2-2.4 7.9-.9 2-1.2 1.2zM425.9 260.3l-4-.2-3.5-.9-3.2-1.4-5.3-3.6-10.5-3-6-.6-6 .9 0-16.5 1.5 1.3 2 .7 1.5-.3 1.6-1.4.6-1 .3-1.5-.5-4.5.1-2 .4-1.5 1-1.3 1.5-.7 1.5-.1 3.5 1.2 2.5 1.9 4 4.8 7.9 4.7 2.5 2 .7 1 .3 1.5-1.4 6.5.1 2 .9 1 5 2.8 2.3 1.7 1.9 2 .8 1.5.2 1-.6 1-1.6.7zM423.4 306.8l-2 .4-1.5-.1-1-.5-.7-1.3 0-2.5 2-4 .3-2-5.5-15-.4-3 .7-1.5 1.3-1 2.2-1 15.6-5.2 1.7-1.3 3.8-4.4 2.5-1.4 3-.6 8 .3 1.8-.4.7-.9 2.6-5.6 1.9-3.2 1.5-1.5 2.9-1.8 1-1 .2-1-.4-5 .3-2.5.8-2.5 1.2-1.8 2.5-1.8 3-1 3-.3 4 .4 1-.2 1-1.1 2-3.1 1.5-1.6 1.5-.5 1.2.5 1.5 2 1.5 4 1.1 5 .7 5.5 0 15.5-.3 3-1.4 7.5-1.1 3-1.2 1.9-1.5 1-1-.6-5.6-10.8-.4-2 2.1-4.5.4-2-.1-1.5-.9-2.9-1.5-2.4-1-.6-1 .2-3 2.2-.6 1.5.6 3 2.3 6-.2 1.5-.7 1-3.7 3-5.2 3.3-2 .6-4.5.5-5.2 5.1-6.3 4.1-2 2.4-2 5.8-1.5 2.3-1.5 1-4.5 1.9-2.7 2-3.9 4-2.7 4.5-1.1 1zM388.9 297.4l-1.5-.2 0-35.6 7 2.3 3.9 2.4 1.9 2 2.9 4 1.4 2.5.3 1.5-.2 1.5-.9 2-3.2 5-9.1 11-1.5 1.2zM470.4 312.8l-2 .3-2.5-.2-2-.6-1.5-.9-1.5-1.6-.8-1.5-.7-3.5.8-3 1.1-1.5 1.6-1.5 4-2.1 4-.5 2.5.4 1.7 1.2 3.1 3.5.5 1 .2 1.5-.7 2.5-1.9 3-2.9 2.3z"/><path fill-rule="evenodd" fill="#ffa500" d="M445.9 241.3l-3.5.1-5.5-1.1-3-1-1.9-1.5-.8-2 .7-2 1.3-1.5 4.2-3 1.5-1.5.9-1.5-.1-2-2-3-2.8-2.2-2.5-1-7-1.6-3.6-1.7-1.1-1-.7-1.5.4-1.5.9-1 3.6-1.7 5.5-1 4-.3 11.2 0 3.3.7 4 1.6 3 1.7 2.1 2 .9 1.5.4 2-.2 2.5-.8 2.5-1.9 3.1-4.5 4.9-2 7.3-1.1 2.7-1.4 1.4zM424.4 259.8l-4.5-.5-3.9-1.5-2.4-2-1.7-3.4-.5-.3-5.5-.2-8-1.6-8-.7-2.5-.6 0-11.6 2.5.6 1.5-.1 1.5-.7 1.5-1.4 1.1-2.5-.4-6 .6-1.5.7-.9 1.5-.8 1.5-.2 2 .4 1.5.8 2.2 2.2 2.8 4.2 4.6 3.3 2.2 2 1.5 2.5.4 2.5-.4 3-1.8 5 .5.5 5 .6 2.5.7 2.5 1.2 2 1.5 1.4 2 .1 1.7-1.5 1.3zM487.4 269l-1-.1-1.5-1.3-1.3-2.3-.7-2-.2-2.5 1-4.5 0-2.5-2.8-10-.5.1-4 3.5-2 1-2.5.7-1.5.1-1-.4-1.5-1.5-1-1.5-.8-3.5.4-3.5 1.4-2.7 2.5-1.9 3.5-.9 3 .3 2.3 1.7 2.2 3.5.5-.1 2.5-4.3 1.5-1.5 1.5.1 1 .9.8 1.4 1.1 3 .9 5 .5 5.5-.1 5.5-.5 5.5-.9 4.5-1.3 3.1zM468.4 268.4l-2 .3-2-.2-2-.6-1.9-1.1-1-1-.8-1.5-.6-2-.1-2 1.2-4 1.2-2.1 1.3-1.4 3.2-1.9 4.5-1 2 1 2.5 2.6 1.6 3.3.7 3.5-.6 2.5-1.5 2-2.7 2.1zM390.9 292.3l-1.5-.2-2-1.3 0-27.2 1-.2 2 0 3 .8 2.5 1.1 2 1.3 2 2.2 1.7 2.5 1.3 2.5.4 2-.1 2-.7 2-3.1 5.4-5 5.2-2 1.5zM423.4 306.3l-3 .2-1-.5-.7-1.2.2-2.5 2.2-3.5.4-1.5-.4-1.5-3.2-7.5-1.4-4.5-.4-3.5.4-1.5.6-1 2.3-1.8 4.5-1.8 5-1.2 7-1.1 1.5-1.1 4-4.1 3.5-1.8 3-.5 3.5.1 3 .9 2.5 1.4 1.3 1.5.5 1.5 0 2-.7 1.5-2.2 2.5-5.4 3.5-1.7 1.5-1.1 2-1.7 5-1 1.6-1.5 1.2-4.5 1.9-2 1.3-6.5 6-1.8 3.5-.8 1-1.5 1zM469.4 309.8l-3.5 0-3-1.4-1.8-2.1-.5-1.5 0-1.5 1-2.5 2.6-2.5 3.2-1.4 3.5-.3 2.1.7 1.8 1.5 1 2 .2 2-.7 2.5-1.4 2-2 1.5z"/><path fill-rule="evenodd" fill="#ffb700" d="M445.9 240.8l-3.5.2-5-1-2.5-.8-2.1-1.4-.8-2 .6-2 1.3-1.5 4.3-3 1.6-1.5 1-2-.2-1.5-2.1-3-3.1-2.5-2.5-.9-6.9-1.6-3.1-1.5-1-1-.4-1 .1-1 .8-1.1 2.5-1.3 4-.9 10-.5 5 .1 4 .8 3.5 1.2 3.5 2 2.3 2.2.8 1.5.3 1.5-.1 2-.6 2-1.9 3-3.8 3.4-.8 1.1-1.3 6.5-.8 2.5-1.3 2zM405.9 250.8l-3-.2-11.5-2-2.3-.8-1.7-1.6 0-6.3 5-1.6 2.7-2.5 1-2.5-.5-4 .2-2 1.1-1.7 1.5-.7 2.5 0 2.5 1.4 1.6 2 1.8 4 5.1 4.2 1.3 1.8.6 1.5.4 2-.2 2-1.5 3.5-1.4 1.5-1.4 1-1.8.7zM473.4 247.4l-2.5 0-2.5-1.2-1.5-2.4-.3-3 .7-3 1.6-2.2 2.5-1.3 3-.4 2 .6 2 1.8.9 2 .2 2.5-.7 2.5-1.4 1.9-2 1.5zM486.9 266.3l-1-.2-.8-.8-1.3-3-.2-2 .5-6-1.4-6-.2-2 .3-3.5.9-3.5 1.2-2.5 1.5-1.1 1.5.7 1.6 3.4 1 5 .4 5-.3 6-.8 5.5-1.4 3.7zM468.9 267.4l-1.5.3-2-.1-3-1.1-2.2-2.2-1.1-3 .2-3 1.6-3.5 2.5-2.2 3-1 3 .1 2.5 1.3 2.3 2.8.9 3 0 2.5-1.2 2.5-2.5 2.3zM423.9 259.3l-3.5-.2-3.5-1.3-2.3-2-.4-1 .2-1 1.5-1.4 2.5-.6 3 .2 3 1.2 2.4 2.1.5 1 .1 1-1 1.3zM391.9 290.3l-1.5-.1-1-.4-2-1.8 0-22.7 2.5-.9 2 .1 2.5.7 3.5 2.2 1.7 1.9 1.5 2.5.8 2 .4 2-.1 2-.6 2-2.3 4.5-3.9 4.2-2 1.3zM423.4 305.8l-1.5.3-1.5-.3-.7-.5-.5-1 0-1 .5-1.5 2.5-3 .4-1-.4-1.5-3.2-6.5-1.4-4.5-.4-4 .4-1.5.8-1.5 2.6-2 4.9-1.8 3.5-.6 5.5.2 1.8-.3 1.2-.9 2.3-3.1 1.7-1.8 2-1.3 2-.8 2.5-.4 2.5.2 2.5.7 2.1 1.4 1.3 1.5.6 1.5-.1 1.5-.6 1.5-2.3 2.5-4.9 3-1.6 1.5-.7 1.5-1.4 4.5-1.2 2-1.7 1.3-5.5 2.5-7.9 6.2-1.1 1.2-.7 2.8-.6 1-1.2 1zM469.9 308.4l-3 .3-2.5-.8-2-1.6-.9-2 .2-2.5 1.2-2 2-1.6 3-1.1 2.5-.1 2.1.8 1.5 1.5.8 2-.3 2.5-1 2-1.6 1.6z"/><path fill-rule="evenodd" fill="#ffc700" d="M445.4 240.4l-3 .1-5.5-1-2.5-1-1.2-1.2-.6-1.5.6-2 1.4-1.5 3.8-2.5 2.3-2 1.1-1.5-.1-1.5-2.4-3.5-3.4-2.8-2.5-1-6.5-1.4-2.9-1.3-1-1-.3-1 .3-1 .9-.9 3-1.3 3.5-.5 10 0 4.5.3 3.5.8 3.5 1.4 2.6 1.7 1.9 2 .8 1.5.2 1.5-.6 3-1.9 2.8-4.5 3.8-.5 1.4-.3 4.5-.7 3-1.5 2.5zM404.9 249.8l-5-.4-7.5-1.6-2.6-1.5-1.2-2-.1-1.5.7-1.5 4.2-2.8 2.8-3.2.5-2-.6-3.5 0-1.5.8-1.7 1.5-1 2.5 0 1.5.7 1 .8 1 1.7.9 3.5.5 1 4.7 4 1.7 3 .2 1.5-.2 2-1.5 3-1.3 1.3-1.5.9zM473.9 246.3l-2.5.3-2-.7-1.6-1.6-.8-2.5.1-2.5 1.2-2.5 2.1-1.7 2.5-.7 2 .2 2 1.2 1.3 2 .4 2-.2 2-1 2-1.5 1.5zM487.4 264l-.5.2-1-.2-1-1.2-.5-1.5 0-7-1.2-7 .3-3.5.7-3 1.2-2.3 1-.6 1 .3.5.5 1 2.1.8 3.5.5 4.5 0 5-.6 5-1 3.5zM423.9 258.8l-3 0-3.1-1-1.9-1.5-.5-1 .2-1 1.3-1.2 2-.5 2.5.1 2.5.9 2.1 1.7.5 1.5-.6 1.1zM468.4 266.8l-3 .1-2.5-1.1-2-2-1-2.5.1-3 1-2.5 1.9-2.1 3-1.3 3 .1 2.5 1.1 1.9 2.2 1 2.5.1 2.5-1 2.5-2 2.1zM392.9 288.8l-1.5.1-1.5-.6-1.3-1-1.2-1.6 0-18.7 1.5-1.3 2-.5 3.5.6 3.1 2 2.7 3.5.8 2 .4 2-.4 4-1.8 4-2.8 3.4-2 1.5zM423.4 305.3l-1.5.2-1-.2-.7-.5-.4-1 .3-1.5 1.3-1.6 2-1.2 2-.7-4.4-6-2.1-5-.6-2.5-.2-2.5.3-2 1-2 1.5-1.4 1.5-.9 4.5-1.4 3-.3 5.5 1 2-.3 1.4-1.2 1.9-3.5 1.2-1.5 2-1.6 2-.9 2-.4 2.5.1 2 .5 2.2 1.3.9 1 .8 1.5.1 1.5-.5 1.5-2.3 2.5-4.7 2.8-1.4 1.2-.8 1.5-1.3 4.3-1 1.8-1.5 1.4-5.5 2.4-6.5 5-5.5 2.1 1 2 .1 2-1 1.5zM468.4 307.8l-2.5-.2-2.4-1.3-1.2-2-.2-2 .9-2 1.9-1.7 2.5-1.1 2.5-.1 2 .7 1.3 1.2.6 1.5.1 2-.8 2-1.2 1.5-1.5.9z"/><path fill-rule="evenodd" fill="#ffda00" d="M445.4 239.9l-3 .2-5-.9-2-.7-1.6-1.2-.6-2 .7-1.7 1.4-1.3 6.6-4.5 1.3-1.5 0-1-2.7-3.5-3.9-3.5-2.7-1.1-6.5-1.4-2.4-1-1-1-.2-1 1.1-1.5 2.5-1.1 3.5-.4 14 .5 3.5.8 3 1.3 2.5 1.6 1.6 1.8 1 2.5 0 1.5-.5 1.5-.8 1.5-1.3 1.3-4.7 3.2-.4 1 .4 4.5-.5 3-1.3 2.7zM404.9 248.8l-4 .1-6-1.1-3.1-1.5-1.4-2 0-1.5.5-1 4.5-4.5 1.9-2.5.1-1.5-.7-3-.1-1.5.8-1.8 1.5-.9 2.5.3 1.7 1.4.9 2 .1 3 .4 1 4.7 4 1 1.5.5 1.5.1 2.5-1.1 2.5-2.1 2zM472.9 245.8l-2-.1-2-1-1.2-1.9-.3-2.5.5-2.1 1.5-1.9 2-1.1 2-.3 2 .6 1.4 1.3.8 1.5.3 2-.4 2-1.1 1.6-1.5 1.2zM486.9 262.4l-1-.3-.9-1.8-.2-6-1.1-6.5.2-2.5.6-3 .9-1.9 1-.7 1 .3 1.2 2.3.8 3.5.3 4-.1 4.5-.7 4.4-1 2.8zM423.4 258.3l-2.5.1-2.5-.8-1.7-1.3-.2-1.5 1.1-1 1.8-.6 2 .1 2 .7 1.5 1.1.6 1.2-.6 1.4zM467.9 266.4l-2.5-.1-2.5-1.2-1.6-1.8-.9-2.5.3-3 1.2-2.3 2-1.7 2.5-.8 2.5.1 2.5 1.3 1.5 1.9.9 2.5-.1 2.5-1.3 2.4-2 1.7zM393.9 287.4l-2 .3-1.5-.5-1.7-1.4-1.3-2.1 0-14.9 1.7-2 2.3-.9 3 .5 2.9 1.9 2.2 3 1.1 3.5-.1 3.5-1.4 4-2.2 3zM429.4 296.3l-2.5.3-2-.6-2-1.8-2-2.9-1.4-3.5-.6-3.5.4-3 1.1-2.1 1.5-1.4 1.5-.8 4-1.2 3.5.1 5.5 1.6 1.5-.2 1.5-1.4 1.8-4.1 1.2-1.8 2-1.7 2-.8 2-.4 2 .1 2 .6 1.5 1 1 1.1.6 1.4.1 1-.4 1.5-2.3 2.4-4.6 2.6-1.4 1.1-.8 1.4-1.2 4.3-1 1.8-1.5 1.2-4.5 1.9-5.5 4.3zM469.4 306.9l-2 .2-2-.4-1.5-1.1-1.1-1.8 0-2 .7-1.5 1.7-1.5 2.2-1 2-.1 1.8.6 1.2 1 .7 1.5.1 2-.6 1.5-1.2 1.5zM422.9 304.8l-1.1 0-.9-.5-.2-1.5.7-1.1 1-.6 1-.3 1 .2.8.8 0 1.5-1 1z"/><path fill-rule="evenodd" fill="#ffe900" d="M448.4 225.8l-1.5.4-1-.2-7-6.8-2.5-1.7-2-.7-5.8-1-2.5-1-1.1-1-.1-1 .2-.5 1.3-1 1.5-.5 5-.4 12 .7 3.5.9 3 1.3 2 1.5 1.7 2 .5 1.5 0 2-.7 1.5-1.5 1.7-2 1.2zM404.9 247.8l-3.5.4-5-.8-2.8-1.1-1.1-1-.5-1-.1-1.5.8-1.5 5.7-6.5.2-1-1.2-2.9-.3-1.6.5-1.5 1.3-1 2 0 1.8 1.5.6 2-.6 3 .2 1 4.6 3.5 1.2 1.5.7 1.5 0 2.5-.9 2-1.6 1.6zM445.4 239.3l-3 .3-6.5-1.3-1.8-1.5-.3-1 .3-1.5 1.8-1.9 6.5-3.9 2.5-1.1 1.5.1 1.7 2.8.5 3.5-1 3.5-.7 1zM473.9 244.9l-2 .3-2-.5-1.4-1.4-.6-1.5-.1-2 .8-2 1.3-1.5 2-.8 2 0 1.5.7 1 1.1.7 1.5.1 2-.4 1.5-1.1 1.5zM486.9 260.6l-.5 0-.5-.5-.4-1.3-.3-4.5-1-6 .1-2.5.6-2.4.5-1.1 1-1 1 .5 1 2 .9 6-.2 4-.5 3.5-.7 2.1zM467.9 265.8l-2.5-.1-2-.9-1.8-2-.7-2 .2-2.5 1.2-2.5 1.8-1.5 2.3-.8 2.5.2 2 1 1.5 1.7.9 2.4-.2 2.5-.9 2-1.8 1.6zM422.9 257.8l-2 .1-2-.6-1.2-1-.2-1 .9-1 1-.4 2 0 1.5.5 1.2.9.5 1-.5 1zM394.4 286.3l-2 .4-2-.7-1.6-1.7-1.4-2.7 0-10.9 1.5-2.5 1.1-.9 1.4-.6 1.5 0 1.5.4 2.5 1.6 1.9 2.6 1.2 3.5-.1 3.5-1.2 3.5-1.8 2.6zM429.4 295.3l-2.5.2-2-.7-2-1.7-1.9-2.8-1.1-3-.3-3 .4-2.5 1.4-2.3 3-2.1 4-.8 3 .4 5 2 2-.1 1.1-.6.9-1 1.7-5.5 1-1.5 1.3-1.2 2-1 2.5-.4 2.5.5 2 1.1 1.3 2 .1 1.5-.3 1-2.1 2.2-5.3 2.8-1.2 1-.7 1.5-.8 3.5-1.1 2-1.4 1.1-4 1.5-5.5 4.5zM468.9 306.4l-2 .1-1.8-.7-1.4-1.5-.5-1.5.3-1.5 1-1.5 1.4-1.1 2-.6 1.5 0 1.6.7 1 1 .6 1.5-.1 1.5-.6 1.5-1.5 1.4zM423.4 303.4l-1 .3-.5-.4.2-.5.8-.5.7.5z"/><path fill-rule="evenodd" fill="#fff900" d="M449.9 224.3l-2.5.2-2-.6-2.5-1.7-5.5-5-2-.8-7.5-1.4-1.8-1.2-.1-1 .9-.9 1.5-.6 4-.3 12.5.9 2.5.5 2.5 1 2.2 1.4 1.6 1.5.8 1.5.3 1.5-.3 1.5-1.1 1.6-1.5 1.1zM401.4 232.3l-1.5.4-1.6-1.4-.5-2 .3-1 .8-.8 1-.2 1 .2 1.3 1.3.2 1.9zM444.9 238.9l-3 .2-5.5-1-1.7-1.3-.4-1 .1-1 1.5-1.9 5.5-3.1 2-.8 2-.1 1 .6 1 1.2.5 1.6.2 1.5-.4 2-.7 1.5-.9 1zM402.9 247.3l-3 .1-3.5-.8-2.3-1.3-.9-1.5.3-2 1.4-2 2.5-2.7 2.5-1.6 2 .2 3.2 1.6 1.8 1.5 1.1 2 .1 2.5-1.1 2-1.6 1.2zM473.9 244.3l-2 .4-1.5-.4-1.3-1-.8-1.5-.1-2 .5-1.5 1.2-1.5 1.5-.8 1.5-.1 1.6.4 1.2 1 .8 1.5.2 2-.6 1.5-.7 1zM486.9 258.6l-.5-.2-.4-1.1-1.3-8.5.3-3.5.6-1.5.8-.9 1 .5.5 1 .6 2.4.3 3-.5 5.5-.5 2zM468.4 265.3l-2 .1-2.1-.6-1.8-1.5-1-2-.1-2.5.8-2 1.7-1.9 2-.9 2 0 2.2.8 1.7 1.5.9 2 .1 2.5-.8 2-1.6 1.6zM421.9 257.3l-1.3 0-1.3-.5-.5-.5 0-1 1.6-.7 1.5.2.9.5.6 1-.2.5zM394.4 285.4l-1.5.3-1-.1-2-1.3-1.5-2.2-1-3.2 0-5.5.6-2.1 1.5-2.5.9-.8 1.5-.6 2.5.3 2.3 1.6 1.8 2.5.9 3-.2 3.5-.9 3-1.9 2.7zM429.9 294.3l-2.5.3-2-.5-2-1.5-1.5-2-1.2-2.8-.4-3 .4-2.5 1.2-2.1 1.5-1.3 1.5-.8 3.5-.6 3.5.7 5 2.5 2 0 2-1.2 1-1.2.6-5.5.7-1.5 1.4-1.5 1.9-1 2.4-.5 2 .3 2 1.2 1.2 2-.1 1.5-.5 1-2.3 2-4.8 2-1.7 1-.5 1-.6 4-.8 1.5-1.3 1-3.6 1.3-5 4.5zM468.4 305.9l-2-.2-1.5-.8-.8-1.1-.3-1.5.4-1.5.8-1 1.7-1 1.7-.4 1.5.3 1 .6.8 1 .3 1.5-.3 1.5-.8 1.2-1 .8z"/><path fill-rule="evenodd" fill="#ffff13" d="M449.9 223.4l-2.5.1-2-.6-2.5-1.7-5-4.6-2-.8-7-1-1.6-1 .1-1 2-1 3-.2 6 .8 6.5.3 4.5 1.3 3.2 2.3 1 1.5.3 1.5-.4 1.5-.6 1-1.4 1zM400.4 231.3l-1-.2-.7-.8-.1-1 .8-1.1 1.3.1.8 1-.1 1.2zM444.9 238.3l-2.5.3-5.5-.8-1.6-1-.4-1 .1-1 1.4-1.7 5.5-2.8 2-.5 1.5.2 1 .8.7 1 .4 2.5-.8 2.5zM473.4 243.9l-1.5.2-1.5-.4-1.1-.9-.6-1.5-.1-1.5.6-1.5 1.2-1.3 1.5-.6 1.5 0 1 .4 1 1 .7 1.5 0 1.5-.6 1.5-.9 1zM403.4 246.3l-2.5.4-2.5-.3-2.5-1-1.2-1.1-.3-1.5.4-1.5 1.6-2.2 2-1.6 2-.7 2 .3 2.5 1.3 1.6 1.9.4 2-.3 1.5-1.2 1.5zM486.9 255.8l-1-2.7-.8-4.3.3-2.5 1-1.7.5.1.7 1.1.7 3.5-.4 4.7-.5 1.4zM468.4 264.9l-2 .1-2.1-.7-1.6-1.5-.9-2 0-2 .9-2 1.2-1.4 2-.9 2-.1 2 .7 1.5 1.4.9 1.8.1 2-.6 2-1.4 1.5zM393.4 284.8l-2-.4-1.7-1.6-1.3-2.6-.6-3.4.2-3 1-3 1.4-1.9 2-.8 2.5.6 1.9 1.6 1.5 2.5.5 3-.3 3-1.2 3-1.9 2.1zM446.9 277.3l-2.5 0-.9-1-.4-2.5 1-2.5 1.6-1.5 2.2-.8 2 0 2 .8 1 1 .5 1-.1 1.5-.5 1-2.4 1.8zM429.9 293.4l-2.5.3-2-.6-1.8-1.3-1.4-2-1.1-3-.1-2.5.6-2 1.5-2 2.8-1.6 3.5-.3 3.5 1.3 5.5 4 1-.2 1.5-.9.8.2.2 1-.5.6-.6.4-1.9.1-5.5 6.4-1.5 1.2zM468.4 305.3l-1.5 0-1-.4-1-.9-.6-1.2.2-1.5.6-1 1.3-1 1.5-.5 1.5.2 1 .5.9 1.3.1 1-.3 1.5-.7.9z"/><path fill-rule="evenodd" fill="#ffff2a" d="M450.4 222.3l-2.5.3-3-.9-2.6-1.9-3.9-4.3-1.5-.9-6-.1-1.5-.5-.5-.7 1-.7 2-.2 2.3.4 3.2 1 6.5-.4 2.5.3 2 .6 3 1.9 1.3 2.1.1 1.5-.4 1zM444.4 237.8l-2.5.2-4.9-.7-1.3-1-.1-1.5 1.6-1.5 4.7-2.3 1.5-.4 1.5.2 1.5 1.3.5 2.2-.4 1.5-.6 1zM473.4 243.3l-1.5.3-1-.3-1-.7-.8-1.3 0-1.5.3-1 .7-1 1.3-.8 1.5-.2 1 .3.8.7.7 1 .2 1.5-.2 1-1 1.4zM400.9 245.8l-2-.2-2-.8-1-1-.3-1 .3-1.5 1.5-2 1.5-1 1.5-.3 1.8.3 1.7.8 1.1 1.2.6 1.5-.3 1.5-.9 1.2-1.5.9zM486.9 252.8l-.5-.6-.6-2.4.1-2 .5-1.1.5 0 .3.6.4 2-.1 2.5zM468.9 264.3l-2 .3-2-.5-1.5-1.1-1-1.7-.2-2 .4-1.5 1-1.5 1.8-1.2 2-.3 1.5.3 1.8 1.2 1 1.5.4 2-.5 2-1.1 1.5zM393.9 283.8l-2-.2-1.6-1.3-1.3-2.5-.6-3 .2-3 .9-2.5 1.4-1.7 2-.7 2 .5 1.5 1.3 1.2 2.1.6 2.5-.2 3-.9 2.5-1.5 2zM448.4 276.3l-2 .2-1.5-.5-.8-1.2 0-2 .8-1.5 1.5-1.2 2-.6 2 .2 1.1.6.9 1 .4 1-.2 1-.5 1-1.2 1zM428.9 292.8l-2.5-.2-2-1.1-1.8-2.2-.9-3 .2-2.5 1-2.1 2-1.7 2.5-.8 2.5.2 2.5 1 2.5 2.4 1 2-.3 2-1.8 3-2.4 2.1zM467.9 304.8l-1.5-.3-1-.7-.5-1 0-1 .4-1 1.1-1 2-.5 1 .2.9.8.5 1 0 1-.9 1.6z"/><path fill-rule="evenodd" fill="#ffff46" d="M449.9 221.4l-2.5.3-3-1.2-2.7-2.7-.7-1.5 0-1 1.4-.8 2.5-.2 2.5.5 2.1 1 1.6 1.5.6 1.5-.3 1.5zM443.9 237.3l-2 .1-4-.5-1.3-.6-.3-1 .5-1 1.6-.9 4-1.8 2 0 1.4 1.2.3 1.5-.7 2zM472.9 242.9l-2-.2-1-.9-.4-1 .4-2.1 1-.9 1-.5 1 .1 1 .4.9 1 .2 1-.5 2zM402.4 244.3l-2.5.4-2-.7-.9-1.2 0-1 .5-1 1.1-1 1.3-.5 1.5 0 1.5.8.9 1.2.2 1-.4 1zM468.9 263.9l-1.5.3-2-.3-1.5-.9-1.1-1.7-.2-2 .4-1.5.9-1.3 1.5-1 2-.4 1.5.4 1.5 1.1.8 1.2.4 1.5-.2 2-1 1.5zM393.9 282.8l-1.5 0-1.5-1-1.2-2-.7-3 .2-2.5.8-2.5 1.4-1.6 1.5-.5 1.5.3 1.6 1.3 1.2 2 .4 2-.1 2.5-.8 2.5-1.3 1.7zM447.4 275.8l-1.5-.4-.7-.6-.4-1.5.6-1.5 1.1-1 1.4-.6 1.5 0 1.6.6 1 1.5-.3 1.5-1.8 1.4zM429.4 291.9l-2 .1-2-.7-1.6-1.5-1.2-2.5-.1-2.5.7-2 1.7-1.8 2-.9 2.5 0 2 .8 2.2 1.9.9 2 0 2-1.1 2.1-1.7 1.9zM468.9 303.9l-1.5.2-1.6-.8-.3-1.5 1-1.5 1.9-.5 1 .4.5.6.3 1.5-.5 1z"/><path fill-rule="evenodd" fill="#ffff5e" d="M449.4 220.3l-2 .3-2.4-.8-1.9-2-.2-1.5 1-.8 1.5-.2 3.1 1 1.2 1 .6 1 0 1zM443.9 236.4l-1.5.2-3.4-.3-1.3-.5-.2-.5.9-1 3.4-1.5 2.1-.3 1 .7.3 1.1-.3 1.2zM472.9 242.3l-1.5 0-.8-.5-.5-1 .3-1.8 1.5-1.1 1.6.4.9 1.5-.3 1.5zM400.4 242.8l-1-.5 0-.5 1-.5.8.5.1.5zM467.9 263.8l-1.5 0-1.5-.5-1.4-1.5-.5-1.5 0-1.5.7-1.5 1.2-1.2 1.5-.5 1.5 0 1.5.6 1.1 1.1.7 1.5 0 1.5-.5 1.5-1.3 1.4zM393.9 281.8l-1.5 0-1.3-1-1-2-.4-2 .1-2 .6-2.2 1-1.3 1.5-.7 1.5.3 1.1.9 1 1.5.5 2 0 2-.6 2-1 1.6zM448.9 274.9l-2.2-.1-.6-.5-.3-1 .7-1.5 1.9-1 1.9.5.8 1-.4 1.5zM429.9 290.8l-2 .4-1.7-.4-1.4-1-1.2-2-.4-2 .5-2 1-1.5 1.7-1.1 2-.3 2 .5 1.9 1.4.9 1.5.3 1.5-.4 2-1.5 2zM468.4 303.3l-1 .1-1-.6-.2-1 .7-1.1 1.5-.2 1 .8 0 1z"/><path fill-rule="evenodd" fill="#ffff75" d="M447.9 218.9l-1.7-.1-.8-.8 0-.7 1-.3 1 .3.8 1zM442.4 235.3l-.8-.5.3-.5 1-.3.5.1 0 .8zM472.9 241.4l-1 .2-1.1-.8 0-1 .8-1 1.3-.1.6.6.2 1zM468.4 263.3l-1.5.2-1.5-.4-1.1-.8-.9-1.5-.1-1.5.5-1.5.9-1 1.2-.7 1.5-.2 1.3.4 1.2.8.7 1.2.3 1.5-.3 1.5-.7 1zM393.9 280.8l-1.5-.2-1-.8-.7-1.5-.3-1.5.1-2 .5-1.5.9-1.2 1-.5 1 .1 1 .6 1 1.5.4 1.5 0 2-.5 1.5-.9 1.3zM448.9 273.9l-1.5-.2-.2-.9.3-.5 1.4-.5.8.5.1 1zM429.9 289.8l-1.5.4-1.5-.2-1.5-1-.9-1.2-.4-1.5.3-1.9.7-1.1 1.3-1.1 1.5-.3 1.5.1 1.5.8 1.1 1.5.4 1.5-.2 1.5-.9 1.5z"/><path fill-rule="evenodd" fill="#ffff91" d="M468.4 262.9l-1 .2-1.5-.2-1.1-.6-.9-1.4-.2-1.1.3-1.5.7-1 1.2-.8 1.5-.2 1 .2 1.1.8.7 1 .3 1-.1 1.5-1 1.4zM393.9 279.4l-1.5-.2-.7-.9-.5-1.5.1-1.5.5-1.5.6-.7 1-.3 1.5 1 .6 2-.5 2.5zM429.4 288.8l-1.5.3-1-.3-1.4-1.5-.3-1 .2-1.4.5-.9 1-.7 1-.3 1.5.3 1.5 1.5.3 1-.3 1.5z"/><path fill-rule="evenodd" fill="#ffffa8" d="M468.4 262.4l-1 .3-1.5-.2-1-.7-.6-1-.2-1 .3-1.5 1.5-1.4 1.5-.2 1 .3 1 .7.5.8.2 1.3-.2 1-.6 1zM393.9 277.3l-.5.3-.5-.2-.4-1.1.2-1 .7-.6.5.3.3.8zM428.4 287.3l-1-.3-.5-.7.3-1 .7-.5 1 .2.5.8-.2 1z"/><path fill-rule="evenodd" fill="#ffffc4" d="M467.4 262.3l-1-.1-1-.5-.7-.9-.2-1 .2-1 .6-1 1.6-.7 1 .1 1 .6.8 1.5 0 1-.5 1-.8.7z"/><path fill-rule="evenodd" fill="#ffffdc" d="M467.4 261.8l-1 0-.8-.5-.7-1.5.6-1.5 1.4-.8 1.5.5.8 1.3-.3 1.6z"/><path fill-rule="evenodd" fill="#fffff3" d="M467.4 261.3l-1.5-.5-.4-1 .4-1.2 1-.5 1 .2.8 1-.3 1.4z"/></g><path d="M493.4 320.3l-106 0 0-113.5 106 0zM462.8 291.3l1.5-1 .8-1.5 0-1.5-.7-1.3-1.5-1.1-1.5-.4-2 .2-1.5.9-.8 1.2-.3 1 .1 1.5.6 1 .9.7 1.5.6 1.5 0z" fill="none" stroke="#1c1c1c" stroke-width="1.05" stroke-dasharray="1.4 1"/><path d="M493.4 320.3l-106 0 0-113.5 106 0zM414.5 266.3l.7-.5-.1-.5-.6-.5-1.6-.5-1.1.5-.1.5.7.7 1 .3zM460.5 293.8l2.4-.5 2.5-1.2 1.4-1.3.9-2-.1-2-1-2-1.8-1.5-2.4-.9-2.5 0-2.6.9-1.9 1.6-.6.9-.5 1.5.1 2.5 1.1 2 1.2 1 1.2.5zM410.1 301.3l1-1 .8-1.5.2-1.5-.3-2-.7-1.5-1.2-1.3-1-.4-1.5.1-1.5 1-.7 1.1-.4 2 .2 2 .9 1.8 1.2 1.2 1.3.4z" fill="none" stroke="#1c1c1c" stroke-width="1.05" stroke-dasharray="1.4 1"/><path d="M493.4 320.3l-106 0 0-113.5 106 0zM464.3 230.8l2.6-1 2-1.1 1.7-1.4 1.2-1.5 1-2 .2-1.5-.3-1.5-.8-1.1-1.5-.5-2 .3-2 1.1-2 2.2-1.6 3-.6 3 .1 1.5.4.5zM430.1 227.3l1.3-.5.7-.5.4-.5.3-1-.7-1.5-1.6-1-2.6-.5-3.5.1-3 .4-.9.5-.4.5.1.5 1 1 2.8 1.5 3.4 1zM459.1 241.3l1.3-1.2.9-2.3 0-3-.4-1.1-.5-.3-1.5.3-2 1.2-1.1 1.4-.6 1.5.1 2 .6 1.1 1.5.7zM450.3 252.8l1.2-1 .2-1-.2-1-1.2-1.5-1.9-1-3-.7-3-.1-4.5.5-1.8.8-.1.5 1 1 3.4 1.5 7.5 2zM418.1 269.3l2.3-1.2.7-.8.2-1-.3-1-.9-1-2.3-1.5-3.9-1.4-3.5-.4-3 .7-.8.6-.7.8-.2 1.2.6 1.5 1.3 1.5 1.8 1.2 2 .7 2.5.5 2-.1zM462.3 295.3l4.1-1.7 2.4-1.8.7-1 .6-1.5 0-2.5-.4-1.5-.9-1.5-1.4-1.5-1.5-.9-1.5-.7-2-.4-3.5.2-2 .7-1.5.8-1.5 1.2-.8 1.1-.8 1.5-.4 1.5-.1 2 .2 1.5.5 1.5.8 1 1.1 1 1.5.8 3 .6zM410.2 305.3l1.2-.7.9-.8 1.5-2.5.9-3 0-2.5-.9-3-1.9-2.8-2-1.3-1-.3-1.5 0-2.5 1.1-1.5 1.3-.7 1-1 2.5.1 3 1.2 4 .9 1.5 1 1.2 1 .8 1.5.6 1.5.1zM445.1 307.3l1.2-1 .7-1.5.2-1.5-.2-1.5-.6-1.1-1-.9-1-.3-1.5.2-1.5.9-.9 1.2-.4 1.5.2 2 .9 1.5 1.2.7 1.5.2z" fill="none" stroke="#1c1c1c" stroke-width="1.05" stroke-dasharray="1.4 1"/><path d="M493.4 320.3l-106 0 0-113.5 106 0zM452.4 255.8l1.5-1.1 1.2-1.9.3-1.5.2-3.5.5-1 .7-.5 3.6-1.6 1.5-1.2 1-1.7 1.6-5 1-2 1.9-1.9 5.4-3.6 1.4-1.5 1.4-2 1.2-3 .3-3-.7-2.4-1.6-1.6-2.4-.7-3 .3-3 1.4-2.5 2.2-2 2.8-3.5 6.1-4.5 5.9-1.3 3.5-.9 5.5-.8 1-2 .4-4.5-.1-11.5-1.2-2.5.6-1.1.8-.9 1-.6 2 .4 2 1.7 2 2 1.2 3 .9 8.5 1.2 5.5 1.5 2 .1zM430.6 229.8l1.8-.7 1.5-1 1-.9.7-1.4 0-1.5-.7-1.5-1-1.1-1.5-.9-3.5-1.1-9-1.7-3-.2-2 .2-2 .6-1.5 1-.9 1.2-.2 1.5.9 2 2.1 2 2.6 1.5 4 1.3 4.5.9 3.5.2zM418.6 271.8l2.3-.6 2.1-.9 1.6-1 1-1 .4-1 0-1.5-.9-1.5-1.3-1-3.2-1.5-7.7-2.7-2.5-.5-4.5-.2-2-.4-1-.6-3-2.3-2-.8-2.5 0-1.2.5-1 1-.4 1 0 1 .4 1 .7.8 1.4 1.2 4.6 2.5 4.4 5 2.1 1.7 2.5 1.2 3 .8 3.5.2zM476.9 273.3l.1-.5-.5-.5-.6.1-.2.4.2.7.5.1zM443.6 312.8l1.8-.3 1.5-.6 1.5-1.1 1.3-1.5 1.3-2.5 1.3-6 .8-1.5 1.3-.6 4-.4 2.5-.7 9-3.8 2.1-1.5.7-1 .6-1.5.2-1.5-.3-2-.6-2-.8-1.5-2.2-2.5-3.2-1.8-2-.6-2-.3-3.5.5-4 1.7-2.8 2-1.4 2-1 2.5-1.3 6-.9 1.5-1.1.6-5.5 1.8-1.6 1.1-1.5 1.5-1.2 2-.7 2.5-.1 2.5.5 2 1.2 2 1.9 1.7 2 .9zM411.1 309.3l1.8-1 1.6-2 2.6-7.5.2-1.5-.1-1.5-.7-2.5-1-2.5-1.1-2.1-1.5-2-1-1-1.5-.9-1.5-.4-1.5.1-1.5.4-2 1.3-2 1.8-1.9 2.3-.9 1.5-.5 1.5-.2 2 .1 2 .7 3 1.1 3 1.1 2 1.7 2 1.8 1.4 2 .8 2 .2zM479.5 295.3l.8-1 .3-1 0-1.5-.2-1-.6-1-.9-.7-1.5 0-.9.7-.5 1-.2 1 .3 1.5.5 1 .9 1 .9.3zM427.5 311.8l.9-.5.6-1-.5-1-.6-.3-1-.2-1.5.3-1 .7-.3.5.3 1 .8.5 1.2.2z" fill="none" stroke="#1c1c1c" stroke-width="1.05" stroke-dasharray="1.4 1"/><path d="M445.9 241.8l-4 0-5.5-1.1-3.5-1.3-2.2-1.6-.7-1.5.1-1 .4-1 1.8-2 4.2-3 1.5-1.5.9-2-.3-2-1.7-2.5-2.5-1.9-2.5-.9-7.5-1.9-2.2-.8-2.6-1.5-1.7-1.5-1.2-2-.4-2 .2-2 45.5 0-.3 4-.6 4-.9 3.5-1.1 3-2.1 3.5-3.7 4-.9 1.4-2.4 7.6-.8 2-1.3 1.3zM427.4 260.3l-4 0-4.5-.9-3.8-1.6-5.2-3.3-11-3.4-3-.4-3 0-3 .5-2.5.8 0-17.5 1.7 1.8 1.8.6 1.5-.4 1.5-1.2.6-1 .3-1.5-.5-4.5 0-2 .6-2.1 1-1.2 1.5-.6 1.5 0 2 .6 1.5.7 2.5 2 3 3.6 1.5 1.4 8.2 4.6 2.8 2 .6 1 .1 1.5-1.6 6-.1 2 1 1.5 6 3.7 2 1.8 1.3 1.5.7 1.5-.1 1-1 1zM421.4 307.3l-2-.2-.9-.8-.4-1-.2-1 .3-1.5 1.9-4 .3-2-.4-1.5-3.4-8.5-2.1-6-.3-2 .7-1.5 1.3-1 2.2-1 13.6-4.5 2.2-1 1.8-1.5 3.4-4.8 2-1.2 1.5-.3 2-.2 8 .4 2-.5 1-1.1 3-5.9 1.5-2.4 1-1 3-2.1 1-1.1.3-1.3-.1-4 .2-3 .8-2.5 1.3-1.9 2-1.5 2.5-1 2.5-.6 5-.3 1-.3 1-.9 4-5.9 1.5-1.4 1-.6 1-.4 1.5-.1 1.3.4 1.2.6 0 59.7-1.5.9-2 .3-1-.3-1-.8-1-1.5-.8-5.9-.8-3-1.8-4-3.6-6.5.1-.5 1.9-2.6 1-2.1.4-2.3-.2-2-.7-1.7-1.5-2.2-1-.6-1 .2-2.4 1.8-.7 1-.1 1 .8 3.5.9 2.3 1.9 3.7-.1.5-4.6 3.5-6.2 4.1-2 .7-3.5.3-1 .4-5 4.5-6.5 4.2-1 .9-.9 1.4-2.1 6-1.5 2.2-1.5 1-4.5 2-2.5 1.8-3.9 4-2.6 4.4-1.1 1.1-3.4 1.5zM387.4 302.6l0-41.4 7.5 2.9 2 1 1.5 1.2 2.3 2.5 2.9 4 1.1 2 .4 1.5-.5 2-2.9 5-6.9 8.5-4.9 7.6zM482.9 320.3l-14.7 0-2.3-1.9-2.5-2.8-1.5-2.1-1.5-2.8-.9-2.4-.4-2.5.2-2 .8-2 1.1-1.5 2.4-2 2.8-1.5 3-.6 3 0 2 .8 4 3.7 4 2.6.9 1 .9 2 .6 2 .4 3-.1 2.5-.5 2.5-.9 2.5z" fill="none" stroke="#1c1c1c" stroke-width="1.05"/><path d="M448.4 225.8l-1.5.3-1-.2-7-6.7-2.5-1.7-2-.7-5.7-1-2.6-1-1.1-1-.1-1 .2-.5 1.3-1 1.5-.5 2.5-.4 2.5 0 12.5.8 3 .8 3 1.3 2 1.5 1.6 2 .6 1.5-.1 2-.6 1.5-1.5 1.7-2 1.2zM404.9 247.8l-3.5.4-5-.8-2.7-1.1-1.1-1-.6-1 0-1.5.7-1.5 5.7-6.5.2-1-1.2-2.9-.3-1.6.5-1.5 1.3-1 1-.2 1 .2 1 .6.8.9.5 1 .1 1-.7 3 .3 1 4.6 3.5 1.2 1.5.6 1.5.1 2.5-.9 2-1.6 1.5zM445.4 239.3l-1.5.3-1.5 0-4.5-.7-2-.6-1-.6-.8-.9-.3-1 .3-1.5.7-1 1.1-.9 6.5-3.9 2-1 1.5-.2 1 .8 1 1.7.6 2 .1 2-.4 2-.6 1.5-.7 1zM473.9 244.9l-2 .3-2-.5-1.4-1.4-.6-1.5-.1-2 .8-2 1.3-1.5 2-.8 2 0 1.5.7 1 1.1.7 1.5.1 2-.4 1.5-1.1 1.5zM486.9 260.6l-.5 0-.5-.5-.4-1.3-.3-4.5-1-6 .1-2.5.6-2.4.5-1.1 1-1 .5.1.5.4 1 2 .6 3 .3 3-.2 4-.5 3.5-.7 2.1zM467.9 265.8l-2.5-.1-2-.9-1.8-2-.7-2 .2-2.5 1.2-2.5 1.8-1.5 2.3-.8 2.5.2 2 1 1.5 1.7.9 2.4-.2 2.5-1 2-1.7 1.6zM422.9 257.8l-2 .1-2-.6-1.2-1-.2-1 .9-1 1-.4 2 0 1.5.5 1.2.9.4 1-.4 1zM394.4 286.3l-2 .4-2-.8-1.6-1.6-1.4-2.7 0-10.9 1.5-2.5 1.1-.9 1.4-.6 1.5 0 1.5.4 2.5 1.6 1.9 2.6.7 1.5.5 2-.1 3.5-1.2 3.5-1.8 2.6-1 .9zM429.4 295.3l-2.5.2-2-.7-2-1.7-1.9-2.8-1.1-3-.3-3 .4-2.5 1.4-2.3 1.5-1.2 1.5-.8 2-.6 2-.3 3 .4 5 2 1 .2 1-.2 1.2-.7.8-1 1.7-5.5 1-1.5 1.3-1.2 2-1 2.5-.3 2.5.4 2 1.1.9 1 .4 1 .1 1.5-.3 1-.7 1-1.4 1.2-5.3 2.8-1.2 1-.7 1.5-.8 3.5-1.1 2-1.4 1-4 1.6-5.5 4.5zM468.9 306.4l-2 .1-1.8-.7-1.4-1.5-.5-1.5.3-1.5 1-1.5 1.4-1.1 2-.6 1.5 0 1.6.7 1 1 .6 1.5-.1 1.5-.7 1.5-1.4 1.4zM423.4 303.4l-1 .2-.4-.3.1-.5.8-.5.7.5z" fill="none" stroke="#1c1c1c" stroke-width="1.05"/><path d="M448.9 220.3l-2 .1-2-1-1.5-1.6-.2-1 .2-.5 1-.6 1.5-.1 1.5.4 1.5.8.9 1 .3 1-.4 1zM443.4 236.4l-1.5 0-3-.4-.7-.2-.4-.5.3-.5.8-.5 2.5-1.2 1.5-.5 1 .1 1 .9.1 1.2-.5 1zM472.4 242.3l-1-.2-.6-.3-.4-.5-.3-1 .3-1 .5-.8.5-.3 1-.2.9.3.6.5.4 1.5-.3 1-.5.5zM467.4 263.8l-1.5-.2-1.6-.8-1-1.5-.3-1.5.3-1.5.9-1.5 1.2-.8 1.5-.4 1.5.2 1.5.9.8 1.1.5 1.5-.1 1.5-.8 1.5-1.4 1.1zM394.4 281.5l-1.5.2-1.5-.8-1-1.6-.5-2 0-2.5.5-1.8 1-1.5 1.5-.8 1.5.3 1 .8.9 1.5.6 2-.1 2-.4 1.6-1 1.7zM448.4 274.8l-1.1 0-.9-.5-.3-.5 0-1 .6-1 .7-.5 1.5-.3 1 .2 1 1-.1 1.1-.8 1zM429.4 290.8l-2 .2-1.5-.6-1.5-1.4-.8-1.7-.2-2 .5-1.7 1-1.3 2-1.1 2-.1 1.9.7 1.6 1.4.8 1.6.1 1.5-.7 2-1.3 1.5zM467.9 303.3l-.5-.1-.8-.4-.2-1 .5-.9 1-.4 1 .4.4.9-.4 1z" fill="none" stroke="#1c1c1c" stroke-width="1.05"/><path d="M467.9 261.5l-1.5.1-.5-.3-.7-1 .1-1.5 1.1-1 1.5.1 1 1 .1 1.4-.6.9z" fill="none" stroke="#1c1c1c" stroke-width="1.05"/></g><path d="M443.4 209.6h.01M424.9 212.6h.01M434.7 216.7h.01M462.5 216.1h.01M411.3 222.7h.01M421.1 223.8h.01M434.7 224.8h.01M449.4 227h.01M422.7 231.9h.01M440.7 235.2h.01M410.7 234.1h.01M461.4 233.6h.01M429.8 241.2h.01M452.2 242.1h.01M440.7 246.7h.01M425.4 251h.01M412.4 253.2h.01M435.2 256.8h.01M444.4 257.9h.01M474.2 228.8h.01M397 266.4h.01M404.3 271.2h.01M413.8 274.5h.01M425 267.8h.01M435.8 268.9h.01M441.9 267h.01M392 276.5h.01M400.4 280.6h.01M408.6 282.9h.01M420.1 283.8h.01M428.2 275.4h.01M435.5 280.4h.01M444.1 278.4h.01M390.6 288h.01M399.6 290.7h.01M408.4 292.7h.01M417.1 291.8h.01M429.7 289.4h.01M440.2 290.7h.01M401.7 301.6h.01M410.6 302.4h.01M420.5 301.3h.01M428.5 297.2h.01M440.2 298.3h.01M434.6 304.6h.01M426 309.6h.01M416.2 311.9h.01M442.5 311.4h.01M434 316.3h.01M453.7 264.5h.01M467.1 260.6h.01M479.9 261.9h.01M450.4 272.9h.01M463.9 271.2h.01M473.8 267.5h.01M485.5 269.6h.01M477.7 275h.01M458.7 280.4h.01M470.2 278.4h.01M481 284.6h.01M451.4 288.5h.01M462.6 288.5h.01M471.4 287.4h.01M453.2 295.7h.01M461.7 297.4h.01M470.2 296.8h.01M479.9 295.2h.01M449.3 303.5h.01M458.3 305.8h.01M467.6 306.3h.01M452.5 313.6h.01M451.4 218.9h.01M473.2 240.1h.01M479.9 246.2h.01M485.5 253.4h.01M474.9 254.5h.01M490.3 243.4h.01M455.4 254h.01M400.8 226.4h.01M401.9 237.6h.01M392.9 242.6h.01M405.3 246.6h.01M396.9 252.2h.01M389.6 259.4h.01M402.5 258.8h.01M423.7 259.4h.01M412 264.4h.01M433.7 213.1h.01" stroke="#000" stroke-width="1.7" stroke-linecap="round" stroke-opacity=".55" fill="none"/><ellipse cx="438.1" cy="266.1" rx="60.3" ry="59.7" fill="none" stroke="#2a2a2a" stroke-width="1.25"/><linearGradient id="cg5" x1="0" y1="213.6" x2="0" y2="318.5" gradientUnits="userSpaceOnUse"><stop offset="0%" stop-color="#ffffff"/><stop offset="5%" stop-color="#ffffd0"/><stop offset="10%" stop-color="#ffff9d"/><stop offset="15%" stop-color="#ffff69"/><stop offset="20%" stop-color="#ffff36"/><stop offset="25%" stop-color="#ffff07"/><stop offset="30%" stop-color="#ffe100"/><stop offset="35%" stop-color="#ffbf00"/><stop offset="40%" stop-color="#ff9d00"/><stop offset="45%" stop-color="#ff7b00"/><stop offset="50%" stop-color="#ff5c00"/><stop offset="55%" stop-color="#ff3a00"/><stop offset="60%" stop-color="#ff1700"/><stop offset="65%" stop-color="#f40000"/><stop offset="70%" stop-color="#d20000"/><stop offset="75%" stop-color="#b30000"/><stop offset="80%" stop-color="#900000"/><stop offset="85%" stop-color="#6e0000"/><stop offset="90%" stop-color="#4c0000"/><stop offset="95%" stop-color="#2a0000"/><stop offset="100%" stop-color="#0b0000"/></linearGradient><path d="M512.4 213.6L515.1 207.6L517.9 213.6L517.9 318.5L515.1 324.5L512.4 318.5Z" fill="url(#cg5)" stroke="#bbb" stroke-width="0.5"/><path d="M517.9 232h1.6" stroke="#666" stroke-width="0.6"/><text x="520.6" y="235.7" class="tk">100</text><path d="M517.9 258.9h1.6" stroke="#666" stroke-width="0.6"/><text x="520.6" y="262.6" class="tk">0</text><path d="M517.9 285.8h1.6" stroke="#666" stroke-width="0.6"/><text x="520.6" y="289.5" class="tk"><tspan class="mn">−</tspan><tspan dx="0.8">100</tspan></text><path d="M517.9 312.5h1.6" stroke="#666" stroke-width="0.6"/><text x="520.6" y="316.2" class="tk"><tspan class="mn">−</tspan><tspan dx="0.8">200</tspan></text><text x="501.6" y="204.4" class="bl"><tspan font-style="italic">B</tspan><tspan class="br">[</tspan>fT<tspan class="br">]</tspan></text><text x="437.7" y="197.7" class="ti" text-anchor="middle">OPM − TAN − LON</text><clipPath id="h6"><polygon points="16.7,417.9 26.6,412.9 36.9,407.7 48.6,400.6 59.6,398 69.2,396.4 87.4,402 100.2,415.4 116.1,430.4 111.1,457.3 107.7,471.4 106.1,481.5 93.5,494.1 78.9,500.6 60.2,503.4 41.9,499 27.5,488.4 16.4,474.6"/></clipPath><g clip-path="url(#h6)"><g filter="url(#bl)"><rect x="13.4" y="393.4" width="105.7" height="113.1" fill="#120000"/><path fill-rule="evenodd" fill="#220000" d="M119.4 506.9l-106 0 0-113.5 106 0zM98.5 482.4l1.4-1 .8-1 .5-1.5.1-2-.4-1.5-1-1.5-1-.7-1.5-.3-1.5.6-1.2 1.4-.8 2-.1 2 .6 1.8 1 1.2 1.5.6z"/><path fill-rule="evenodd" fill="#350000" d="M119.4 506.9l-106 0 0-113.5 106 0zM99 482.9l1.3-1 .9-1.5.6-2-.1-2-.5-1.5-1-1.5-1.3-.9-1.5-.2-1.6.6-1.5 1.5-.9 2-.2 2.5.7 2.1 1.5 1.6 2 .6z"/><path fill-rule="evenodd" fill="#440000" d="M119.4 506.9l-106 0 0-113.5 106 0zM99.2 483.4l1.7-1.5.9-1.5.4-2-.1-2.5-.8-2-1.4-1.5-1.5-.7-1.5.1-2 1.1-1.2 1.5-.9 2.5 0 2.5 1 2.5 1.6 1.4 2 .5z"/><path fill-rule="evenodd" fill="#540000" d="M119.4 506.9l-106 0 0-113.5 106 0zM98.1 484.4l1.8-.8 1.6-1.7 1-2.5.2-2.5-.6-2.5-1.2-1.9-1.5-1.1-2-.3-2 .8-2 2-1 2.5-.2 2.5.4 2 1.3 2 2 1.3z"/><path fill-rule="evenodd" fill="#660000" d="M119.4 506.9l-106 0 0-113.5 106 0zM98.4 484.9l2-1 1.5-1.7 1-2.5.2-2.8-.5-2.5-1.2-2.1-2-1.5-2-.3-2.2.9-2 2-1.2 2.5-.4 3 .6 2.5 1.7 2.3 2 1.1z"/><path fill-rule="evenodd" fill="#760000" d="M119.4 506.9l-106 0 0-113.5 106 0zM98.7 485.4l1.9-1 1.7-2 1-2.5.3-3-.7-3-1.2-2-1.8-1.4-2.5-.5-2.5.9-2 2-1.4 3-.4 3.5 1 3 1.7 2 2.6 1.1z"/><path fill-rule="evenodd" fill="#890000" d="M119.4 506.9l-106 0 0-113.5 106 0zM98.9 485.9l2-1.1 1.9-2.4 1-3 .2-3-.6-2.5-1.5-2.5-2-1.6-2.5-.4-2.5.9-2.5 2.5-1.4 3.1-.4 3.5.8 3 2 2.4 2.5 1.2 1.5.1z"/><path fill-rule="evenodd" fill="#980000" d="M119.4 506.9l-106 0 0-113.5 106 0zM99.1 486.4l2.3-1.4 1.7-2.1 1.1-3 .2-3.5-.7-3-1.6-2.5-2.2-1.7-2.5-.4-1.5.3-1.5.9-2.3 2.4-1.6 3.5-.5 2 0 2 1 3 2.2 2.5 2.7 1.2 1.5.1z"/><path fill-rule="evenodd" fill="#a80000" d="M119.4 506.9l-106 0 0-113.5 106 0zM99.4 486.9l2.3-1.5 1.9-2.5 1.1-3.5.1-3.5-.8-3-1.6-2.5-2.5-1.8-2.5-.4-1.5.3-1.5.8-2.5 2.6-2 4-.5 4 .4 2 .7 1.5 2.4 2.5 3 1.3 2 0z"/><path fill-rule="evenodd" fill="#ba0000" d="M119.4 506.9l-106 0 0-113.5 106 0zM104.7 437.4l.2-1-.5-2.4-1-1.8-.2 1.2.2 1.8.5 1.5.5.8zM97.4 487.9l3-.9 2.5-2.2 1.6-2.9.8-4-.5-4-1.4-3.1-2.5-2.4-3-.9-1.5.2-1.5.6-1.5 1.1-1.5 1.6-2.2 3.9-.7 2-.3 2.5.5 3 2 3 3.1 2z"/><path fill-rule="evenodd" fill="#ca0000" d="M119.4 506.9l-106 0 0-79.4 1-.8 1-1.7.6-2.1.2-2.5-.2-2-.6-1.9-1-1.1-1-.3 0-21.7 106 0zM106.4 443.4l.4-1.5.1-2-1-5.9-2-5.7-1-1.7-1-.7-.6 1-.1 2.5 1.2 7.5 2 5.3 1 1.2.5.2zM98.3 488.4l3.1-1.4 2.4-2.6 1.5-3.5.5-4-.7-4-1.7-3.1-1.5-1.5-1.5-.8-3-.6-1.5.3-2 1-3 3.2-2.3 4.5-.6 2.5-.1 2 .9 3 1 1.5 1.6 1.5 3.5 1.8z"/><path fill-rule="evenodd" fill="#dd0000" d="M119.4 506.9l-106 0 0-75.4 2-1.5 1.4-2.6 1.1-4 .3-4-.3-3.5-1-2.6-1.5-1.6-2-.5 0-17.8 106 0zM107.3 446.9l.6-1.5.2-3.5-.5-4-1-4.5-1.7-5.5-1.5-3.3-1.5-2.1-1-.3-.5.5-.3 1.2-.1 3.5.7 5.5 1.2 5.4 1.5 4.5 1.5 2.9 1.5 1.4zM98.9 488.9l3-1.6 2.5-2.9 1.4-3.5.4-4.5-.7-4-2.1-3.5-1.5-1.4-1.5-.8-3-.6-2 .5-1.5.8-1.5 1.3-1.8 2.2-2.9 5.5-.7 2.5-.1 2 .3 1.5 1 2 3.2 3 2 1 2 .6z"/><path fill-rule="evenodd" fill="#ec0000" d="M119.4 506.9l-106 0 0-72.3 1.5-.7 1-1 2-3.7 1.3-5.3.5-6-.4-4-1.2-3-2.2-2.2-2.5-.5 0-14.8 106 0zM108.1 449.9l.8-2 .2-4-.5-5-1.1-5-1.6-5.6-2-5-2-3.3-1.5-1.1-.5.2-.5.8-.4 4 .5 6 1.4 7.2 1.5 5.3 2 4.8 2 2.6 1 .4zM99.4 489.4l3-1.7 2.6-3.3 1.5-4.5.2-4.5-1-4-1-2-1.3-1.5-3-2-1.5-.5-2-.1-2 .6-1.5.9-3.2 3.6-3.6 6.5-1 3-.1 2 .5 1.5 1.1 1.5 2.1 2 2.3 1.5 3.9 1.3 2 .1z"/><path fill-rule="evenodd" fill="#fc0000" d="M119.4 506.9l-106 0 0-69.4 1.5-.7 1.5-1.4 1.3-2 1.1-2.5 1.6-6.7.7-8.3-.4-4-1.8-3.5-2.5-2.2-1.5-.6-1.5-.1 0-12.1 106 0zM108.7 452.9l1.1-2.5.3-4.5-.6-6-1.4-6.5-2.2-7.2-2.5-6-2-3.1-1-1-1-.2-.5.5-.6 1.5-.1 5.5.9 7.5 1.7 8.5 2.1 6.6 2 4.3 2 2.5 1 .4zM98.4 490.4l3.5-1.6 1.7-1.4 1.5-2 1.8-4.5.4-5-.3-2.5-.7-2.5-2.2-3.5-1.7-1.5-1.5-.8-2-.6-2-.2-2.5.7-2.5 2-2.8 3.9-4.7 7.3-1.5 1.7-2.3 2-.5 1 .4.5 3.9 1.8 7.5 4.3 3.5 1z"/><path fill-rule="evenodd" fill="#ff1000" d="M119.4 506.9l-106 0 0-66.7 2-.9 1.5-1.5 1.5-2.4 1.1-2.5 1.9-8 1.2-11-.7-4-2-3.6-3-2.6-1.5-.5-2-.2 0-9.6 106 0zM109.2 456.4l.7-.9.7-2.1.4-5-.5-6.5-1.4-7-2.4-8.5-2.8-7.2-2.5-4.4-1.5-1.6-1-.3-1 .7-.5 1.5-.2 5.3 1.1 9 1.8 9.5 2.3 7.9 2.5 5.8 1.5 2.6 1 1.1 1 .4zM17.5 455.4l.6-1-.2-1.2-1-.8-1 .1-.6.9.1 1.5 1 .7zM99.5 490.9l1.9-.9 2-1.5 2.7-3.6 1.6-5 .3-3-.2-3-1.4-4.8-1-1.7-1.5-1.7-1.5-1.1-2-.9-2.5-.5-2 .1-2 .5-1.5 1.1-6 8.5-2.5 2.8-2 1.1-4.5 1.2-2 1-1.7 1.9-.4 2 .4 1.5.7 1 1.5 1.2 1.5.6 7.5.3 7 2.5 3 .8 2.5 0z"/><path fill-rule="evenodd" fill="#ff1f00" d="M119.4 506.9l-106 0 0-63.8 2-.8 1.5-1.4 1.7-2.5 1.5-3.5 2-8 2-14.5-.1-2-.6-2-1.4-2.5-1.6-2.1-1.5-1.5-2-1.2-1.5-.5-2-.2 0-7 106 0zM108.5 460.9l1.4-.8.8-1.2.7-2 .4-3 0-7.5-1.3-8.5-2.7-10.5-3.6-9.5-3.3-6-1.5-1.6-1.5-.4-1 1-.4 1.5-.2 5 .9 8.5 1.8 10.5 2.4 9.6 4.5 12.8 1 1.6zM18.1 456.9l1.3-1.5.2-1-.2-1.6-1.5-1.9-1.5-.7-1 .1-1 .7-.6.9-.3 1.5.2 1.5.7 1.2 1 .8 1.5.3zM80.9 462.4l1.3-.5.2-.5-2-.8-3.5-.1-1.6.4-.7.5.1.5 1.7.6zM99.1 491.9l3.3-1.6 2.9-2.9 2.1-4 1.1-4.5.1-5-1.2-5.3-2-3.9-1-.9-1.5-.8-3-.8-3-.3-3 .1-2 .6-1.3 1.3-1.1 3-1.8 3-3.3 3.9-2.5 1.4-5.3 1.2-2.6 1-2.1 1.5-1.5 2.5-.3 2.5 1 3 1.8 2.3 2.5 1.6 3 .3 7-.8 9 1.9 2.5 0zM57.6 503.4l5.8-1 3.4-1.5.9-1 0-1-1.8-1-6-.5-7.5.4-5 1.1-1 .5-1.1 1 .3 1 .6.5 2.7 1 4 .5z"/><path fill-rule="evenodd" fill="#ff3200" d="M119.4 506.9l-106 0 0-50.1 2 1.4 2 .1 2-1 1.2-1.9.1-2-.7-2-1.1-1.7-2.3-2.3-.3-1 .5-1.5 3-5.5 1.6-4.6 1.3-5.4 3.3-18.5-.3-2-.8-2-1.8-3-2.2-2.7-3.5-2.7-2-.7-2-.1 0-4.3 106 0zM62 504.9l5.9-1.2 4.7-1.8 2.8-2 4.1-4.5 4.4-2.3 3.5-.6 9 .8 2.5-.4 2-.7 2.5-1.6 1.7-1.7 1.8-2.5 1.3-3 .9-3.5.4-3.5-.4-10 2.8-5 .9-4 .2-6-.5-6.5-2.4-12-4.1-13-4.1-8.9-2-2.8-2-1.5-1 0-.5.4-.9 2.3-.2 3.5.3 5 1.2 9.5 2 10.5 1.5 6.5 2.9 10.5.3 2.5-.4 2-1.2 1-2 .2-10-.3-7-1-5-.2-4.5.5-3 1-.7.8.3 1 1.4.8 2 .6 4.5.5 7-.1 2 .5.6.7.2 1.5-.5 1.5-1.3 2-1.5 1.5-2 1.2-6.5 1.4-3 1-2.2 1.4-1.6 1.5-1.2 2-.5 2 .1 3 1.3 5.5-.4 1.5-1 1-4.5 1.3-12.5 1.3-5.5 1-3.9 1.4-1.5 1-.6 1 .4 1.5 1.4 1 2.4 1 2.8.7 8 .7z"/><path fill-rule="evenodd" fill="#ff4100" d="M119.4 506.9l-61.5 0 9-1 7.6-2 4.9-2.5 5.1-4.5 2.9-1.6 2.5-.5 6.5-.1 4-1.1 2.5-1.4 2.5-2.2 1.9-2.6 1.7-3.5 1.3-5.5.9-9.5 2.2-5.9.6-3.1.1-7.5-.9-8.5-1.1-6-2-8-2.4-7.5-2.5-7-2.3-5.1-2.5-4.2-2-2.3-1-.6-1-.2-1.3.9-.7 2-.3 3 .2 4.5 1.2 9 2.1 12.5 4.2 18.5.2 2.5-.8 2-1.3.8-3 .4-15-.9-6.5.1-5.7 1.1-3 1.5-.4.5.1 1 1.1 1 1.4.6 6 1.6 9 .7 1 .7.1 1.4-1 1.5-1.5 1-9.6 2.4-3.1 1.6-2.5 2-1.5 2-1 2.5-.2 2.5.2 4.5-.3 1.5-.6 1-1.3 1-4.7 1.4-11.5 1.5-5.5 1.1-4.2 1.5-2.8 2-.4 1 .3 1.5 1.6 1.4 2 1.1 6 1.6 7.8.9-37.8 0 0-48.5 2.5 1.1 2.5-.3 2-1.3 1.1-2 .2-3-2.2-5.5-.1-2 2.8-9 3.2-16.7 2.6-7.8.4-2-.2-1.5-.9-2-5.4-7.6-2-1.9-2-1.3-2-.7-2.5-.2 0-1.3 106 0z"/><path fill-rule="evenodd" fill="#ff5100" d="M119.4 506.9l-47.5 0 4.5-1.2 3.6-1.3 3.7-2 6.2-4.4 9.5-2.4 3-1.5 2.5-1.9 3.1-3.8 2.2-4.5 4.7-19 .7-6.5-.8-10.5-1.7-9.5-3-11.5-4-12-3.7-8.5-3.5-5.4-2-1.8-1.5-.4-1.5.9-.7 1.7-.4 3 .1 4 .9 7.5 2.3 13.5 4.4 22.5.1 2.5-.7 2-1.5 1-2.5.4-14.5-.5-7 .4-5.5.9-4 1.4-1.2.9-.5 1 .8 1.5 2.9 1.7 7.7 2.8.8.5.2.5-1.1 1-7.1 3.8-3.4 3.2-1.8 3.5-1 7-.6 1.5-.7.8-1.9 1.2-3.1.9-12.5 1.8-5.8 1.3-4.2 1.4-2.7 1.6-1 1-.7 1.5.2 1.5.7 1 3.5 2.2 5.5 1.8-24.5 0 0-46.9 2.5.8 2.5-.3 2.5-1.5 1.4-2.1.5-1.5 0-2-1.3-5.5-.1-2.5 2.1-9.5 2.3-13 1.7-6 1.4-2.6 2.7-3.9.4-1.5-.8-2-3.3-4-4-5.8-3.6-3.7 99.1 0z"/><path fill-rule="evenodd" fill="#ff6400" d="M119.4 506.9l-37.9 0 4.9-2 7.5-4.4 7.5-3.4 3-2.1 2.7-2.6 3-4.5 2.6-6 3.1-9.5 1.4-7.5 0-8-1.5-12-2.5-11-4.1-14-3.9-11-3.7-8-3.6-5.2-2-1.7-1.5-.5-1.5.4-1.3 2-.6 3 .1 4 1 7.5 7 39.5.2 3-.5 2-1.4 1.1-2.5.5-15 .1-8 .6-5.8 1.2-4 1.5-1.8 1.5-.3 1 .4.9 1.5 1.4 5.3 3.2.4.5.1 1-1.2 1.5-4.6 3.8-2.1 2.7-1.3 3-1.2 5.5-1.2 2-1.7 1.1-3 1-13.5 2.2-6 1.3-4.5 1.5-3.4 1.9-1.2 1-1.1 1.5-.3 1 .3 1.5.9 1.5 1.2 1 4.9 2.5-15.3 0 0-44.8 3 .4 3-.6 2.5-1.8 1.5-2.2.6-2 .1-2-.9-6 0-2.5 4-24 1.2-3.4 1.5-2.5 2-2 4.1-3.1.8-1 .3-1-.2-1-.7-1-4.3-3.4-1.9-2.1-4.6-7.5 94 0z"/><path fill-rule="evenodd" fill="#ff7300" d="M13.4 496.7l0-30.1 4-.4 3-1.2 2.5-2 1.7-2.6.8-2.5.3-2.5-.8-8 .2-5 1.8-14.5 1.4-6.5 1.3-3 1.8-2.4 2-1.6 5.9-3.5.9-1 .7-1.5.1-1.5-.7-1.5-6.7-6-1.4-2.5-1.3-3.5 57 0 .8 6.5 4.2 18.8 3 16.3 2 14.4 0 2.5-.5 1.6-1.5 1.2-2.5.6-15.5.7-9 1-6.3 1.4-3.8 1.5-2 1.5-.5 1 0 1 1.1 1.5 3.3 3 .4 1.5-1 1.5-3.8 3.5-1.6 2-1.4 2.5-1.8 5-1.6 1.8-2 1.1-2 .6-14 2.3-8 1.9-6.5 2.5zM119.4 454.1l-1.2-7.2-1.6-7-6.9-24-4.5-13.5-4.3-9 18.5 0zM119.4 506.9l-25.7 0 4.2-2.2 4-2.7 3.5-3 2.9-3.1 2.9-4 5.4-8.5 1.6-3.5 1.2-4.6zM16.4 506.9l-3 0 0-2.3z"/><path fill-rule="evenodd" fill="#ff8600" d="M46.4 467.9l-2.5.2-3-.4-3-.9-2.5-1.2-2-1.4-2-2-1.5-2.3-.9-2-2-9-.4-7 1.3-14 .9-4.5 1.1-3 1.2-2 1.8-1.9 8-4.6 1.6-1.5 1-1.5.6-2-.2-2-2.7-5.5-.5-2 .5-2 1.9-2 36.9 0 2.9 2.3 3 4.5 2.5 5.8 2.5 7.8 2.5 10.7 2.2 13.4 1 10-.1 2.5-.5 1.5-1.6 1.4-2.5.7-22.5 2.2-6.7 1.2-5.4 1.5-3.6 1.5-2.3 1.5-1.3 1.5-1.5 3.5zM27.9 483.9l-3-.2-2.5-1.4-1.8-2.4-.5-2.5.6-3 1.7-2.3 2.5-1.7 3-.6 2.5.5 2 1.3 1.5 2.3.5 2.5-.4 2.5-1.3 2.5-2.3 1.7z"/><path fill-rule="evenodd" fill="#ff9500" d="M45.9 459.9l-3 .1-2.5-.3-2.5-.7-2.5-1.2-2-1.5-1.5-1.7-2.2-4.2-.8-3-.6-3.5-.1-8.5 1.2-10 .9-3 1.1-2.4 1.3-1.6 1.7-1.4 7-3.8 3-2.3 2-3 2-6.6 1.5-1.7 2-1.1 3-.8 3.5-.4 8.5.2 9 1.6 3.5 1.1 2.5 1.3 3 2.6 2.5 3.9 2.5 6 2 7 2 9.9 1.1 9 .1 7-.3 2-.7 1.5-1.7 1.5-4 1.2-23.5 3zM27.9 481.4l-2-.1-1.5-.7-1.2-1.2-.6-1.5.1-2 .7-1.5 1.5-1.4 1.5-.6 2 .1 1.5.8 1.3 1.6.4 1.5-.1 1.5-.6 1.5-1.5 1.4z"/><path fill-rule="evenodd" fill="#ffa500" d="M53.4 456.9l-7.5.4-5.5-1-2.5-1.1-2-1.3-2-1.8-1.5-2.1-1.3-2.6-.9-3-.8-7 .7-9.5.7-3.5 1.1-2.8 1.2-1.7 1.8-1.8 7.8-4.2 2.8-2 2.3-2.5 3.6-5.1 1.7-1.4 2.3-1.1 5.5-.9 7 .4 7.5 1.6 6 2.3 3.5 2.8 2.5 3.5 2 4.4 2 6.5 1.6 8 .9 8-.1 5.5-.4 2-.8 2-1.2 1.5-1.5 1.1-5.3 1.9-5.3 1zM27.9 479.5l-2-.1-.8-.5-.7-1 .1-2 .7-1 1.2-.7 2 .3.9.9.5 1-.4 2z"/><path fill-rule="evenodd" fill="#ffb700" d="M55.4 455.4l-7 0-6-1.2-2.5-1-2.5-1.6-2-1.8-1.5-1.9-1.4-2.5-.8-2.5-1-6.5.1-4.5.4-4 .7-3 1-2.5 1.4-2 1.6-1.4 9.5-5.4 2.8-2.2 4.7-4.7 2-1.3 2-.9 5-.7 6.5.4 6.5 1.5 6 2.5 3 2.1 2.5 2.8 2 3.6 2 5.6 1.5 6.6.8 7-.2 5-1.1 4-1.5 2.1-2.1 1.9-2.6 1.5-3.3 1.2-8 1.6z"/><path fill-rule="evenodd" fill="#ffc700" d="M58.4 453.9l-7.5 0-6-1.2-5-2.3-2-1.5-2-2-1.3-2-1.2-2.5-1.2-5 0-7 .5-3.5.8-2.5 1.3-2.5 2.1-2.1 9.5-5.4 7-5.4 3.5-1.9 4-.8 5 0 5.5 1 5.5 1.8 4 1.9 3 2.3 2.5 2.9 2 3.9 1.9 6.3 1 6 .1 5-1 4.2-1.5 2.8-2.3 2.5-2.7 2-3 1.5-3.1 1-4.4.8z"/><path fill-rule="evenodd" fill="#ffda00" d="M61.9 452.4l-7 .1-5.5-.7-5-1.6-4.5-2.6-3-2.9-2.2-3.8-1.1-4.5-.1-5.5.5-3.5 1-3 1.4-2.3 2-1.8 8.7-4.9 8.8-5.6 4-1.2 5-.2 5.5.9 5.5 1.8 4.5 2.4 3.6 2.9 2.4 3.2 2 4.6 1.3 5.7.2 5.3-.7 3.7-1.5 3.5-2.4 3-3.4 2.7-3 1.6-4 1.1z"/><path fill-rule="evenodd" fill="#ffe900" d="M63.4 450.9l-6.5.1-5-.6-5-1.4-4.5-2.2-3.1-2.4-2.4-3.1-1.4-3.4-.5-4.5.2-4 .8-3.5 1.4-2.5 1.9-2 3-2 13.1-7.3 3.5-1.2 4-.5 5 .5 5 1.3 4.7 2.2 3.8 2.6 3 3.3 2 3.6 1.2 4 .6 4.5-.3 4-1.2 4-2.2 3.5-2.6 2.6-3 1.8-4 1.3-4 .7z"/><path fill-rule="evenodd" fill="#fff900" d="M72.4 448.9l-12 .4-6.5-.5-6.5-1.7-3-1.3-2.5-1.6-2-1.8-1.6-2-.9-2-.6-2.5-.2-3.5.4-3.5.9-3 1.2-2 3.4-3 8.4-4.7 5-2.5 4-1.1 4.5-.1 5.1.9 4.9 1.8 4.4 2.7 2.1 1.8 1.8 2.2 2.3 4.5.8 3 .4 3-.4 5.5-1.5 4-2.9 3.5-4 2.3z"/><path fill-rule="evenodd" fill="#ffff13" d="M71.9 447.9l-14-.6-5-.5-6-1.7-4.3-2.2-2.9-3-.9-2-.5-2 0-3 .5-3.5.8-2.5 1.1-2 2.5-2.5 4.8-3 6.4-3.2 5-1.5 4-.2 4.5.6 4.5 1.6 4 2.3 3.5 3.4 2.7 4.5 1.7 6 0 5-1.4 4-2.5 3-2 1.3-2 .9z"/><path fill-rule="evenodd" fill="#ffff2a" d="M72.9 446.9l-3.5-.1-7.5-1.2-10-.5-4.5-1.1-3.5-1.7-1.7-1.4-1.3-1.5-.7-1.5-.4-2 .6-4.5 1-3 1.3-2.5 2.3-2.5 3.8-2.5 5.6-2.7 4.5-1.3 3.5-.2 4 .4 4 1.3 3.5 2 3.5 3.1 3 4.5 2.3 5.4.4 4-.8 3.5-2.2 3-3.2 2z"/><path fill-rule="evenodd" fill="#ffff46" d="M73.9 445.9l-4.5-.2-7-1.9-9.5.2-3-.4-3-.9-3.2-1.8-2-2.5-.6-2.5.6-3 2.2-4.1 2.5-3.3 2.5-2.1 3.5-2 4-1.5 4-.7 3.7.2 3.8 1 4 2.1 3.5 3.2 4.5 5.4 1.3 2.3.6 2 .1 3.5-.6 2-.9 1.5-1.5 1.4-1.5 1z"/><path fill-rule="evenodd" fill="#ffff5e" d="M74.9 444.9l-2.5.3-2.5-.3-7.5-2.9-9 1.1-3-.3-2.5-.6-2.7-1.3-2.1-2-.8-2 .3-2.5 1.3-2.4 2-2.1 5-4 3-1.8 3-1.1 3-.5 3 .2 2.5.6 3.5 1.6 7.5 4.9 2.5 2.4 1.5 2.4.7 3.3-.8 3-2 2.5z"/><path fill-rule="evenodd" fill="#ffff75" d="M73.9 444.4l-2.1 0-2.4-.6-1.8-.9-3.2-2.2-1.5-.6-1.5.2-4 1.3-3 .6-3 0-3-.6-2.5-1.2-1.7-1.5-.8-2 .2-2 1.2-2 2.1-1.8 3-1.4 3-.7 4-.3 6 1.3 6.5-.3 4 .6 3 1.4 1.9 1.7 1.3 2 .5 2.5-.5 2.5-1.2 1.8-2 1.4z"/><path fill-rule="evenodd" fill="#ffff91" d="M54.4 441.4l-2.5.1-2.5-.3-2-.8-1.5-.9-1-1.1-.5-1.5.1-1.5.8-1.5 1.6-1.4 1.5-.8 2-.6 2.5-.3 4 .6 3.5 2 1.3 1.5.5 1-.4 1.5-3 2.5-2.2 1zM74.9 443.4l-2 .2-2-.3-2.2-.9-1.7-1.5-1.5-2-.9-2 .5-1.5 1.4-1.5 2.9-1.7 3-.4 3 .8 2.4 1.8 1.3 2.5.1 1.5-.3 1.5-1.5 2.2z"/><path fill-rule="evenodd" fill="#ffffa8" d="M52.4 440.9l-3.5-.5-2.5-1.5-1.1-2 .2-1.5.6-1 2.3-1.7 3.5-.8 3 .3 3 1.4 1.2 1.3.4 1 .1 1-.8 1.5-1.2 1-1.7.8zM75.4 442.4l-2 .4-2-.2-1.6-.7-1.6-1.5-.8-1.5-.2-1.5.5-1.5 1.2-1.5 2-1 2.5-.1 2 .6 1.9 1.5.9 2 0 2-1.2 2z"/><path fill-rule="evenodd" fill="#ffffc4" d="M54.4 439.9l-3 .3-3.1-.8-1.3-1-.6-1-.1-1 .3-1 1.8-1.7 2.5-.8 3 .1 2.3.9 1.5 1.5.3 1-.1 1-1.2 1.5zM73.9 441.9l-1.5 0-1.5-.5-1.2-1-.6-1-.3-1.5.2-1 .9-1.3 1.5-.9 2-.2 1.5.4 1.4 1 .9 1.5.1 1.5-.6 1.5-1.3 1.1z"/><path fill-rule="evenodd" fill="#ffffdc" d="M53.4 439.4l-3 0-2-.9-.7-.6-.4-1 .4-1.5 1.7-1.3 2-.4 2 .1 2 .8 1.1 1.3 0 1.5-1.1 1.2zM73.9 440.9l-1.3 0-1.1-.5-1.1-1.5 0-1 .4-1 1.6-1 1.5 0 1 .4 1.2 1.6 0 1-.4 1z"/><path fill-rule="evenodd" fill="#fffff3" d="M53.9 438.4l-2 .4-2-.4-1.3-1-.1-1 .7-1 1.2-.7 1.5-.2 1.7.4.9.5.7 1-.1 1zM73.4 439l-.6-.6.6-.5.6.5z"/></g><path d="M119.4 506.9l-106 0 0-113.5 106 0zM98.4 483.9l1.8-1 1.2-1.5.8-2 .2-2.5-.5-2.1-1.2-1.9-1.4-1-1.9-.4-2 .8-1.5 1.6-1.1 2.5-.3 2.5.5 2 1.4 2 2 1z" fill="none" stroke="#1c1c1c" stroke-width="1.05" stroke-dasharray="1.4 1"/><path d="M119.4 506.9l-106 0 0-113.5 106 0zM98.1 486.9l1.3-.4 1.5-.8 2-2.2 1.2-2.6.5-3.5-.4-3-1.4-3-.9-1.1-1.5-1.1-2.5-.7-1.5.2-1.5.7-1.5 1.1-1.2 1.4-1.8 3.5-.5 2-.2 2 .7 3 .9 1.5 1.1 1.2 1.5 1 1.5.6 1.5.2z" fill="none" stroke="#1c1c1c" stroke-width="1.05" stroke-dasharray="1.4 1"/><path d="M119.4 506.9l-106 0 0-70.6 1.5-.7 1.3-1.2 1.2-1.9 1-2.2 1.5-6 .6-7.4-.1-2.5-.4-2-1.4-3-1.2-1.4-1-.7-1.5-.6-1.5-.1 0-13.2 106 0zM108.1 451.9l.8-.9.4-1.1.4-3.5-.3-5-1.2-6.5-1.8-6.5-2.5-6.3-2-3.5-1-1.1-1-.4-.5.2-.6 1.1-.3 2 0 2.5.6 6.5 1.5 8 1.8 6.3 2 4.8 2 2.8 1 .6zM99.2 489.9l1.7-.8 1.5-1 1.5-1.5 1.2-1.7.9-2 .8-2.5.3-2.5-.1-2.5-.9-4-.9-2-1.3-1.7-1.5-1.3-1.5-.9-2-.6-2-.1-1.5.3-1.5.7-1.5 1.2-1.5 1.8-2.1 3.1-2.7 4.5-1.9 4-.4 1.5.5 1.5 1.4 1.5 2.4 2 2.8 1.7 2.5 1.1 2 .5 2 0z" fill="none" stroke="#1c1c1c" stroke-width="1.05" stroke-dasharray="1.4 1"/><path d="M119.4 506.9l-50.2 0 5.7-1.4 5-1.9 3-1.7 4.4-3.5 2.1-1.2 2-.6 6.5-1 2.5-.9 2-1 2.9-2.3 2.3-3 1.8-3.5 1.4-4 1.6-9.3 2.1-7.2.6-4 .1-3.5-.3-5-1.2-9.5-1.5-7-2.1-7.5-2.5-8-2.8-7.5-2.4-5.2-2.5-4.1-2-2.2-1-.7-1-.2-1 .2-.5.5-.8 1.7-.4 3 .1 4.5 1 8 2.4 14 1.8 10 2.3 10.5.2 2.5-.6 1.6-1.5 1.2-2.5.4-15-.6-7 .4-5.7 1-3.3 1.2-.9.8-.5 1 .4 1 1.2 1 2.3 1.1 3 1 7.6 1.9 1.2.5.1.5-.8.5-5.1 1.7-3.5 1.5-2.9 1.8-2.2 2-1.5 2-.8 2-.5 2.5-.4 5-.3 1-.9 1.1-2 1.3-3 .8-13 1.9-5.5 1.2-4 1.5-2.7 1.7-.9 1-.4 1.5.3 1 1.2 1.3 1.7 1.2 2.3 1 5.5 1.5-27 0 0-47.3 2.5.8 2.5-.2 1.5-.8 1-.8 1.3-2.2.3-1.5 0-1.5-.3-2-1.3-4 .1-2.5 2.2-9 2.2-12.5.9-4 1.3-3.5 2.8-5 .5-1.5-.1-1-.7-1.5-6.5-9-2.2-2.5-2.7-2 100.7 0z" fill="none" stroke="#1c1c1c" stroke-width="1.05"/><path d="M50.4 457.4l-6 0-3-.5-2.5-.9-2.2-1.1-2-1.5-1.7-2-1.3-2-1.2-3-.7-3-.4-3.5-.1-4 .3-5 .6-4.5.8-3 1.2-2.5 1.2-1.6 1.7-1.4 7.3-4 2.9-2 2.3-2.5 3.8-5.6 1.8-1.4 2.2-1 2.5-.5 3-.3 3.5 0 4 .4 7.5 1.7 3.5 1.2 2.5 1.3 3 2.4 2.5 3.5 2 4.5 2 6.4 1.8 8.9.9 8-.2 5.5-.5 2.2-.8 1.8-1.2 1.3-1.7 1.2-2.6 1-2.7.7-5 .8zM26.9 479.9l-1-.3-1-.6-.7-1.1-.1-1 .2-1 .7-1 .9-.7 1.5-.2 1 .3 1 .8.6 1.3 0 1-.4 1-.7.8-1 .5z" fill="none" stroke="#1c1c1c" stroke-width="1.05"/><path d="M72.4 448.9l-12 .3-6.5-.5-3.5-.7-3-1-3-1.4-2.5-1.5-2-1.8-1.5-1.9-.9-2-.7-2.5-.1-3.5.4-3.5.8-2.8 1.3-2.2 1.4-1.5 2-1.5 8.3-4.7 5-2.4 4-1.1 4.5-.1 5 .8 5 1.9 4.2 2.6 2.2 2 1.6 1.8 1.4 2.2 1.1 2.5.8 3 .3 3 0 3-.3 2.5-.6 2-.9 2-1.4 2-1.5 1.5-1.9 1.3-2 1-2.5.7z" fill="none" stroke="#1c1c1c" stroke-width="1.05"/><path d="M75.4 443.9l-2.5.4-3-.6-2.5-1.2-3-2.3-1.5-.6-1 .1-4.5 1.7-2.5.5-3 .2-3-.5-2.5-1.1-1.9-1.6-.8-1.5 0-2 1-2 1.7-1.6 2.5-1.4 3.5-.9 2.5-.1 2 .1 6.5 2 6-1.2 2 0 2 .4 2.5 1 2 1.6 1.2 1.6.7 2 0 2.5-.9 1.9-1.5 1.6z" fill="none" stroke="#1c1c1c" stroke-width="1.05"/></g><path d="M69.4 396.2h.01M50.9 399.2h.01M60.7 403.3h.01M88.5 402.7h.01M37.3 409.3h.01M47.1 410.4h.01M60.7 411.4h.01M75.4 413.6h.01M48.7 418.5h.01M66.7 421.8h.01M36.7 420.7h.01M87.4 420.2h.01M55.8 427.8h.01M78.2 428.7h.01M66.7 433.3h.01M51.4 437.6h.01M38.4 439.8h.01M61.2 443.4h.01M70.4 444.5h.01M100.2 415.4h.01M23 453h.01M30.3 457.8h.01M39.8 461.1h.01M51 454.4h.01M61.8 455.5h.01M67.9 453.6h.01M18 463.1h.01M26.4 467.2h.01M34.6 469.5h.01M46.1 470.4h.01M54.2 462h.01M61.5 467h.01M70.1 465h.01M16.6 474.6h.01M25.6 477.3h.01M34.4 479.3h.01M43.1 478.4h.01M55.7 476h.01M66.2 477.3h.01M27.7 488.2h.01M36.6 489h.01M46.5 487.9h.01M54.5 483.8h.01M66.2 484.9h.01M60.6 491.2h.01M52 496.2h.01M42.2 498.5h.01M68.5 498h.01M60 502.9h.01M79.7 451.1h.01M93.1 447.2h.01M105.9 448.5h.01M76.4 459.5h.01M89.9 457.8h.01M99.8 454.1h.01M111.5 456.2h.01M103.7 461.6h.01M84.7 467h.01M96.2 465h.01M107 471.2h.01M77.4 475.1h.01M88.6 475.1h.01M97.4 474h.01M79.2 482.3h.01M87.7 484h.01M96.2 483.4h.01M105.9 481.8h.01M75.3 490.1h.01M84.3 492.4h.01M93.6 492.9h.01M78.5 500.2h.01M77.4 405.5h.01M99.2 426.7h.01M105.9 432.8h.01M111.5 440h.01M100.9 441.1h.01M116.3 430h.01M81.4 440.6h.01M26.8 413h.01M27.9 424.2h.01M18.9 429.2h.01M31.3 433.2h.01M22.9 438.8h.01M15.6 446h.01M28.5 445.4h.01M49.7 446h.01M38 451h.01M59.7 399.7h.01" stroke="#000" stroke-width="1.7" stroke-linecap="round" stroke-opacity=".55" fill="none"/><ellipse cx="64.1" cy="452.7" rx="60.3" ry="60" fill="none" stroke="#2a2a2a" stroke-width="1.25"/><linearGradient id="cg6" x1="0" y1="400.2" x2="0" y2="505.5" gradientUnits="userSpaceOnUse"><stop offset="0%" stop-color="#ffffff"/><stop offset="5%" stop-color="#ffffd0"/><stop offset="10%" stop-color="#ffff9d"/><stop offset="15%" stop-color="#ffff69"/><stop offset="20%" stop-color="#ffff36"/><stop offset="25%" stop-color="#ffff07"/><stop offset="30%" stop-color="#ffe100"/><stop offset="35%" stop-color="#ffbf00"/><stop offset="40%" stop-color="#ff9d00"/><stop offset="45%" stop-color="#ff7b00"/><stop offset="50%" stop-color="#ff5c00"/><stop offset="55%" stop-color="#ff3a00"/><stop offset="60%" stop-color="#ff1700"/><stop offset="65%" stop-color="#f40000"/><stop offset="70%" stop-color="#d20000"/><stop offset="75%" stop-color="#b30000"/><stop offset="80%" stop-color="#900000"/><stop offset="85%" stop-color="#6e0000"/><stop offset="90%" stop-color="#4c0000"/><stop offset="95%" stop-color="#2a0000"/><stop offset="100%" stop-color="#0b0000"/></linearGradient><path d="M138.6 400.2L141.5 394.2L144.5 400.2L144.5 505.5L141.5 511.5L138.6 505.5Z" fill="url(#cg6)" stroke="#bbb" stroke-width="0.5"/><path d="M144.5 402h1.6" stroke="#666" stroke-width="0.6"/><text x="147.2" y="405.7" class="tk">500</text><path d="M144.5 428.7h1.6" stroke="#666" stroke-width="0.6"/><text x="147.2" y="432.4" class="tk">250</text><path d="M144.5 455.9h1.6" stroke="#666" stroke-width="0.6"/><text x="147.2" y="459.6" class="tk">0</text><path d="M144.5 483.8h1.6" stroke="#666" stroke-width="0.6"/><text x="147.2" y="487.5" class="tk"><tspan class="mn">−</tspan><tspan dx="0.8">250</tspan></text><text x="127.8" y="391" class="bl"><tspan font-style="italic">B</tspan><tspan class="br">[</tspan>fT<tspan class="br">]</tspan></text><text x="63.7" y="383.5" class="ti" text-anchor="middle">OPM − NOR</text><clipPath id="h7"><polygon points="203.8,417.9 213.7,412.9 224,407.7 235.7,400.6 246.7,398 256.3,396.4 274.5,402 287.3,415.4 303.2,430.4 298.2,457.3 294.8,471.4 293.2,481.5 280.6,494.1 266,500.6 247.3,503.4 229,499 214.6,488.4 203.5,474.6"/></clipPath><g clip-path="url(#h7)"><g filter="url(#bl)"><rect x="200.5" y="393.4" width="105.7" height="113.1" fill="#120000"/><path fill-rule="evenodd" fill="#220000" d="M306.5 506.9l-106 0 0-113.5 106 0zM261.3 454.4l1.2-.6.8-.9.5-1 .1-1.5-.5-1.5-.9-1-1-.5-1.5-.1-1.5.6-.9 1-.6 1.5 0 1.5.5 1.1 1 1 1.5.5z"/><path fill-rule="evenodd" fill="#350000" d="M306.5 506.9l-106 0 0-113.5 106 0zM261.2 454.9l1.3-.6 1-.9.8-1.5.1-1.5-.4-1.5-1-1.3-1.5-.7-1.5-.1-1.5.5-1.1 1.1-.8 1.5-.1 1.6.4 1.4 1.1 1.3 1.5.7z"/><path fill-rule="evenodd" fill="#440000" d="M306.5 506.9l-106 0 0-113.5 106 0zM260.6 455.4l1.4-.4 1.5-1 1-1.5.3-1.6-.3-2-1-1.4-1.5-1-1.5-.2-1.5.3-1.5 1-1 1.4-.4 1.9.4 2 1 1.4 1.5.9z"/><path fill-rule="evenodd" fill="#540000" d="M306.5 506.9l-106 0 0-113.5 106 0zM262.2 455.4l1.5-1 1.1-1.5.5-2-.4-2-.9-1.5-1.5-1.2-1.5-.4-2 .3-1.5.9-1.3 1.9-.5 2 .3 1.9 1 1.6 1.5 1 2 .4z"/><path fill-rule="evenodd" fill="#660000" d="M306.5 506.9l-106 0 0-113.5 106 0zM262 455.9l1.8-1 1.2-1.5.6-2-.1-2-.6-1.5-1.4-1.6-2-.8-2 0-2 1-1.5 1.8-.6 2.1.1 2 1 2 1.5 1.2 2 .5z"/><path fill-rule="evenodd" fill="#760000" d="M306.5 506.9l-106 0 0-113.5 106 0zM261.7 456.4l1.8-.9 1.6-1.6.8-2 .1-2-.6-2-1.4-1.8-2-1-2-.1-2 .7-1.8 1.7-1 2-.2 2.5 1 2.4 1.5 1.4 2 .8z"/><path fill-rule="evenodd" fill="#890000" d="M306.5 506.9l-106 0 0-113.5 106 0zM261 456.9l2-.6 2-1.6 1-1.8.5-2.5-.6-2.5-1.4-1.9-2-1.2-2-.3-2.5.7-1.9 1.7-1.1 2-.4 2.5.4 2 1.5 2 2 1.2z"/><path fill-rule="evenodd" fill="#980000" d="M306.5 506.9l-106 0 0-113.5 106 0zM262.6 456.9l1.9-1.2 1.5-1.9.8-2.4-.1-2.5-.9-2-1.8-1.9-2-.8-2.5 0-2.5 1.2-1.7 2-.9 2.5.1 3 1 2 2 1.7 2.5.7z"/><path fill-rule="evenodd" fill="#a80000" d="M306.5 506.9l-106 0 0-113.5 106 0zM262.3 457.4l2.2-1.2 1.6-1.8 1-2.5.1-2.5-.9-2.5-1.7-2-2.1-1.1-2.5-.2-2.5 1-2.3 2.3-1.1 2.5-.1 3 1 2.5 2 1.8 2.5.9z"/><path fill-rule="evenodd" fill="#ba0000" d="M306.5 506.9l-106 0 0-113.5 106 0zM261.8 457.9l2.4-1 2.1-2 1.1-2.5.3-2.5-.7-2.7-1.6-2.3-2.4-1.5-2.5-.3-3 1-2.1 1.8-1.5 3-.3 3 .9 2.8 2 2.2 2.5 1z"/><path fill-rule="evenodd" fill="#ca0000" d="M306.5 506.9l-106 0 0-113.5 106 0zM275.6 417.4l.9-.9.2-1.1-.7-.9-1-.2-1 .7-.4 1.4.8 1zM261.1 458.4l2.9-1 2-1.6 1.5-2.4.6-3-.5-3-1.6-2.7-2.5-1.7-2.5-.5-3 .8-2.5 1.9-1.7 2.7-.6 3.5.7 3 1.6 2.2 2.5 1.4zM293.2 466.4l.1-1-.8-2-1-1.1-1-.4-.3 1 .8 2.1 1.5 1.5z"/><path fill-rule="evenodd" fill="#dd0000" d="M306.5 506.9l-106 0 0-113.5 106 0zM275.3 419.9l2.2-1.6.6-.9.3-1.5-.4-1.5-.5-.8-1-.7-1.5-.2-1.5.4-1.4 1.3-.8 1.5-.2 1.5.3 1.5 1 1 1.6.3zM262.9 458.4l2.6-1.5 2-2.5 1-3-.1-3-1.2-3-1.8-2-2.4-1.3-3-.1-3 1.3-2.5 2.6-1.5 3.5 0 3.5 1.4 3 2.1 1.9 3 1zM294.2 468.4l.4-.5 0-1.5-1.1-3-2-2.6-1-.7-1-.2-.5.5-.1 1.5 1.1 3.1 2 2.6 1 .7z"/><path fill-rule="evenodd" fill="#ec0000" d="M306.5 506.9l-106 0 0-113.5 106 0zM269.6 427.4l2.9-1.9 5-4.8 1.5-2.2.5-1.7-.1-1.9-.9-1.9-1.5-1.1-2.5-.4-1.5.5-1.5.9-1.5 1.5-3 4-4.5 4.5-2 2.5.2 1 2.8 1.1 3.5.3zM262.7 458.9l2.8-1.5 2-2.2 1.2-2.8.2-3.5-.9-3.2-2-2.7-2.5-1.5-2.5-.3-2 .5-1.5.7-2.8 2.5-1.8 3.5-.4 3.5.4 2 .7 1.5 2.3 2.5 3.1 1.2 2 .1zM294.6 469.9l.7-.5.3-1.5-.3-2-1.1-2.5-1.7-2.5-1.5-1.6-1.5-.8-1 .1-.5.8-.1 2 1.6 4 2.5 3.3 1.5 1z"/><path fill-rule="evenodd" fill="#fc0000" d="M306.5 506.9l-106 0 0-113.5 106 0zM270.2 430.9l2.8-1.2 2.5-2.2 3.5-5.9 1.4-3.2.2-3-1-2.5-1.6-1.6-2.5-.8-2.5.2-3 1.5-5.7 4.2-4.9 4.5-2.4 1.6-3 1.1-8.4 1.8-1.8 1-.6 1 .3.6 1 .8 3 .8 10 .4 8.5 1.2zM262.5 459.4l3-1.5 2.1-2 1.5-3 .4-3.5-.7-3.5-1.8-3-2.5-1.9-3-.6-2 .4-2 .9-2.9 2.7-1.9 3.5-.6 4 1 3.5 1 1.5 1.4 1.2 1.5.8 2 .6zM295.7 470.9l.7-1 0-2-.9-3-1.3-2.5-1.7-2.5-2-1.9-1.5-.8-1.3.2-.6 1 0 2 .6 2.5 1.4 3 1.4 2 2 2.1 2 1z"/><path fill-rule="evenodd" fill="#ff1000" d="M306.5 506.9l-106 0 0-113.5 106 0zM269.2 433.9l4.3-1.3 3.1-2.2 2.4-3.4 1.8-5.1 1-4.5-.6-3.5-1.7-2.6-1.5-1.1-1.5-.6-2-.2-2 .2-5.7 2.3-4.3 2.5-5.1 5-2.1 1.5-3.3 1.4-8.5 2.3-2 1.1-.9 1.2-.1 1 .8 1 1.7.9 1.8.6 11.7 1.3 8.5 2.1zM262.3 459.9l3.2-1.4 2.3-2.1 1.6-3 .6-3.5-.5-4-1.7-3.5-2.3-2.3-1.5-.7-1.5-.2-2 .3-2 .8-3.5 2.8-2.4 3.8-.7 2.5-.2 2 .2 2 .7 2 1 1.5 1.4 1.4 1.5.9 2 .7 2 .2zM296.5 471.9l.7-1.5-.2-2.5-.9-3-1.6-3-2-2.8-2-2-2-1.1-1.5.1-.7 1.3 0 2.5.8 3 1.7 3.5 2.2 3 2 1.8 2 1z"/><path fill-rule="evenodd" fill="#ff1f00" d="M306.5 506.9l-106 0 0-113.5 106 0zM262.2 460.4l2.8-1.1 2.5-1.9 1.8-2.5 1-2.5.3-2.5-.1-3-.8-3-1.8-4.5.1-1.5 1.5-1 5.5-2.3 2.6-1.7 2.6-3 1.8-4.1 1-6.9-.4-4.5-.9-2-1.2-1.6-2-1.5-2-.8-2.5-.3-2.5.2-4 1-3.5 1.2-3.5 2.3-5 5.3-2.1 1.7-2.9 1.3-9 3-1.9 1.2-1.1 1.5-.1 1 .5 1 2.3 1.5 3.8 1 10.5 1.7 3.3 1.3 1.8 1.5.2 1-.3.5-4.5 3.8-2.8 3.7-1.5 3.5-.4 3.5.8 3.5.9 1.5 1.5 1.6 1.5 1 2 .7 2 .3zM297.2 472.9l.7-1.5-.1-3-1-3-1.7-3.5-2.1-3.1-2.5-2.6-2.5-1.4-1.5 0-1 1.4-.1 2.7.9 3.5 1.9 4 2.3 3.3 2.5 2.3 2.5 1.3 1-.1z"/><path fill-rule="evenodd" fill="#ff3200" d="M306.5 506.9l-106 0 0-113.5 106 0zM262.3 460.9l2.2-.7 2.5-1.6 1.7-1.7 1.5-2.5 1.1-4.5 0-3-.6-5 .5-2 1.3-1.2 5-2.7 2.5-2.2 2.6-3.4 1.6-4 .5-3 .1-3.5-.4-3.5-.7-2.5-1-2-1.7-2.2-2-1.4-2.5-1-3-.5-4 .1-4 .8-3 1.1-4 2.8-4.5 5.3-2.3 2-2.8 1.5-9.3 3.5-2.1 1.5-.9 1.5-.1 1 .4 1 1 1 1.8 1 3.8 1.1 9.5 1.7 2.5 1 1.6 1.2.4 1-.4 1.5-3.6 5-1.9 4-.7 3.5.3 3 1.3 3.1 2.5 2.5 3.5 1.4zM296.7 474.4l.8-.3.7-.7.5-2.5-.6-3.5-1.9-4.5-2.7-4.3-3-3.3-3-1.8-1-.2-1 .3-.9 1.8.1 3 .9 3.5 1.7 4 2.2 3.4 2.5 2.7 2.5 1.8z"/><path fill-rule="evenodd" fill="#ff4100" d="M306.5 506.9l-106 0 0-113.5 106 0zM262.6 461.4l1.9-.6 2-1.1 1.6-1.3 1.7-2 1.3-2.5.7-2.5.7-7.2.5-1.8 1.3-1.5 5.2-3.3 2.7-2.7 2.8-4 1.4-4 .5-3.5-.1-4-.9-4-1.2-3-1.7-2.5-2-1.9-2.5-1.5-3-1.1-3.5-.5-4 0-3.5.7-3.5 1.4-2.5 1.6-2 1.7-4.8 6.1-1.7 1.5-3 1.8-9 3.8-2 1.4-1.2 2 0 1.5.6 1 2.6 1.8 4 1.3 9.5 1.9 2.3 1 1.2 1 .5 1-.1 1.5-3.4 6.3-1.2 3.7-.3 3 .5 3 1.5 3 1.4 1.5 1.6 1 3.5 1.1zM297.8 475.4l.8-.5.6-1 .2-3-.9-4-2-4.5-2.9-4.5-3.1-3.5-3-2.1-1.5-.5-1 .1-1 1-.3 1 0 3.5 1.4 5 2.1 4.5 2.4 3.5 2.9 2.9 3 1.9zM208.8 468.9l.7-.7.6-1.3.3-2-.1-2-.4-2-.9-2-.5-.6-1-.4-1 .5-1 2-.3 2 .1 2.5.5 2 .7 1.3 1 .8z"/><path fill-rule="evenodd" fill="#ff5100" d="M306.5 506.9l-106 0 0-113.5 106 0zM263.2 461.9l3.8-1.8 1.5-1.2 1.8-2 2-4 2.2-7.9 1.5-1.6 3-1.7 1.5-1.2 4.4-5.1 2.7-4.5 1.5-5 .2-4-.5-4-1.3-4-2-3.5-2.1-2.5-2.9-2.3-3.5-1.7-4-1-4-.3-3.5.3-3.5 1-3.5 1.8-4.4 3.7-4.3 6-2 2-2.3 1.5-9.5 4.5-2.3 2-.9 2 .2 1.5.7 1 2.8 1.8 4 1.3 9.5 1.9 2.2 1 1.3 1 .6 1.5-.2 1.5-2.8 6.5-.9 3.5-.1 3 .6 3 1.8 3 3 2.2 3.5 1zM214.3 432.4l.5-.5-.2-.5-1.1-.4-1.5.2-.6.7.4.5.7.2zM298.8 476.4l.7-.7.6-1.3.1-3.5-1.2-4.5-2.4-5-3.4-5-3.7-3.9-3.5-2.4-1.5-.3-1 .3-.6.8-.4 1.5.3 4.5 1.9 6 2.4 5 2.9 4 3.5 3.1 3 1.5 1.5.2zM208.7 472.4l1.5-1 1.2-2 .5-2.5.1-2.5-.5-3.5-1-3.5-1.5-2.5-1.5-.7-1.5.6-1.5 2.3-.9 3.3-.1 4 .6 3.5 1.4 3 1.5 1.3z"/><path fill-rule="evenodd" fill="#ff6400" d="M306.5 506.9l-106 0 0-113.5 106 0zM299 477.9l1-.6.7-.9.5-3-.7-4.5-1.9-5-2.2-4-3.4-4.8-4-4.4-4.9-4.3-.9-2 .1-1.5.9-2 3.8-5.5 1.5-2.9 2-6.1.4-3.5-.3-4-.9-3.5-1.5-3.5-2.7-4-3-2.9-3.5-2.3-4-1.7-4.5-.9-4.5 0-4.5.9-4 1.7-3.3 2.2-2.7 2.5-5.2 7.5-1.9 2-2.2 1.5-7.7 3.8-2.9 2.2-1.7 2.5-.2 1.5.3 1 1.5 1.5 3 1.5 4.5 1.3 9 1.8 2 .9 1.2 1 .6 1 .1 1.5-2.9 8.5-.4 3 .1 2.5.6 2.5 1.4 2.5 1.8 1.8 2.5 1.4 2.5.7 3 .1 3-.7 2.5-1.2 2.1-1.6 2.1-2.5 4.3-8.7 1.5-1.1 1-.1 1 .4 1.1 1.5 1.7 7.5 1.6 5 1.8 4.5 2.2 4 2.4 3 3.7 3.1 3 1.7 1.5.3zM215.3 434.4l2.5-1 1.4-1.5-.2-1-1.5-1.2-3-.7-3 .2-2.5.8-1.4 1.4.2 1.5 1.7 1.3 2.5.5zM209.4 474.9l1.6-1.3 1.5-2.5.7-2.7.1-3.5-.8-5.1-1.5-5.2-1.5-2.6-1-.8-1-.2-1.5.5-1 .9-1.7 3-1.1 4.5-.1 5 .8 4.5 1.6 3.6 1 1.1 1.5 1 1 .1z"/><path fill-rule="evenodd" fill="#ff7300" d="M306.5 506.9l-106 0 0-113.5 106 0zM299.8 479.4l.9-.5.8-1 .7-2.5-.3-4-1.3-4.5-3.4-7-8.9-12-1.1-2-.4-1.5.4-2.5 2.8-5.1 3-7.4 1.6-5.5.1-3-.5-3.5-1-3.5-1.6-3.5-2.7-4-3.5-3.5-4.4-2.9-4.5-1.8-5-1-5 .1-5 1-4.5 1.9-3.5 2.3-3 2.9-2.5 3.1-3.5 5.9-1.8 2-2.1 1.5-7.2 4-3.1 2.5-2.5 3.5-.3 1 .3 1 2.1 1.5 4.1 1.7 4.8 1.3 9.2 1.6 2 .9 1.2 1 .7 1.5 0 1.5-2.5 8-.3 5 .5 2.5.8 2 1.5 2 1.6 1.3 2.5 1.3 3 .7 3.5-.1 3-.8 2.5-1.4 1.9-1.5 2.2-2.5 3.4-5.1 1-.8 1 0 1 .7 1 1.6 5.2 13.1 2.8 5.1 2.4 2.4 5.1 3.8 2.5 1.1zM215 435.9l4-1.3 2.9-1.7.9-1 .4-1-.6-1-.8-.5-4.8-1.5-5-.1-4.4 1.1-1.6 1-.8 1-.3 1 .4 1.5 2.2 1.8 3.5 1zM208 477.9l2.5-1.1 2.5-2.9 1.3-3.5.3-3.5-.9-6.5-2.2-8.7-1.7-2.8-1.3-.9-1-.1-1.5.4-1 .7-1.5 1.8-1 1.8-1.4 4.8-.5 6 .6 5.5 1.6 5 2.3 3 1.4.8zM285.1 486.9l1-2 .3-3.5-.7-3-.7-.9-.5-.1-.5.3-.5 1.2-.3 4.5.3 2.1.5 1.2.5.4z"/><path fill-rule="evenodd" fill="#ff8600" d="M306.5 506.9l-106 0 0-33.7 1.5 3.5 2 2.6 2 1.3 1 .2 1.5-.1 2.5-1.6 3-3.8 1.6-3.4.5-3.5-.5-4-2.8-13.5-.9-3-1.4-2.3-1-.8-1.5-.5-1.5.2-1.5.8-2.5 2.8-2 4.4 0-59.1 106 0zM284.6 491.4l.9-.5.9-1 1.1-2.7.6-2.8.1-6 .4-1.5.4-.4 1 .1 6.5 3.9 2 .7 1.5.1 1.5-.4 1-1 .7-1.5.3-2.5-.8-5.5-2.4-6.5-2.4-4.5-6.5-9.5-1.2-2.5-.5-2 .4-3 2.5-8 5.2-10.5.3-3.5-.5-4-1.6-5-2.4-4.5-3.1-4-3.9-3.5-3.1-2-3-1.5-3.5-1.2-3.5-.8-3.5-.3-4 .2-3.5.6-3.5 1-4.5 2.2-4.5 3.3-4.3 5-4.2 7.5-1.5 2-2.4 2-7.1 4.5-5 4-1.5.7-1.5.2-8.5-.4-4.5.4-4 1.3-2.3 1.8-.8 2 .3 1.5.5 1 2.8 2.3 3 1.2 3 0 4-.8 3.9-1.2 5.1-2.2 2.5-.5 18.5 3.1 3.5 1.3 1.3 1.3.4 2-2.6 9.5-.1 3 .3 3 .9 2.5 1.7 2.5 2.1 1.6 2.5 1.2 4.5.7 2.5-.2 2.5-.7 2.5-1.2 2.1-1.4 5.9-6 1-.2 1 .4 1.5 1.9 1.5 3.1 3 8.3 0 2.4-1.5 3-.4 2.1-.1 7.5.3 4 .5 2 .7 1.2z"/><path fill-rule="evenodd" fill="#ff9500" d="M200.5 429l0-35.6 51.5 0-4.8 3.5-3.7 4-2.8 4.5-3.5 7.5-1.7 2.3-2.4 2.2-7.6 5.2-2.1 1.3-2.4.7-9.5.3-4.5.7-4 1.5zM306.5 506.9l-106 0 0-27.2 2 2.8 2 1.7 2 .7 2-.4 2-1.6 3.5-4.8 2.6-4.2 1.1-3-.1-3.5-2.6-11-1.1-9-.9-4.5 0-1.5.6-1 1.6-1 10.8-3.9 4.5-.4 14 1.6 3 .7 2 1.2.8 1.3.2 2-2.4 8.5-.3 3.5.2 3 .9 3 1.1 2 1.5 1.6 2.5 1.6 2.5 1 2.5.4 5-.3 5-1.9 7-4.9 1.5.1 1 .8 2 3.6.8 3-.6 7 .5 8 0 8.5.5 3 1.3 1.9 1 .2 1.5-.4 1-.9 1.3-1.8 1.3-3.5 1.2-7 .7-1.4 1.5-.1 5 2.7 2.5.8 2.5-.2 1.5-1.2 1-2.1.3-3-.4-4-1.1-4-1.9-5-2-4-5.4-7.5-1.5-2.5-1.1-3-.3-2.5.2-3 .8-4 2.1-5.5 2.3-3 1.5-1.1 2.9-1.4 1.2-1.5.6-3.5-.5-5.5-2-6.5-3.5-6.5-4.7-5.5-3-2.5-3-2 20 0zM200.5 445.8l0-10.5 2.4 3.1.6 1.5-.3 1.5z"/><path fill-rule="evenodd" fill="#ffa500" d="M200.5 424l0-30.6 35.3 0-.9 3-1.3 8.5-1.1 4.5-2 4-2.7 3-4.8 3.3-3.7 1.7-3.3.6-10 .7zM306.5 396l-2.1-2.6 2.1 0zM306.5 467.5l-3.7-8.6-1.4-1.5-3.4-2.4-2-1.9-1.8-2.7-1.1-3-.4-5 1-5.5 1-2.5 1.2-2 1.1-1.1 1.5-.8 1.5-.1 1 .4 2.3 2.1 1.6 3 1.5 5zM306.5 506.9l-106 0 0-15.6 2.5 2.1 3 1.3 2.5 0 2-1.1 1-1.8 1.1-6.4 1.1-3.5 1.9-3.5 3.5-5 1-2 0-2.5-3.1-8.5-1.2-6-.2-4 .2-4 .6-3 .7-1.5 1.6-1.5 3-1.5 3.8-1.4 3.5-.7 3.5-.1 11 .5 3 .5 2 1 1 1.2.4 2-2.6 9-.3 6.5 1 6.3.8 2.2 1.2 1.8 1.5 1.2 2.5 1.2 3.5.9 3 .2 4-.7 8.5-3.4 1.5-.2 1.5.5 1.5 1.8 1 2.5 1.7 7.7.2 6.5-1.2 12 .2 2 .6 1.5 1.5 1.3 2 .5 2-.5 2-1.3 1.7-2 1.6-3 2.7-8.5.5-.6 1-.2 7 3 2.5.2 2-.6z"/><path fill-rule="evenodd" fill="#ffb700" d="M216 412.4l-2 0-2.1-.5-1.8-1-1.3-1.5-.4-1.5.3-1.5 1-1.5 1.3-1 3-1.1 3 0 2.5.9 1.8 1.7.5 2-.3 1.5-.6 1-1.9 1.6zM299.5 452.9l-2-.4-2.1-2.1-1.3-3-.6-4 .3-4 1.2-4 2-2.7 2-.7 2 .9 1.5 2 1.1 3.5.4 3.5-.3 4-1 3.5-1.5 2.5zM258.5 500.4l-5.5.4-5.5-.1-5.5-.6-4.5-1-4.5-1.4-11.5-4.8-3-1.8-2.1-2.2-1-2-.3-2.5.4-2.5 1.5-3 2-2.5 2.5-2.2 3-1.6 3.7-1.2.1-.5-4.8-3.3-2.5-2.4-2.1-3.3-1.5-4.5-.5-5 .7-5 1.6-3.5 1.3-1.5 1.5-1.1 3.5-1.7 3.5-1 3.5-.5 7.5-.4 3.5.1 2.5.4 2 1 .9 1.2.4 1.5-.2 1.5-2.4 7.5-1.3 10-1.2 3.5-1.7 2.5-2.5 2-2.5 1.3-5.4 1.7.7 1 8.2 6.4 2 .8 2 .3 18 .8 1.5-.5 1-.8 3.5-5 1.5-1.5 1.5-.9 1.5-.4 1.5 0 1.5.8 1.2 1.5.9 2 .7 2.5.4 5.5-.8 5.5-.9 2.6-1 1.7-1.5 1.5-2 1-9 2.5z"/><path fill-rule="evenodd" fill="#ffc700" d="M299 451l-1 0-1-.5-1.4-1.6-1-2.5-.5-3.5.3-3.5.9-3 1.7-2.5 1.5-.7 1.5.4 1.5 1.8 1.1 3 .4 3-.2 3.5-.9 3-1.4 2.2zM236 468l-3.5 0-3.5-1-5-2.3-2.9-2.3-1.8-3-1-3.5-.2-3.5.8-3.5 1.2-2.5 1.9-2.4 2.5-1.8 3.5-1.6 4.5-1.2 6.5-1 4-.2 3 .6 1.2.6 1 1 .4 1 .1 1.5-.5 2-2.5 7-2.2 9-1.1 2.5-1.9 2.3-2 1.4zM256 498.4l-7.5.2-7-1-4.5-1.5-7-3.1-7.5-2.5-3-1.8-1.9-2.3-.7-2.5.6-3 1.7-2.5 2.3-2 3-1.1 3-.3 3 .6 2.5 1.1 2.3 1.7 3.2 3 2.5 1.2 2.5.3 10.5 0 10.5 1.2 1.5-.4 1-.9 2.7-4.9 1.8-2.1 2-1.1 2 .1 1.5 1.1 1 1.6.7 2.4.3 2.5 0 2.5-.5 2.8-1 2.6-1 1.4-1.5 1.2-1.5.7-4 .9-7.5 2.8z"/><path fill-rule="evenodd" fill="#ffda00" d="M299 449.5l-1.5-.2-1.5-1.4-.8-2-.5-3 .2-3 .9-3 1.2-1.9 1.5-.6 1.5.5 1.1 1.5.8 2 .4 3-.2 3-.8 2.5-.8 1.5zM235.5 466.4l-2.5 0-3-.9-5.3-2.6-2.7-2.1-1.5-2.1-.9-2.8-.2-3 .7-3 1.3-2.5 2.1-2.3 2.5-1.8 3.5-1.7 4.5-1.5 5.5-1.2 3.5-.2 3 .6 1 .6.8 1 .4 1.5-.1 1.5-3.5 8.5-2.5 8-1.1 2.3-1.5 1.8-2 1.3zM255 496.9l-6 .1-6-.9-4.5-1.6-6-3.4-7-1.5-2.5-.8-2.5-1.6-1.4-1.8-.5-2 .4-2.2 1.5-2.2 2-1.4 2.5-.8 3 0 2.5.7 2 1 2 1.8 2.5 3.1 2 1.2 2.5.3 8-.6 5 .1 4 .7 6 1.6 2 .2 1-.4.9-1.1 1.9-5 1.2-2 2-1.6 2 0 1 .6 1 1.5.8 4-.5 4-.8 1.7-1 1.3-1 .7-1.5.5-5 .4-4 2.6-2.5 1.2-3 .9z"/><path fill-rule="evenodd" fill="#ffe900" d="M299.5 447.9l-1.5.3-1.3-.8-1-2-.5-2.5.1-2.5.7-2.6 1-1.7 1.5-.7 1 .3 1 1.2.8 2 .3 2-.4 4-.7 1.8zM236 464.9l-2.5.2-2.5-.7-4-2-3.6-2.5-1.4-1.7-1-2.3-.2-2.5.5-2.5 1.3-2.5 1.9-2.2 3-2.2 3.5-1.9 4-1.5 4-1.1 3.5-.3 3 .5 1.5 1 .6 1.2.1 1.5-.5 2-4 8-2.9 8-1.8 2.2zM229.5 488.4l-4.5-.6-2-.8-1.5-1.1-1-1.5-.2-1.5.3-1.5 1.2-1.5 2.2-1.3 3-.4 3 .7 2.6 2 1.6 3 .4 2-.1 1-1.4 1zM275 488.4l-1.5.3-1.5-.5-.9-1.3-.3-1.5.3-2.5.9-2.4 1-1.3 1.5-.7 1 .2 1 .9.6 1.3.3 2-.6 3.5-.8 1.2zM256 495.4l-3.5.4-3.5-.1-3-.4-3-.8-2.5-1.1-1.9-1.5-1.1-1.5-.2-1.5.7-.8 1.7-.7 4.1-1 4.2-.7 6 .1 5.2 1.1 2.3 1 1.4 1 .7 1 0 1.5-1.3 1.5-1.5 1z"/><path fill-rule="evenodd" fill="#fff900" d="M299 446.9l-1 .1-1-.7-.9-1.9-.3-2 .1-2.5.6-1.8 1-1.3 1-.3 1 .4.7 1 .8 3.5-.5 3.5-.5 1zM236 463.5l-2.5.3-2.5-.8-3.7-2.1-2.8-2.3-1.4-1.7-.7-2-.1-2 .5-2 1.5-2.5 1.9-2 2.7-2 3.6-2.1 4-1.7 3-.7 3-.3 2.5.4 1.4.9.6 1 .2 1.5-.5 2-1.2 2.5-3.6 6-2.8 7-1.2 1.5zM229 486.4l-3 0-2.5-1-.9-1-.4-1 0-1 .5-1 1.3-1.1 2-.6 2 .2 2 1 1.2 1.5.3 2-1 1.4zM274.5 485.9l-1.1-.5-.5-1.5.5-2 1.1-.9 1 .4.6 2-.6 1.9zM253 494.4l-4.5-.1-3.8-.9-2.4-1.5-.6-1 .1-1 .9-1 1.3-.7 4.5-1.1 5 0 4 .9 1.6.9 1 1 .2 1-.5 1-2.3 1.5z"/><path fill-rule="evenodd" fill="#ffff13" d="M299 445.6l-1 .2-.6-.4-.8-1.5-.3-1.5.1-2 .5-1.5.6-.9 1-.4.6.3.7 1 .6 2.5-.3 2.5zM235 462.4l-2 0-2-.8-2.6-1.7-2.9-2.6-1-1.4-.6-2 0-1.5.7-2 1.7-2.5 2-2 5.7-3.7 3-1.2 3-.8 3-.2 2 .5 1.2.9.5 1 0 1.5-.6 2-1.6 2.8-3.8 5.2-2.7 6.5-1.5 1.4zM227.5 483.9l-1.6 0-.6-.5.2-1 1-.4 1.1.4.4 1zM251.5 492.9l-4-.6-1.4-.9-.2-1 1.1-1.1 3-.7 3 .1 2.3.7 1.1 1-.4 1.1-1.5.9z"/><path fill-rule="evenodd" fill="#ffff2a" d="M299 444l-1 .3-.5-.5-.4-1.4.3-2.5.6-.8.5-.1.5.4.6 1.5-.1 2zM235 460.9l-1.5.1-2-.7-2.5-1.8-2.2-2.1-1-1.5-.4-1.5.1-1.5.7-2 1.3-2 2-2 2.6-2 2.9-1.7 3-1.2 2.5-.5 2.5-.1 1.8.5 1.1 1 .4 1-.1 1.5-.7 2-1.7 2.5-4.5 5.5-2.3 5-1 1z"/><path fill-rule="evenodd" fill="#ffff46" d="M234.5 458.9l-1.5.1-1.5-.7-2.5-1.9-1.4-1.5-.8-2.5.8-3 2.9-3.5 2.5-2 2.5-1.5 2.5-1 2.5-.6 2.5 0 1.5.4 1 1 .4 1.2-.2 1.5-.9 2-1.8 2.3-5 5.2-2.5 3.9z"/><path fill-rule="evenodd" fill="#ffff5e" d="M233.5 456.4l-1.5-.2-1.5-.7-2.1-2.1-.3-1 0-1.5 1.4-3 3-3.1 4.5-2.6 4.5-1.1 1.5.1 1.5.6.8 1.1.1 1.5-.5 1.5-1.3 2-2.1 2.3-6 5.1z"/><path fill-rule="evenodd" fill="#ffff75" d="M234 454.4l-2.5-.1-1.4-.9-.7-1-.3-1 .2-1.5 1.3-2.5 3.2-3 3.7-2.1 4-.9 2.5.6.8.9.2 1.5-.5 1.5-1.3 2-4.2 3.7-3 1.9z"/><path fill-rule="evenodd" fill="#ffff91" d="M235.5 452.9l-1.5.4-1.5 0-1-.4-1.1-1-.3-1 .1-1.5 1.4-2.5 2.8-2.5 3.6-2 3.5-.6 2.2.6.8 1 0 1-.4 1.5-1 1.5-3.1 2.9z"/><path fill-rule="evenodd" fill="#ffffa8" d="M234.5 452.4l-2-.2-1-.7-.4-.6 0-2 1.6-2.5 2.8-2.4 3-1.4 3-.5 1.3.3.8.5.5 1-.2 1.5-1.9 2.7-4 3z"/><path fill-rule="evenodd" fill="#ffffc4" d="M236 451.4l-2.5.2-1.5-1-.2-1.7 1.4-2.5 2.4-2 2.9-1.5 2.5-.4 2 .5.6.9 0 1-1.3 2.5-2.8 2.3z"/><path fill-rule="evenodd" fill="#ffffdc" d="M235.5 450.9l-2-.2-.5-.3-.5-1 .3-1.5 1.5-2 2.2-1.7 2.5-1.1 2-.3 1.7.6.5 1-.2 1-1.5 2.3-3 2.2z"/><path fill-rule="evenodd" fill="#fffff3" d="M235.5 450.4l-1.5-.3-.8-1.2.4-1.5 1.2-1.5 2-1.5 2.2-1 2-.2 1.4.7.2 1.5-1.6 2.3-2.5 1.8z"/></g><path d="M306.5 506.9l-106 0 0-113.5 106 0zM261.7 454.4l1.3-.9.8-1.1.3-1-.1-1.5-.5-1.2-1-1-1.5-.6-1.5.1-1.5.9-.9 1.3-.3 1.5.2 1.4.6 1.1 1.4 1 1.5.2z" fill="none" stroke="#1c1c1c" stroke-width="1.05" stroke-dasharray="1.4 1"/><path d="M306.5 506.9l-106 0 0-113.5 106 0zM262.2 456.4l1.8-1.1 1.5-1.8.7-2.1-.1-2-.8-2-1.8-1.8-2-.8-2 .1-2 1-1.8 2-.8 2 .1 2.5.9 2 1.6 1.5 1 .5 1.5.3z" fill="none" stroke="#1c1c1c" stroke-width="1.05" stroke-dasharray="1.4 1"/><path d="M306.5 506.9l-106 0 0-113.5 106 0zM275.7 418.4l1.3-1.1.5-.9 0-1-.5-1-.5-.5-1.5-.4-1 .4-1 .9-.4 1.1 0 1 .4.9.6.6.9.2zM262.1 458.4l1.4-.5 1.5-.9 1.9-2.1 1.1-2.5.2-3-.8-3-.9-1.4-1-1.1-1-.7-1.5-.7-2.5-.2-1.5.3-1.5.7-1.5 1.1-1 1.1-1.5 2.9-.4 2 0 1.5.3 1.5.6 1.5 1 1.4 1 .9 1.5.8 1.5.4 1.5.2zM293.6 467.4l.3-.5 0-1-.9-2.4-1.5-1.9-1-.6-.5 0-.3.4-.1 1 .9 2.5 1.5 1.9 1 .6z" fill="none" stroke="#1c1c1c" stroke-width="1.05" stroke-dasharray="1.4 1"/><path d="M306.5 506.9l-106 0 0-113.5 106 0zM263.1 460.4l2.4-1.1 2-1.5 1.8-2.4 1.1-2.5.5-2.5 0-2.5-.3-2.5-1.1-4.5-.1-1 .3-1 1.3-1.2 5.5-2.7 2.5-2 2.5-3.3 1.5-3.8.6-3 .2-4-.2-2.5-.6-2.5-1.1-2-1.4-1.8-2-1.4-2-.7-3-.4-3 .2-4 .9-3.3 1.2-1.8 1-1.9 1.4-4.5 5.1-2.3 2-3 1.5-8.7 3-2.4 1.5-1 1.5-.1 1 .5 1 1.1 1 1.4.7 4 1.1 10 1.7 2.5 1 1.8 1.5.2 1-.4 1-4.1 4.6-2.3 3.9-.9 3.5 0 3.5.6 2 .8 1.5 1.3 1.4 1.5 1.1 1.5.8 2 .5 2 0zM297.4 473.4l.8-1.5-.1-3-1-3.5-1.7-3.5-2.5-3.5-2.9-3-2.5-1.3-1.5.2-.5.6-.4 1 0 3 1.2 4 1.9 4 2.3 3.2 2.5 2.3 2.5 1.3 1 .1z" fill="none" stroke="#1c1c1c" stroke-width="1.05" stroke-dasharray="1.4 1"/><path d="M306.5 506.9l-106 0 0-37.2 1.3 4.2 1.7 2.9 2 1.9 1 .4 1.5.2 1-.3 1.5-.9 1.5-1.5 1.3-1.7 1.6-3.5.4-3.5-.5-5-2.3-10.5-1.3-3.5-.7-1.2-.9-.8-1.1-.6-1.5-.1-1.5.7-1 .8-1.4 1.7-1.1 2-1.5 4.7 0-62.7 106 0zM301 479.9l1.2-1.5.5-1.5.1-1.5-.4-4-1.2-4-1.4-3.5-1.6-3-8.2-12-1.1-2-.6-2 .4-2.5 7.1-17.5.4-2 .1-2-.6-4.5-.9-3-1.1-2.5-1.4-2.5-1.7-2.5-2.1-2.4-2-1.8-2.5-1.8-2.5-1.5-3-1.3-2.5-.8-3-.6-3-.2-3 .1-3 .4-3 .7-2.5 1-4.8 2.7-4.1 3.5-2.7 3.5-3.9 6.6-2 2.3-2.2 1.6-7.5 4.5-5.8 5.3-2 .5-8-1.1-5 .2-2 .4-2 .8-1.5 1-1.1 1.4-.2 1 .1 1 1.2 1.7 2 1.4 3 .9 3 0 4-.8 3.3-1.2 4.7-2.6 2-.4 2 .3 8 2.2 9 1.5 3.1 1 .9.5 1 1 .5 1 .1 1-.3 2-2.2 7-.4 3 .2 2.5.5 2 .8 2 1.1 1.5 1.2 1.2 2.5 1.5 3 1 3.5.2 3-.6 2.5-1.1 2.5-1.6 2.2-2.1 3.8-4.9 1-.6 1 0 1 .8 1.5 2.5 5.8 14.7 1.2 2 7 4.8 2.5 1.5 2.5.6 1 0zM284.7 489.4l.8-.5 1-1.7.6-2.3.2-2.5-.1-3-.6-3-.6-1.4-1-.5-1 .3-1 1.6-.5 4 .1 4 .4 3.1.6 1.4.4.4z" fill="none" stroke="#1c1c1c" stroke-width="1.05"/><path d="M299.5 449.9l-1.5.2-1-.5-.8-.7-1.2-2.5-.5-3 .1-3.5.8-3 1.6-2.4 1.5-.6 1.5.4 1.3 1.6.9 2.5.4 2.5-.1 3-.6 2.5-.9 2zM236.5 466.9l-3 .3-3-.7-5.5-2.5-3-2.1-1.9-2.5-1-3-.3-3.5.6-3 1.1-2.5 2-2.4 2.5-1.9 3-1.6 4.5-1.5 6-1.2 4-.3 3 .4 1.5.7 1.1 1.3.3 1.5-.4 2.5-2.6 6.5-2.2 8-1.3 3-.9 1.5-1.5 1.4-1.5 1zM256.5 497.4l-3.5.3-3.5 0-3.5-.3-3.5-.6-4.3-1.4-6.7-3.4-8.5-2.4-2.9-1.7-1.7-2-.4-1.1-.2-1.4.6-2.5 1.6-2.3 2-1.5 2.5-.9 3-.2 2.5.5 2.5 1.1 2.3 1.8 3.2 3.3 2 1 2.5.3 7.5-.4 4 .1 4 .5 6 1.3 1.5 0 1-.3 1.1-.8 2.4-5 1.5-2.2 2-1.3 1-.2 1 .2 1 .6 1 1.4.8 2 .3 2.5 0 2.5-.4 2-.7 2-1 1.5-1 .9-1.5.8-4.5.8-7 3.1-3 .9z" fill="none" stroke="#1c1c1c" stroke-width="1.05"/><path d="M298.5 443l-.5-.1-.3-1 .3-1.5.5-.1.4.6.1 1zM234.5 459.9l-1.5 0-1.5-.7-2.5-1.9-1.8-1.9-.8-1.5-.2-1.5.3-1.5.6-1.5 1.5-2 2.1-2 2.3-1.7 2.5-1.4 2.5-1 2.5-.6 2-.1 2 .4 1.1.9.4 1 0 1.5-.8 2-1.7 2.5-5 5.5-2.4 4.5-.6.5z" fill="none" stroke="#1c1c1c" stroke-width="1.05"/><path d="M234.5 451.9l-1 0-1-.4-.7-.6-.3-1 .5-2 1.5-2 2.5-1.9 2.5-1.2 2.5-.5 1 .1 1.1.5.7 1 0 1-.7 1.5-1.1 1.5-1.5 1.3-2 1.3-2 .9z" fill="none" stroke="#1c1c1c" stroke-width="1.05"/></g><path d="M256.5 396.2h.01M238 399.2h.01M247.8 403.3h.01M275.6 402.7h.01M224.4 409.3h.01M234.2 410.4h.01M247.8 411.4h.01M262.5 413.6h.01M235.8 418.5h.01M253.8 421.8h.01M223.8 420.7h.01M274.5 420.2h.01M242.9 427.8h.01M265.3 428.7h.01M253.8 433.3h.01M238.5 437.6h.01M225.5 439.8h.01M248.3 443.4h.01M257.5 444.5h.01M287.3 415.4h.01M210.1 453h.01M217.4 457.8h.01M226.9 461.1h.01M238.1 454.4h.01M248.9 455.5h.01M255 453.6h.01M205.1 463.1h.01M213.5 467.2h.01M221.7 469.5h.01M233.2 470.4h.01M241.3 462h.01M248.6 467h.01M257.2 465h.01M203.7 474.6h.01M212.7 477.3h.01M221.5 479.3h.01M230.2 478.4h.01M242.8 476h.01M253.3 477.3h.01M214.8 488.2h.01M223.7 489h.01M233.6 487.9h.01M241.6 483.8h.01M253.3 484.9h.01M247.7 491.2h.01M239.1 496.2h.01M229.3 498.5h.01M255.6 498h.01M247.1 502.9h.01M266.8 451.1h.01M280.2 447.2h.01M293 448.5h.01M263.5 459.5h.01M277 457.8h.01M286.9 454.1h.01M298.6 456.2h.01M290.8 461.6h.01M271.8 467h.01M283.3 465h.01M294.1 471.2h.01M264.5 475.1h.01M275.7 475.1h.01M284.5 474h.01M266.3 482.3h.01M274.8 484h.01M283.3 483.4h.01M293 481.8h.01M262.4 490.1h.01M271.4 492.4h.01M280.7 492.9h.01M265.6 500.2h.01M264.5 405.5h.01M286.3 426.7h.01M293 432.8h.01M298.6 440h.01M288 441.1h.01M303.4 430h.01M268.5 440.6h.01M213.9 413h.01M215 424.2h.01M206 429.2h.01M218.4 433.2h.01M210 438.8h.01M202.7 446h.01M215.6 445.4h.01M236.8 446h.01M225.1 451h.01M246.8 399.7h.01" stroke="#000" stroke-width="1.7" stroke-linecap="round" stroke-opacity=".55" fill="none"/><ellipse cx="251.2" cy="452.7" rx="60.3" ry="60" fill="none" stroke="#2a2a2a" stroke-width="1.25"/><linearGradient id="cg7" x1="0" y1="400.2" x2="0" y2="505.5" gradientUnits="userSpaceOnUse"><stop offset="0%" stop-color="#ffffff"/><stop offset="5%" stop-color="#ffffd0"/><stop offset="10%" stop-color="#ffff9d"/><stop offset="15%" stop-color="#ffff69"/><stop offset="20%" stop-color="#ffff36"/><stop offset="25%" stop-color="#ffff07"/><stop offset="30%" stop-color="#ffe100"/><stop offset="35%" stop-color="#ffbf00"/><stop offset="40%" stop-color="#ff9d00"/><stop offset="45%" stop-color="#ff7b00"/><stop offset="50%" stop-color="#ff5c00"/><stop offset="55%" stop-color="#ff3a00"/><stop offset="60%" stop-color="#ff1700"/><stop offset="65%" stop-color="#f40000"/><stop offset="70%" stop-color="#d20000"/><stop offset="75%" stop-color="#b30000"/><stop offset="80%" stop-color="#900000"/><stop offset="85%" stop-color="#6e0000"/><stop offset="90%" stop-color="#4c0000"/><stop offset="95%" stop-color="#2a0000"/><stop offset="100%" stop-color="#0b0000"/></linearGradient><path d="M325.7 400.2L328.5 394.2L331.3 400.2L331.3 505.5L328.5 511.5L325.7 505.5Z" fill="url(#cg7)" stroke="#bbb" stroke-width="0.5"/><path d="M331.3 413.8h1.6" stroke="#666" stroke-width="0.6"/><text x="334" y="417.5" class="tk">200</text><path d="M331.3 449.1h1.6" stroke="#666" stroke-width="0.6"/><text x="334" y="452.8" class="tk">0</text><path d="M331.3 484.4h1.6" stroke="#666" stroke-width="0.6"/><text x="334" y="488.1" class="tk"><tspan class="mn">−</tspan><tspan dx="0.8">200</tspan></text><text x="314.9" y="391" class="bl"><tspan font-style="italic">B</tspan><tspan class="br">[</tspan>fT<tspan class="br">]</tspan></text><text x="250.8" y="383.5" class="ti" text-anchor="middle">OPM − TAN − LAT</text><clipPath id="h8"><polygon points="390.7,417.9 400.6,412.9 410.9,407.7 422.6,400.6 433.6,398 443.2,396.4 461.4,402 474.2,415.4 490.1,430.4 485.1,457.3 481.7,471.4 480.1,481.5 467.5,494.1 452.9,500.6 434.2,503.4 415.9,499 401.5,488.4 390.4,474.6"/></clipPath><g clip-path="url(#h8)"><g filter="url(#bl)"><rect x="387.4" y="393.4" width="105.7" height="113.1" fill="#120000"/><path fill-rule="evenodd" fill="#220000" d="M493.4 506.9l-106 0 0-113.5 106 0zM467.1 453.4l.8-.2 1-.7 1.1-2.1.4-3.5-.5-4-1.5-4.3-2-3.1-2-1.8-1-.5-1 0-1.3 1.2-.7 2.5 0 3.5.6 4 1.1 3.5 1.5 3 1.8 1.9z"/><path fill-rule="evenodd" fill="#350000" d="M493.4 506.9l-106 0 0-113.5 106 0zM468.3 453.9l1.6-1.9.7-2.6.1-3.5-.8-4.3-1.5-3.7-2-3.1-2.5-2.2-1-.3-1 .1-1 .9-.4 1.1-.5 3 .2 4.5 1 4.5 1.3 3.5 1.9 2.7 2 1.4 1 .1z"/><path fill-rule="evenodd" fill="#440000" d="M493.4 506.9l-106 0 0-113.5 106 0zM467.9 454.9l1-.5.9-1 1.1-3 .2-4-.7-4-1.4-4-2.1-3.7-2.5-2.5-1.5-.7-1-.1-1 .6-.5.8-.7 3.1 0 4.5.8 5 1.4 4 2 3.4 2 1.8z"/><path fill-rule="evenodd" fill="#540000" d="M493.4 506.9l-106 0 0-113.5 106 0zM468.7 455.4l1.7-2 1-3.5 0-4-.9-4.5-1.6-4.1-2.5-3.9-2.5-2.3-1.5-.6-1 0-1 .8-.5.9-.7 3.7.3 5.5 1.1 5.5 1.8 4.4 2 2.9 2 1.4 1 .1z"/><path fill-rule="evenodd" fill="#660000" d="M493.4 506.9l-106 0 0-113.5 106 0zM468.5 456.4l.9-.6 1-1.3 1.2-3.6.2-4.5-1-5-1.9-4.9-2.5-3.8-3-2.7-1.5-.5-1 .1-.9.8-.6 1.2-.6 3.8.3 6 1.1 5.5 1.7 4.4 2 3.2 1 1 1.5.9z"/><path fill-rule="evenodd" fill="#760000" d="M493.4 506.9l-106 0 0-113.5 106 0zM468.2 457.4l1.2-.7 1-1.1 1.4-3.2.4-5-.8-5-1.7-5-2.8-4.8-3-3.1-1.5-.8-1.5-.3-1 .5-.5.6-.9 3.9.1 6 1 6.5 1.7 5 2.1 3.8 2.5 2.4 1 .3z"/><path fill-rule="evenodd" fill="#890000" d="M493.4 506.9l-106 0 0-113.5 106 0zM467.9 458.4l1.5-.7 1-1 1-1.7.7-2.1.4-5-.7-5.5-1.9-5.5-3-5-3.5-3.6-1.5-.9-1.5-.2-1 .5-.5.7-.8 4 .2 7 1 6.5 1.6 5.1 2.3 4.4 2.2 2.3 1 .5z"/><path fill-rule="evenodd" fill="#980000" d="M493.4 506.9l-106 0 0-113.5 106 0zM468 459.4l1.4-.6 1.4-1.4 1.6-4 .5-5.5-.8-5.5-2.1-6-3.1-5.2-4-4.2-1.5-.9-1.5-.3-1 .4-.7 1.2-.6 4 .3 7.5 1.2 7.5 1.7 5.5 2.3 4.5 2.3 2.4 1.5.6z"/><path fill-rule="evenodd" fill="#a80000" d="M493.4 506.9l-106 0 0-113.5 106 0zM468.4 460.4l1.5-.9 1.3-1.6 1-2 .7-2.5.3-6-1-6-2.2-6-3.6-5.7-4.5-4.5-1.5-.9-1.5-.2-1 .9-.5 1.4-.3 4.5.6 9.5 1.4 7.5 1.8 5.5 2.5 4.6 1 1.2 1.5 1 1.5.3z"/><path fill-rule="evenodd" fill="#ba0000" d="M493.4 506.9l-106 0 0-113.5 106 0zM467.5 461.9l1.9-.8 1.5-1.5 1-1.7 1-2.8.7-6.2-.2-3.5-.6-3.5-2.4-6.5-3.5-5.9-2.5-3-3-3-2-1.4-1.5-.2-.6.5-.6 1.5-.2 5 .8 11 1.4 8 1.9 6 2.3 4.8 2 2.4 1 .6z"/><path fill-rule="evenodd" fill="#ca0000" d="M493.4 506.9l-106 0 0-113.5 106 0zM467.8 463.4l1.6-.9 1.6-1.6 1.4-2.6.9-2.9.7-6.5-.2-3.5-.7-3.5-2.5-7-3.7-6.3-6.5-7.7-2-1.6-1.5-.5-.7.6-.4 1-.3 4.5 1.6 16 1.4 8 2.2 7 2.7 5.6 1 1.2 1 .7 1 .2z"/><path fill-rule="evenodd" fill="#dd0000" d="M493.4 506.9l-106 0 0-113.5 106 0zM464.9 466.9l2.5-1.2 2-1.5 1.5-1.6 1.5-2.8 1.1-3.4.7-4 .1-4.5-.3-4-2-7-3.6-7-9-12.1-2-2.1-1.5-.7-.9.4-.5 1-.3 4 3.3 25.5 1.6 7 4 13 .8 1.1zM402.6 433.4l1.3-1 .8-1.5.5-2 0-2-.3-2-1-2-1-1-1-.1-1.2.6-1.1 1.5-.6 2-.1 2.5.5 2.5.8 1.5 1.2 1zM461.5 478.4l1-1.5.7-3-.1-3-.2-.9-.5-.3-1 .6-1 1.4-1 3.2 0 1.6.5 1.6 1 .6z"/><path fill-rule="evenodd" fill="#ec0000" d="M493.4 506.9l-106 0 0-113.5 106 0zM461.3 482.9l1.3-1 1.3-2 3.1-10 3.9-5.5 2-4.2 1-3.6.6-3.7.1-7.5-.6-3.5-1.2-4-3.5-7.5-11.4-17.2-2-2-1.5-.5-1 .8-.5 1.4-.3 2.5.2 3.5 2.4 13 2.1 15.5 2.7 11.5.5 3.5-.3 3-2.5 7.5-.3 5 .5 2.4 1 1.8 1 .8zM403.1 435.9l1.7-1.5 1.1-2 .8-3 0-3-.5-3-1.2-2.5-1.6-1.6-1.5-.3-2 1-1.5 2.2-.9 3.2-.1 3.5.7 3.5 1.3 2.3 1 .9 1 .5z"/><path fill-rule="evenodd" fill="#fc0000" d="M493.4 506.9l-106 0 0-113.5 106 0zM461.2 485.9l1.7-1.1 2-2.9 3.7-10.5 4.3-9.5 1.2-4 .7-4.5.3-4.5-.2-4-.7-4-1-3.5-3.5-7.5-11.8-19.6-2.5-3-1-.6-1-.3-1 .5-1 2-.4 3 .1 4 .7 4 3 12.5 2 14.5 2.3 13.5-.3 3.5-2.5 8.5-.3 6 .7 3.5 1.2 2.5 1.5 1.3zM401.9 438.4l1.5-.4 1-.7 1.9-2.4 1.3-3.5.5-4-.5-4-1.2-3.5-2-2.5-1-.6-1.5-.2-2 .8-2.1 2.5-1.3 3.5-.4 4.5.4 4 1.4 3.6 2 2.3z"/><path fill-rule="evenodd" fill="#ff1000" d="M493.4 506.9l-106 0 0-113.5 106 0zM461.7 488.4l1.2-.8 1.3-1.2 2.2-3.8 6.5-18.7 1.5-5.5.7-4.5.3-5-.2-5-.6-3.5-1-3.5-3.4-7.5-5.5-9.5-7.3-13.4-2.5-3.1-1.5-1.1-1-.3-1.5.8-1 2.1-.5 3.5.1 4.5.9 5.5 3 9.9 1.2 5.1 3.3 25.5-.4 4-1.8 6.5-.7 3.5-.3 3.5.2 3.5.9 4 1.6 3.1 2 1.5 1 .1zM402.5 440.4l2.4-1.4 2.5-3.3 1.5-4.3.4-4.5-.7-5-1.5-4-2.2-2.6-1.5-.8-1.5-.3-1.5.4-1.2.8-2.3 3-1.6 4.5-.5 5.5.7 5 1.6 4 1.2 1.5 1.2 1 1.4.5z"/><path fill-rule="evenodd" fill="#ff1f00" d="M493.4 506.9l-106 0 0-113.5 106 0zM462.2 490.9l2.2-1.7 2.3-3.3 2-4.5 1.7-5.7 3.5-13.3 1.2-6 .7-7.5-.3-6.5-.9-4.5-2.1-5.5-7.1-13.5-6.5-13.3-2.5-4-2-2.5-2-1.5-1.5-.3-1 .4-.6.7-1.2 3-.5 4.5.2 5 1.2 6.5 3.8 11 1.4 5.5 1 6.5 1.5 16.5-.3 4.5-2.5 11-.3 4.5.2 4 1.1 5 2 3.6 1 .9 1.5.8 1.5.1zM402.7 442.4l1.7-.9 1.5-1.4 2.6-3.7 1.6-4.5.4-5.5-.7-5.5-1.9-4.9-1.5-2.1-1.5-1.2-1.5-.7-1.5-.2-2 .5-1.5 1-1.5 1.7-1.1 1.9-1.8 5.5-.5 6 .8 6 .8 2.5 1.3 2.4 1.5 1.8 1.5 1 1.5.5z"/><path fill-rule="evenodd" fill="#ff3200" d="M493.4 506.9l-106 0 0-113.5 60 0-1.1 3-.5 4-.1 5 .5 5.5 1.4 6 4.3 10.5 1.5 5 1.2 6.5.7 9 .2 9.5-2.9 15-.2 5.5.3 5 1 4.5 1.7 3.6 2.5 2.6 2.5.6 1.5-.2 1.5-.8 2.4-2.3 2.2-3.5 1.9-5 1.5-5.9 4-19.6.7-7-.1-7-.9-6-2.5-6.5-5.7-11.2-7.7-16.8-3.3-5.5-3-3.5 40.5 0zM403.1 444.4l1.8-1.2 1.8-1.8 3.4-5.5 1.5-5 .3-5.5-.9-6-.9-3-1.3-2.5-1.4-2.1-2-1.7-1.5-.7-2-.3-2 .4-2 1.2-1.5 1.7-1.6 2.5-1.3 3-.9 3.5-.5 3.5-.1 4 .3 3.5.8 3.5 1 3 1.4 2.5 1.4 1.6 2 1.4 2 .4zM436.5 457.9l.5-.5.1-.5-.7-.7-1.5 0-.7.7 0 .5.7.5zM424.4 498.4l.9-.5.2-.5-.2-.5-1-.5-2.2 0-1 .5-.3.5.2.5.9.5z"/><path fill-rule="evenodd" fill="#ff4100" d="M493.4 506.9l-106 0 0-113.5 56 0-.1 9 1.1 9 1.8 5.5 4.2 8.6 1.9 4.9 1.3 5 .8 5.5.2 7-.2 6.7-2.4 12.8-.8 7-.1 6 .4 5.5 1.3 5 2.1 3.9 2.5 2.3 1.5.6 1.5.2 3-.9 3-2.7 2.1-3.4 1.9-5.3 1.5-6.6 3.8-22.1.7-7 .1-7-.7-6.5-1.7-5.5-6.2-13.5-6.3-15-4.7-9 36.5 0zM402.8 446.9l1.6-1 2-1.9 2.5-3.6 2.3-4 1.1-2.5.8-3 .4-6-.3-4-.6-3.5-1-3-1.4-3-1.8-2.5-2-1.9-2-1-2.5-.5-2.5.6-2 1.2-2 2.1-2 3-1.4 3.5-1.1 4-.6 4-.2 4.5.3 4.5.8 4 1.2 3.5 1.7 3 1.8 2.1 2.5 1.5 2.5.3zM437.2 458.9l.8-.5.7-1-.2-1-.6-.7-1-.4-1.5-.2-1.5.5-.9.8-.1 1.1 1 1.1 1.5.5zM424.5 499.4l1.6-.5 1.1-1-.1-1-1.2-1-2-.4-2 0-1.5.5-1.1.9-.1 1 1.1 1 2.1.5z"/><path fill-rule="evenodd" fill="#ff5100" d="M493.4 506.9l-106 0 0-72.4.8 3.9 1.3 4 1.6 3 1.7 2 2.6 1.9 2.5.9 2.5.1 2.5-.7 2-1.3 2-2.4 6.8-11.5.9-2.5.7-3 .5-8-.2-4-.8-4-1.3-3.5-1.6-3-2-2.8-2.5-2.2-2.5-1.3-2.5-.5-2.5.3-2.5 1.1-2.5 2-2 2.4-1.8 3-1.5 3.5-1.4 4.5-.8 4.2 0-27.2 51.6 0 .8 9.5 1.4 7 1.9 4.5 5.8 9.7 2 4 1.8 5.3 1 5.5.3 5.5-.3 5.5-.6 4-2.3 9.5-1 10-.4 11 .7 7.5 1.5 5 2.3 3.8 3 2.5 1.5.6 2 .2 2-.3 1.5-.7 2.5-2.2 2-3.4 2-5.6 1.8-8.4 3.7-25.6.7-6.9.3-7-.3-9-1.1-6-10.3-26.5-3.9-9 32.1 0zM436.9 459.9l2-.8 1-1.2-.1-1.5-.8-1-1.6-.8-2-.1-1.6.4-1.5 1-.5 1.5.9 1.5 1.7.8zM425 500.4l2.4-.7 1.6-1.3 0-1.5-1.6-1.4-2.5-.7-3 0-2.5.7-1.8 1.4 0 1.5 1.8 1.4 3 .7z"/><path fill-rule="evenodd" fill="#ff6400" d="M473.4 500.8l-.5-.1-.5-1.3 0-5.6 1.9-21.4 2.5-20 .9-20 1.1-8.5 3.3-15 4.6-15.5 6.7 0 0 35.3-3.3 20.7-3.4 15.5-2.6 9-8.2 22.5-1.5 3.2zM413.4 500.6l-2 .2-4-.6-8-2.5-6.5-3.4-5.5-4.5 0-33.5 3.5-1.5 10-1.3 2.5-1 1.7-1.1 2.3-2.9 3.5-6.6 5.1-8.5 1.2-3 2.2-8 1-2.1 1.5-2.2 3-2.3 4-1.6 4.5-.7 3.5.5 2.5 1.1 3 2.3 3 3.2 2.5 3.4 2 3.4 1.5 3.4 1.1 3.6.7 4 .3 5.5-.6 5.1-1 3.4-2.9 6-.6 2.5-.8 17-.7 5.7-.9 4.3-1.1 3.1-1.5 2.3-2.5 2.2-3 1.7-2 .6-1.5 0-4.1-2.4-1.9-.8-3.5-.6-3.5.1-3.3.8-2.5 1.5-1.1 1.5-.6 2.3zM439 460.4l1.8-1 .9-1.5-.1-1-.5-1-1.7-1.3-2.5-.7-2.5.2-2 .8-1.3 1.5-.2 1 .3 1 1.7 1.5 3 .9z"/><path fill-rule="evenodd" fill="#ff7300" d="M475.9 487.5l-.5 0-.4-.6-.4-2 .1-10 2.3-22 1.2-17 1-7 4-17 4.3-13.5 2.4-5 3.5 0 0 22.1-1.7 14.4-3 20-4 16.5-2.6 8.5-3.7 9.2-1.5 2.6zM415.4 493.9l-4.5.1-6.5-1.9-5.4-2.7-4.4-3.5-3.1-4-2-4.5-.7-5 .7-4.5 1.9-4 3-3.4 3-1.9 7-3.3 3-2.4 1.2-2 1.9-5.5 1.4-3 6.3-9 3.6-8 2.6-3.5 3-2.2 4-1.5 4-.5 4 .6 3 1.5 3 2.6 3 3.8 2 3.7 1.5 4.2.8 4.3.2 4.5-.5 4-.8 2.5-1.2 2.3-2 2.2-2 1.5-2 .4-5-2.1-4-.3-2.2.5-1.8.9-1 1.1-.4 1.5.1 1 .7 1 2.6 1.7 3.5.7 5.5-.1 1.5 1.2 1 3.1.5 4.9-.2 5-1 4.5-1.3 3.1-2.1 2.9-2.9 2.5-4 2.3-4 1.3-8.5.4z"/><path fill-rule="evenodd" fill="#ff8600" d="M476.9 482.1l-.5-.1-.4-.6-.4-1.5-.2-7.5 3.8-39 2.5-12 3.6-13 3.1-7.9 1.5-2.3 1-.6 1 .9.7 2.9.2 4.5-.1 6-1.2 13-3.3 24-4 16-2.1 7-2.7 6.8-1.5 2.5zM418.4 490.9l-5.5-.4-5-1.3-4.5-2-4-2.9-3-3.4-1.9-4-.7-4 .6-4 1.7-3.5 2.3-2.8 3-2.2 6.5-4 2-1.9.9-2.1.9-6 1.3-3.5 1.9-3 5.5-6.5 3.3-6.5 1.8-2.5 2.9-2.4 3.5-1.5 4-.6 4 .5 3 1.4 3 2.5 2.5 3.2 1.8 3.4 1.4 4 .6 4 .1 4-.7 3.5-.8 2-1.4 1.9-1.5 1.4-2 1.1-2.5.6-5.5-.7-3 .2-3 1-2.5 2-.4 1 0 1.5 1.3 2 2.6 1.5 5.6 2 1.3 1 .7 1 1 2.5.5 3-.1 3-.6 3-1.3 3-1.8 2.5-2.3 2.2-3 2-3 1.5-3.5 1.2-3.5.7z"/><path fill-rule="evenodd" fill="#ff9500" d="M477.9 478.1l-.5.2-.5-.2-.5-1.2-.3-7 2.4-28 1-7.5 2.6-12 3.3-11.6 3-7.1 1-1.2 1-.3 1 1.7.3 2.5 0 9.5-1 11-3 22-5.6 20.5-2.2 5.7zM419.9 487.9l-5-.1-4.5-1-4-1.6-3.5-2.4-2.8-2.9-1.7-3.5-.6-3.5.5-3.5 1.5-3 2.6-3 2.8-2 6-3.5 1.7-1.6.7-1.9-.6-7 1.1-4 1.9-3 5.9-6.4 3.4-6.1 1.4-2 2.7-2.3 3.5-1.5 4-.5 3.5.5 2.5 1.1 2.5 1.9 2.4 2.8 1.8 3 1.3 3.4.7 3.6.1 3.5-.5 3.5-1.8 3.3-1.5 1.5-2 1.3-3.5 1-6 .2-3 .5-2.8 1.2-2.4 2-.8 2 .7 2 2.3 2.1 4.7 2.9 2.1 2.5 1.1 4 0 2.5-.3 2-1 2.5-1.3 2-1.9 2-2.4 1.8-2.5 1.4-3 1.2z"/><path fill-rule="evenodd" fill="#ffa500" d="M478.4 475l-.5.2-.5-.3-.5-1.3-.3-5.7 2-23.5 1-7.5 2.1-10.5 2.9-11 2.8-7.2 1-1.6 1-.8.5.1.5.8.4 1.7.2 8-.8 10.5-2.7 21-.9 4-4.5 15.5-2.2 5.5zM422.4 484.9l-4 .4-4.5-.4-4-1.2-3.4-1.8-2.7-2.5-1.8-3-.7-3 .3-3 1.7-3.5 3.1-3 4-2.4 7.4-3.1 1-1-.2-1-2.7-4-1.1-2.5-.4-2.5.4-2.5.8-2 1.3-1.9 6.5-6.6 4.1-7 2.8-2.5 3.1-1.5 3.5-.5 3.5.5 2.5 1 2.5 1.8 2 2.3 1.8 2.9 1.2 3.2.6 3.3.1 3-.5 3-1.7 3.1-1.5 1.4-2 1.3-3.5 1.2-6.5.8-3.5.9-3.5 1.8-3.9 3-.4 1 .8 1.5 6.2 5 2.3 2.5 1.2 3 .3 3-.4 2-.8 2-1.3 1.9-1.5 1.6-3.8 2.5z"/><path fill-rule="evenodd" fill="#ffb700" d="M478.4 472.4l-.5-.2-.5-1.4-.2-5.9 1.5-19 1.1-8 1.9-9.5 2.7-10.3 2.5-6.7 1-1.7 1-.7.6.4.6 2 .2 7.5-.7 8.5-2.5 21-5.7 19-1.5 3.4zM425.4 454.4l-2 .2-2.5-.7-2-1.1-1.8-1.9-1-2-.3-2 .4-2.5 1-2 1.7-2 4.9-4.5 4.6-7.5 3-2.7 3-1.2 3.5-.3 3 .5 3 1.5 2 1.6 1.7 2.1 1.4 2.5 1 3 .5 3 0 2.5-.6 2.4-1 2-2 2.1-3.5 1.8-3 1-7.5 1.5zM421.4 482.4l-4.5.3-4-.7-3.5-1.7-2.8-2.4-1.6-3-.2-3 1.1-3.2 2.5-2.8 2.5-1.6 3-1.2 3-.7 3-.1 2.5.5 2.5 1 2.5 1.6 2.1 2 1.2 2 .7 2.5-.1 2.5-.7 2-1.4 2-2.3 1.9-2.5 1.3z"/><path fill-rule="evenodd" fill="#ffc700" d="M479.4 469.5l-.5.3-.5-.1-.3-.8-.4-4.5 1.1-16 .9-8 2-10.5 2.6-9.5 2.1-5.9 1-1.8 1-.8.6.5.6 2 .1 6.5-2.7 26.5-.8 3.5-4.3 13.4-1.5 3.7zM426.4 452.9l-2.5.1-2-.5-2-1-1.5-1.5-1-1.6-.3-2 .4-2 .7-1.5 1.7-2 5-4.5 4.4-7 2.6-2.5 3-1.3 3-.4 3 .5 3 1.5 2 1.7 1.5 1.9 2 4.6.4 2.5 0 2.5-.4 2-1 2-2 2-3.5 1.9zM419.4 479.9l-3.5-.2-3-.9-2.5-1.8-1.5-2.1-.4-2.5.8-2.5 1.7-2 2.4-1.5 4-1 4 .4 3.5 1.7 1.4 1.4.9 1.5.5 1.5 0 1.5-.4 1.5-.9 1.5-1.5 1.4-1.5.9z"/><path fill-rule="evenodd" fill="#ffda00" d="M479.9 466.9l-.5.4-.5 0-.2-.4-.5-4 .7-12.5.9-8.5 1.9-10 2.2-8.8 2-5.6 1-1.9 1-.9.5.2.5 1.5.2 6-2.5 25.5-.7 3-4 11.8zM428.9 451.4l-2.5.4-2 0-2-.6-2-1.1-1.4-1.7-.5-1.5 0-1.5.8-2 1.6-2 5-4.5 4.1-6.5 2.5-2.5 2.4-1.2 3-.4 3 .5 2.5 1.1 3.2 3 1.3 2.2.8 2.3.5 2.5 0 2-.5 2-.7 1.5-2.1 2.2-3 1.7zM418.9 475.9l-1.5 0-1.5-.4-1.1-.6-.8-1-.2-1 .1-1 1.5-1.8 1.5-.5 2-.1 2 .7 1.2 1.2.4 1.5-.6 1.4-1.3 1.1z"/><path fill-rule="evenodd" fill="#ffe900" d="M479.4 464.9l-.6-2-.1-4.5.7-11 .8-6.5 1.7-8.5 2-7.7 2-5.4 1.5-2 .5.2.5 1.6.1 5.3-2.1 23.5-.8 3-4.2 11.5-1 1.9-.5.5zM429.4 450.4l-2.5.4-2-.1-2-.6-1.5-1-1.1-1.2-.5-1.5.2-1.5.7-1.5 1.2-1.5 5-4.5 4.1-6.5 2.4-2.3 2.5-1 2.5-.3 2.5.4 2.5 1.2 3 3 1.7 3.5.4 4-.4 2-.8 1.5-1.8 2-2.6 1.5z"/><path fill-rule="evenodd" fill="#fff900" d="M479.9 462.5l-.6-1.6-.2-4 .5-9 .7-6 1.6-7.9 2-7.7 1.5-4.2 1.5-2.2.5.2.4 1.3.2 4.5-1.9 22-.8 3-3.9 9.8-1 1.6zM429.9 449.4l-4 .2-2-.5-1.3-.7-.8-1-.5-1.5.1-1 .8-1.5 5.8-5.5 3.7-6 2.2-2.3 2-.9 2.5-.4 2.5.4 2.5 1.3 2.7 2.9 1.5 3.5.1 3.5-1.3 3-1.5 1.5-2.5 1.3z"/><path fill-rule="evenodd" fill="#ffff13" d="M480.4 460.1l-.6-1.2-.2-3.5.2-7 .6-5.5 3-13.3 1.5-4.6 1.5-2.4.5.1.4 1.2.1 3.5-1.4 20-1.1 3.8-3.5 7.8zM429.4 448.4l-2.5.1-2.3-.6-1.4-1.5-.1-1.5 1.2-2 4.8-4.5 4-6.5 2.3-1.8 3-.7 3 .5 2.5 1.6 2 2.4 1.2 3.5-.2 3-1.4 2.5-1.6 1.4-2 .9z"/><path fill-rule="evenodd" fill="#ffff2a" d="M480.9 457.6l-.6-.7-.3-3.5.2-6 .5-4.5 3.2-13.4 1.5-3.6.5-.6.4.1.5 1.5.1 2.5-1.1 18-1.4 4.2-2.5 4.8zM430.4 446.9l-2 .2-1.6-.2-1.4-1-.1-1 .7-1.5 4.3-4.5 2.6-4.8 1.3-1.7 2.2-1.5 2.5-.5 2.5.6 2.5 1.6 1.7 2.3.9 3-.3 2.5-1.3 2.2-1.5 1.2-2 .9-6 .9z"/><path fill-rule="evenodd" fill="#ffff46" d="M481.9 454.9l-.5.4-.5-.2-.4-1.7-.2-4 .4-4.5.7-4.2 2-7.8 1-2.9 1-1.8.5.2.3 2.5-.6 16-1.2 4zM438.9 444.4l-4-.1-4.5.3-.9-.2-.2-.5 5.2-10 1.9-1.7 2.5-.6 2.5.5 2 1.3 1.9 2.5.6 2.5-.5 2.5-1.5 1.9-2 1.1z"/><path fill-rule="evenodd" fill="#ffff5e" d="M481.9 453.5l-.6-.1-.5-2 .1-6.5 2-8.4 1-3.1 1-1.9.5.6.1 1.3-.1 13.5-1 3.3-1.5 2.4zM441.4 443.5l-2 .2-2.5-.4-2.2-.9-.9-1 0-2.5 1-3 1.5-2 1.6-.9 2-.2 2 .6 1.8 1.5 1.2 2 .3 2-.5 2-1.3 1.6z"/><path fill-rule="evenodd" fill="#ffff75" d="M441.4 442.9l-1.5.2-2-.4-1.5-.8-1-1.5-.1-2 .6-2 1-1.4 1.5-.9 1.5-.2 2 .5 1.5 1.2 1 1.8.2 2-.5 1.5-1.2 1.3zM482.4 452.1l-.5.1-.3-.3-.4-1-.2-2.5.1-3 1.3-5.8 1-2.7 1-1.4.5 2.4.3 8.5-.8 3.1-1 1.7z"/><path fill-rule="evenodd" fill="#ffff91" d="M440.9 442.4l-1.5 0-1.4-.5-1-1-.5-1-.1-1.5.5-1.5 1-1.2 1.5-.7 1.5 0 1.5.7 1 1.2.6 1.5-.1 1.5-.5 1-1 .9zM482.9 450.9l-.5.2-.5-.3-.4-.9-.2-4 1.1-4.9 1-2.1.5-.4.5.8.5 2.6.1 4-.6 2.9z"/><path fill-rule="evenodd" fill="#ffffa8" d="M441.9 441.4l-1 .4-1.5-.1-1.6-1.3-.4-2 .5-1.2 1-.9 2-.4 1 .4 1 1.1.5 1.5-.2 1zM482.9 450l-.5 0-.5-.6-.3-3 .8-4 1-1.9.5 0 .5 1.2.4 3.7-.4 2.5-.5 1.1z"/><path fill-rule="evenodd" fill="#ffffc4" d="M441.4 440.9l-1.5.1-1.3-1.1-.1-1.5.9-1.2 1.5-.3.9.5.6.7.1 1.8zM482.9 449.1l-.7-.7-.2-2.5.4-2.3 1-1.7.5.3.4 1.2.2 2.5-.6 2.2z"/><path fill-rule="evenodd" fill="#ffffdc" d="M440.9 439.9l-.7 0-.5-.5.2-.9.5-.3.7.2.4.5-.1.6zM482.9 447.9l-.5-2 .5-2 .5-.5.5.6.1 1.9-.4 1.5z"/></g><path d="M493.4 506.9l-106 0 0-113.5 106 0zM467.5 452.9l.9-.5.5-.5 1.1-2.5.2-3.5-.6-3.5-1.3-3.5-1.9-3-2-1.8-1-.4-1 .1-.7.6-.6 1-.5 2.5.1 3.5.7 3.9 1.1 3.1 1.5 2.5 1.9 1.7z" fill="none" stroke="#1c1c1c" stroke-width="1.05" stroke-dasharray="1.4 1"/><path d="M493.4 506.9l-106 0 0-113.5 106 0zM468.7 458.4l1.2-.8 1-1.3.9-1.9.6-2.5.2-5-1-5.5-2.1-5.5-3.1-4.8-2-2.2-1.5-1.2-1.5-.7-1.5-.1-1 1-.5 1.2-.5 4.8.5 7.5 1.3 6.5 1.9 5 2.3 3.7 1 1 1.5.9 1 .1z" fill="none" stroke="#1c1c1c" stroke-width="1.05" stroke-dasharray="1.4 1"/><path d="M493.4 506.9l-106 0 0-113.5 106 0zM461.8 485.9l1.7-1.5 1.8-3 3.5-10 4.1-9.3 1.2-4.2.7-4.5.3-4.5-.2-4-.4-3-.9-3.5-1.5-4-2-4-12.2-20.4-2.5-3-1-.7-1-.2-1 .3-.5.6-.6 1.4-.4 3 .1 4 .7 4.5 3.1 12.5 1.9 14.5 1.9 10 .4 3.5-.4 3.5-1.7 5.5-.8 3.5-.3 3 .1 3 .8 3.5 1.2 2.3 1 1 1 .4 1 .1zM402.9 438.4l1-.5 1.2-1 1.8-2.9 1-3.6.2-4-.7-4.3-1.5-3.2-1-1.3-1-.7-1-.4-1-.1-1.5.4-1 .7-1 1.2-1 1.7-1.1 3.5-.3 4.5.7 4.5.7 2 .9 1.5 1.1 1.2 1 .6 1 .3z" fill="none" stroke="#1c1c1c" stroke-width="1.05" stroke-dasharray="1.4 1"/><path d="M475.9 488.1l-.5 0-.5-.7-.4-2-.1-4 .2-5.5.6-7.5 1.8-15.5 1.2-17 1-7 1.5-7.5 2.5-10 2.4-8 1.9-5.5 2.1-4.5 3.8 0 0 23-1.7 14-3 20-4.1 16.5-2.4 8-2 5.5-1.8 4-1.5 2.7zM413.4 494.4l-2.5-.1-2.5-.5-6-2.1-5-2.9-4-3.6-1.8-2.3-1.2-2-.9-2-.8-2.5-.3-4.5.3-2.5.5-2 .9-2 1.1-2 2.8-3 3.2-2 7.2-3.4 1.7-1.1 1.3-1.4 1.3-2.1 1.7-5 1.4-3 1.9-3 4.4-6 1-2 2.4-6 1.3-2 1.3-1.5 1.3-1.2 2-1.3 4-1.5 4-.4 2 .1 2 .5 3 1.5 3 2.6 3 3.9 2 3.6 1.5 4.2.8 4.5.2 4.5-.5 4.3-.9 2.7-1.1 2-2 2.3-2 1.5-1 .4-1 0-5-2.3-2-.4-2 0-2.1.5-1.8 1-1 1-.5 1.5.2 1 .7 1 1 .8 1.5.8 3.5.7 5.5-.4 1 .4.7.7.6 1.5.5 2 .5 5.5-.4 5.5-1.1 4.5-1.7 3.5-2.1 2.4-3 2.4-4 2.1-3.5 1-8.5.2z" fill="none" stroke="#1c1c1c" stroke-width="1.05" stroke-dasharray="1.4 1"/><path d="M479.4 465.5l-.5-.7-.2-.9-.1-5 .7-11.5.9-7 2-9.5 2.2-8.1 2-4.9 1-1.2.5.1.5 1 .2 1.6.1 5-2.3 23.5-.7 3-4.3 11.9-1 1.9-.5.6zM427.9 450.9l-2 .1-2-.3-2-.8-1.3-1-.9-1.5-.2-1.5.3-1.5.9-1.5 5.9-5.5 1.3-1.8 3-5 1.1-1.2 1.4-1.1 2.5-1 3-.2 2.5.6 2.5 1.3 1.5 1.4 1.2 1.5 1.1 2 .7 2 .3 2-.1 2-.5 2-.9 1.5-1.8 1.8-3 1.6-10.1 3.1z" fill="none" stroke="#1c1c1c" stroke-width="1.05"/><path d="M441.4 442.5l-2 .1-1.5-.5-1.1-.7-.8-1.5 0-1.5.4-1.5 1-1.4 1.5-.8 1.5-.2 1.5.5 1.1.9 1 1.5.3 1.5-.3 1.5-1.1 1.3zM482.4 451.5l-.5-.1-.5-1-.2-2.5.1-2.5 1.1-5 1-2.3.5-.6.5.5.5 2.9.3 3-.1 2.5-.4 2-.7 1.5-.6.8z" fill="none" stroke="#1c1c1c" stroke-width="1.05"/></g><path d="M443.4 396.2h.01M424.9 399.2h.01M434.7 403.3h.01M462.5 402.7h.01M411.3 409.3h.01M421.1 410.4h.01M434.7 411.4h.01M449.4 413.6h.01M422.7 418.5h.01M440.7 421.8h.01M410.7 420.7h.01M461.4 420.2h.01M429.8 427.8h.01M452.2 428.7h.01M440.7 433.3h.01M425.4 437.6h.01M412.4 439.8h.01M435.2 443.4h.01M444.4 444.5h.01M474.2 415.4h.01M397 453h.01M404.3 457.8h.01M413.8 461.1h.01M425 454.4h.01M435.8 455.5h.01M441.9 453.6h.01M392 463.1h.01M400.4 467.2h.01M408.6 469.5h.01M420.1 470.4h.01M428.2 462h.01M435.5 467h.01M444.1 465h.01M390.6 474.6h.01M399.6 477.3h.01M408.4 479.3h.01M417.1 478.4h.01M429.7 476h.01M440.2 477.3h.01M401.7 488.2h.01M410.6 489h.01M420.5 487.9h.01M428.5 483.8h.01M440.2 484.9h.01M434.6 491.2h.01M426 496.2h.01M416.2 498.5h.01M442.5 498h.01M434 502.9h.01M453.7 451.1h.01M467.1 447.2h.01M479.9 448.5h.01M450.4 459.5h.01M463.9 457.8h.01M473.8 454.1h.01M485.5 456.2h.01M477.7 461.6h.01M458.7 467h.01M470.2 465h.01M481 471.2h.01M451.4 475.1h.01M462.6 475.1h.01M471.4 474h.01M453.2 482.3h.01M461.7 484h.01M470.2 483.4h.01M479.9 481.8h.01M449.3 490.1h.01M458.3 492.4h.01M467.6 492.9h.01M452.5 500.2h.01M451.4 405.5h.01M473.2 426.7h.01M479.9 432.8h.01M485.5 440h.01M474.9 441.1h.01M490.3 430h.01M455.4 440.6h.01M400.8 413h.01M401.9 424.2h.01M392.9 429.2h.01M405.3 433.2h.01M396.9 438.8h.01M389.6 446h.01M402.5 445.4h.01M423.7 446h.01M412 451h.01M433.7 399.7h.01" stroke="#000" stroke-width="1.7" stroke-linecap="round" stroke-opacity=".55" fill="none"/><ellipse cx="438.1" cy="452.7" rx="60.3" ry="60" fill="none" stroke="#2a2a2a" stroke-width="1.25"/><linearGradient id="cg8" x1="0" y1="400.2" x2="0" y2="505.5" gradientUnits="userSpaceOnUse"><stop offset="0%" stop-color="#ffffff"/><stop offset="5%" stop-color="#ffffd0"/><stop offset="10%" stop-color="#ffff9d"/><stop offset="15%" stop-color="#ffff69"/><stop offset="20%" stop-color="#ffff36"/><stop offset="25%" stop-color="#ffff07"/><stop offset="30%" stop-color="#ffe100"/><stop offset="35%" stop-color="#ffbf00"/><stop offset="40%" stop-color="#ff9d00"/><stop offset="45%" stop-color="#ff7b00"/><stop offset="50%" stop-color="#ff5c00"/><stop offset="55%" stop-color="#ff3a00"/><stop offset="60%" stop-color="#ff1700"/><stop offset="65%" stop-color="#f40000"/><stop offset="70%" stop-color="#d20000"/><stop offset="75%" stop-color="#b30000"/><stop offset="80%" stop-color="#900000"/><stop offset="85%" stop-color="#6e0000"/><stop offset="90%" stop-color="#4c0000"/><stop offset="95%" stop-color="#2a0000"/><stop offset="100%" stop-color="#0b0000"/></linearGradient><path d="M512.4 400.2L515.1 394.2L517.9 400.2L517.9 505.5L515.1 511.5L512.4 505.5Z" fill="url(#cg8)" stroke="#bbb" stroke-width="0.5"/><path d="M517.9 432.3h1.6" stroke="#666" stroke-width="0.6"/><text x="520.6" y="436" class="tk">0</text><path d="M517.9 468.4h1.6" stroke="#666" stroke-width="0.6"/><text x="520.6" y="472.1" class="tk"><tspan class="mn">−</tspan><tspan dx="0.8">200</tspan></text><path d="M517.9 504h1.6" stroke="#666" stroke-width="0.6"/><text x="520.6" y="507.7" class="tk"><tspan class="mn">−</tspan><tspan dx="0.8">400</tspan></text><text x="501.6" y="391" class="bl"><tspan font-style="italic">B</tspan><tspan class="br">[</tspan>fT<tspan class="br">]</tspan></text><text x="437.7" y="383.5" class="ti" text-anchor="middle">OPM − TAN − LON</text>
<text x="275.5" y="166.8" class="cap" text-anchor="middle">(a)</text><text x="275.5" y="354" class="cap" text-anchor="middle">(b)</text><text x="275.5" y="540.8" class="cap" text-anchor="middle">(c)</text>
</svg>
</body></html>
